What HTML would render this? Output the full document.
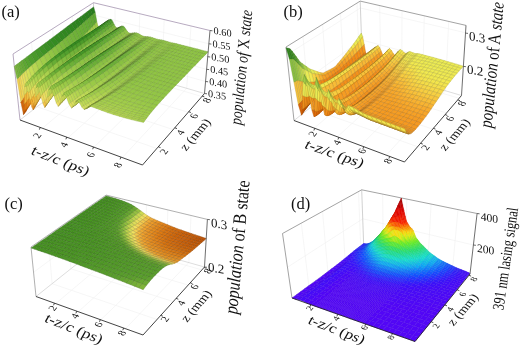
<!DOCTYPE html><html><head><meta charset="utf-8"><title>figure</title><style>html,body{margin:0;padding:0;background:#fff}svg{display:block}g.s path{fill:currentColor;stroke:currentColor;stroke:color-mix(in srgb,currentColor 80%,#000);stroke-width:4;stroke-linejoin:round}g.sd path{stroke:color-mix(in srgb,currentColor 93%,#000)}g.sc path{stroke:color-mix(in srgb,currentColor 72%,#000)}g.sb path{stroke:color-mix(in srgb,currentColor 76%,#000)}text{font-family:"Liberation Serif",serif;fill:#111}</style></head><body><svg width="520" height="345" viewBox="0 0 520 345"><rect width="520" height="345" fill="#fff"/><path d="M42.4 128.2L115.3 67.5" stroke="#f0f0f0" stroke-width="0.6" fill="none"/><path d="M115.3 67.5L115 7.8" stroke="#f0f0f0" stroke-width="0.6" fill="none"/><path d="M68.2 137.7L138.5 74.3" stroke="#f0f0f0" stroke-width="0.6" fill="none"/><path d="M138.5 74.3L139.7 13.7" stroke="#f0f0f0" stroke-width="0.6" fill="none"/><path d="M94 147.2L161.6 81" stroke="#f0f0f0" stroke-width="0.6" fill="none"/><path d="M161.6 81L164.2 19.6" stroke="#f0f0f0" stroke-width="0.6" fill="none"/><path d="M122.3 157.6L186.7 88.3" stroke="#f0f0f0" stroke-width="0.6" fill="none"/><path d="M186.7 88.3L191 26" stroke="#f0f0f0" stroke-width="0.6" fill="none"/><path d="M37 106.7L156.8 148.5" stroke="#f0f0f0" stroke-width="0.6" fill="none"/><path d="M37 106.7L31.5 42.2" stroke="#f0f0f0" stroke-width="0.6" fill="none"/><path d="M56.8 91.4L173.2 129.6" stroke="#f0f0f0" stroke-width="0.6" fill="none"/><path d="M56.8 91.4L52.7 28.7" stroke="#f0f0f0" stroke-width="0.6" fill="none"/><path d="M74.9 77.2L188.2 112.3" stroke="#f0f0f0" stroke-width="0.6" fill="none"/><path d="M74.9 77.2L72.2 16.3" stroke="#f0f0f0" stroke-width="0.6" fill="none"/><path d="M91.7 64.1L201.9 96.5" stroke="#f0f0f0" stroke-width="0.6" fill="none"/><path d="M91.7 64.1L90.1 4.9" stroke="#f0f0f0" stroke-width="0.6" fill="none"/><path d="M18.7 107.5L94.7 50.4" stroke="#f0f0f0" stroke-width="0.6" fill="none"/><path d="M94.7 50.4L205.6 81.5" stroke="#f0f0f0" stroke-width="0.6" fill="none"/><path d="M17.3 94.7L94.4 38.9" stroke="#f0f0f0" stroke-width="0.6" fill="none"/><path d="M94.4 38.9L206.6 69.3" stroke="#f0f0f0" stroke-width="0.6" fill="none"/><path d="M15.9 81.5L94.1 27.1" stroke="#f0f0f0" stroke-width="0.6" fill="none"/><path d="M94.1 27.1L207.7 56.7" stroke="#f0f0f0" stroke-width="0.6" fill="none"/><path d="M14.5 67.9L93.8 15" stroke="#f0f0f0" stroke-width="0.6" fill="none"/><path d="M93.8 15L208.9 43.8" stroke="#f0f0f0" stroke-width="0.6" fill="none"/><path d="M20 120L94.9 61.6" stroke="#cfcfcf" stroke-width="0.7" fill="none"/><path d="M94.9 61.6L204.5 93.5" stroke="#cfcfcf" stroke-width="0.7" fill="none"/><path d="M94.9 61.6L93.5 2.7" stroke="#bdbdbd" stroke-width="0.7" fill="none"/><path d="M13 54L93.5 2.7" stroke="#a494b0" stroke-width="0.8" fill="none"/><path d="M93.5 2.7L210 30.5" stroke="#a494b0" stroke-width="0.8" fill="none"/><path d="M20 120L13 54" stroke="#a494b0" stroke-width="0.8" fill="none"/><g class="s sa" transform="scale(.1)"><path d="M905 92l20 56l27-24l-16-55z" color="#287d1d"/><path d="M925 148l21 98l23-25l-17-97z" color="#5fa833"/><path d="M946 246l19 54l19-25l-15-54z" color="#a1cd4a"/><path d="M965 300l23-6l21-24l-25 5z" color="#97b944"/><path d="M988 294l23-23l23-23l-25 22z" color="#617d2d"/><path d="M1011 271l22-29l26-21l-25 27z" color="#59822b"/><path d="M1033 242l23-23l28-20l-25 22z" color="#3b6e20"/><path d="M1056 219l24-7l30-19l-26 6z" color="#36771f"/><path d="M1080 212l11 11l30-20l-11-10z" color="#409326"/><path d="M1091 223l11 22l30-21l-11-21z" color="#4e9d2c"/><path d="M1102 245l11 25l30-22l-11-24z" color="#63aa34"/><path d="M1113 270l12 22l29-24l-11-20z" color="#7ab83c"/><path d="M1125 292l11 11l29-25l-11-10z" color="#89c041"/><path d="M1136 303l16-2l30-24l-17 1z" color="#7bad3b"/><path d="M1152 301l16-11l30-20l-16 7z" color="#57812b"/><path d="M1168 290l17-10l29-18l-16 8z" color="#477224"/><path d="M1185 280l16-2l30-17l-17 1z" color="#528e2b"/><path d="M1201 278l16 13l29-18l-15-12z" color="#64ab34"/><path d="M1217 291l15 24l29-19l-15-23z" color="#77b63b"/><path d="M1232 315l16 25l29-22l-16-22z" color="#90c444"/><path d="M1248 340l15 13l29-22l-15-13z" color="#98c847"/><path d="M1263 353l19 0l28-21l-18-1z" color="#90bc43"/><path d="M1282 353l18-4l29-19l-19 2z" color="#7ea73b"/><path d="M1300 349l18-4l29-17l-18 2z" color="#76a037"/><path d="M1318 345l19 1l28-17l-18-1z" color="#7aab3a"/><path d="M1337 346l17 8l29-18l-18-7z" color="#89c041"/><path d="M1354 354l18 11l29-19l-18-10z" color="#8fc344"/><path d="M1372 365l18 12l28-21l-17-10z" color="#93c645"/><path d="M1390 377l18 8l28-22l-18-7z" color="#96c746"/><path d="M1408 385l22 2l28-21l-22-3z" color="#8fbe43"/><path d="M1430 387l23-1l28-19l-23-1z" color="#85b23e"/><path d="M1453 386l22 2l28-18l-22-3z" color="#85b63f"/><path d="M1475 388l24 9l28-20l-24-7z" color="#8ec243"/><path d="M1499 397l24 12l28-23l-24-9z" color="#91c544"/><path d="M1523 409l24 9l27-25l-23-7z" color="#93c645"/><path d="M1547 418l21 3l28-24l-22-4z" color="#91c344"/><path d="M1568 421l21 2l28-23l-21-3z" color="#8cbd42"/><path d="M1589 423l22 3l27-22l-21-4z" color="#8bbe42"/><path d="M1611 426l21 7l28-22l-22-7z" color="#8fc444"/><path d="M1632 433l22 8l27-24l-21-6z" color="#91c444"/><path d="M1654 441l22 7l27-24l-22-7z" color="#92c545"/><path d="M1676 448l22 5l27-24l-22-5z" color="#91c444"/><path d="M1698 453l22 4l27-24l-22-4z" color="#8ec143"/><path d="M1720 457l22 4l27-23l-22-5z" color="#8ec143"/><path d="M1742 461l35 9l26-23l-34-9z" color="#8fc343"/><path d="M1777 470l34 10l26-24l-34-9z" color="#8fc344"/><path d="M1811 480l35 9l26-25l-35-8z" color="#8fc344"/><path d="M1846 489l34 9l26-25l-34-9z" color="#8fc444"/><path d="M1880 498l35 9l26-25l-35-9z" color="#8fc444"/><path d="M1915 507l35 9l26-25l-35-9z" color="#8fc444"/><path d="M1950 516l36 9l25-25l-35-9z" color="#8fc444"/><path d="M1986 525l35 9l25-25l-35-9z" color="#8fc444"/><path d="M2021 534l36 10l25-26l-36-9z" color="#8fc444"/><path d="M874 116l24 56l27-24l-20-56z" color="#297e1d"/><path d="M898 172l24 98l24-24l-21-98z" color="#61a933"/><path d="M922 270l24 55l19-25l-19-54z" color="#a2cd4a"/><path d="M946 325l20-7l22-24l-23 6z" color="#94b643"/><path d="M966 318l21-24l24-23l-23 23z" color="#5d782b"/><path d="M987 294l20-31l26-21l-22 29z" color="#608c2f"/><path d="M1007 263l21-24l28-20l-23 23z" color="#407823"/><path d="M1028 239l21-8l31-19l-24 7z" color="#32721e"/><path d="M1049 231l11 12l31-20l-11-11z" color="#3e9225"/><path d="M1060 243l12 23l30-21l-11-22z" color="#4d9c2b"/><path d="M1072 266l11 27l30-23l-11-25z" color="#64ab34"/><path d="M1083 293l12 23l30-24l-12-22z" color="#7db93d"/><path d="M1095 316l11 12l30-25l-11-11z" color="#8cc243"/><path d="M1106 328l16-4l30-23l-16 2z" color="#7ba93a"/><path d="M1122 324l16-12l30-22l-16 11z" color="#4c6f25"/><path d="M1138 312l17-13l30-19l-17 10z" color="#416921"/><path d="M1155 299l16-4l30-17l-16 2z" color="#4b8728"/><path d="M1171 295l16 14l30-18l-16-13z" color="#60a833"/><path d="M1187 309l16 26l29-20l-15-24z" color="#73b43a"/><path d="M1203 335l15 26l30-21l-16-25z" color="#8ec343"/><path d="M1218 361l16 14l29-22l-15-13z" color="#98c847"/><path d="M1234 375l18 0l30-22l-19 0z" color="#8db841"/><path d="M1252 375l19-6l29-20l-18 4z" color="#769d37"/><path d="M1271 369l18-7l29-17l-18 4z" color="#6b9433"/><path d="M1289 362l18 0l30-16l-19-1z" color="#71a337"/><path d="M1307 362l18 9l29-17l-17-8z" color="#81bc3f"/><path d="M1325 371l18 14l29-20l-18-11z" color="#8ac142"/><path d="M1343 385l18 14l29-22l-18-12z" color="#92c545"/><path d="M1361 399l18 9l29-23l-18-8z" color="#96c746"/><path d="M1379 408l22 1l29-22l-22-2z" color="#8dbb42"/><path d="M1401 409l23-3l29-20l-23 1z" color="#7fab3c"/><path d="M1424 406l23 1l28-19l-22-2z" color="#7fb03c"/><path d="M1447 407l24 10l28-20l-24-9z" color="#8ac142"/><path d="M1471 417l23 15l29-23l-24-12z" color="#91c444"/><path d="M1494 432l24 10l29-24l-24-9z" color="#94c645"/><path d="M1518 442l22 3l28-24l-21-3z" color="#90c144"/><path d="M1540 445l21 0l28-22l-21-2z" color="#89b940"/><path d="M1561 445l22 3l28-22l-22-3z" color="#89bb41"/><path d="M1583 448l22 8l27-23l-21-7z" color="#8ec343"/><path d="M1605 456l21 9l28-24l-22-8z" color="#90c444"/><path d="M1626 465l22 8l28-25l-22-7z" color="#92c545"/><path d="M1648 473l23 5l27-25l-22-5z" color="#91c344"/><path d="M1671 478l22 3l27-24l-22-4z" color="#8dc043"/><path d="M1693 481l22 4l27-24l-22-4z" color="#8dc043"/><path d="M1715 485l35 9l27-24l-35-9z" color="#8ec343"/><path d="M1750 494l34 10l27-24l-34-10z" color="#8fc344"/><path d="M1784 504l35 9l27-24l-35-9z" color="#8fc344"/><path d="M1819 513l35 10l26-25l-34-9z" color="#8fc444"/><path d="M1854 523l35 9l26-25l-35-9z" color="#8fc444"/><path d="M1889 532l36 9l25-25l-35-9z" color="#8fc444"/><path d="M1925 541l35 9l26-25l-36-9z" color="#8fc444"/><path d="M1960 550l36 10l25-26l-35-9z" color="#8fc444"/><path d="M1996 560l36 9l25-25l-36-10z" color="#8fc444"/><path d="M842 139l28 57l28-24l-24-56z" color="#2a7f1d"/><path d="M870 196l29 99l23-25l-24-98z" color="#63aa34"/><path d="M899 295l27 56l20-26l-24-55z" color="#a2cd4a"/><path d="M926 351l19-8l21-25l-20 7z" color="#91b241"/><path d="M945 343l18-26l24-23l-21 24z" color="#6a8931"/><path d="M963 317l18-32l26-22l-20 31z" color="#679732"/><path d="M981 285l18-26l29-20l-21 24z" color="#448126"/><path d="M999 259l19-8l31-20l-21 8z" color="#2e6c1c"/><path d="M1018 251l11 12l31-20l-11-12z" color="#3d9125"/><path d="M1029 263l12 24l31-21l-12-23z" color="#4c9c2b"/><path d="M1041 287l11 29l31-23l-11-27z" color="#65ab35"/><path d="M1052 316l12 25l31-25l-12-23z" color="#7fbb3e"/><path d="M1064 341l11 12l31-25l-11-12z" color="#90c444"/><path d="M1075 353l16-5l31-24l-16 4z" color="#7aa639"/><path d="M1091 348l17-15l30-21l-16 12z" color="#537928"/><path d="M1108 333l16-15l31-19l-17 13z" color="#4a7926"/><path d="M1124 318l17-5l30-18l-16 4z" color="#458026"/><path d="M1141 313l15 15l31-19l-16-14z" color="#5ba631"/><path d="M1156 328l16 28l31-21l-16-26z" color="#70b239"/><path d="M1172 356l16 27l30-22l-15-26z" color="#8dc243"/><path d="M1188 383l16 15l30-23l-16-14z" color="#98c847"/><path d="M1204 398l18-1l30-22l-18 0z" color="#8ab540"/><path d="M1222 397l19-8l30-20l-19 6z" color="#6d9233"/><path d="M1241 389l18-9l30-18l-18 7z" color="#60872e"/><path d="M1259 380l19-1l29-17l-18 0z" color="#689c33"/><path d="M1278 379l18 10l29-18l-18-9z" color="#7ab83c"/><path d="M1296 389l18 16l29-20l-18-14z" color="#85be40"/><path d="M1314 405l17 17l30-23l-18-14z" color="#91c544"/><path d="M1331 422l18 10l30-24l-18-9z" color="#96c746"/><path d="M1349 432l23 0l29-23l-22-1z" color="#8ab740"/><path d="M1372 432l23-6l29-20l-23 3z" color="#78a339"/><path d="M1395 426l23 0l29-19l-23-1z" color="#78aa3a"/><path d="M1418 426l24 12l29-21l-24-10z" color="#86be40"/><path d="M1442 438l24 17l28-23l-23-15z" color="#90c444"/><path d="M1466 455l24 12l28-25l-24-10z" color="#94c645"/><path d="M1490 467l21 3l29-25l-22-3z" color="#8fbf43"/><path d="M1511 470l22-2l28-23l-21 0z" color="#86b53f"/><path d="M1533 468l21 3l29-23l-22-3z" color="#86b840"/><path d="M1554 471l22 8l29-23l-22-8z" color="#8cc243"/><path d="M1576 479l22 11l28-25l-21-9z" color="#90c444"/><path d="M1598 490l22 9l28-26l-22-8z" color="#93c545"/><path d="M1620 499l23 4l28-25l-23-5z" color="#91c344"/><path d="M1643 503l22 2l28-24l-22-3z" color="#8cbe42"/><path d="M1665 505l23 4l27-24l-22-4z" color="#8cbf42"/><path d="M1688 509l34 10l28-25l-35-9z" color="#8ec243"/><path d="M1722 519l35 10l27-25l-34-10z" color="#8ec343"/><path d="M1757 529l35 10l27-26l-35-9z" color="#8fc344"/><path d="M1792 539l35 9l27-25l-35-10z" color="#8fc444"/><path d="M1827 548l36 9l26-25l-35-9z" color="#8fc444"/><path d="M1863 557l36 10l26-26l-36-9z" color="#8fc444"/><path d="M1899 567l35 9l26-26l-35-9z" color="#8fc444"/><path d="M1934 576l37 10l25-26l-36-10z" color="#8fc444"/><path d="M1971 586l36 9l25-26l-36-9z" color="#8fc444"/><path d="M810 164l32 57l28-25l-28-57z" color="#2b801e"/><path d="M842 221l32 99l25-25l-29-99z" color="#65ac35"/><path d="M874 320l32 57l20-26l-27-56z" color="#a3ce4a"/><path d="M906 377l16-9l23-25l-19 8z" color="#8cab3f"/><path d="M922 368l16-27l25-24l-18 26z" color="#769836"/><path d="M938 341l16-34l27-22l-18 32z" color="#6fa336"/><path d="M954 307l16-27l29-21l-18 26z" color="#498b28"/><path d="M970 280l16-9l32-20l-19 8z" color="#2a6319"/><path d="M986 271l12 12l31-20l-11-12z" color="#3b9024"/><path d="M998 283l11 26l32-22l-12-24z" color="#4c9b2b"/><path d="M1009 309l12 31l31-24l-11-29z" color="#65ac35"/><path d="M1021 340l12 26l31-25l-12-25z" color="#82bc3f"/><path d="M1033 366l11 12l31-25l-11-12z" color="#92c545"/><path d="M1044 378l16-5l31-25l-16 5z" color="#77a138"/><path d="M1060 373l17-18l31-22l-17 15z" color="#5e872d"/><path d="M1077 355l16-18l31-19l-16 15z" color="#4f8329"/><path d="M1093 337l17-6l31-18l-17 5z" color="#407923"/><path d="M1110 331l15 16l31-19l-15-15z" color="#57a330"/><path d="M1125 347l16 29l31-20l-16-28z" color="#6db038"/><path d="M1141 376l16 30l31-23l-16-27z" color="#8bc142"/><path d="M1157 406l16 16l31-24l-16-15z" color="#98c847"/><path d="M1173 422l19-3l30-22l-18 1z" color="#87b13f"/><path d="M1192 419l18-10l31-20l-19 8z" color="#64862f"/><path d="M1210 409l19-11l30-18l-18 9z" color="#547a29"/><path d="M1229 398l18-2l31-17l-19 1z" color="#609530"/><path d="M1247 396l18 11l31-18l-18-10z" color="#73b43a"/><path d="M1265 407l18 19l31-21l-18-16z" color="#80bb3e"/><path d="M1283 426l18 18l30-22l-17-17z" color="#90c444"/><path d="M1301 444l19 12l29-24l-18-10z" color="#96c746"/><path d="M1320 456l22-2l30-22l-23 0z" color="#87b43f"/><path d="M1342 454l23-7l30-21l-23 6z" color="#729b36"/><path d="M1365 447l23-2l30-19l-23 0z" color="#72a537"/><path d="M1388 445l24 14l30-21l-24-12z" color="#82bc3f"/><path d="M1412 459l24 20l30-24l-24-17z" color="#8ec343"/><path d="M1436 479l24 14l30-26l-24-12z" color="#95c646"/><path d="M1460 493l22 1l29-24l-21-3z" color="#8fbe43"/><path d="M1482 494l22-2l29-24l-22 2z" color="#83b13e"/><path d="M1504 492l21 1l29-22l-21-3z" color="#83b63e"/><path d="M1525 493l22 10l29-24l-22-8z" color="#8bc142"/><path d="M1547 503l22 12l29-25l-22-11z" color="#90c444"/><path d="M1569 515l23 9l28-25l-22-9z" color="#93c645"/><path d="M1592 524l22 4l29-25l-23-4z" color="#91c244"/><path d="M1614 528l23 2l28-25l-22-2z" color="#8bbd42"/><path d="M1637 530l22 4l29-25l-23-4z" color="#8bbe42"/><path d="M1659 534l35 9l28-24l-34-10z" color="#8dc243"/><path d="M1694 543l35 11l28-25l-35-10z" color="#8ec343"/><path d="M1729 554l36 10l27-25l-35-10z" color="#8fc344"/><path d="M1765 564l35 10l27-26l-35-9z" color="#8fc444"/><path d="M1800 574l36 9l27-26l-36-9z" color="#8fc444"/><path d="M1836 583l36 10l27-26l-36-10z" color="#8fc444"/><path d="M1872 593l36 9l26-26l-35-9z" color="#8fc444"/><path d="M1908 602l37 10l26-26l-37-10z" color="#8fc444"/><path d="M1945 612l36 10l26-27l-36-9z" color="#8fc444"/><path d="M777 188l36 58l29-25l-32-57z" color="#2c811e"/><path d="M813 246l36 100l25-26l-32-99z" color="#68ad36"/><path d="M849 346l36 58l21-27l-32-57z" color="#a4ce4b"/><path d="M885 404l14-10l23-26l-16 9z" color="#86a33c"/><path d="M899 394l13-28l26-25l-16 27z" color="#82a73c"/><path d="M912 366l14-36l28-23l-16 34z" color="#77b03a"/><path d="M926 330l14-29l30-21l-16 27z" color="#4e962b"/><path d="M940 301l14-10l32-20l-16 9z" color="#245716"/><path d="M954 291l12 13l32-21l-12-12z" color="#3a8e23"/><path d="M966 304l11 28l32-23l-11-26z" color="#4b9b2b"/><path d="M977 332l12 32l32-24l-12-31z" color="#66ac35"/><path d="M989 364l12 27l32-25l-12-26z" color="#85be40"/><path d="M1001 391l11 13l32-26l-11-12z" color="#94c645"/><path d="M1012 404l17-6l31-25l-16 5z" color="#749c37"/><path d="M1029 398l16-21l32-22l-17 18z" color="#669331"/><path d="M1045 377l16-20l32-20l-16 18z" color="#538c2b"/><path d="M1061 357l17-7l32-19l-17 6z" color="#3b7221"/><path d="M1078 350l16 16l31-19l-15-16z" color="#54a12e"/><path d="M1094 366l16 32l31-22l-16-29z" color="#6baf37"/><path d="M1110 398l16 31l31-23l-16-30z" color="#8ac142"/><path d="M1126 429l16 16l31-23l-16-16z" color="#98c847"/><path d="M1142 445l19-3l31-23l-19 3z" color="#84ad3d"/><path d="M1161 442l18-13l31-20l-18 10z" color="#5a792a"/><path d="M1179 429l19-12l31-19l-19 11z" color="#486923"/><path d="M1198 417l18-3l31-18l-18 2z" color="#598f2d"/><path d="M1216 414l19 12l30-19l-18-11z" color="#6eb038"/><path d="M1235 426l18 21l30-21l-18-19z" color="#7cb93d"/><path d="M1253 447l18 21l30-24l-18-18z" color="#8ec343"/><path d="M1271 468l18 12l31-24l-19-12z" color="#95c746"/><path d="M1289 480l23-3l30-23l-22 2z" color="#84b03e"/><path d="M1312 477l23-9l30-21l-23 7z" color="#6b9333"/><path d="M1335 468l23-3l30-20l-23 2z" color="#6c9f35"/><path d="M1358 465l24 15l30-21l-24-14z" color="#7db93d"/><path d="M1382 480l24 23l30-24l-24-20z" color="#8dc243"/><path d="M1406 503l25 16l29-26l-24-14z" color="#95c746"/><path d="M1431 519l21 0l30-25l-22-1z" color="#8ebc42"/><path d="M1452 519l22-3l30-24l-22 2z" color="#80ad3c"/><path d="M1474 516l22 1l29-24l-21-1z" color="#80b33d"/><path d="M1496 517l22 10l29-24l-22-10z" color="#89c042"/><path d="M1518 527l22 13l29-25l-22-12z" color="#90c444"/><path d="M1540 540l22 10l30-26l-23-9z" color="#94c645"/><path d="M1562 550l23 4l29-26l-22-4z" color="#91c244"/><path d="M1585 554l23 1l29-25l-23-2z" color="#8abb41"/><path d="M1608 555l22 4l29-25l-22-4z" color="#8abd41"/><path d="M1630 559l36 10l28-26l-35-9z" color="#8dc243"/><path d="M1666 569l35 10l28-25l-35-11z" color="#8ec343"/><path d="M1701 579l36 11l28-26l-36-10z" color="#8fc344"/><path d="M1737 590l35 10l28-26l-35-10z" color="#8fc444"/><path d="M1772 600l37 9l27-26l-36-9z" color="#8fc444"/><path d="M1809 609l36 10l27-26l-36-10z" color="#8fc444"/><path d="M1845 619l36 10l27-27l-36-9z" color="#8fc444"/><path d="M1881 629l37 10l27-27l-37-10z" color="#8fc444"/><path d="M1918 639l37 10l26-27l-36-10z" color="#8fc444"/><path d="M744 213l39 59l30-26l-36-58z" color="#2d821f"/><path d="M783 272l41 101l25-27l-36-100z" color="#6aae36"/><path d="M824 373l39 58l22-27l-36-58z" color="#a5cf4b"/><path d="M863 431l11-11l25-26l-14 10z" color="#7c9738"/><path d="M874 420l12-30l26-24l-13 28z" color="#90b842"/><path d="M886 390l11-37l29-23l-14 36z" color="#7eb93d"/><path d="M897 353l12-30l31-22l-14 29z" color="#53a12e"/><path d="M909 323l12-11l33-21l-14 10z" color="#265d17"/><path d="M921 312l12 13l33-21l-12-13z" color="#388e23"/><path d="M933 325l12 29l32-22l-11-28z" color="#4b9a2a"/><path d="M945 354l12 34l32-24l-12-32z" color="#67ad35"/><path d="M957 388l12 29l32-26l-12-27z" color="#87bf41"/><path d="M969 417l11 13l32-26l-11-13z" color="#96c746"/><path d="M980 430l16-7l33-25l-17 6z" color="#719735"/><path d="M996 423l17-23l32-23l-16 21z" color="#6d9c35"/><path d="M1013 400l16-23l32-20l-16 20z" color="#57922d"/><path d="M1029 377l17-8l32-19l-17 7z" color="#366c1e"/><path d="M1046 369l16 17l32-20l-16-16z" color="#519f2d"/><path d="M1062 386l16 33l32-21l-16-32z" color="#68ad36"/><path d="M1078 419l16 33l32-23l-16-31z" color="#89c041"/><path d="M1094 452l16 17l32-24l-16-16z" color="#98c847"/><path d="M1110 469l19-4l32-23l-19 3z" color="#81a93c"/><path d="M1129 465l18-14l32-22l-18 13z" color="#567529"/><path d="M1147 451l19-15l32-19l-19 12z" color="#4e7526"/><path d="M1166 436l19-4l31-18l-18 3z" color="#538a2b"/><path d="M1185 432l18 13l32-19l-19-12z" color="#68ad36"/><path d="M1203 445l18 23l32-21l-18-21z" color="#78b63b"/><path d="M1221 468l19 23l31-23l-18-21z" color="#8dc243"/><path d="M1240 491l18 13l31-24l-18-12z" color="#95c746"/><path d="M1258 504l23-3l31-24l-23 3z" color="#82ad3d"/><path d="M1281 501l23-12l31-21l-23 9z" color="#648a2f"/><path d="M1304 489l23-4l31-20l-23 3z" color="#669a32"/><path d="M1327 485l24 17l31-22l-24-15z" color="#79b73c"/><path d="M1351 502l25 26l30-25l-24-23z" color="#8cc242"/><path d="M1376 528l24 17l31-26l-25-16z" color="#96c746"/><path d="M1400 545l22 0l30-26l-21 0z" color="#8dba42"/><path d="M1422 545l22-5l30-24l-22 3z" color="#7da93b"/><path d="M1444 540l22 0l30-23l-22-1z" color="#7eb13c"/><path d="M1466 540l22 11l30-24l-22-10z" color="#88bf41"/><path d="M1488 551l22 15l30-26l-22-13z" color="#90c444"/><path d="M1510 566l22 11l30-27l-22-10z" color="#94c645"/><path d="M1532 577l23 3l30-26l-23-4z" color="#90c144"/><path d="M1555 580l23 1l30-26l-23-1z" color="#89b941"/><path d="M1578 581l23 3l29-25l-22-4z" color="#89bd41"/><path d="M1601 584l35 10l30-25l-36-10z" color="#8cc243"/><path d="M1636 594l36 11l29-26l-35-10z" color="#8dc343"/><path d="M1672 605l36 11l29-26l-36-11z" color="#8fc344"/><path d="M1708 616l36 10l28-26l-35-10z" color="#8fc444"/><path d="M1744 626l37 10l28-27l-37-9z" color="#8fc444"/><path d="M1781 636l36 10l28-27l-36-10z" color="#8fc444"/><path d="M1817 646l37 10l27-27l-36-10z" color="#8fc444"/><path d="M1854 656l37 10l27-27l-37-10z" color="#8fc444"/><path d="M1891 666l37 10l27-27l-37-10z" color="#8fc444"/><path d="M710 238l43 60l30-26l-39-59z" color="#2e831f"/><path d="M753 298l44 101l27-26l-41-101z" color="#6cb037"/><path d="M797 399l42 60l24-28l-39-58z" color="#a6cf4b"/><path d="M839 459l10-12l25-27l-11 11z" color="#6d8431"/><path d="M849 447l10-31l27-26l-12 30z" color="#9fcc49"/><path d="M859 416l9-39l29-24l-11 37z" color="#7eba3d"/><path d="M868 377l9-32l32-22l-12 30z" color="#53a02e"/><path d="M877 345l11-12l33-21l-12 11z" color="#2b6b1b"/><path d="M888 333l11 14l34-22l-12-13z" color="#378d22"/><path d="M899 347l12 30l34-23l-12-29z" color="#4a9a2a"/><path d="M911 377l13 36l33-25l-12-34z" color="#68ad36"/><path d="M924 413l12 29l33-25l-12-29z" color="#8ac042"/><path d="M936 442l11 15l33-27l-11-13z" color="#97c846"/><path d="M947 457l17-9l32-25l-16 7z" color="#6e9133"/><path d="M964 448l16-25l33-23l-17 23z" color="#74a438"/><path d="M980 423l16-25l33-21l-16 23z" color="#59982f"/><path d="M996 398l17-9l33-20l-17 8z" color="#32651c"/><path d="M1013 389l16 18l33-21l-16-17z" color="#4e9d2c"/><path d="M1029 407l16 34l33-22l-16-33z" color="#66ac35"/><path d="M1045 441l17 35l32-24l-16-33z" color="#88bf41"/><path d="M1062 476l16 18l32-25l-16-17z" color="#98c847"/><path d="M1078 494l19-5l32-24l-19 4z" color="#7ea63b"/><path d="M1097 489l18-17l32-21l-18 14z" color="#5f812d"/><path d="M1115 472l19-16l32-20l-19 15z" color="#517d28"/><path d="M1134 456l19-5l32-19l-19 4z" color="#4d8529"/><path d="M1153 451l18 14l32-20l-18-13z" color="#63aa34"/><path d="M1171 465l18 25l32-22l-18-23z" color="#74b43a"/><path d="M1189 490l19 25l32-24l-19-23z" color="#8bc142"/><path d="M1208 515l18 14l32-25l-18-13z" color="#95c746"/><path d="M1226 529l23-4l32-24l-23 3z" color="#7faa3c"/><path d="M1249 525l23-14l32-22l-23 12z" color="#5d822c"/><path d="M1272 511l23-4l32-22l-23 4z" color="#619630"/><path d="M1295 507l25 18l31-23l-24-17z" color="#76b53b"/><path d="M1320 525l24 28l32-25l-25-26z" color="#8bc142"/><path d="M1344 553l25 18l31-26l-24-17z" color="#96c746"/><path d="M1369 571l22 0l31-26l-22 0z" color="#8cb941"/><path d="M1391 571l22-6l31-25l-22 5z" color="#7aa539"/><path d="M1413 565l22-1l31-24l-22 0z" color="#7cae3b"/><path d="M1435 564l22 12l31-25l-22-11z" color="#87bf41"/><path d="M1457 576l22 16l31-26l-22-15z" color="#90c444"/><path d="M1479 592l23 11l30-26l-22-11z" color="#95c646"/><path d="M1502 603l22 3l31-26l-23-3z" color="#90c044"/><path d="M1524 606l23 1l31-26l-23-1z" color="#88b840"/><path d="M1547 607l23 3l31-26l-23-3z" color="#89bc41"/><path d="M1570 610l36 10l30-26l-35-10z" color="#8cc243"/><path d="M1606 620l36 12l30-27l-36-11z" color="#8dc243"/><path d="M1642 632l37 11l29-27l-36-11z" color="#8fc344"/><path d="M1679 643l36 10l29-27l-36-10z" color="#90c444"/><path d="M1715 653l37 10l29-27l-37-10z" color="#90c444"/><path d="M1752 663l37 10l28-27l-36-10z" color="#90c444"/><path d="M1789 673l37 11l28-28l-37-10z" color="#8fc444"/><path d="M1826 684l38 10l27-28l-37-10z" color="#8fc444"/><path d="M1864 694l37 10l27-28l-37-10z" color="#8fc444"/><path d="M676 263l46 61l31-26l-43-60z" color="#2f851f"/><path d="M722 324l47 103l28-28l-44-101z" color="#6fb138"/><path d="M769 427l46 60l24-28l-42-60z" color="#a8d04c"/><path d="M815 487l8-13l26-27l-10 12z" color="#758c34"/><path d="M823 474l7-33l29-25l-10 31z" color="#a0cc49"/><path d="M830 441l8-40l30-24l-9 39z" color="#7eba3e"/><path d="M838 401l7-33l32-23l-9 32z" color="#52a02e"/><path d="M845 368l8-13l35-22l-11 12z" color="#307a1e"/><path d="M853 355l12 15l34-23l-11-14z" color="#368c22"/><path d="M865 370l12 31l34-24l-12-30z" color="#4a9a2a"/><path d="M877 401l13 36l34-24l-13-36z" color="#69ae36"/><path d="M890 437l12 31l34-26l-12-29z" color="#8cc243"/><path d="M902 468l12 15l33-26l-11-15z" color="#99c947"/><path d="M914 483l16-9l34-26l-17 9z" color="#6b8c32"/><path d="M930 474l16-27l34-24l-16 25z" color="#7aac3a"/><path d="M946 447l16-27l34-22l-16 25z" color="#5c9d30"/><path d="M962 420l17-10l34-21l-17 9z" color="#2e5f1a"/><path d="M979 410l16 18l34-21l-16-18z" color="#4b9b2b"/><path d="M995 428l17 36l33-23l-16-34z" color="#64ab34"/><path d="M1012 464l17 36l33-24l-17-35z" color="#87bf41"/><path d="M1029 500l16 18l33-24l-16-18z" color="#98c847"/><path d="M1045 518l18-5l34-24l-19 5z" color="#7ca33a"/><path d="M1063 513l19-18l33-23l-18 17z" color="#64892f"/><path d="M1082 495l19-19l33-20l-19 16z" color="#54822a"/><path d="M1101 476l19-5l33-20l-19 5z" color="#498027"/><path d="M1120 471l18 15l33-21l-18-14z" color="#5ea832"/><path d="M1138 486l19 27l32-23l-18-25z" color="#71b239"/><path d="M1157 513l18 27l33-25l-19-25z" color="#8ac042"/><path d="M1175 540l19 15l32-26l-18-14z" color="#95c746"/><path d="M1194 555l23-6l32-24l-23 4z" color="#7da73a"/><path d="M1217 549l23-15l32-23l-23 14z" color="#567929"/><path d="M1240 534l23-6l32-21l-23 4z" color="#5d922f"/><path d="M1263 528l25 20l32-23l-25-18z" color="#73b33a"/><path d="M1288 548l24 30l32-25l-24-28z" color="#8ac042"/><path d="M1312 578l25 20l32-27l-25-18z" color="#97c746"/><path d="M1337 598l22-1l32-26l-22 0z" color="#8bb741"/><path d="M1359 597l22-7l32-25l-22 6z" color="#77a138"/><path d="M1381 590l22-1l32-25l-22 1z" color="#7aac3a"/><path d="M1403 589l22 12l32-25l-22-12z" color="#86be40"/><path d="M1425 601l23 17l31-26l-22-16z" color="#90c444"/><path d="M1448 618l22 13l32-28l-23-11z" color="#95c746"/><path d="M1470 631l23 2l31-27l-22-3z" color="#90c043"/><path d="M1493 633l23 0l31-26l-23-1z" color="#88b640"/><path d="M1516 633l23 3l31-26l-23-3z" color="#88bb41"/><path d="M1539 636l36 11l31-27l-36-10z" color="#8cc142"/><path d="M1575 647l37 11l30-26l-36-12z" color="#8dc243"/><path d="M1612 658l37 12l30-27l-37-11z" color="#8fc344"/><path d="M1649 670l37 11l29-28l-36-10z" color="#90c444"/><path d="M1686 681l37 10l29-28l-37-10z" color="#90c444"/><path d="M1723 691l37 10l29-28l-37-10z" color="#90c444"/><path d="M1760 701l38 11l28-28l-37-11z" color="#90c444"/><path d="M1798 712l38 10l28-28l-38-10z" color="#90c444"/><path d="M1836 722l38 11l27-29l-37-10z" color="#8fc444"/><path d="M642 289l48 62l32-27l-46-61z" color="#308620"/><path d="M690 351l51 103l28-27l-47-103z" color="#72b339"/><path d="M741 454l48 61l26-28l-46-60z" color="#a9d14c"/><path d="M789 515l6-13l28-28l-8 13z" color="#8eaa40"/><path d="M795 502l6-34l29-27l-7 33z" color="#a1cd4a"/><path d="M801 468l5-42l32-25l-8 40z" color="#7fbb3e"/><path d="M806 426l6-35l33-23l-7 33z" color="#52a02e"/><path d="M812 391l7-13l34-23l-8 13z" color="#368a22"/><path d="M819 378l11 15l35-23l-12-15z" color="#368c22"/><path d="M830 393l13 32l34-24l-12-31z" color="#4a9a2a"/><path d="M843 425l12 38l35-26l-13-36z" color="#6aaf37"/><path d="M855 463l13 32l34-27l-12-31z" color="#8fc344"/><path d="M868 495l12 15l34-27l-12-15z" color="#9bc948"/><path d="M880 510l16-10l34-26l-16 9z" color="#678730"/><path d="M896 500l16-29l34-24l-16 27z" color="#80b23d"/><path d="M912 471l16-29l34-22l-16 27z" color="#5ea131"/><path d="M928 442l16-11l35-21l-17 10z" color="#2a5818"/><path d="M944 431l17 19l34-22l-16-18z" color="#49992a"/><path d="M961 450l17 38l34-24l-17-36z" color="#62aa34"/><path d="M978 488l17 36l34-24l-17-36z" color="#87bf41"/><path d="M995 524l16 20l34-26l-16-18z" color="#98c847"/><path d="M1011 544l19-6l33-25l-18 5z" color="#7a9f38"/><path d="M1030 538l18-20l34-23l-19 18z" color="#698f32"/><path d="M1048 518l19-20l34-22l-19 19z" color="#55872b"/><path d="M1067 498l19-6l34-21l-19 5z" color="#447d25"/><path d="M1086 492l18 15l34-21l-18-15z" color="#5aa531"/><path d="M1104 507l19 29l34-23l-19-27z" color="#6eb138"/><path d="M1123 536l19 29l33-25l-18-27z" color="#89c041"/><path d="M1142 565l18 15l34-25l-19-15z" color="#96c746"/><path d="M1160 580l23-6l34-25l-23 6z" color="#7ba43a"/><path d="M1183 574l23-17l34-23l-23 15z" color="#4e6f26"/><path d="M1206 557l24-6l33-23l-23 6z" color="#598e2d"/><path d="M1230 551l24 21l34-24l-25-20z" color="#70b239"/><path d="M1254 572l25 32l33-26l-24-30z" color="#89c042"/><path d="M1279 604l25 21l33-27l-25-20z" color="#98c847"/><path d="M1304 625l22-1l33-27l-22 1z" color="#8ab640"/><path d="M1326 624l22-8l33-26l-22 7z" color="#759d37"/><path d="M1348 616l22-2l33-25l-22 1z" color="#78aa3a"/><path d="M1370 614l23 13l32-26l-22-12z" color="#85be40"/><path d="M1393 627l22 18l33-27l-23-17z" color="#91c444"/><path d="M1415 645l23 13l32-27l-22-13z" color="#96c746"/><path d="M1438 658l23 3l32-28l-23-2z" color="#90bf43"/><path d="M1461 661l23-1l32-27l-23 0z" color="#87b53f"/><path d="M1484 660l23 2l32-26l-23-3z" color="#88ba40"/><path d="M1507 662l37 11l31-26l-36-11z" color="#8bc142"/><path d="M1544 673l37 13l31-28l-37-11z" color="#8dc243"/><path d="M1581 686l37 12l31-28l-37-12z" color="#8fc444"/><path d="M1618 698l37 10l31-27l-37-11z" color="#90c444"/><path d="M1655 708l38 11l30-28l-37-10z" color="#90c444"/><path d="M1693 719l38 11l29-29l-37-10z" color="#90c444"/><path d="M1731 730l38 10l29-28l-38-11z" color="#90c444"/><path d="M1769 740l38 11l29-29l-38-10z" color="#90c444"/><path d="M1807 751l39 11l28-29l-38-11z" color="#90c444"/><path d="M607 316l51 62l32-27l-48-62z" color="#318720"/><path d="M658 378l52 105l31-29l-51-103z" color="#75b53a"/><path d="M710 483l51 62l28-30l-48-61z" color="#abd14d"/><path d="M761 545l5-14l29-29l-6 13z" color="#aaca4c"/><path d="M766 531l4-36l31-27l-6 34z" color="#a3cd4a"/><path d="M770 495l4-43l32-26l-5 42z" color="#81bb3f"/><path d="M774 452l4-37l34-24l-6 35z" color="#52a02e"/><path d="M778 415l5-14l36-23l-7 13z" color="#378d22"/><path d="M783 401l12 16l35-24l-11-15z" color="#368c22"/><path d="M795 417l12 33l36-25l-13-32z" color="#4b9b2a"/><path d="M807 450l13 39l35-26l-12-38z" color="#6caf37"/><path d="M820 489l13 33l35-27l-13-32z" color="#91c444"/><path d="M833 522l11 16l36-28l-12-15z" color="#9dca48"/><path d="M844 538l17-12l35-26l-16 10z" color="#64812e"/><path d="M861 526l16-30l35-25l-16 29z" color="#85b83f"/><path d="M877 496l15-31l36-23l-16 29z" color="#60a532"/><path d="M892 465l17-11l35-23l-16 11z" color="#2a5918"/><path d="M909 454l17 19l35-23l-17-19z" color="#479829"/><path d="M926 473l17 39l35-24l-17-38z" color="#61a933"/><path d="M943 512l17 38l35-26l-17-36z" color="#87bf41"/><path d="M960 550l16 20l35-26l-16-20z" color="#99c847"/><path d="M976 570l19-7l35-25l-19 6z" color="#789d38"/><path d="M995 563l18-21l35-24l-18 20z" color="#6c9533"/><path d="M1013 542l19-22l35-22l-19 20z" color="#578b2c"/><path d="M1032 520l19-6l35-22l-19 6z" color="#417923"/><path d="M1051 514l18 16l35-23l-18-15z" color="#57a330"/><path d="M1069 530l19 30l35-24l-19-29z" color="#6cb037"/><path d="M1088 560l19 30l35-25l-19-29z" color="#88c041"/><path d="M1107 590l19 17l34-27l-18-15z" color="#96c746"/><path d="M1126 607l23-7l34-26l-23 6z" color="#79a139"/><path d="M1149 600l23-19l34-24l-23 17z" color="#4f7126"/><path d="M1172 581l24-7l34-23l-24 6z" color="#568b2c"/><path d="M1196 574l24 22l34-24l-24-21z" color="#6eb138"/><path d="M1220 596l25 35l34-27l-25-32z" color="#89c041"/><path d="M1245 631l25 22l34-28l-25-21z" color="#98c847"/><path d="M1270 653l22-2l34-27l-22 1z" color="#8ab440"/><path d="M1292 651l22-9l34-26l-22 8z" color="#729936"/><path d="M1314 642l23-2l33-26l-22 2z" color="#76a939"/><path d="M1337 640l22 13l34-26l-23-13z" color="#84bd40"/><path d="M1359 653l23 20l33-28l-22-18z" color="#91c444"/><path d="M1382 673l22 13l34-28l-23-13z" color="#96c746"/><path d="M1404 686l23 2l34-27l-23-3z" color="#90bf43"/><path d="M1427 688l24-1l33-27l-23 1z" color="#86b43f"/><path d="M1451 687l23 2l33-27l-23-2z" color="#88ba40"/><path d="M1474 689l37 12l33-28l-37-11z" color="#8cc142"/><path d="M1511 701l37 12l33-27l-37-13z" color="#8dc343"/><path d="M1548 713l38 13l32-28l-37-12z" color="#8fc444"/><path d="M1586 726l38 11l31-29l-37-10z" color="#90c444"/><path d="M1624 737l38 10l31-28l-38-11z" color="#90c444"/><path d="M1662 747l39 11l30-28l-38-11z" color="#90c444"/><path d="M1701 758l38 11l30-29l-38-10z" color="#90c444"/><path d="M1739 769l39 11l29-29l-38-11z" color="#90c444"/><path d="M1778 780l40 11l28-29l-39-11z" color="#90c444"/><path d="M571 342l53 64l34-28l-51-62z" color="#328821"/><path d="M624 406l55 106l31-29l-52-105z" color="#79b73c"/><path d="M679 512l53 63l29-30l-51-62z" color="#aed24e"/><path d="M732 575l3-15l31-29l-5 14z" color="#b5d651"/><path d="M735 560l3-37l32-28l-4 36z" color="#a5ce4b"/><path d="M738 523l2-45l34-26l-4 43z" color="#84bd40"/><path d="M740 478l3-37l35-26l-4 37z" color="#53a12e"/><path d="M743 441l3-16l37-24l-5 14z" color="#388d23"/><path d="M746 425l12 17l37-25l-12-16z" color="#368c22"/><path d="M758 442l13 34l36-26l-12-33z" color="#4b9b2b"/><path d="M771 476l13 40l36-27l-13-39z" color="#6eb138"/><path d="M784 516l13 33l36-27l-13-33z" color="#93c545"/><path d="M797 549l12 16l35-27l-11-16z" color="#9fcb49"/><path d="M809 565l16-11l36-28l-17 12z" color="#607c2c"/><path d="M825 554l15-32l37-26l-16 30z" color="#8abe42"/><path d="M840 522l16-33l36-24l-15 31z" color="#63a934"/><path d="M856 489l17-12l36-23l-17 11z" color="#2b5d19"/><path d="M873 477l17 20l36-24l-17-19z" color="#469729"/><path d="M890 497l17 40l36-25l-17-39z" color="#60a933"/><path d="M907 537l17 39l36-26l-17-38z" color="#87bf41"/><path d="M924 576l17 20l35-26l-16-20z" color="#99c947"/><path d="M941 596l18-7l36-26l-19 7z" color="#769b37"/><path d="M959 589l19-22l35-25l-18 21z" color="#709a35"/><path d="M978 567l18-23l36-24l-19 22z" color="#588e2d"/><path d="M996 544l19-7l36-23l-19 6z" color="#3f7722"/><path d="M1015 537l19 17l35-24l-18-16z" color="#55a22f"/><path d="M1034 554l19 31l35-25l-19-30z" color="#6baf37"/><path d="M1053 585l19 31l35-26l-19-30z" color="#88c041"/><path d="M1072 616l19 18l35-27l-19-17z" color="#96c746"/><path d="M1091 634l23-8l35-26l-23 7z" color="#789f38"/><path d="M1114 626l23-20l35-25l-23 19z" color="#547829"/><path d="M1137 606l23-7l36-25l-24 7z" color="#54892b"/><path d="M1160 599l25 23l35-26l-24-22z" color="#6db037"/><path d="M1185 622l25 36l35-27l-25-35z" color="#89c042"/><path d="M1210 658l25 23l35-28l-25-22z" color="#99c847"/><path d="M1235 681l22-3l35-27l-22 2z" color="#89b340"/><path d="M1257 678l22-10l35-26l-22 9z" color="#709634"/><path d="M1279 668l23-2l35-26l-23 2z" color="#75a739"/><path d="M1302 666l22 14l35-27l-22-13z" color="#84bd40"/><path d="M1324 680l23 20l35-27l-23-20z" color="#91c544"/><path d="M1347 700l23 14l34-28l-22-13z" color="#97c846"/><path d="M1370 714l23 2l34-28l-23-2z" color="#91bf43"/><path d="M1393 716l23-1l35-28l-24 1z" color="#85b23e"/><path d="M1416 715l23 2l35-28l-23-2z" color="#87b940"/><path d="M1439 717l38 11l34-27l-37-12z" color="#8cc243"/><path d="M1477 728l38 13l33-28l-37-12z" color="#8ec343"/><path d="M1515 741l39 13l32-28l-38-13z" color="#90c444"/><path d="M1554 754l38 11l32-28l-38-11z" color="#90c444"/><path d="M1592 765l39 11l31-29l-38-10z" color="#90c444"/><path d="M1631 776l39 12l31-30l-39-11z" color="#90c444"/><path d="M1670 788l39 11l30-30l-38-11z" color="#90c444"/><path d="M1709 799l40 11l29-30l-39-11z" color="#90c444"/><path d="M1749 810l40 11l29-30l-40-11z" color="#90c444"/><path d="M535 369l54 65l35-28l-53-64z" color="#348921"/><path d="M589 434l57 107l33-29l-55-106z" color="#7eba3d"/><path d="M646 541l54 65l32-31l-53-63z" color="#b1d44f"/><path d="M700 606l2-16l33-30l-3 15z" color="#b9d752"/><path d="M702 590l2-38l34-29l-3 37z" color="#a7d04c"/><path d="M704 552l1-46l35-28l-2 45z" color="#87bf41"/><path d="M705 506l1-39l37-26l-3 37z" color="#55a22f"/><path d="M706 467l3-16l37-26l-3 16z" color="#398e23"/><path d="M709 451l12 16l37-25l-12-17z" color="#368c22"/><path d="M721 467l13 35l37-26l-13-34z" color="#4d9c2b"/><path d="M734 502l13 41l37-27l-13-40z" color="#70b239"/><path d="M747 543l13 35l37-29l-13-33z" color="#95c646"/><path d="M760 578l12 16l37-29l-12-16z" color="#a1cd4a"/><path d="M772 594l16-12l37-28l-16 11z" color="#5c762a"/><path d="M788 582l15-34l37-26l-15 32z" color="#90c344"/><path d="M803 548l16-34l37-25l-16 33z" color="#64ab34"/><path d="M819 514l17-13l37-24l-17 12z" color="#2c601a"/><path d="M836 501l16 21l38-25l-17-20z" color="#459728"/><path d="M852 522l18 41l37-26l-17-40z" color="#60a933"/><path d="M870 563l17 40l37-27l-17-39z" color="#89c041"/><path d="M887 603l17 21l37-28l-17-20z" color="#9ac947"/><path d="M904 624l19-8l36-27l-18 7z" color="#769936"/><path d="M923 616l18-24l37-25l-19 22z" color="#749e37"/><path d="M941 592l18-23l37-25l-18 23z" color="#5a912e"/><path d="M959 569l19-8l37-24l-19 7z" color="#3d7522"/><path d="M978 561l19 17l37-24l-19-17z" color="#54a12e"/><path d="M997 578l19 33l37-26l-19-31z" color="#6aae36"/><path d="M1016 611l19 32l37-27l-19-31z" color="#89c042"/><path d="M1035 643l19 18l37-27l-19-18z" color="#97c846"/><path d="M1054 661l23-8l37-27l-23 8z" color="#779d37"/><path d="M1077 653l23-21l37-26l-23 20z" color="#597e2b"/><path d="M1100 632l24-8l36-25l-23 7z" color="#52872a"/><path d="M1124 624l25 24l36-26l-25-23z" color="#6caf37"/><path d="M1149 648l25 37l36-27l-25-36z" color="#8ac042"/><path d="M1174 685l25 24l36-28l-25-23z" color="#9ac947"/><path d="M1199 709l22-3l36-28l-22 3z" color="#89b23f"/><path d="M1221 706l22-10l36-28l-22 10z" color="#6d9233"/><path d="M1243 696l23-3l36-27l-23 2z" color="#75a638"/><path d="M1266 693l23 14l35-27l-22-14z" color="#85bd40"/><path d="M1289 707l22 22l36-29l-23-20z" color="#92c545"/><path d="M1311 729l23 14l36-29l-23-14z" color="#98c847"/><path d="M1334 743l23 2l36-29l-23-2z" color="#91be43"/><path d="M1357 745l23-2l36-28l-23 1z" color="#85b13e"/><path d="M1380 743l24 2l35-28l-23-2z" color="#88b940"/><path d="M1404 745l38 12l35-29l-38-11z" color="#8cc243"/><path d="M1442 757l39 13l34-29l-38-13z" color="#8ec343"/><path d="M1481 770l39 13l34-29l-39-13z" color="#90c444"/><path d="M1520 783l39 12l33-30l-38-11z" color="#91c444"/><path d="M1559 795l40 11l32-30l-39-11z" color="#91c444"/><path d="M1599 806l39 11l32-29l-39-12z" color="#91c444"/><path d="M1638 817l40 12l31-30l-39-11z" color="#90c444"/><path d="M1678 829l41 11l30-30l-40-11z" color="#90c444"/><path d="M1719 840l40 12l30-31l-40-11z" color="#90c444"/><path d="M498 397l55 66l36-29l-54-65z" color="#358b22"/><path d="M553 463l58 109l35-31l-57-107z" color="#83bd40"/><path d="M611 572l55 66l34-32l-54-65z" color="#b5d551"/><path d="M666 638l2-16l34-32l-2 16z" color="#bdd853"/><path d="M668 622l0-40l36-30l-2 38z" color="#abd14d"/><path d="M668 582l0-48l37-28l-1 46z" color="#8cc242"/><path d="M668 534l0-40l38-27l-1 39z" color="#57a430"/><path d="M668 494l2-17l39-26l-3 16z" color="#3a8f24"/><path d="M670 477l12 17l39-27l-12-16z" color="#388d23"/><path d="M682 494l13 36l39-28l-13-35z" color="#4f9e2c"/><path d="M695 530l14 42l38-29l-13-41z" color="#74b43a"/><path d="M709 572l13 35l38-29l-13-35z" color="#97c846"/><path d="M722 607l12 17l38-30l-12-16z" color="#a4ce4b"/><path d="M734 624l16-13l38-29l-16 12z" color="#5d752a"/><path d="M750 611l15-35l38-28l-15 34z" color="#93c545"/><path d="M765 576l16-35l38-27l-16 34z" color="#66ac35"/><path d="M781 541l16-14l39-26l-17 13z" color="#2e631b"/><path d="M797 527l17 22l38-27l-16-21z" color="#469729"/><path d="M814 549l18 41l38-27l-18-41z" color="#62aa33"/><path d="M832 590l17 41l38-28l-17-40z" color="#8bc142"/><path d="M849 631l17 21l38-28l-17-21z" color="#9cca48"/><path d="M866 652l19-8l38-28l-19 8z" color="#759736"/><path d="M885 644l18-25l38-27l-18 24z" color="#78a338"/><path d="M903 619l18-25l38-25l-18 23z" color="#5c942f"/><path d="M921 594l19-8l38-25l-19 8z" color="#3c7421"/><path d="M940 586l19 18l38-26l-19-17z" color="#53a12e"/><path d="M959 604l19 34l38-27l-19-33z" color="#6aaf37"/><path d="M978 638l20 33l37-28l-19-32z" color="#8ac142"/><path d="M998 671l18 18l38-28l-19-18z" color="#98c847"/><path d="M1016 689l24-8l37-28l-23 8z" color="#769c37"/><path d="M1040 681l23-22l37-27l-23 21z" color="#5d832d"/><path d="M1063 659l23-9l38-26l-24 8z" color="#51852a"/><path d="M1086 650l25 25l38-27l-25-24z" color="#6caf37"/><path d="M1111 675l25 39l38-29l-25-37z" color="#8bc142"/><path d="M1136 714l26 24l37-29l-25-24z" color="#9bca48"/><path d="M1162 738l22-3l37-29l-22 3z" color="#89b13f"/><path d="M1184 735l22-11l37-28l-22 10z" color="#6b8f32"/><path d="M1206 724l22-4l38-27l-23 3z" color="#75a538"/><path d="M1228 720l23 15l38-28l-23-14z" color="#85be40"/><path d="M1251 735l23 23l37-29l-22-22z" color="#93c545"/><path d="M1274 758l23 15l37-30l-23-14z" color="#99c947"/><path d="M1297 773l23 1l37-29l-23-2z" color="#92be43"/><path d="M1320 774l23-3l37-28l-23 2z" color="#84af3e"/><path d="M1343 771l24 2l37-28l-24-2z" color="#88b940"/><path d="M1367 773l39 13l36-29l-38-12z" color="#8dc243"/><path d="M1406 786l39 13l36-29l-39-13z" color="#8fc444"/><path d="M1445 799l40 14l35-30l-39-13z" color="#91c444"/><path d="M1485 813l40 12l34-30l-39-12z" color="#91c544"/><path d="M1525 825l40 11l34-30l-40-11z" color="#91c544"/><path d="M1565 836l41 12l32-31l-39-11z" color="#91c544"/><path d="M1606 848l41 11l31-30l-40-12z" color="#91c444"/><path d="M1647 859l41 12l31-31l-41-11z" color="#91c444"/><path d="M1688 871l41 12l30-31l-40-12z" color="#90c444"/><path d="M461 425l55 68l37-30l-55-66z" color="#378c22"/><path d="M516 493l58 112l37-33l-58-109z" color="#8ac142"/><path d="M574 605l56 67l36-34l-55-66z" color="#bad853"/><path d="M630 672l1-17l37-33l-2 16z" color="#c2db55"/><path d="M631 655l-1-41l38-32l0 40z" color="#afd34f"/><path d="M630 614l0-50l38-30l0 48z" color="#91c544"/><path d="M630 564l-1-42l39-28l0 40z" color="#5ca631"/><path d="M629 522l1-17l40-28l-2 17z" color="#3d9125"/><path d="M630 505l13 17l39-28l-12-17z" color="#3b8f24"/><path d="M643 522l13 37l39-29l-13-36z" color="#52a02e"/><path d="M656 559l14 42l39-29l-14-42z" color="#79b73c"/><path d="M670 601l13 37l39-31l-13-35z" color="#9ac947"/><path d="M683 638l12 17l39-31l-12-17z" color="#a7d04c"/><path d="M695 655l16-14l39-30l-16 13z" color="#637b2d"/><path d="M711 641l15-36l39-29l-15 35z" color="#95c746"/><path d="M726 605l15-37l40-27l-16 35z" color="#69ae36"/><path d="M741 568l16-14l40-27l-16 14z" color="#30661c"/><path d="M757 554l17 22l40-27l-17-22z" color="#479829"/><path d="M774 576l18 42l40-28l-18-41z" color="#64ab34"/><path d="M792 618l18 42l39-29l-17-41z" color="#8ec343"/><path d="M810 660l17 21l39-29l-17-21z" color="#9ecb49"/><path d="M827 681l18-8l40-29l-19 8z" color="#769736"/><path d="M845 673l18-26l40-28l-18 25z" color="#7ca73a"/><path d="M863 647l19-26l39-27l-18 25z" color="#5f9830"/><path d="M882 621l18-8l40-27l-19 8z" color="#3c7321"/><path d="M900 613l19 18l40-27l-19-18z" color="#54a12e"/><path d="M919 631l20 35l39-28l-19-34z" color="#6caf37"/><path d="M939 666l19 34l40-29l-20-33z" color="#8dc243"/><path d="M958 700l19 19l39-30l-18-18z" color="#9ac947"/><path d="M977 719l23-9l40-29l-24 8z" color="#769a37"/><path d="M1000 710l23-23l40-28l-23 22z" color="#62892f"/><path d="M1023 687l24-9l39-28l-23 9z" color="#518429"/><path d="M1047 678l25 25l39-28l-25-25z" color="#6db037"/><path d="M1072 703l25 40l39-29l-25-39z" color="#8dc243"/><path d="M1097 743l26 25l39-30l-26-24z" color="#9dca48"/><path d="M1123 768l22-4l39-29l-22 3z" color="#89b03f"/><path d="M1145 764l22-12l39-28l-22 11z" color="#698b31"/><path d="M1167 752l22-3l39-29l-22 4z" color="#75a438"/><path d="M1189 749l23 15l39-29l-23-15z" color="#87bf41"/><path d="M1212 764l23 23l39-29l-23-23z" color="#94c645"/><path d="M1235 787l23 16l39-30l-23-15z" color="#9bc948"/><path d="M1258 803l23 1l39-30l-23-1z" color="#93be44"/><path d="M1281 804l23-3l39-30l-23 3z" color="#84ae3d"/><path d="M1304 801l24 1l39-29l-24-2z" color="#88b840"/><path d="M1328 802l40 13l38-29l-39-13z" color="#8fc344"/><path d="M1368 815l40 14l37-30l-39-13z" color="#90c444"/><path d="M1408 829l41 14l36-30l-40-14z" color="#92c545"/><path d="M1449 843l41 12l35-30l-40-12z" color="#92c545"/><path d="M1490 855l41 12l34-31l-40-11z" color="#92c545"/><path d="M1531 867l41 12l34-31l-41-12z" color="#92c545"/><path d="M1572 879l42 12l33-32l-41-11z" color="#91c544"/><path d="M1614 891l42 12l32-32l-41-12z" color="#91c544"/><path d="M1656 903l43 12l30-32l-41-12z" color="#91c444"/><path d="M423 453l55 70l38-30l-55-68z" color="#3a8f24"/><path d="M478 523l58 116l38-34l-58-112z" color="#92c545"/><path d="M536 639l55 69l39-36l-56-67z" color="#c1da55"/><path d="M591 708l0-17l40-36l-1 17z" color="#c9dd58"/><path d="M591 691l0-43l39-34l1 41z" color="#b6d651"/><path d="M591 648l-2-52l41-32l0 50z" color="#96c746"/><path d="M589 596l0-43l40-31l1 42z" color="#62aa33"/><path d="M589 553l0-18l41-30l-1 17z" color="#419427"/><path d="M589 535l13 17l41-30l-13-17z" color="#3f9226"/><path d="M602 552l13 38l41-31l-13-37z" color="#56a32f"/><path d="M615 590l14 43l41-32l-14-42z" color="#7fbb3e"/><path d="M629 633l13 37l41-32l-13-37z" color="#9ecb49"/><path d="M642 670l13 18l40-33l-12-17z" color="#acd24d"/><path d="M655 688l15-15l41-32l-16 14z" color="#687f2f"/><path d="M670 673l15-37l41-31l-15 36z" color="#99c947"/><path d="M685 636l15-39l41-29l-15 37z" color="#6eb138"/><path d="M700 597l16-14l41-29l-16 14z" color="#336a1d"/><path d="M716 583l17 22l41-29l-17-22z" color="#4a9a2a"/><path d="M733 605l19 43l40-30l-18-42z" color="#68ad36"/><path d="M752 648l17 43l41-31l-18-42z" color="#92c545"/><path d="M769 691l17 22l41-32l-17-21z" color="#a1cd4a"/><path d="M786 713l19-9l40-31l-18 8z" color="#779736"/><path d="M805 704l18-27l40-30l-18 26z" color="#81ac3c"/><path d="M823 677l17-27l42-29l-19 26z" color="#649d32"/><path d="M840 650l19-9l41-28l-18 8z" color="#3c7221"/><path d="M859 641l19 19l41-29l-19-18z" color="#55a22f"/><path d="M878 660l20 35l41-29l-20-35z" color="#6eb138"/><path d="M898 695l19 35l41-30l-19-34z" color="#90c444"/><path d="M917 730l20 20l40-31l-19-19z" color="#9cca48"/><path d="M937 750l22-10l41-30l-23 9z" color="#769937"/><path d="M959 740l23-24l41-29l-23 23z" color="#678f31"/><path d="M982 716l23-10l42-28l-24 9z" color="#518329"/><path d="M1005 706l26 26l41-29l-25-25z" color="#6fb138"/><path d="M1031 732l25 41l41-30l-25-40z" color="#90c444"/><path d="M1056 773l26 25l41-30l-26-25z" color="#9fcb49"/><path d="M1082 798l22-4l41-30l-22 4z" color="#8ab03f"/><path d="M1104 794l22-13l41-29l-22 12z" color="#66862f"/><path d="M1126 781l22-4l41-28l-22 3z" color="#75a438"/><path d="M1148 777l23 17l41-30l-23-15z" color="#89c041"/><path d="M1171 794l23 24l41-31l-23-23z" color="#96c746"/><path d="M1194 818l23 16l41-31l-23-16z" color="#9dca48"/><path d="M1217 834l23 1l41-31l-23-1z" color="#94bf44"/><path d="M1240 835l23-4l41-30l-23 3z" color="#83ac3d"/><path d="M1263 831l24 0l41-29l-24-1z" color="#89b840"/><path d="M1287 831l41 14l40-30l-40-13z" color="#90c444"/><path d="M1328 845l41 15l39-31l-40-14z" color="#92c545"/><path d="M1369 860l42 14l38-31l-41-14z" color="#93c545"/><path d="M1411 874l42 12l37-31l-41-12z" color="#93c545"/><path d="M1453 886l42 13l36-32l-41-12z" color="#93c545"/><path d="M1495 899l43 12l34-32l-41-12z" color="#93c545"/><path d="M1538 911l43 12l33-32l-42-12z" color="#92c545"/><path d="M1581 923l43 13l32-33l-42-12z" color="#92c545"/><path d="M1624 936l44 12l31-33l-43-12z" color="#91c544"/><path d="M384 482l54 73l40-32l-55-70z" color="#3f9226"/><path d="M438 555l58 120l40-36l-58-116z" color="#98c847"/><path d="M496 675l53 72l42-39l-55-69z" color="#cade58"/><path d="M549 747l1-18l41-38l0 17z" color="#d1e05a"/><path d="M550 729l-1-45l42-36l0 43z" color="#bed954"/><path d="M549 684l-2-53l42-35l2 52z" color="#9cca48"/><path d="M547 631l-1-46l43-32l0 43z" color="#6aae36"/><path d="M546 585l1-18l42-32l0 18z" color="#479829"/><path d="M547 567l13 18l42-33l-13-17z" color="#449628"/><path d="M560 585l13 38l42-33l-13-38z" color="#5da732"/><path d="M573 623l14 45l42-35l-14-43z" color="#89c042"/><path d="M587 668l14 38l41-36l-13-37z" color="#a4ce4b"/><path d="M601 706l12 18l42-36l-13-18z" color="#b3d450"/><path d="M613 724l16-15l41-36l-15 15z" color="#6e8331"/><path d="M629 709l14-40l42-33l-15 37z" color="#9ecb49"/><path d="M643 669l15-40l42-32l-15 39z" color="#75b43a"/><path d="M658 629l16-16l42-30l-16 14z" color="#386f1f"/><path d="M674 613l17 23l42-31l-17-22z" color="#4e9d2c"/><path d="M691 636l18 44l43-32l-19-43z" color="#6db038"/><path d="M709 680l18 44l42-33l-17-43z" color="#96c746"/><path d="M727 724l17 22l42-33l-17-22z" color="#a5cf4b"/><path d="M744 746l18-9l43-33l-19 9z" color="#799737"/><path d="M762 737l18-29l43-31l-18 27z" color="#87b13f"/><path d="M780 708l18-28l42-30l-17 27z" color="#6ba435"/><path d="M798 680l18-10l43-29l-19 9z" color="#3d7121"/><path d="M816 670l19 19l43-29l-19-19z" color="#58a430"/><path d="M835 689l20 37l43-31l-20-35z" color="#72b339"/><path d="M855 726l20 36l42-32l-19-35z" color="#93c645"/><path d="M875 762l19 20l43-32l-20-20z" color="#a0cc49"/><path d="M894 782l23-10l42-32l-22 10z" color="#779837"/><path d="M917 772l22-26l43-30l-23 24z" color="#6f9634"/><path d="M939 746l23-11l43-29l-23 10z" color="#528129"/><path d="M962 735l26 27l43-30l-26-26z" color="#72b339"/><path d="M988 762l25 42l43-31l-25-41z" color="#92c545"/><path d="M1013 804l26 26l43-32l-26-25z" color="#a1cd4a"/><path d="M1039 830l22-4l43-32l-22 4z" color="#8baf3f"/><path d="M1061 826l22-14l43-31l-22 13z" color="#62802d"/><path d="M1083 812l22-5l43-30l-22 4z" color="#76a338"/><path d="M1105 807l23 17l43-30l-23-17z" color="#8cc243"/><path d="M1128 824l23 25l43-31l-23-24z" color="#98c847"/><path d="M1151 849l23 17l43-32l-23-16z" color="#a0cc49"/><path d="M1174 866l23 1l43-32l-23-1z" color="#96bf45"/><path d="M1197 867l23-6l43-30l-23 4z" color="#82a93c"/><path d="M1220 861l23 1l44-31l-24 0z" color="#89b740"/><path d="M1243 862l42 14l43-31l-41-14z" color="#92c545"/><path d="M1285 876l43 15l41-31l-41-15z" color="#93c645"/><path d="M1328 891l43 14l40-31l-42-14z" color="#94c645"/><path d="M1371 905l43 13l39-32l-42-12z" color="#94c645"/><path d="M1414 918l44 13l37-32l-42-13z" color="#94c645"/><path d="M1458 931l44 13l36-33l-43-12z" color="#94c645"/><path d="M1502 944l45 12l34-33l-43-12z" color="#93c645"/><path d="M1547 956l44 13l33-33l-43-13z" color="#93c545"/><path d="M1591 969l45 13l32-34l-44-12z" color="#92c545"/><path d="M345 511l52 76l41-32l-54-73z" color="#449628"/><path d="M397 587l56 128l43-40l-58-120z" color="#9fcc49"/><path d="M453 715l52 76l44-44l-53-72z" color="#d4e05b"/><path d="M505 791l1-19l44-43l-1 18z" color="#dbe05c"/><path d="M506 772l-1-47l44-41l1 45z" color="#cade58"/><path d="M505 725l-2-57l44-37l2 53z" color="#a5cf4b"/><path d="M503 668l-1-48l44-35l1 46z" color="#76b53b"/><path d="M502 620l1-19l44-34l-1 18z" color="#4e9d2c"/><path d="M503 601l13 18l44-34l-13-18z" color="#4b9b2b"/><path d="M516 619l14 40l43-36l-13-38z" color="#67ad35"/><path d="M530 659l14 47l43-38l-14-45z" color="#93c645"/><path d="M544 706l14 39l43-39l-14-38z" color="#add24e"/><path d="M558 745l12 19l43-40l-12-18z" color="#bcd853"/><path d="M570 764l15-16l44-39l-16 15z" color="#768834"/><path d="M585 748l14-43l44-36l-14 40z" color="#a6cf4b"/><path d="M599 705l14-43l45-33l-15 40z" color="#7fba3e"/><path d="M613 662l16-17l45-32l-16 16z" color="#3e7722"/><path d="M629 645l17 23l45-32l-17-23z" color="#53a02e"/><path d="M646 668l19 46l44-34l-18-44z" color="#75b53a"/><path d="M665 714l18 46l44-36l-18-44z" color="#9bca48"/><path d="M683 760l17 23l44-37l-17-22z" color="#acd24d"/><path d="M700 783l18-11l44-35l-18 9z" color="#7d9838"/><path d="M718 772l17-30l45-34l-18 29z" color="#90b942"/><path d="M735 742l18-31l45-31l-18 28z" color="#76ae3a"/><path d="M753 711l18-11l45-30l-18 10z" color="#3e6e21"/><path d="M771 700l19 21l45-32l-19-19z" color="#5ca732"/><path d="M790 721l20 38l45-33l-20-37z" color="#79b73c"/><path d="M810 759l20 37l45-34l-20-36z" color="#98c847"/><path d="M830 796l19 21l45-35l-19-20z" color="#a4ce4b"/><path d="M849 817l23-12l45-33l-23 10z" color="#789737"/><path d="M872 805l22-28l45-31l-22 26z" color="#779f38"/><path d="M894 777l23-12l45-30l-23 11z" color="#527e29"/><path d="M917 765l25 28l46-31l-26-27z" color="#76b53b"/><path d="M942 793l26 44l45-33l-25-42z" color="#96c746"/><path d="M968 837l25 27l46-34l-26-26z" color="#a5cf4b"/><path d="M993 864l22-5l46-33l-22 4z" color="#8cae40"/><path d="M1015 859l22-16l46-31l-22 14z" color="#587229"/><path d="M1037 843l22-6l46-30l-22 5z" color="#77a138"/><path d="M1059 837l23 18l46-31l-23-17z" color="#90c444"/><path d="M1082 855l23 27l46-33l-23-25z" color="#9bc948"/><path d="M1105 882l22 18l47-34l-23-17z" color="#a3ce4a"/><path d="M1127 900l23 0l47-33l-23-1z" color="#98bf45"/><path d="M1150 900l23-7l47-32l-23 6z" color="#81a53b"/><path d="M1173 893l24-1l46-30l-23-1z" color="#8ab640"/><path d="M1197 892l43 15l45-31l-42-14z" color="#94c645"/><path d="M1240 907l45 16l43-32l-43-15z" color="#95c746"/><path d="M1285 923l44 15l42-33l-43-14z" color="#96c746"/><path d="M1329 938l45 13l40-33l-43-13z" color="#96c746"/><path d="M1374 951l45 14l39-34l-44-13z" color="#96c746"/><path d="M1419 965l46 13l37-34l-44-13z" color="#95c746"/><path d="M1465 978l46 13l36-35l-45-12z" color="#95c646"/><path d="M1511 991l46 13l34-35l-44-13z" color="#94c645"/><path d="M1557 1004l47 13l32-35l-45-13z" color="#94c645"/><path d="M306 541l50 81l41-35l-52-76z" color="#4a9a2a"/><path d="M356 622l53 138l44-45l-56-128z" color="#a9d14c"/><path d="M409 760l49 79l47-48l-52-76z" color="#e0e05d"/><path d="M458 839l1-20l47-47l-1 19z" color="#e7e05e"/><path d="M459 819l0-49l46-45l1 47z" color="#d7e05b"/><path d="M459 770l-2-61l46-41l2 57z" color="#b2d450"/><path d="M457 709l0-50l45-39l1 48z" color="#87bf41"/><path d="M457 659l1-21l45-37l-1 19z" color="#58a430"/><path d="M458 638l13 19l45-38l-13-18z" color="#55a22f"/><path d="M471 657l14 42l45-40l-14-40z" color="#75b53a"/><path d="M485 699l14 49l45-42l-14-47z" color="#9dcb48"/><path d="M499 748l14 42l45-45l-14-39z" color="#b9d752"/><path d="M513 790l13 19l44-45l-12-19z" color="#c9de58"/><path d="M526 809l15-18l44-43l-15 16z" color="#818e38"/><path d="M541 791l13-47l45-39l-14 43z" color="#b1d44f"/><path d="M554 744l13-47l46-35l-14 43z" color="#8ec343"/><path d="M567 697l16-19l46-33l-16 17z" color="#488127"/><path d="M583 678l17 25l46-35l-17-23z" color="#5aa531"/><path d="M600 703l19 48l46-37l-19-46z" color="#81bb3f"/><path d="M619 751l18 48l46-39l-18-46z" color="#a3ce4a"/><path d="M637 799l18 24l45-40l-17-23z" color="#b6d651"/><path d="M655 823l17-11l46-40l-18 11z" color="#81983a"/><path d="M672 812l17-34l46-36l-17 30z" color="#9dc447"/><path d="M689 778l17-34l47-33l-18 31z" color="#86bc40"/><path d="M706 744l18-13l47-31l-18 11z" color="#3c671f"/><path d="M724 731l19 22l47-32l-19-21z" color="#63aa34"/><path d="M743 753l20 40l47-34l-20-38z" color="#81bc3f"/><path d="M763 793l20 40l47-37l-20-37z" color="#9ecb49"/><path d="M783 833l19 21l47-37l-19-21z" color="#abd14d"/><path d="M802 854l22-13l48-36l-23 12z" color="#799537"/><path d="M824 841l22-31l48-33l-22 28z" color="#83ab3d"/><path d="M846 810l23-14l48-31l-23 12z" color="#517828"/><path d="M869 796l25 29l48-32l-25-28z" color="#7db93d"/><path d="M894 825l26 46l48-34l-26-44z" color="#9ac947"/><path d="M920 871l26 29l47-36l-25-27z" color="#abd14d"/><path d="M946 900l21-7l48-34l-22 5z" color="#8ead40"/><path d="M967 893l21-18l49-32l-22 16z" color="#698530"/><path d="M988 875l22-7l49-31l-22 6z" color="#759d37"/><path d="M1010 868l23 19l49-32l-23-18z" color="#93c645"/><path d="M1033 887l23 29l49-34l-23-27z" color="#9fcc49"/><path d="M1056 916l23 19l48-35l-22-18z" color="#a8d04c"/><path d="M1079 935l23-1l48-34l-23 0z" color="#9bbf46"/><path d="M1102 934l22-9l49-32l-23 7z" color="#7e9f39"/><path d="M1124 925l23-1l50-32l-24 1z" color="#8ab540"/><path d="M1147 924l46 15l47-32l-43-15z" color="#97c746"/><path d="M1193 939l46 16l46-32l-45-16z" color="#98c847"/><path d="M1239 955l46 16l44-33l-44-15z" color="#99c847"/><path d="M1285 971l47 14l42-34l-45-13z" color="#99c847"/><path d="M1332 985l47 14l40-34l-45-14z" color="#98c847"/><path d="M1379 999l48 14l38-35l-46-13z" color="#98c847"/><path d="M1427 1013l48 13l36-35l-46-13z" color="#97c846"/><path d="M1475 1026l48 14l34-36l-46-13z" color="#96c746"/><path d="M1523 1040l49 13l32-36l-47-13z" color="#95c746"/><path d="M271 567l46 88l39-33l-50-81z" color="#509e2d"/><path d="M317 655l52 149l40-44l-53-138z" color="#b7d651"/><path d="M369 804l45 85l44-50l-49-79z" color="#eee060"/><path d="M414 889l2-21l43-49l-1 20z" color="#f1da5a"/><path d="M416 868l0-53l43-45l0 49z" color="#e5e05e"/><path d="M416 815l-1-65l42-41l2 61z" color="#c2db55"/><path d="M415 750l-1-54l43-37l0 50z" color="#96c746"/><path d="M414 696l2-22l42-36l-1 21z" color="#68ad36"/><path d="M416 674l13 21l42-38l-13-19z" color="#63aa34"/><path d="M429 695l14 45l42-41l-14-42z" color="#89c041"/><path d="M443 740l15 52l41-44l-14-49z" color="#aad14d"/><path d="M458 792l15 45l40-47l-14-42z" color="#cade58"/><path d="M473 837l12 21l41-49l-13-19z" color="#d8e05c"/><path d="M485 858l15-21l41-46l-15 18z" color="#8b923b"/><path d="M500 837l12-52l42-41l-13 47z" color="#c0da55"/><path d="M512 785l13-54l42-34l-13 47z" color="#99c847"/><path d="M525 731l15-21l43-32l-16 19z" color="#57902d"/><path d="M540 710l17 26l43-33l-17-25z" color="#65ab35"/><path d="M557 736l19 51l43-36l-19-48z" color="#90c444"/><path d="M576 787l19 52l42-40l-18-48z" color="#aed24e"/><path d="M595 839l17 25l43-41l-18-24z" color="#c2db55"/><path d="M612 864l18-13l42-39l-17 11z" color="#86973b"/><path d="M630 851l16-38l43-35l-17 34z" color="#aed14e"/><path d="M646 813l16-39l44-30l-17 34z" color="#93c545"/><path d="M662 774l18-14l44-29l-18 13z" color="#436e22"/><path d="M680 760l19 23l44-30l-19-22z" color="#6aae36"/><path d="M699 783l20 43l44-33l-20-40z" color="#8cc243"/><path d="M719 826l20 42l44-35l-20-40z" color="#a5cf4b"/><path d="M739 868l19 23l44-37l-19-21z" color="#b5d551"/><path d="M758 891l22-15l44-35l-22 13z" color="#799036"/><path d="M780 876l21-36l45-30l-22 31z" color="#92b943"/><path d="M801 840l23-15l45-29l-23 14z" color="#4a6a24"/><path d="M824 825l25 30l45-30l-25-29z" color="#84bd40"/><path d="M849 855l26 49l45-33l-26-46z" color="#a0cc49"/><path d="M875 904l25 30l46-34l-26-29z" color="#b2d450"/><path d="M900 934l22-8l45-33l-21 7z" color="#90aa40"/><path d="M922 926l21-22l45-29l-21 18z" color="#7a9737"/><path d="M943 904l21-8l46-28l-22 7z" color="#729635"/><path d="M964 896l23 20l46-29l-23-19z" color="#97c746"/><path d="M987 916l23 32l46-32l-23-29z" color="#a4ce4b"/><path d="M1010 948l23 21l46-34l-23-19z" color="#afd34f"/><path d="M1033 969l22-3l47-32l-23 1z" color="#9fbf47"/><path d="M1055 966l22-11l47-30l-22 9z" color="#799637"/><path d="M1077 955l23-3l47-28l-23 1z" color="#8bb240"/><path d="M1100 952l48 16l45-29l-46-15z" color="#9ac947"/><path d="M1148 968l48 18l43-31l-46-16z" color="#9bca48"/><path d="M1196 986l48 16l41-31l-46-16z" color="#9cca48"/><path d="M1244 1002l49 15l39-32l-47-14z" color="#9cca48"/><path d="M1293 1017l49 14l37-32l-47-14z" color="#9cca48"/><path d="M1342 1031l49 15l36-33l-48-14z" color="#9bc948"/><path d="M1391 1046l50 13l34-33l-48-13z" color="#9ac947"/><path d="M1441 1059l51 14l31-33l-48-14z" color="#99c847"/><path d="M1492 1073l50 14l30-34l-49-13z" color="#98c847"/><path d="M242 589l44 93l31-27l-46-88z" color="#56a32f"/><path d="M286 682l49 162l34-40l-52-149z" color="#c4dc56"/><path d="M335 844l42 91l37-46l-45-85z" color="#f3d353"/><path d="M377 935l3-22l36-45l-2 21z" color="#f4ca4a"/><path d="M380 913l0-57l36-41l0 53z" color="#f1dd5d"/><path d="M380 856l-1-69l36-37l1 65z" color="#d2e05a"/><path d="M379 787l0-58l35-33l1 54z" color="#a2cd4a"/><path d="M379 729l3-24l34-31l-2 22z" color="#78b63b"/><path d="M382 705l12 23l35-33l-13-21z" color="#73b33a"/><path d="M394 728l15 48l34-36l-14-45z" color="#98c847"/><path d="M409 776l16 57l33-41l-15-52z" color="#bad753"/><path d="M425 833l14 48l34-44l-15-45z" color="#d9e05c"/><path d="M439 881l13 22l33-45l-12-21z" color="#e7e05e"/><path d="M452 903l14-23l34-43l-15 21z" color="#99963f"/><path d="M466 880l12-59l34-36l-12 52z" color="#d0e05a"/><path d="M478 821l11-60l36-30l-13 54z" color="#a3ce4a"/><path d="M489 761l15-24l36-27l-15 21z" color="#67a034"/><path d="M504 737l17 28l36-29l-17-26z" color="#70b138"/><path d="M521 765l20 55l35-33l-19-51z" color="#98c847"/><path d="M541 820l19 54l35-35l-19-52z" color="#bad752"/><path d="M560 874l17 28l35-38l-17-25z" color="#cfe05a"/><path d="M577 902l17-16l36-35l-18 13z" color="#8a953c"/><path d="M594 886l15-43l37-30l-16 38z" color="#bbd853"/><path d="M609 843l16-43l37-26l-16 39z" color="#9ac947"/><path d="M625 800l18-16l37-24l-18 14z" color="#528029"/><path d="M643 784l19 24l37-25l-19-23z" color="#71b239"/><path d="M662 808l20 46l37-28l-20-43z" color="#94c645"/><path d="M682 854l20 46l37-32l-20-42z" color="#aed24e"/><path d="M702 900l19 23l37-32l-19-23z" color="#bfd954"/><path d="M721 923l22-17l37-30l-22 15z" color="#768734"/><path d="M743 906l20-40l38-26l-21 36z" color="#a1c849"/><path d="M763 866l22-18l39-23l-23 15z" color="#5e822d"/><path d="M785 848l26 31l38-24l-25-30z" color="#8cc142"/><path d="M811 879l26 53l38-28l-26-49z" color="#a6cf4b"/><path d="M837 932l25 32l38-30l-25-30z" color="#bad853"/><path d="M862 964l21-10l39-28l-22 8z" color="#90a640"/><path d="M883 954l21-25l39-25l-21 22z" color="#8ba93f"/><path d="M904 929l21-10l39-23l-21 8z" color="#6d8d32"/><path d="M925 919l22 22l40-25l-23-20z" color="#9bc948"/><path d="M947 941l23 34l40-27l-23-32z" color="#a9d04c"/><path d="M970 975l23 21l40-27l-23-21z" color="#b6d651"/><path d="M993 996l22-3l40-27l-22 3z" color="#a2be48"/><path d="M1015 993l22-14l40-24l-22 11z" color="#718933"/><path d="M1037 979l23-3l40-24l-23 3z" color="#8aaf3f"/><path d="M1060 976l49 17l39-25l-48-16z" color="#9dcb48"/><path d="M1109 993l50 18l37-25l-48-18z" color="#9fcb49"/><path d="M1159 1011l50 17l35-26l-48-16z" color="#a0cc49"/><path d="M1209 1028l50 15l34-26l-49-15z" color="#a0cc49"/><path d="M1259 1043l51 15l32-27l-49-14z" color="#9fcc49"/><path d="M1310 1058l52 15l29-27l-49-15z" color="#9ecb49"/><path d="M1362 1073l51 14l28-28l-50-13z" color="#9dcb48"/><path d="M1413 1087l53 14l26-28l-51-14z" color="#9cca48"/><path d="M1466 1101l53 14l23-28l-50-14z" color="#9ac947"/><path d="M219 606l41 101l26-25l-44-93z" color="#5da732"/><path d="M260 707l47 173l28-36l-49-162z" color="#d1e05a"/><path d="M307 880l40 97l30-42l-42-91z" color="#f6c343"/><path d="M347 977l3-24l30-40l-3 22z" color="#f8ba3a"/><path d="M350 953l0-60l30-37l0 57z" color="#f4ce4e"/><path d="M350 893l-1-73l30-33l1 69z" color="#dee05d"/><path d="M349 820l0-62l30-29l0 58z" color="#afd34f"/><path d="M349 758l4-25l29-28l-3 24z" color="#8ac042"/><path d="M353 733l13 24l28-29l-12-23z" color="#84bd40"/><path d="M366 757l15 52l28-33l-15-48z" color="#a3ce4a"/><path d="M381 809l16 61l28-37l-16-57z" color="#cade58"/><path d="M397 870l14 51l28-40l-14-48z" color="#e6e05e"/><path d="M411 921l13 24l28-42l-13-22z" color="#f1da5a"/><path d="M424 945l14-27l28-38l-14 23z" color="#ab9d41"/><path d="M438 918l10-65l30-32l-12 59z" color="#dde05c"/><path d="M448 853l11-66l30-26l-11 60z" color="#afd34e"/><path d="M459 787l15-27l30-23l-15 24z" color="#7ab13b"/><path d="M474 760l17 29l30-24l-17-28z" color="#7bb83c"/><path d="M491 789l20 59l30-28l-20-55z" color="#a1cc4a"/><path d="M511 848l19 59l30-33l-19-54z" color="#c6dc57"/><path d="M530 907l17 29l30-34l-17-28z" color="#dae05c"/><path d="M547 936l17-18l30-32l-17 16z" color="#888c3a"/><path d="M564 918l15-48l30-27l-15 43z" color="#c6dc57"/><path d="M579 870l15-48l31-22l-16 43z" color="#a1cd4a"/><path d="M594 822l17-19l32-19l-18 16z" color="#619030"/><path d="M611 803l19 26l32-21l-19-24z" color="#78b63b"/><path d="M630 829l21 49l31-24l-20-46z" color="#9ac947"/><path d="M651 878l20 49l31-27l-20-46z" color="#b6d651"/><path d="M671 927l19 25l31-29l-19-23z" color="#c9de58"/><path d="M690 952l21-20l32-26l-22 17z" color="#748033"/><path d="M711 932l20-45l32-21l-20 40z" color="#afd34f"/><path d="M731 887l22-20l32-19l-22 18z" color="#6d9333"/><path d="M753 867l25 33l33-21l-26-31z" color="#91c544"/><path d="M778 900l26 56l33-24l-26-53z" color="#acd14d"/><path d="M804 956l25 33l33-25l-25-32z" color="#c2db55"/><path d="M829 989l21-11l33-24l-21 10z" color="#8fa03f"/><path d="M850 978l20-28l34-21l-21 25z" color="#9cb946"/><path d="M870 950l21-12l34-19l-21 10z" color="#65812e"/><path d="M891 938l23 23l33-20l-22-22z" color="#9ecb49"/><path d="M914 961l23 36l33-22l-23-34z" color="#afd34e"/><path d="M937 997l22 23l34-24l-23-21z" color="#bcd853"/><path d="M959 1020l22-5l34-22l-22 3z" color="#a4bc48"/><path d="M981 1015l22-15l34-21l-22 14z" color="#677a2e"/><path d="M1003 1000l22-5l35-19l-23 3z" color="#8aac3f"/><path d="M1025 995l51 18l33-20l-49-17z" color="#a1cc4a"/><path d="M1076 1013l51 19l32-21l-50-18z" color="#a2cd4a"/><path d="M1127 1032l52 18l30-22l-50-17z" color="#a3ce4a"/><path d="M1179 1050l52 16l28-23l-50-15z" color="#a3ce4a"/><path d="M1231 1066l53 15l26-23l-51-15z" color="#a3cd4a"/><path d="M1284 1081l53 15l25-23l-52-15z" color="#a2cd4a"/><path d="M1337 1096l53 15l23-24l-51-14z" color="#a0cc49"/><path d="M1390 1111l54 14l22-24l-53-14z" color="#9fcb49"/><path d="M1444 1125l55 14l20-24l-53-14z" color="#9dca48"/><path d="M199 621l38 107l23-21l-41-101z" color="#65ab34"/><path d="M237 728l46 186l24-34l-47-173z" color="#dbe05c"/><path d="M283 914l37 103l27-40l-40-97z" color="#f7b335"/><path d="M320 1017l3-25l27-39l-3 24z" color="#f3a42b"/><path d="M323 992l1-64l26-35l0 60z" color="#f7bf3f"/><path d="M324 928l-1-77l26-31l1 73z" color="#eae05f"/><path d="M323 851l1-66l25-27l0 62z" color="#bcd853"/><path d="M324 785l4-26l25-26l-4 25z" color="#96c746"/><path d="M328 759l13 25l25-27l-13-24z" color="#93c545"/><path d="M341 784l15 55l25-30l-15-52z" color="#afd34f"/><path d="M356 839l16 65l25-34l-16-61z" color="#d6e05b"/><path d="M372 904l15 54l24-37l-14-51z" color="#f1dc5c"/><path d="M387 958l13 25l24-38l-13-24z" color="#f4cc4c"/><path d="M400 983l13-29l25-36l-14 27z" color="#b79b3b"/><path d="M413 954l10-71l25-30l-10 65z" color="#e9e05f"/><path d="M423 883l10-73l26-23l-11 66z" color="#bad753"/><path d="M433 810l14-30l27-20l-15 27z" color="#8cc042"/><path d="M447 780l18 32l26-23l-17-29z" color="#87bf41"/><path d="M465 812l20 63l26-27l-20-59z" color="#aad14d"/><path d="M485 875l19 63l26-31l-19-59z" color="#d2e05b"/><path d="M504 938l18 31l25-33l-17-29z" color="#e5e05e"/><path d="M522 969l16-21l26-30l-17 18z" color="#8a8739"/><path d="M538 948l14-53l27-25l-15 48z" color="#d2e05a"/><path d="M552 895l14-54l28-19l-15 48z" color="#a9d04c"/><path d="M566 841l17-21l28-17l-17 19z" color="#70a036"/><path d="M583 820l19 27l28-18l-19-26z" color="#7fba3e"/><path d="M602 847l21 53l28-22l-21-49z" color="#9fcc49"/><path d="M623 900l21 52l27-25l-20-49z" color="#bfd954"/><path d="M644 952l19 27l27-27l-19-25z" color="#d2e05b"/><path d="M663 979l20-23l28-24l-21 20z" color="#88923b"/><path d="M683 956l20-49l28-20l-20 45z" color="#b7d651"/><path d="M703 907l21-24l29-16l-22 20z" color="#7ba239"/><path d="M724 883l25 35l29-18l-25-33z" color="#95c746"/><path d="M749 918l26 59l29-21l-26-56z" color="#b2d44f"/><path d="M775 977l26 35l28-23l-25-33z" color="#cade58"/><path d="M801 1012l20-13l29-21l-21 11z" color="#8b983d"/><path d="M821 999l20-31l29-18l-20 28z" color="#acc84c"/><path d="M841 968l20-14l30-16l-21 12z" color="#617a2c"/><path d="M861 954l23 24l30-17l-23-23z" color="#a2cd4a"/><path d="M884 978l23 38l30-19l-23-36z" color="#b4d550"/><path d="M907 1016l22 24l30-20l-22-23z" color="#c2db55"/><path d="M929 1040l22-5l30-20l-22 5z" color="#a5b948"/><path d="M951 1035l21-17l31-18l-22 15z" color="#7a8f36"/><path d="M972 1018l22-6l31-17l-22 5z" color="#89a83e"/><path d="M994 1012l53 19l29-18l-51-18z" color="#a4ce4b"/><path d="M1047 1031l52 19l28-18l-51-19z" color="#a6cf4b"/><path d="M1099 1050l53 19l27-19l-52-18z" color="#a7cf4c"/><path d="M1152 1069l54 17l25-20l-52-16z" color="#a7cf4c"/><path d="M1206 1086l54 16l24-21l-53-15z" color="#a6cf4b"/><path d="M1260 1102l55 15l22-21l-53-15z" color="#a5cf4b"/><path d="M1315 1117l55 15l20-21l-53-15z" color="#a4ce4b"/><path d="M1370 1132l56 15l18-22l-54-14z" color="#a2cd4a"/><path d="M1426 1147l56 13l17-21l-55-14z" color="#a0cc49"/><path d="M182 634l36 113l19-19l-38-107z" color="#6baf37"/><path d="M218 747l44 197l21-30l-46-186z" color="#e5e05e"/><path d="M262 944l35 108l23-35l-37-103z" color="#f29f27"/><path d="M297 1052l4-26l22-34l-3 25z" color="#ef8f1d"/><path d="M301 1026l1-67l22-31l-1 64z" color="#f6af32"/><path d="M302 959l-1-81l22-27l1 77z" color="#f1da5a"/><path d="M301 878l1-69l22-24l-1 66z" color="#c9dd58"/><path d="M302 809l5-28l21-22l-4 26z" color="#9fcc49"/><path d="M307 781l13 26l21-23l-13-25z" color="#9cca48"/><path d="M320 807l15 58l21-26l-15-55z" color="#bbd853"/><path d="M335 865l17 68l20-29l-16-65z" color="#e1e05d"/><path d="M352 933l15 57l20-32l-15-54z" color="#f3d050"/><path d="M367 990l13 26l20-33l-13-25z" color="#f7bf3f"/><path d="M380 1016l13-31l20-31l-13 29z" color="#c29833"/><path d="M393 985l9-77l21-25l-10 71z" color="#f1dc5c"/><path d="M402 908l9-78l22-20l-10 73z" color="#c5dc56"/><path d="M411 830l14-33l22-17l-14 30z" color="#95c746"/><path d="M425 797l17 34l23-19l-18-32z" color="#91c444"/><path d="M442 831l21 67l22-23l-20-63z" color="#b3d550"/><path d="M463 898l20 67l21-27l-19-63z" color="#dbe05c"/><path d="M483 965l17 33l22-29l-18-31z" color="#f0e060"/><path d="M500 998l16-23l22-27l-16 21z" color="#91873a"/><path d="M516 975l13-58l23-22l-14 53z" color="#dae05c"/><path d="M529 917l14-59l23-17l-14 54z" color="#b1d44f"/><path d="M543 858l16-24l24-14l-17 21z" color="#7eaf3c"/><path d="M559 834l20 29l23-16l-19-27z" color="#86be40"/><path d="M579 863l21 56l23-19l-21-53z" color="#a5ce4b"/><path d="M600 919l20 55l24-22l-21-52z" color="#c7dd57"/><path d="M620 974l19 28l24-23l-19-27z" color="#dae05c"/><path d="M639 1002l21-25l23-21l-20 23z" color="#999f41"/><path d="M660 977l19-54l24-16l-20 49z" color="#bed954"/><path d="M679 923l20-26l25-14l-21 24z" color="#87af3e"/><path d="M699 897l26 36l24-15l-25-35z" color="#99c847"/><path d="M725 933l26 62l24-18l-26-59z" color="#b7d651"/><path d="M751 995l25 37l25-20l-26-35z" color="#d0e05a"/><path d="M776 1032l20-15l25-18l-20 13z" color="#838d39"/><path d="M796 1017l19-34l26-15l-20 31z" color="#bad452"/><path d="M815 983l21-15l25-14l-20 14z" color="#708b33"/><path d="M836 968l22 25l26-15l-23-24z" color="#a5ce4b"/><path d="M858 993l23 39l26-16l-23-38z" color="#b8d752"/><path d="M881 1032l22 25l26-17l-22-24z" color="#c7dd57"/><path d="M903 1057l22-6l26-16l-22 5z" color="#a5b648"/><path d="M925 1051l21-18l26-15l-21 17z" color="#889c3c"/><path d="M946 1033l22-6l26-15l-22 6z" color="#88a53d"/><path d="M968 1027l54 18l25-14l-53-19z" color="#a7d04c"/><path d="M1022 1045l54 21l23-16l-52-19z" color="#a9d04c"/><path d="M1076 1066l54 19l22-16l-53-19z" color="#aad14d"/><path d="M1130 1085l55 18l21-17l-54-17z" color="#aad14d"/><path d="M1185 1103l56 16l19-17l-54-16z" color="#aad14d"/><path d="M1241 1119l56 16l18-18l-55-15z" color="#a8d04c"/><path d="M1297 1135l56 15l17-18l-55-15z" color="#a7cf4c"/><path d="M1353 1150l58 15l15-18l-56-15z" color="#a5ce4b"/><path d="M1411 1165l58 14l13-19l-56-13z" color="#a2cd4a"/><path d="M167 645l34 119l17-17l-36-113z" color="#72b339"/><path d="M201 764l42 209l19-29l-44-197z" color="#eee060"/><path d="M243 973l32 113l22-34l-35-108z" color="#ee8c1b"/><path d="M275 1086l6-27l20-33l-4 26z" color="#e97b10"/><path d="M281 1059l1-70l20-30l-1 67z" color="#f19c25"/><path d="M282 989l-1-86l20-25l1 81z" color="#f4ce4e"/><path d="M281 903l1-72l20-22l-1 69z" color="#d3e05b"/><path d="M282 831l6-29l19-21l-5 28z" color="#a8d04c"/><path d="M288 802l13 27l19-22l-13-26z" color="#a4ce4b"/><path d="M301 829l16 61l18-25l-15-58z" color="#c6dc57"/><path d="M317 890l16 71l19-28l-17-68z" color="#ebe05f"/><path d="M333 961l16 59l18-30l-15-57z" color="#f6c444"/><path d="M349 1020l13 27l18-31l-13-26z" color="#f6b033"/><path d="M362 1047l12-34l19-28l-13 31z" color="#cb942c"/><path d="M374 1013l9-81l19-24l-9 77z" color="#f3d252"/><path d="M383 932l8-83l20-19l-9 78z" color="#cfe05a"/><path d="M391 849l13-35l21-17l-14 33z" color="#9bca48"/><path d="M404 814l18 35l20-18l-17-34z" color="#97c746"/><path d="M422 849l21 72l20-23l-21-67z" color="#bcd853"/><path d="M443 921l20 70l20-26l-20-67z" color="#e4e05e"/><path d="M463 991l18 35l19-28l-17-33z" color="#f2d656"/><path d="M481 1026l15-25l20-26l-16 23z" color="#a18e39"/><path d="M496 1001l13-63l20-21l-13 58z" color="#e3e05e"/><path d="M509 938l13-65l21-15l-14 59z" color="#b8d752"/><path d="M522 873l16-26l21-13l-16 24z" color="#8bbc41"/><path d="M538 847l19 30l22-14l-20-29z" color="#8cc243"/><path d="M557 877l21 59l22-17l-21-56z" color="#aad14d"/><path d="M578 936l21 59l21-21l-20-55z" color="#d0e05a"/><path d="M599 995l19 30l21-23l-19-28z" color="#e1e05d"/><path d="M618 1025l20-28l22-20l-21 25z" color="#a8a946"/><path d="M638 997l18-59l23-15l-19 54z" color="#c5dc56"/><path d="M656 938l21-29l22-12l-20 26z" color="#92bb43"/><path d="M677 909l25 38l23-14l-26-36z" color="#9cca48"/><path d="M702 947l26 65l23-17l-26-62z" color="#bdd853"/><path d="M728 1012l26 38l22-18l-25-37z" color="#d5e05b"/><path d="M754 1050l19-16l23-17l-20 15z" color="#7b8034"/><path d="M773 1034l19-37l23-14l-19 34z" color="#c5dc56"/><path d="M792 997l20-16l24-13l-21 15z" color="#7c9838"/><path d="M812 981l23 25l23-13l-22-25z" color="#a8d04c"/><path d="M835 1006l23 41l23-15l-23-39z" color="#bcd853"/><path d="M858 1047l22 25l23-15l-22-25z" color="#ccdf59"/><path d="M880 1072l21-7l24-14l-22 6z" color="#a4b348"/><path d="M901 1065l21-19l24-13l-21 18z" color="#94a741"/><path d="M922 1046l22-6l24-13l-22 6z" color="#88a23d"/><path d="M944 1040l55 19l23-14l-54-18z" color="#abd14d"/><path d="M999 1059l55 21l22-14l-54-21z" color="#add24e"/><path d="M1054 1080l56 20l20-15l-54-19z" color="#aed24e"/><path d="M1110 1100l56 18l19-15l-55-18z" color="#aed34e"/><path d="M1166 1118l57 17l18-16l-56-16z" color="#aed24e"/><path d="M1223 1135l57 16l17-16l-56-16z" color="#acd24d"/><path d="M1280 1151l58 16l15-17l-56-15z" color="#aad14d"/><path d="M1338 1167l59 15l14-17l-58-15z" color="#a8d04c"/><path d="M1397 1182l59 13l13-16l-58-14z" color="#a5ce4b"/><path d="M154 654l32 126l15-16l-34-119z" color="#78b63b"/><path d="M186 780l40 220l17-27l-42-209z" color="#f2d858"/><path d="M226 1000l30 118l19-32l-32-113z" color="#e6790f"/><path d="M256 1118l5-28l20-31l-6 27z" color="#d2670a"/><path d="M261 1090l2-73l19-28l-1 70z" color="#ed8919"/><path d="M263 1017l0-90l18-24l1 86z" color="#f6c343"/><path d="M263 927l2-75l17-21l-1 72z" color="#dce05c"/><path d="M265 852l6-31l17-19l-6 29z" color="#b2d44f"/><path d="M271 821l13 29l17-21l-13-27z" color="#add24e"/><path d="M284 850l16 62l17-22l-16-61z" color="#d0e05a"/><path d="M300 912l17 74l16-25l-16-71z" color="#f1db5b"/><path d="M317 986l16 61l16-27l-16-59z" color="#f8ba3a"/><path d="M333 1047l13 28l16-28l-13-27z" color="#f2a028"/><path d="M346 1075l12-36l16-26l-12 34z" color="#cf8c24"/><path d="M358 1039l8-85l17-22l-9 81z" color="#f5c848"/><path d="M366 954l8-88l17-17l-8 83z" color="#d6e05b"/><path d="M374 866l12-38l18-14l-13 35z" color="#a1cd4a"/><path d="M386 828l18 38l18-17l-18-35z" color="#9cca48"/><path d="M404 866l21 75l18-20l-21-72z" color="#c5dc56"/><path d="M425 941l21 74l17-24l-20-70z" color="#ede05f"/><path d="M446 1015l17 37l18-26l-18-35z" color="#f4cc4c"/><path d="M463 1052l15-28l18-23l-15 25z" color="#ad9136"/><path d="M478 1024l12-68l19-18l-13 63z" color="#ebe05f"/><path d="M490 956l13-69l19-14l-13 65z" color="#bfda54"/><path d="M503 887l15-29l20-11l-16 26z" color="#94c545"/><path d="M518 858l20 32l19-13l-19-30z" color="#91c544"/><path d="M538 890l21 62l19-16l-21-59z" color="#b0d34f"/><path d="M559 952l21 62l19-19l-21-59z" color="#d6e05b"/><path d="M580 1014l19 31l19-20l-19-30z" color="#e8e05f"/><path d="M599 1045l20-30l19-18l-20 28z" color="#b6b14b"/><path d="M619 1015l17-64l20-13l-18 59z" color="#ccdf59"/><path d="M636 951l20-31l21-11l-21 29z" color="#9bc547"/><path d="M656 920l26 40l20-13l-25-38z" color="#9fcc49"/><path d="M682 960l26 67l20-15l-26-65z" color="#c2db55"/><path d="M708 1027l25 39l21-16l-26-38z" color="#dae05c"/><path d="M733 1066l20-17l20-15l-19 16z" color="#8d903b"/><path d="M753 1049l18-39l21-13l-19 37z" color="#cade58"/><path d="M771 1010l20-18l21-11l-20 16z" color="#87a33d"/><path d="M791 992l23 26l21-12l-23-25z" color="#abd14d"/><path d="M814 1018l22 41l22-12l-23-41z" color="#c0da55"/><path d="M836 1059l22 26l22-13l-22-25z" color="#d0e05a"/><path d="M858 1085l22-7l21-13l-21 7z" color="#a3af46"/><path d="M880 1078l20-20l22-12l-21 19z" color="#9db045"/><path d="M900 1058l22-7l22-11l-22 6z" color="#88a03d"/><path d="M922 1051l56 20l21-12l-55-19z" color="#aed34e"/><path d="M978 1071l56 22l20-13l-55-21z" color="#b0d34f"/><path d="M1034 1093l57 21l19-14l-56-20z" color="#b2d44f"/><path d="M1091 1114l57 18l18-14l-56-18z" color="#b2d450"/><path d="M1148 1132l59 18l16-15l-57-17z" color="#b1d44f"/><path d="M1207 1150l58 16l15-15l-57-16z" color="#b0d34f"/><path d="M1265 1166l60 16l13-15l-58-16z" color="#aed24e"/><path d="M1325 1182l60 15l12-15l-59-15z" color="#abd14d"/><path d="M1385 1197l60 14l11-16l-59-13z" color="#a8d04c"/><path d="M143 663l28 130l15-13l-32-126z" color="#7fba3e"/><path d="M171 793l38 230l17-23l-40-220z" color="#f3d050"/><path d="M209 1023l26 123l21-28l-30-118z" color="#d3670a"/><path d="M235 1146l7-29l19-27l-5 28z" color="#bd5305"/><path d="M242 1117l3-76l18-24l-2 73z" color="#e5780f"/><path d="M245 1041l1-92l17-22l0 90z" color="#f8b838"/><path d="M246 949l2-79l17-18l-2 75z" color="#e5e05e"/><path d="M248 870l8-31l15-18l-6 31z" color="#bbd853"/><path d="M256 839l13 29l15-18l-13-29z" color="#b6d651"/><path d="M269 868l17 65l14-21l-16-62z" color="#d8e05c"/><path d="M286 933l17 75l14-22l-17-74z" color="#f3d353"/><path d="M303 1008l16 63l14-24l-16-61z" color="#f5ad30"/><path d="M319 1071l13 28l14-24l-13-28z" color="#ef921f"/><path d="M332 1099l11-37l15-23l-12 36z" color="#d2831d"/><path d="M343 1062l8-89l15-19l-8 85z" color="#f7bf3f"/><path d="M351 973l7-91l16-16l-8 88z" color="#dde05d"/><path d="M358 882l12-39l16-15l-12 38z" color="#a7d04c"/><path d="M370 843l18 38l16-15l-18-38z" color="#a2cd4a"/><path d="M388 881l21 79l16-19l-21-75z" color="#cddf59"/><path d="M409 960l21 77l16-22l-21-74z" color="#f1db5b"/><path d="M430 1037l18 38l15-23l-17-37z" color="#f6c343"/><path d="M448 1075l15-29l15-22l-15 28z" color="#b79132"/><path d="M463 1046l11-72l16-18l-12 68z" color="#f1dd5d"/><path d="M474 974l12-74l17-13l-13 69z" color="#c7dd57"/><path d="M486 900l16-30l16-12l-15 29z" color="#99c947"/><path d="M502 870l19 32l17-12l-20-32z" color="#95c746"/><path d="M521 902l21 65l17-15l-21-62z" color="#b6d651"/><path d="M542 967l22 65l16-18l-21-62z" color="#dce05c"/><path d="M564 1032l19 32l16-19l-19-31z" color="#efe060"/><path d="M583 1064l19-32l17-17l-20 30z" color="#c2b84e"/><path d="M602 1032l17-68l17-13l-17 64z" color="#d2e05b"/><path d="M619 964l20-33l17-11l-20 31z" color="#a2ca4a"/><path d="M639 931l25 40l18-11l-26-40z" color="#a2cd4a"/><path d="M664 971l26 69l18-13l-26-67z" color="#c7dd57"/><path d="M690 1040l25 40l18-14l-25-39z" color="#dee05d"/><path d="M715 1080l20-18l18-13l-20 17z" color="#9b9b40"/><path d="M735 1062l18-41l18-11l-18 39z" color="#cfe05a"/><path d="M753 1021l20-19l18-10l-20 18z" color="#8fab40"/><path d="M773 1002l22 26l19-10l-23-26z" color="#aed34e"/><path d="M795 1028l23 42l18-11l-22-41z" color="#c3db56"/><path d="M818 1070l22 25l18-10l-22-26z" color="#d3e05b"/><path d="M840 1095l21-7l19-10l-22 7z" color="#a0aa45"/><path d="M861 1088l20-19l19-11l-20 20z" color="#a5b648"/><path d="M881 1069l21-7l20-11l-22 7z" color="#89a03d"/><path d="M902 1062l57 20l19-11l-56-20z" color="#b2d44f"/><path d="M959 1082l58 22l17-11l-56-22z" color="#b3d550"/><path d="M1017 1104l58 22l16-12l-57-21z" color="#b5d551"/><path d="M1075 1126l58 19l15-13l-57-18z" color="#b5d651"/><path d="M1133 1145l59 17l15-12l-59-18z" color="#b5d551"/><path d="M1192 1162l60 18l13-14l-58-16z" color="#b3d550"/><path d="M1252 1180l61 16l12-14l-60-16z" color="#b1d44f"/><path d="M1313 1196l61 15l11-14l-60-15z" color="#aed34e"/><path d="M1374 1211l62 13l9-13l-60-14z" color="#aad14d"/></g><path d="M20 120L142.5 165" stroke="#222" stroke-width="0.85" fill="none"/><path d="M142.5 165L204.5 93.5" stroke="#222" stroke-width="0.85" fill="none"/><path d="M204.5 93.5L210 30.5" stroke="#555" stroke-width="0.85" fill="none"/><path d="M314.2 128.1L380.8 71.7" stroke="#f0f0f0" stroke-width="0.6" fill="none"/><path d="M380.8 71.7L379.7 5.6" stroke="#f0f0f0" stroke-width="0.6" fill="none"/><path d="M337.4 136.8L401.8 77.9" stroke="#f0f0f0" stroke-width="0.6" fill="none"/><path d="M401.8 77.9L402 10.7" stroke="#f0f0f0" stroke-width="0.6" fill="none"/><path d="M360.7 145.5L422.6 84" stroke="#f0f0f0" stroke-width="0.6" fill="none"/><path d="M422.6 84L424.3 15.8" stroke="#f0f0f0" stroke-width="0.6" fill="none"/><path d="M386.3 155.2L445.4 90.8" stroke="#f0f0f0" stroke-width="0.6" fill="none"/><path d="M445.4 90.8L448.7 21.4" stroke="#f0f0f0" stroke-width="0.6" fill="none"/><path d="M309.6 108.2L417.6 146.7" stroke="#f0f0f0" stroke-width="0.6" fill="none"/><path d="M309.6 108.2L303 36.5" stroke="#f0f0f0" stroke-width="0.6" fill="none"/><path d="M327.6 93.9L432.7 129.1" stroke="#f0f0f0" stroke-width="0.6" fill="none"/><path d="M327.6 93.9L322.6 24.3" stroke="#f0f0f0" stroke-width="0.6" fill="none"/><path d="M344.2 80.8L446.5 113" stroke="#f0f0f0" stroke-width="0.6" fill="none"/><path d="M344.2 80.8L340.5 13.2" stroke="#f0f0f0" stroke-width="0.6" fill="none"/><path d="M359.5 68.6L459.1 98.3" stroke="#f0f0f0" stroke-width="0.6" fill="none"/><path d="M359.5 68.6L357 3" stroke="#f0f0f0" stroke-width="0.6" fill="none"/><path d="M290.8 90.9L361.5 39.9" stroke="#f0f0f0" stroke-width="0.6" fill="none"/><path d="M361.5 39.9L463.3 67.2" stroke="#f0f0f0" stroke-width="0.6" fill="none"/><path d="M286.9 54.9L360.4 8" stroke="#f0f0f0" stroke-width="0.6" fill="none"/><path d="M360.4 8L465.6 32.8" stroke="#f0f0f0" stroke-width="0.6" fill="none"/><path d="M294 120.5L362.5 66.3" stroke="#cfcfcf" stroke-width="0.7" fill="none"/><path d="M362.5 66.3L461.5 95.5" stroke="#cfcfcf" stroke-width="0.7" fill="none"/><path d="M362.5 66.3L360.2 1.1" stroke="#bdbdbd" stroke-width="0.7" fill="none"/><path d="M286 47L360.2 1.1" stroke="#8c8c8c" stroke-width="0.8" fill="none"/><path d="M360.2 1.1L466 25.4" stroke="#8c8c8c" stroke-width="0.8" fill="none"/><path d="M294 120.5L286 47" stroke="#8c8c8c" stroke-width="0.8" fill="none"/><g class="s sb" transform="scale(.1)"><path d="M3588 365l14 35l25-33l-14-37z" color="#dee854"/><path d="M3602 400l15 72l25-27l-15-78z" color="#f5d946"/><path d="M3617 472l15 72l24-22l-14-77z" color="#f4961f"/><path d="M3632 544l13 34l25-19l-14-37z" color="#e8770f"/><path d="M3645 578l28-13l25-19l-28 13z" color="#b75d0b"/><path d="M3673 565l28-38l24-19l-27 38z" color="#ca7313"/><path d="M3701 527l28-38l24-20l-28 39z" color="#d19328"/><path d="M3729 489l28-14l25-19l-29 13z" color="#c5ac37"/><path d="M3757 475l15 20l25-20l-15-19z" color="#f5d947"/><path d="M3772 495l16 39l24-23l-15-36z" color="#f8bf38"/><path d="M3788 534l15 38l24-24l-15-37z" color="#f69e24"/><path d="M3803 572l15 19l24-24l-15-19z" color="#f28d18"/><path d="M3818 591l13-11l24-24l-13 11z" color="#b46812"/><path d="M3831 580l13-29l24-25l-13 30z" color="#e39221"/><path d="M3844 551l14-29l24-26l-14 30z" color="#e5af33"/><path d="M3858 522l13-12l24-25l-13 11z" color="#b9a235"/><path d="M3871 510l19 20l24-27l-19-18z" color="#f5d846"/><path d="M3890 530l18 33l24-29l-18-31z" color="#f8c33b"/><path d="M3908 563l18 19l24-29l-18-19z" color="#f8b030"/><path d="M3926 582l18-14l24-29l-18 14z" color="#c99027"/><path d="M3944 568l17-30l24-29l-17 30z" color="#c6a132"/><path d="M3961 538l18-14l24-29l-18 14z" color="#c4b73d"/><path d="M3979 524l18 11l24-29l-18-11z" color="#f1e94f"/><path d="M3997 535l17 16l24-29l-17-16z" color="#f3e34c"/><path d="M4014 551l18 10l24-28l-18-11z" color="#f4dd48"/><path d="M4032 561l14-4l24-28l-14 4z" color="#e2cd43"/><path d="M4046 557l14-11l24-27l-14 10z" color="#c2b83e"/><path d="M4060 546l15-5l23-26l-14 4z" color="#dbd64a"/><path d="M4075 541l17 6l23-26l-17-6z" color="#edea52"/><path d="M4092 547l16 7l24-26l-17-7z" color="#eeea51"/><path d="M4108 554l17 5l24-25l-17-6z" color="#eeea51"/><path d="M4125 559l13 2l24-25l-13-2z" color="#ede851"/><path d="M4138 561l13-1l24-25l-13 1z" color="#e4e14f"/><path d="M4151 560l14 1l23-24l-13-2z" color="#e9e852"/><path d="M4165 561l36 10l23-25l-36-9z" color="#ebeb53"/><path d="M4201 571l36 8l23-23l-36-10z" color="#ebeb53"/><path d="M4237 579l36 9l23-23l-36-9z" color="#ebeb54"/><path d="M4273 588l37 9l23-23l-37-9z" color="#ebeb54"/><path d="M4310 597l37 10l22-22l-36-11z" color="#ebeb54"/><path d="M4347 607l37 11l22-23l-37-10z" color="#ebeb54"/><path d="M4384 618l38 10l22-22l-38-11z" color="#ebeb54"/><path d="M4422 628l38 11l21-22l-37-11z" color="#ebeb53"/><path d="M4460 639l38 11l21-22l-38-11z" color="#eceb53"/><path d="M4498 650l38 12l21-23l-38-11z" color="#ecea53"/><path d="M4536 662l39 11l20-23l-38-11z" color="#ecea53"/><path d="M4575 673l38 12l21-23l-39-12z" color="#ecea52"/><path d="M3563 401l14 32l25-33l-14-35z" color="#e9ec55"/><path d="M3577 433l15 67l25-28l-15-72z" color="#f7d042"/><path d="M3592 500l15 65l25-21l-15-72z" color="#f3931c"/><path d="M3607 565l13 32l25-19l-13-34z" color="#e7770f"/><path d="M3620 597l28-13l25-19l-28 13z" color="#b75d0b"/><path d="M3648 584l28-38l25-19l-28 38z" color="#cb7313"/><path d="M3676 546l28-38l25-19l-28 38z" color="#d19428"/><path d="M3704 508l28-13l25-20l-28 14z" color="#c4ab37"/><path d="M3732 495l15 20l25-20l-15-20z" color="#f5d946"/><path d="M3747 515l16 40l25-21l-16-39z" color="#f8bc37"/><path d="M3763 555l15 40l25-23l-15-38z" color="#f59b22"/><path d="M3778 595l15 20l25-24l-15-19z" color="#f18a17"/><path d="M3793 615l14-10l24-25l-13 11z" color="#b16511"/><path d="M3807 605l13-29l24-25l-13 29z" color="#e48f1f"/><path d="M3820 576l13-29l25-25l-14 29z" color="#e7ab31"/><path d="M3833 547l14-12l24-25l-13 12z" color="#b79c32"/><path d="M3847 535l18 21l25-26l-19-20z" color="#f7d343"/><path d="M3865 556l19 35l24-28l-18-33z" color="#f8bb36"/><path d="M3884 591l18 20l24-29l-18-19z" color="#f7a72a"/><path d="M3902 611l18-13l24-30l-18 14z" color="#c78722"/><path d="M3920 598l17-31l24-29l-17 30z" color="#c79a2e"/><path d="M3937 567l18-14l24-29l-18 14z" color="#c5b13a"/><path d="M3955 553l18 11l24-29l-18-11z" color="#f3e34c"/><path d="M3973 564l17 16l24-29l-17-16z" color="#f5db48"/><path d="M3990 580l18 11l24-30l-18-10z" color="#f6d545"/><path d="M4008 591l14-5l24-29l-14 4z" color="#e3c640"/><path d="M4022 586l15-12l23-28l-14 11z" color="#c1b13a"/><path d="M4037 574l14-5l24-28l-15 5z" color="#ddd548"/><path d="M4051 569l17 6l24-28l-17-6z" color="#efe950"/><path d="M4068 575l17 6l23-27l-16-7z" color="#f0e950"/><path d="M4085 581l17 5l23-27l-17-5z" color="#f0e94f"/><path d="M4102 586l13 1l23-26l-13-2z" color="#efe74f"/><path d="M4115 587l13-1l23-26l-13 1z" color="#e5df4d"/><path d="M4128 586l13 1l24-26l-14-1z" color="#ebe751"/><path d="M4141 587l36 9l24-25l-36-10z" color="#edea52"/><path d="M4177 596l37 9l23-26l-36-8z" color="#edea52"/><path d="M4214 605l36 7l23-24l-36-9z" color="#ecea53"/><path d="M4250 612l37 9l23-24l-37-9z" color="#ecea53"/><path d="M4287 621l38 10l22-24l-37-10z" color="#ebeb53"/><path d="M4325 631l37 10l22-23l-37-11z" color="#ebeb53"/><path d="M4362 641l38 11l22-24l-38-10z" color="#eceb53"/><path d="M4400 652l38 10l22-23l-38-11z" color="#eceb53"/><path d="M4438 662l38 12l22-24l-38-11z" color="#ecea53"/><path d="M4476 674l39 11l21-23l-38-12z" color="#ecea53"/><path d="M4515 685l38 12l22-24l-39-11z" color="#edea52"/><path d="M4553 697l39 11l21-23l-38-12z" color="#edea52"/><path d="M3538 436l14 30l25-33l-14-32z" color="#eeea51"/><path d="M3552 466l15 60l25-26l-15-67z" color="#f8c63d"/><path d="M3567 526l15 61l25-22l-15-65z" color="#f38f1a"/><path d="M3582 587l13 29l25-19l-13-32z" color="#e7770f"/><path d="M3595 616l28-13l25-19l-28 13z" color="#b85d0b"/><path d="M3623 603l27-37l26-20l-28 38z" color="#cb7313"/><path d="M3650 566l28-38l26-20l-28 38z" color="#d29428"/><path d="M3678 528l29-14l25-19l-28 13z" color="#c4aa37"/><path d="M3707 514l15 22l25-21l-15-20z" color="#f5d846"/><path d="M3722 536l16 41l25-22l-16-40z" color="#f8bb36"/><path d="M3738 577l15 41l25-23l-15-40z" color="#f59921"/><path d="M3753 618l15 21l25-24l-15-20z" color="#f08716"/><path d="M3768 639l14-11l25-23l-14 10z" color="#ae6210"/><path d="M3782 628l13-29l25-23l-13 29z" color="#e58d1d"/><path d="M3795 599l13-28l25-24l-13 29z" color="#e9a92f"/><path d="M3808 571l14-12l25-24l-14 12z" color="#b49730"/><path d="M3822 559l18 22l25-25l-18-21z" color="#f8ce41"/><path d="M3840 581l19 37l25-27l-19-35z" color="#f8b332"/><path d="M3859 618l19 22l24-29l-18-20z" color="#f6a126"/><path d="M3878 640l17-14l25-28l-18 13z" color="#c4801e"/><path d="M3895 626l18-30l24-29l-17 31z" color="#c9942a"/><path d="M3913 596l18-13l24-30l-18 14z" color="#c5aa37"/><path d="M3931 583l17 11l25-30l-18-11z" color="#f5dc48"/><path d="M3948 594l18 16l24-30l-17-16z" color="#f6d344"/><path d="M3966 610l18 12l24-31l-18-11z" color="#f8cd40"/><path d="M3984 622l14-6l24-30l-14 5z" color="#e4bd3c"/><path d="M3998 616l14-12l25-30l-15 12z" color="#c1a937"/><path d="M4012 604l15-6l24-29l-14 5z" color="#dfd045"/><path d="M4027 598l17 6l24-29l-17-6z" color="#f2e84e"/><path d="M4044 604l17 5l24-28l-17-6z" color="#f2e74e"/><path d="M4061 609l17 6l24-29l-17-5z" color="#f2e64d"/><path d="M4078 615l13 0l24-28l-13-1z" color="#f1e64d"/><path d="M4091 615l13-2l24-27l-13 1z" color="#e6de4b"/><path d="M4104 613l13 1l24-27l-13-1z" color="#ede74f"/><path d="M4117 614l36 9l24-27l-36-9z" color="#efe950"/><path d="M4153 623l37 8l24-26l-37-9z" color="#efe951"/><path d="M4190 631l37 7l23-26l-36-7z" color="#eeea51"/><path d="M4227 638l37 7l23-24l-37-9z" color="#edea52"/><path d="M4264 645l38 10l23-24l-38-10z" color="#ecea52"/><path d="M4302 655l37 10l23-24l-37-10z" color="#ecea53"/><path d="M4339 665l38 11l23-24l-38-11z" color="#ecea53"/><path d="M4377 676l39 11l22-25l-38-10z" color="#ecea53"/><path d="M4416 687l38 11l22-24l-38-12z" color="#edea52"/><path d="M4454 698l39 11l22-24l-39-11z" color="#edea52"/><path d="M4493 709l39 12l21-24l-38-12z" color="#edea52"/><path d="M4532 721l39 12l21-25l-39-11z" color="#edea52"/><path d="M3512 469l14 28l26-31l-14-30z" color="#f2e64d"/><path d="M3526 497l15 56l26-27l-15-60z" color="#f8bd37"/><path d="M3541 553l15 55l26-21l-15-61z" color="#f28c18"/><path d="M3556 608l14 27l25-19l-13-29z" color="#e7770e"/><path d="M3570 635l28-12l25-20l-28 13z" color="#b85e0b"/><path d="M3598 623l27-38l25-19l-27 37z" color="#cb7313"/><path d="M3625 585l27-38l26-19l-28 38z" color="#d39528"/><path d="M3652 547l29-13l26-20l-29 14z" color="#c3a936"/><path d="M3681 534l15 21l26-19l-15-22z" color="#f5d846"/><path d="M3696 555l16 43l26-21l-16-41z" color="#f8ba35"/><path d="M3712 598l16 43l25-23l-15-41z" color="#f4971f"/><path d="M3728 641l15 21l25-23l-15-21z" color="#ef8615"/><path d="M3743 662l13-11l26-23l-14 11z" color="#ab5f0f"/><path d="M3756 651l14-28l25-24l-13 29z" color="#e68c1c"/><path d="M3770 623l13-29l25-23l-13 28z" color="#eba72d"/><path d="M3783 594l14-11l25-24l-14 12z" color="#b1922e"/><path d="M3797 583l18 23l25-25l-18-22z" color="#f8cb3f"/><path d="M3815 606l19 38l25-26l-19-37z" color="#f8ae2e"/><path d="M3834 644l19 24l25-28l-19-22z" color="#f59b22"/><path d="M3853 668l17-14l25-28l-17 14z" color="#c17a1b"/><path d="M3870 654l18-29l25-29l-18 30z" color="#ca8f26"/><path d="M3888 625l18-14l25-28l-18 13z" color="#c5a333"/><path d="M3906 611l17 12l25-29l-17-11z" color="#f6d444"/><path d="M3923 623l18 18l25-31l-18-16z" color="#f8cb40"/><path d="M3941 641l18 12l25-31l-18-12z" color="#f8c33b"/><path d="M3959 653l14-6l25-31l-14 6z" color="#e4b436"/><path d="M3973 647l15-13l24-30l-14 12z" color="#c1a133"/><path d="M3988 634l14-5l25-31l-15 6z" color="#e0c942"/><path d="M4002 629l17 5l25-30l-17-6z" color="#f4e04a"/><path d="M4019 634l17 5l25-30l-17-5z" color="#f4e04a"/><path d="M4036 639l17 6l25-30l-17-6z" color="#f4df4a"/><path d="M4053 645l13 0l25-30l-13 0z" color="#f2df4a"/><path d="M4066 645l14-3l24-29l-13 2z" color="#e7d848"/><path d="M4080 642l13 1l24-29l-13-1z" color="#f0e64d"/><path d="M4093 643l36 9l24-29l-36-9z" color="#f1e84f"/><path d="M4129 652l37 7l24-28l-37-8z" color="#f1e84f"/><path d="M4166 659l37 6l24-27l-37-7z" color="#f0e950"/><path d="M4203 665l38 7l23-27l-37-7z" color="#eee951"/><path d="M4241 672l37 9l24-26l-38-10z" color="#eeea51"/><path d="M4278 681l38 10l23-26l-37-10z" color="#edea52"/><path d="M4316 691l39 10l22-25l-38-11z" color="#edea52"/><path d="M4355 701l38 11l23-25l-39-11z" color="#edea52"/><path d="M4393 712l39 11l22-25l-38-11z" color="#edea52"/><path d="M4432 723l39 11l22-25l-39-11z" color="#eeea52"/><path d="M4471 734l39 12l22-25l-39-12z" color="#eeea51"/><path d="M4510 746l39 12l22-25l-39-12z" color="#eeea51"/><path d="M3486 502l14 26l26-31l-14-28z" color="#f5dc48"/><path d="M3500 528l15 51l26-26l-15-56z" color="#f8b532"/><path d="M3515 579l15 51l26-22l-15-55z" color="#f18a17"/><path d="M3530 630l14 25l26-20l-14-27z" color="#e7760e"/><path d="M3544 655l28-12l26-20l-28 12z" color="#b85e0b"/><path d="M3572 643l27-38l26-20l-27 38z" color="#cc7413"/><path d="M3599 605l27-39l26-19l-27 38z" color="#d49628"/><path d="M3626 566l29-13l26-19l-29 13z" color="#c2a836"/><path d="M3655 553l15 22l26-20l-15-21z" color="#f5d846"/><path d="M3670 575l16 44l26-21l-16-43z" color="#f8b935"/><path d="M3686 619l16 44l26-22l-16-43z" color="#f4961e"/><path d="M3702 663l15 22l26-23l-15-21z" color="#ee8414"/><path d="M3717 685l14-11l25-23l-13 11z" color="#a85d0e"/><path d="M3731 674l13-29l26-22l-14 28z" color="#e78b1b"/><path d="M3744 645l13-29l26-22l-13 29z" color="#eda62c"/><path d="M3757 616l14-11l26-22l-14 11z" color="#ad8d2c"/><path d="M3771 605l19 25l25-24l-18-23z" color="#f8c73d"/><path d="M3790 630l19 40l25-26l-19-38z" color="#f8a92b"/><path d="M3809 670l19 24l25-26l-19-24z" color="#f4961f"/><path d="M3828 694l17-13l25-27l-17 14z" color="#bf7518"/><path d="M3845 681l18-28l25-28l-18 29z" color="#cc8b23"/><path d="M3863 653l17-14l26-28l-18 14z" color="#c49d30"/><path d="M3880 639l18 13l25-29l-17-12z" color="#f8ce41"/><path d="M3898 652l18 19l25-30l-18-18z" color="#f8c23a"/><path d="M3916 671l18 12l25-30l-18-12z" color="#f8b935"/><path d="M3934 683l14-5l25-31l-14 6z" color="#e3aa31"/><path d="M3948 678l15-13l25-31l-15 13z" color="#c0992f"/><path d="M3963 665l14-5l25-31l-14 5z" color="#e1c13e"/><path d="M3977 660l17 5l25-31l-17-5z" color="#f5d846"/><path d="M3994 665l17 5l25-31l-17-5z" color="#f5d846"/><path d="M4011 670l17 6l25-31l-17-6z" color="#f6d846"/><path d="M4028 676l14 0l24-31l-13 0z" color="#f4d746"/><path d="M4042 676l13-3l25-31l-14 3z" color="#e7d044"/><path d="M4055 673l13 0l25-30l-13-1z" color="#f1df4a"/><path d="M4068 673l37 9l24-30l-36-9z" color="#f3e34b"/><path d="M4105 682l37 7l24-30l-37-7z" color="#f3e44c"/><path d="M4142 689l37 4l24-28l-37-6z" color="#f2e84e"/><path d="M4179 693l38 6l24-27l-38-7z" color="#f0e94f"/><path d="M4217 699l38 9l23-27l-37-9z" color="#efe950"/><path d="M4255 708l38 9l23-26l-38-10z" color="#efe951"/><path d="M4293 717l38 10l24-26l-39-10z" color="#eee951"/><path d="M4331 727l39 11l23-26l-38-11z" color="#eee951"/><path d="M4370 738l39 11l23-26l-39-11z" color="#eee951"/><path d="M4409 749l39 12l23-27l-39-11z" color="#eee951"/><path d="M4448 761l40 12l22-27l-39-12z" color="#efe951"/><path d="M4488 773l39 12l22-27l-39-12z" color="#efe950"/><path d="M3460 536l14 23l26-31l-14-26z" color="#f7d143"/><path d="M3474 559l15 47l26-27l-15-51z" color="#f8ac2d"/><path d="M3489 606l15 46l26-22l-15-51z" color="#f08816"/><path d="M3504 652l14 23l26-20l-14-25z" color="#e7760e"/><path d="M3518 675l28-12l26-20l-28 12z" color="#b85e0b"/><path d="M3546 663l26-38l27-20l-27 38z" color="#cd7513"/><path d="M3572 625l28-39l26-20l-27 39z" color="#d49729"/><path d="M3600 586l28-13l27-20l-29 13z" color="#c1a836"/><path d="M3628 573l16 22l26-20l-15-22z" color="#f5d846"/><path d="M3644 595l16 45l26-21l-16-44z" color="#f8b935"/><path d="M3660 640l16 45l26-22l-16-44z" color="#f4951e"/><path d="M3676 685l15 23l26-23l-15-22z" color="#ed8314"/><path d="M3691 708l14-11l26-23l-14 11z" color="#a65b0e"/><path d="M3705 697l13-29l26-23l-13 29z" color="#e98a1a"/><path d="M3718 668l13-29l26-23l-13 29z" color="#eea52b"/><path d="M3731 639l14-12l26-22l-14 11z" color="#a9882a"/><path d="M3745 627l19 26l26-23l-19-25z" color="#f8c53c"/><path d="M3764 653l19 42l26-25l-19-40z" color="#f7a629"/><path d="M3783 695l19 25l26-26l-19-24z" color="#f3921c"/><path d="M3802 720l17-12l26-27l-17 13z" color="#bc7115"/><path d="M3819 708l18-29l26-26l-18 28z" color="#cc8821"/><path d="M3837 679l18-12l25-28l-17 14z" color="#c2962d"/><path d="M3855 667l18 13l25-28l-18-13z" color="#f8c73d"/><path d="M3873 680l18 20l25-29l-18-19z" color="#f8ba36"/><path d="M3891 700l18 14l25-31l-18-12z" color="#f8b030"/><path d="M3909 714l14-5l25-31l-14 5z" color="#e1a12c"/><path d="M3923 709l14-13l26-31l-15 13z" color="#bf912a"/><path d="M3937 696l15-5l25-31l-14 5z" color="#e2b93a"/><path d="M3952 691l17 5l25-31l-17-5z" color="#f7d042"/><path d="M3969 696l17 6l25-32l-17-5z" color="#f7d042"/><path d="M3986 702l17 5l25-31l-17-6z" color="#f7cf42"/><path d="M4003 707l14 0l25-31l-14 0z" color="#f5ce42"/><path d="M4017 707l13-3l25-31l-13 3z" color="#e8c840"/><path d="M4030 704l13 0l25-31l-13 0z" color="#f3d746"/><path d="M4043 704l37 10l25-32l-37-9z" color="#f5db48"/><path d="M4080 714l37 6l25-31l-37-7z" color="#f4dd48"/><path d="M4117 720l38 3l24-30l-37-4z" color="#f4e14a"/><path d="M4155 723l38 5l24-29l-38-6z" color="#f2e64d"/><path d="M4193 728l38 8l24-28l-38-9z" color="#f1e84f"/><path d="M4231 736l38 10l24-29l-38-9z" color="#f1e94f"/><path d="M4269 746l39 9l23-28l-38-10z" color="#f0e950"/><path d="M4308 755l39 11l23-28l-39-11z" color="#f0e950"/><path d="M4347 766l39 11l23-28l-39-11z" color="#f0e950"/><path d="M4386 777l39 11l23-27l-39-12z" color="#f0e950"/><path d="M4425 788l40 12l23-27l-40-12z" color="#f0e950"/><path d="M4465 800l40 13l22-28l-39-12z" color="#f0e94f"/><path d="M3433 569l14 21l27-31l-14-23z" color="#f8c63c"/><path d="M3447 590l15 42l27-26l-15-47z" color="#f7a529"/><path d="M3462 632l16 42l26-22l-15-46z" color="#ef8615"/><path d="M3478 674l14 22l26-21l-14-23z" color="#e7760e"/><path d="M3492 696l27-13l27-20l-28 12z" color="#b75e0c"/><path d="M3519 683l27-38l26-20l-26 38z" color="#ce7513"/><path d="M3546 645l27-39l27-20l-28 39z" color="#d59829"/><path d="M3573 606l28-14l27-19l-28 13z" color="#c0a836"/><path d="M3601 592l16 24l27-21l-16-22z" color="#f5d946"/><path d="M3617 616l16 46l27-22l-16-45z" color="#f8b834"/><path d="M3633 662l17 45l26-22l-16-45z" color="#f4941d"/><path d="M3650 707l15 24l26-23l-15-23z" color="#ed8213"/><path d="M3665 731l13-11l27-23l-14 11z" color="#a3590d"/><path d="M3678 720l13-30l27-22l-13 29z" color="#ea8a19"/><path d="M3691 690l14-29l26-22l-13 29z" color="#f0a52b"/><path d="M3705 661l13-12l27-22l-14 12z" color="#a58429"/><path d="M3718 649l19 27l27-23l-19-26z" color="#f8c33b"/><path d="M3737 676l20 44l26-25l-19-42z" color="#f7a428"/><path d="M3757 720l19 26l26-26l-19-25z" color="#f38f1a"/><path d="M3776 746l17-13l26-25l-17 12z" color="#ba6d13"/><path d="M3793 733l18-28l26-26l-18 29z" color="#cd861f"/><path d="M3811 705l18-12l26-26l-18 12z" color="#c0912a"/><path d="M3829 693l18 14l26-27l-18-13z" color="#f8c13a"/><path d="M3847 707l18 22l26-29l-18-20z" color="#f8b331"/><path d="M3865 729l18 14l26-29l-18-14z" color="#f8a92b"/><path d="M3883 743l14-4l26-30l-14 5z" color="#e09927"/><path d="M3897 739l15-13l25-30l-14 13z" color="#be8926"/><path d="M3912 726l14-5l26-30l-15 5z" color="#e2b135"/><path d="M3926 721l17 6l26-31l-17-5z" color="#f8c83e"/><path d="M3943 727l18 7l25-32l-17-6z" color="#f8c73d"/><path d="M3961 734l17 6l25-33l-17-5z" color="#f8c63d"/><path d="M3978 740l13 0l26-33l-14 0z" color="#f5c53c"/><path d="M3991 740l13-4l26-32l-13 3z" color="#e9c03c"/><path d="M4004 736l14 0l25-32l-13 0z" color="#f4cf42"/><path d="M4018 736l37 10l25-32l-37-10z" color="#f6d344"/><path d="M4055 746l37 6l25-32l-37-6z" color="#f6d544"/><path d="M4092 752l38 3l25-32l-38-3z" color="#f5d947"/><path d="M4130 755l38 4l25-31l-38-5z" color="#f4e04a"/><path d="M4168 759l38 8l25-31l-38-8z" color="#f3e44c"/><path d="M4206 767l39 8l24-29l-38-10z" color="#f2e64d"/><path d="M4245 775l39 10l24-30l-39-9z" color="#f2e84e"/><path d="M4284 785l39 10l24-29l-39-11z" color="#f2e84e"/><path d="M4323 795l39 11l24-29l-39-11z" color="#f1e84e"/><path d="M4362 806l40 12l23-30l-39-11z" color="#f1e84f"/><path d="M4402 818l40 12l23-30l-40-12z" color="#f2e84e"/><path d="M4442 830l40 12l23-29l-40-13z" color="#f2e84e"/><path d="M3406 602l14 19l27-31l-14-21z" color="#f8ba36"/><path d="M3420 621l16 38l26-27l-15-42z" color="#f69f25"/><path d="M3436 659l15 38l27-23l-16-42z" color="#ee8414"/><path d="M3451 697l14 19l27-20l-14-22z" color="#e7760e"/><path d="M3465 716l27-12l27-21l-27 13z" color="#b75e0c"/><path d="M3492 704l27-39l27-20l-27 38z" color="#cf7614"/><path d="M3519 665l26-40l28-19l-27 39z" color="#d6992a"/><path d="M3545 625l29-13l27-20l-28 14z" color="#bfa736"/><path d="M3574 612l16 24l27-20l-16-24z" color="#f5d947"/><path d="M3590 636l16 47l27-21l-16-46z" color="#f8b834"/><path d="M3606 683l17 47l27-23l-17-45z" color="#f3931d"/><path d="M3623 730l15 24l27-23l-15-24z" color="#ec8113"/><path d="M3638 754l14-12l26-22l-13 11z" color="#9f570d"/><path d="M3652 742l13-29l26-23l-13 30z" color="#eb8a19"/><path d="M3665 713l13-30l27-22l-14 29z" color="#f2a62b"/><path d="M3678 683l13-12l27-22l-13 12z" color="#a78529"/><path d="M3691 671l20 27l26-22l-19-27z" color="#f8c23a"/><path d="M3711 698l19 46l27-24l-20-44z" color="#f6a227"/><path d="M3730 744l19 27l27-25l-19-26z" color="#f28c18"/><path d="M3749 771l18-13l26-25l-17 13z" color="#b86a12"/><path d="M3767 758l17-27l27-26l-18 28z" color="#cf851e"/><path d="M3784 731l18-13l27-25l-18 12z" color="#bd8c27"/><path d="M3802 718l18 15l27-26l-18-14z" color="#f8bd37"/><path d="M3820 733l19 24l26-28l-18-22z" color="#f8ae2e"/><path d="M3839 757l18 15l26-29l-18-14z" color="#f7a327"/><path d="M3857 772l14-4l26-29l-14 4z" color="#de9323"/><path d="M3871 768l15-12l26-30l-15 13z" color="#bd8323"/><path d="M3886 756l14-5l26-30l-14 5z" color="#e1a931"/><path d="M3900 751l17 6l26-30l-17-6z" color="#f8c039"/><path d="M3917 757l18 8l26-31l-18-7z" color="#f8be38"/><path d="M3935 765l17 6l26-31l-17-6z" color="#f8bd37"/><path d="M3952 771l13 1l26-32l-13 0z" color="#f5bb37"/><path d="M3965 772l13-3l26-33l-13 4z" color="#e9b637"/><path d="M3978 769l14 0l26-33l-14 0z" color="#f5c63d"/><path d="M3992 769l37 10l26-33l-37-10z" color="#f8cb3f"/><path d="M4029 779l38 6l25-33l-37-6z" color="#f8cd40"/><path d="M4067 785l38 3l25-33l-38-3z" color="#f7d243"/><path d="M4105 788l38 3l25-32l-38-4z" color="#f5d846"/><path d="M4143 791l38 8l25-32l-38-8z" color="#f4dd49"/><path d="M4181 799l39 8l25-32l-39-8z" color="#f4e04a"/><path d="M4220 807l39 9l25-31l-39-10z" color="#f3e24b"/><path d="M4259 816l40 10l24-31l-39-10z" color="#f3e34c"/><path d="M4299 826l40 11l23-31l-39-11z" color="#f3e44c"/><path d="M4339 837l40 12l23-31l-40-12z" color="#f3e54c"/><path d="M4379 849l40 12l23-31l-40-12z" color="#f3e44c"/><path d="M4419 861l40 12l23-31l-40-12z" color="#f3e44c"/><path d="M3379 635l14 17l27-31l-14-19z" color="#f8af2f"/><path d="M3393 652l15 34l28-27l-16-38z" color="#f59921"/><path d="M3408 686l16 34l27-23l-15-38z" color="#ed8214"/><path d="M3424 720l14 17l27-21l-14-19z" color="#e7760e"/><path d="M3438 737l27-13l27-20l-27 12z" color="#b75e0c"/><path d="M3465 724l26-39l28-20l-27 39z" color="#d07714"/><path d="M3491 685l27-39l27-21l-26 40z" color="#d89b2a"/><path d="M3518 646l28-14l28-20l-29 13z" color="#bda736"/><path d="M3546 632l16 24l28-20l-16-24z" color="#f5da47"/><path d="M3562 656l17 48l27-21l-16-47z" color="#f8b834"/><path d="M3579 704l16 48l28-22l-17-47z" color="#f3921c"/><path d="M3595 752l16 25l27-23l-15-24z" color="#ec8013"/><path d="M3611 777l13-12l28-23l-14 12z" color="#9d550c"/><path d="M3624 765l13-30l28-22l-13 29z" color="#ed8a18"/><path d="M3637 735l13-31l28-21l-13 30z" color="#f4a62b"/><path d="M3650 704l14-11l27-22l-13 12z" color="#ab882a"/><path d="M3664 693l19 28l28-23l-20-27z" color="#f8c13a"/><path d="M3683 721l20 47l27-24l-19-46z" color="#f6a026"/><path d="M3703 768l19 27l27-24l-19-27z" color="#f18b17"/><path d="M3722 795l18-12l27-25l-18 13z" color="#b56811"/><path d="M3740 783l18-28l26-24l-17 27z" color="#d0841d"/><path d="M3758 755l17-12l27-25l-18 13z" color="#bb8826"/><path d="M3775 743l19 16l26-26l-18-15z" color="#f8ba35"/><path d="M3794 759l18 25l27-27l-19-24z" color="#f8a92b"/><path d="M3812 784l18 16l27-28l-18-15z" color="#f69f24"/><path d="M3830 800l15-4l26-28l-14 4z" color="#dc8e20"/><path d="M3845 796l14-12l27-28l-15 12z" color="#bb7e20"/><path d="M3859 784l15-4l26-29l-14 5z" color="#e0a22d"/><path d="M3874 780l17 7l26-30l-17-6z" color="#f8b935"/><path d="M3891 787l17 9l27-31l-18-8z" color="#f8b633"/><path d="M3908 796l17 7l27-32l-17-6z" color="#f8b432"/><path d="M3925 803l14 0l26-31l-13-1z" color="#f4b232"/><path d="M3939 803l13-2l26-32l-13 3z" color="#e9ae32"/><path d="M3952 801l14 0l26-32l-14 0z" color="#f5bc38"/><path d="M3966 801l37 11l26-33l-37-10z" color="#f8c13a"/><path d="M4003 812l38 6l26-33l-38-6z" color="#f8c33b"/><path d="M4041 818l38 3l26-33l-38-3z" color="#f8c93e"/><path d="M4079 821l38 4l26-34l-38-3z" color="#f7d042"/><path d="M4117 825l39 7l25-33l-38-8z" color="#f6d545"/><path d="M4156 832l39 8l25-33l-39-8z" color="#f5d946"/><path d="M4195 840l40 9l24-33l-39-9z" color="#f5db47"/><path d="M4235 849l39 10l25-33l-40-10z" color="#f4dd48"/><path d="M4274 859l40 11l25-33l-40-11z" color="#f4de49"/><path d="M4314 870l41 11l24-32l-40-12z" color="#f4de49"/><path d="M4355 881l40 12l24-32l-40-12z" color="#f4de49"/><path d="M4395 893l41 13l23-33l-40-12z" color="#f4de49"/><path d="M3351 668l15 16l27-32l-14-17z" color="#f7a529"/><path d="M3366 684l15 29l27-27l-15-34z" color="#f3931d"/><path d="M3381 713l15 30l28-23l-16-34z" color="#ec8013"/><path d="M3396 743l15 16l27-22l-14-17z" color="#e7760e"/><path d="M3411 759l27-13l27-22l-27 13z" color="#b65e0c"/><path d="M3438 746l25-40l28-21l-26 39z" color="#d17814"/><path d="M3463 706l27-40l28-20l-27 39z" color="#d99c2b"/><path d="M3490 666l27-14l29-20l-28 14z" color="#bca636"/><path d="M3517 652l16 25l29-21l-16-24z" color="#f5da47"/><path d="M3533 677l17 49l29-22l-17-48z" color="#f8b834"/><path d="M3550 726l17 49l28-23l-16-48z" color="#f3921c"/><path d="M3567 775l16 25l28-23l-16-25z" color="#ec7f12"/><path d="M3583 800l14-12l27-23l-13 12z" color="#9d550c"/><path d="M3597 788l12-31l28-22l-13 30z" color="#ef8a18"/><path d="M3609 757l13-31l28-22l-13 31z" color="#f6a72b"/><path d="M3622 726l14-12l28-21l-14 11z" color="#af8b2b"/><path d="M3636 714l20 29l27-22l-19-28z" color="#f8c13a"/><path d="M3656 743l20 48l27-23l-20-47z" color="#f69f25"/><path d="M3676 791l19 29l27-25l-19-27z" color="#f18917"/><path d="M3695 820l18-12l27-25l-18 12z" color="#b36611"/><path d="M3713 808l17-28l28-25l-18 28z" color="#d2841c"/><path d="M3730 780l18-13l27-24l-17 12z" color="#b88424"/><path d="M3748 767l18 17l28-25l-19-16z" color="#f8b734"/><path d="M3766 784l19 26l27-26l-18-25z" color="#f7a629"/><path d="M3785 810l18 17l27-27l-18-16z" color="#f59b22"/><path d="M3803 827l15-4l27-27l-15 4z" color="#db8a1e"/><path d="M3818 823l14-11l27-28l-14 12z" color="#b97a1e"/><path d="M3832 812l14-4l28-28l-15 4z" color="#de9d2a"/><path d="M3846 808l18 8l27-29l-17-7z" color="#f8b331"/><path d="M3864 816l17 9l27-29l-17-9z" color="#f8af2f"/><path d="M3881 825l18 8l26-30l-17-7z" color="#f8ad2e"/><path d="M3899 833l13 1l27-31l-14 0z" color="#f4aa2d"/><path d="M3912 834l13-2l27-31l-13 2z" color="#e9a62d"/><path d="M3925 832l14 1l27-32l-14 0z" color="#f5b433"/><path d="M3939 833l38 10l26-31l-37-11z" color="#f8b935"/><path d="M3977 843l38 8l26-33l-38-6z" color="#f8bb36"/><path d="M4015 851l38 4l26-34l-38-3z" color="#f8c039"/><path d="M4053 855l39 4l25-34l-38-4z" color="#f8c73d"/><path d="M4092 859l39 7l25-34l-39-7z" color="#f8cd41"/><path d="M4131 866l39 8l25-34l-39-8z" color="#f7d142"/><path d="M4170 874l39 9l26-34l-40-9z" color="#f6d344"/><path d="M4209 883l40 10l25-34l-39-10z" color="#f6d545"/><path d="M4249 893l41 11l24-34l-40-11z" color="#f6d745"/><path d="M4290 904l40 11l25-34l-41-11z" color="#f6d746"/><path d="M4330 915l41 13l24-35l-40-12z" color="#f6d846"/><path d="M4371 928l41 13l24-35l-41-13z" color="#f6d746"/><path d="M3322 684l15 17l29-17l-15-16z" color="#f7a428"/><path d="M3337 701l16 31l28-19l-15-29z" color="#f3921c"/><path d="M3353 732l15 32l28-21l-15-30z" color="#ec8013"/><path d="M3368 764l15 17l28-22l-15-16z" color="#e7760e"/><path d="M3383 781l27-14l28-21l-27 13z" color="#b65e0c"/><path d="M3410 767l25-40l28-21l-25 40z" color="#d27914"/><path d="M3435 727l26-41l29-20l-27 40z" color="#da9e2c"/><path d="M3461 686l28-14l28-20l-27 14z" color="#baa636"/><path d="M3489 672l16 26l28-21l-16-25z" color="#f5db47"/><path d="M3505 698l17 50l28-22l-17-49z" color="#f8b935"/><path d="M3522 748l17 50l28-23l-17-49z" color="#f3911c"/><path d="M3539 798l16 25l28-23l-16-25z" color="#eb7f12"/><path d="M3555 823l13-12l29-23l-14 12z" color="#a1560c"/><path d="M3568 811l13-31l28-23l-12 31z" color="#f08b18"/><path d="M3581 780l13-32l28-22l-13 31z" color="#f8a82b"/><path d="M3594 748l14-12l28-22l-14 12z" color="#b28e2b"/><path d="M3608 736l19 29l29-22l-20-29z" color="#f8c13a"/><path d="M3627 765l21 50l28-24l-20-48z" color="#f69f24"/><path d="M3648 815l19 29l28-24l-19-29z" color="#f08816"/><path d="M3667 844l18-12l28-24l-18 12z" color="#b16410"/><path d="M3685 832l17-28l28-24l-17 28z" color="#d4841c"/><path d="M3702 804l18-13l28-24l-18 13z" color="#b58123"/><path d="M3720 791l18 17l28-24l-18-17z" color="#f8b533"/><path d="M3738 808l19 28l28-26l-19-26z" color="#f7a428"/><path d="M3757 836l19 18l27-27l-18-17z" color="#f49820"/><path d="M3776 854l14-4l28-27l-15 4z" color="#d9871c"/><path d="M3790 850l14-11l28-27l-14 11z" color="#b7771c"/><path d="M3804 839l15-4l27-27l-14 4z" color="#dd9828"/><path d="M3819 835l17 8l28-27l-18-8z" color="#f8ae2f"/><path d="M3836 843l18 11l27-29l-17-9z" color="#f8aa2c"/><path d="M3854 854l17 9l28-30l-18-8z" color="#f7a72a"/><path d="M3871 863l14 1l27-30l-13-1z" color="#f3a429"/><path d="M3885 864l13-2l27-30l-13 2z" color="#e9a02a"/><path d="M3898 862l14 1l27-30l-14-1z" color="#f4ad2e"/><path d="M3912 863l37 11l28-31l-38-10z" color="#f8b230"/><path d="M3949 874l39 9l27-32l-38-8z" color="#f8b331"/><path d="M3988 883l38 5l27-33l-38-4z" color="#f8b734"/><path d="M4026 888l39 5l27-34l-39-4z" color="#f8be38"/><path d="M4065 893l39 8l27-35l-39-7z" color="#f8c43b"/><path d="M4104 901l40 8l26-35l-39-8z" color="#f8c83e"/><path d="M4144 909l40 9l25-35l-39-9z" color="#f8cb3f"/><path d="M4184 918l40 10l25-35l-40-10z" color="#f8cd41"/><path d="M4224 928l41 11l25-35l-41-11z" color="#f7cf41"/><path d="M4265 939l40 12l25-36l-40-11z" color="#f7d042"/><path d="M4305 951l41 12l25-35l-41-13z" color="#f7d042"/><path d="M4346 963l42 14l24-36l-41-13z" color="#f7d042"/><path d="M3293 699l15 18l29-16l-15-17z" color="#f8a82a"/><path d="M3308 717l16 34l29-19l-16-31z" color="#f4951e"/><path d="M3324 751l16 34l28-21l-15-32z" color="#ec8113"/><path d="M3340 785l15 18l28-22l-15-17z" color="#e7760e"/><path d="M3355 803l26-14l29-22l-27 14z" color="#b55d0c"/><path d="M3381 789l26-40l28-22l-25 40z" color="#d47a15"/><path d="M3407 749l25-42l29-21l-26 41z" color="#dca02c"/><path d="M3432 707l27-14l30-21l-28 14z" color="#b8a436"/><path d="M3459 693l16 26l30-21l-16-26z" color="#f5dc48"/><path d="M3475 719l18 51l29-22l-17-50z" color="#f8b935"/><path d="M3493 770l17 51l29-23l-17-50z" color="#f3911b"/><path d="M3510 821l16 26l29-24l-16-25z" color="#eb7e12"/><path d="M3526 847l14-12l28-24l-13 12z" color="#a4570c"/><path d="M3540 835l12-32l29-23l-13 31z" color="#f28b18"/><path d="M3552 803l13-33l29-22l-13 32z" color="#f8a82b"/><path d="M3565 770l14-12l29-22l-14 12z" color="#b5912c"/><path d="M3579 758l20 30l28-23l-19-29z" color="#f8c13a"/><path d="M3599 788l20 51l29-24l-21-50z" color="#f69e24"/><path d="M3619 839l20 30l28-25l-19-29z" color="#f08716"/><path d="M3639 869l17-13l29-24l-18 12z" color="#ae6210"/><path d="M3656 856l18-29l28-23l-17 28z" color="#d6851c"/><path d="M3674 827l18-13l28-23l-18 13z" color="#b17e22"/><path d="M3692 814l18 19l28-25l-18-17z" color="#f8b432"/><path d="M3710 833l19 29l28-26l-19-28z" color="#f6a227"/><path d="M3729 862l18 18l29-26l-19-18z" color="#f4961f"/><path d="M3747 880l15-4l28-26l-14 4z" color="#d7841b"/><path d="M3762 876l14-11l28-26l-14 11z" color="#b4741a"/><path d="M3776 865l15-4l28-26l-15 4z" color="#db9526"/><path d="M3791 861l17 9l28-27l-17-8z" color="#f8ab2c"/><path d="M3808 870l18 12l28-28l-18-11z" color="#f7a62a"/><path d="M3826 882l17 9l28-28l-17-9z" color="#f7a327"/><path d="M3843 891l14 2l28-29l-14-1z" color="#f1a027"/><path d="M3857 893l13-2l28-29l-13 2z" color="#e89c27"/><path d="M3870 891l14 2l28-30l-14-1z" color="#f3a62b"/><path d="M3884 893l38 11l27-30l-37-11z" color="#f8ab2d"/><path d="M3922 904l38 10l28-31l-39-9z" color="#f8ac2d"/><path d="M3960 914l39 7l27-33l-38-5z" color="#f8b02f"/><path d="M3999 921l39 6l27-34l-39-5z" color="#f8b533"/><path d="M4038 927l40 8l26-34l-39-8z" color="#f8bb36"/><path d="M4078 935l40 9l26-35l-40-8z" color="#f8be38"/><path d="M4118 944l40 10l26-36l-40-9z" color="#f8c13a"/><path d="M4158 954l40 10l26-36l-40-10z" color="#f8c43b"/><path d="M4198 964l41 11l26-36l-41-11z" color="#f8c63c"/><path d="M4239 975l41 12l25-36l-40-12z" color="#f8c73d"/><path d="M4280 987l42 13l24-37l-41-12z" color="#f8c73d"/><path d="M4322 1000l41 14l25-37l-42-14z" color="#f8c73d"/><path d="M3263 714l15 20l30-17l-15-18z" color="#f8ad2e"/><path d="M3278 734l17 36l29-19l-16-34z" color="#f49820"/><path d="M3295 770l17 37l28-22l-16-34z" color="#ed8214"/><path d="M3312 807l15 19l28-23l-15-18z" color="#e7760e"/><path d="M3327 826l26-14l28-23l-26 14z" color="#b45d0c"/><path d="M3353 812l24-42l30-21l-26 40z" color="#d67b15"/><path d="M3377 770l25-42l30-21l-25 42z" color="#dea22d"/><path d="M3402 728l27-14l30-21l-27 14z" color="#b6a335"/><path d="M3429 714l17 26l29-21l-16-26z" color="#f4dd48"/><path d="M3446 740l17 53l30-23l-18-51z" color="#f8b935"/><path d="M3463 793l18 52l29-24l-17-51z" color="#f3911b"/><path d="M3481 845l16 26l29-24l-16-26z" color="#eb7d12"/><path d="M3497 871l14-12l29-24l-14 12z" color="#a6590c"/><path d="M3511 859l12-33l29-23l-12 32z" color="#f18b18"/><path d="M3523 826l13-34l29-22l-13 33z" color="#f8a82b"/><path d="M3536 792l13-13l30-21l-14 12z" color="#b8942d"/><path d="M3549 779l20 31l30-22l-20-30z" color="#f8c23a"/><path d="M3569 810l21 53l29-24l-20-51z" color="#f69e24"/><path d="M3590 863l20 31l29-25l-20-30z" color="#ef8616"/><path d="M3610 894l17-13l29-25l-17 13z" color="#ab5f0f"/><path d="M3627 881l18-30l29-24l-18 29z" color="#d9851b"/><path d="M3645 851l18-13l29-24l-18 13z" color="#ad7a21"/><path d="M3663 838l18 19l29-24l-18-19z" color="#f8b331"/><path d="M3681 857l19 30l29-25l-19-29z" color="#f6a126"/><path d="M3700 887l19 19l28-26l-18-18z" color="#f4941e"/><path d="M3719 906l14-4l29-26l-15 4z" color="#d68119"/><path d="M3733 902l15-11l28-26l-14 11z" color="#b17019"/><path d="M3748 891l14-4l29-26l-15 4z" color="#d99224"/><path d="M3762 887l18 10l28-27l-17-9z" color="#f8a92b"/><path d="M3780 897l17 13l29-28l-18-12z" color="#f7a428"/><path d="M3797 910l18 9l28-28l-17-9z" color="#f6a025"/><path d="M3815 919l13 2l29-28l-14-2z" color="#f09c24"/><path d="M3828 921l14-1l28-29l-13 2z" color="#e89925"/><path d="M3842 920l13 1l29-28l-14-2z" color="#f2a228"/><path d="M3855 921l39 13l28-30l-38-11z" color="#f7a72a"/><path d="M3894 934l39 10l27-30l-38-10z" color="#f8a82b"/><path d="M3933 944l39 9l27-32l-39-7z" color="#f8aa2c"/><path d="M3972 953l39 8l27-34l-39-6z" color="#f8ae2e"/><path d="M4011 961l40 9l27-35l-40-8z" color="#f8b231"/><path d="M4051 970l40 9l27-35l-40-9z" color="#f8b533"/><path d="M4091 979l40 10l27-35l-40-10z" color="#f8b834"/><path d="M4131 989l41 11l26-36l-40-10z" color="#f8ba36"/><path d="M4172 1000l41 11l26-36l-41-11z" color="#f8bc37"/><path d="M4213 1011l42 13l25-37l-41-12z" color="#f8bd37"/><path d="M4255 1024l41 13l26-37l-42-13z" color="#f8bd37"/><path d="M4296 1037l42 14l25-37l-41-14z" color="#f8bd37"/><path d="M3232 730l16 21l30-17l-15-20z" color="#f8b231"/><path d="M3248 751l18 39l29-20l-17-36z" color="#f59b22"/><path d="M3266 790l17 39l29-22l-17-37z" color="#ed8314"/><path d="M3283 829l16 20l28-23l-15-19z" color="#e7760e"/><path d="M3299 849l25-14l29-23l-26 14z" color="#b35c0b"/><path d="M3324 835l24-42l29-23l-24 42z" color="#d77c15"/><path d="M3348 793l24-44l30-21l-25 42z" color="#e1a52e"/><path d="M3372 749l27-15l30-20l-27 14z" color="#b2a135"/><path d="M3399 734l16 27l31-21l-17-26z" color="#f4dd49"/><path d="M3415 761l18 54l30-22l-17-53z" color="#f8ba35"/><path d="M3433 815l18 54l30-24l-18-52z" color="#f3901b"/><path d="M3451 869l16 26l30-24l-16-26z" color="#ea7d11"/><path d="M3467 895l14-12l30-24l-14 12z" color="#a95a0c"/><path d="M3481 883l12-34l30-23l-12 33z" color="#f18b17"/><path d="M3493 849l13-34l30-23l-13 34z" color="#f8a82b"/><path d="M3506 815l13-14l30-22l-13 13z" color="#bc972e"/><path d="M3519 801l20 32l30-23l-20-31z" color="#f8c23a"/><path d="M3539 833l21 54l30-24l-21-53z" color="#f59d23"/><path d="M3560 887l20 32l30-25l-20-31z" color="#ef8615"/><path d="M3580 919l18-14l29-24l-17 13z" color="#a75d0f"/><path d="M3598 905l17-30l30-24l-18 30z" color="#db871b"/><path d="M3615 875l18-14l30-23l-18 13z" color="#a87620"/><path d="M3633 861l19 20l29-24l-18-19z" color="#f8b331"/><path d="M3652 881l19 31l29-25l-19-30z" color="#f6a025"/><path d="M3671 912l18 20l30-26l-19-19z" color="#f3931d"/><path d="M3689 932l15-4l29-26l-14 4z" color="#d47f18"/><path d="M3704 928l14-12l30-25l-15 11z" color="#ad6d18"/><path d="M3718 916l15-4l29-25l-14 4z" color="#d78f23"/><path d="M3733 912l17 10l30-25l-18-10z" color="#f7a72a"/><path d="M3750 922l18 14l29-26l-17-13z" color="#f6a226"/><path d="M3768 936l18 10l29-27l-18-9z" color="#f59d24"/><path d="M3786 946l13 2l29-27l-13-2z" color="#ef9922"/><path d="M3799 948l14 0l29-28l-14 1z" color="#e79623"/><path d="M3813 948l13 1l29-28l-13-1z" color="#f19f26"/><path d="M3826 949l39 13l29-28l-39-13z" color="#f7a428"/><path d="M3865 962l39 11l29-29l-39-10z" color="#f7a428"/><path d="M3904 973l40 11l28-31l-39-9z" color="#f7a629"/><path d="M3944 984l39 9l28-32l-39-8z" color="#f8a82b"/><path d="M3983 993l40 10l28-33l-40-9z" color="#f8ab2c"/><path d="M4023 1003l41 10l27-34l-40-9z" color="#f8ad2e"/><path d="M4064 1013l41 11l26-35l-40-10z" color="#f8b02f"/><path d="M4105 1024l41 12l26-36l-41-11z" color="#f8b130"/><path d="M4146 1036l41 12l26-37l-41-11z" color="#f8b331"/><path d="M4187 1048l42 12l26-36l-42-13z" color="#f8b432"/><path d="M4229 1060l42 14l25-37l-41-13z" color="#f8b432"/><path d="M4271 1074l42 14l25-37l-42-14z" color="#f8b332"/><path d="M3200 725l16 25l32 1l-16-21z" color="#f8be38"/><path d="M3216 750l19 49l31-9l-18-39z" color="#f6a126"/><path d="M3235 799l18 50l30-20l-17-39z" color="#ee8515"/><path d="M3253 849l17 25l29-25l-16-20z" color="#e7760e"/><path d="M3270 874l25-15l29-24l-25 14z" color="#b15b0b"/><path d="M3295 859l23-44l30-22l-24 42z" color="#da7d15"/><path d="M3318 815l24-44l30-22l-24 44z" color="#e4a82f"/><path d="M3342 771l26-16l31-21l-27 15z" color="#ae9e34"/><path d="M3368 755l16 28l31-22l-16-27z" color="#f4de49"/><path d="M3384 783l19 55l30-23l-18-54z" color="#f8ba35"/><path d="M3403 838l18 55l30-24l-18-54z" color="#f3901a"/><path d="M3421 893l16 27l30-25l-16-26z" color="#ea7c11"/><path d="M3437 920l13-13l31-24l-14 12z" color="#ac5b0c"/><path d="M3450 907l13-35l30-23l-12 34z" color="#f18a17"/><path d="M3463 872l12-35l31-22l-13 34z" color="#f8a92b"/><path d="M3475 837l13-14l31-22l-13 14z" color="#bf9a30"/><path d="M3488 823l21 33l30-23l-20-32z" color="#f8c33a"/><path d="M3509 856l21 55l30-24l-21-54z" color="#f59d23"/><path d="M3530 911l20 33l30-25l-20-32z" color="#ef8515"/><path d="M3550 944l18-14l30-25l-18 14z" color="#a35a0e"/><path d="M3568 930l17-32l30-23l-17 30z" color="#de881b"/><path d="M3585 898l18-14l30-23l-18 14z" color="#a6751f"/><path d="M3603 884l18 20l31-23l-19-20z" color="#f8b331"/><path d="M3621 904l20 33l30-25l-19-31z" color="#f6a025"/><path d="M3641 937l18 21l30-26l-18-20z" color="#f3921c"/><path d="M3659 958l15-5l30-25l-15 4z" color="#d27d17"/><path d="M3674 953l14-11l30-26l-14 12z" color="#a76816"/><path d="M3688 942l15-5l30-25l-15 4z" color="#d48d22"/><path d="M3703 937l18 11l29-26l-17-10z" color="#f7a629"/><path d="M3721 948l17 15l30-27l-18-14z" color="#f6a025"/><path d="M3738 963l18 10l30-27l-18-10z" color="#f59c22"/><path d="M3756 973l14 2l29-27l-13-2z" color="#ee9721"/><path d="M3770 975l13 0l30-27l-14 0z" color="#e69321"/><path d="M3783 975l14 2l29-28l-13-1z" color="#ef9c25"/><path d="M3797 977l39 12l29-27l-39-13z" color="#f6a227"/><path d="M3836 989l39 13l29-29l-39-11z" color="#f6a227"/><path d="M3875 1002l40 12l29-30l-40-11z" color="#f7a327"/><path d="M3915 1014l40 10l28-31l-39-9z" color="#f7a428"/><path d="M3955 1024l40 12l28-33l-40-10z" color="#f7a629"/><path d="M3995 1036l41 11l28-34l-41-10z" color="#f7a72a"/><path d="M4036 1047l41 11l28-34l-41-11z" color="#f8a92b"/><path d="M4077 1058l42 12l27-34l-41-12z" color="#f8aa2c"/><path d="M4119 1070l41 13l27-35l-41-12z" color="#f8ab2c"/><path d="M4160 1083l42 13l27-36l-42-12z" color="#f8ac2d"/><path d="M4202 1096l43 14l26-36l-42-14z" color="#f8ab2d"/><path d="M4245 1110l43 15l25-37l-42-14z" color="#f8ab2c"/><path d="M3166 713l18 31l32 6l-16-25z" color="#f6d645"/><path d="M3184 744l20 62l31-7l-19-49z" color="#f8b030"/><path d="M3204 806l20 62l29-19l-18-50z" color="#f18917"/><path d="M3224 868l17 31l29-25l-17-25z" color="#e7760e"/><path d="M3241 899l24-16l30-24l-25 15z" color="#af5a0b"/><path d="M3265 883l23-45l30-23l-23 44z" color="#dd7f15"/><path d="M3288 838l23-46l31-21l-24 44z" color="#e7ab30"/><path d="M3311 792l25-16l32-21l-26 16z" color="#a79832"/><path d="M3336 776l17 28l31-21l-16-28z" color="#f4e04a"/><path d="M3353 804l18 57l32-23l-19-55z" color="#f8ba36"/><path d="M3371 861l19 56l31-24l-18-55z" color="#f38f1a"/><path d="M3390 917l16 29l31-26l-16-27z" color="#ea7b11"/><path d="M3406 946l13-14l31-25l-13 13z" color="#ae5c0c"/><path d="M3419 932l12-36l32-24l-13 35z" color="#f18a17"/><path d="M3431 896l13-37l31-22l-12 35z" color="#f8a92b"/><path d="M3444 859l13-14l31-22l-13 14z" color="#c49f31"/><path d="M3457 845l21 34l31-23l-21-33z" color="#f8c33b"/><path d="M3478 879l21 57l31-25l-21-55z" color="#f59d23"/><path d="M3499 936l20 34l31-26l-20-33z" color="#ee8415"/><path d="M3519 970l18-15l31-25l-18 14z" color="#9d570d"/><path d="M3537 955l17-33l31-24l-17 32z" color="#e28a1c"/><path d="M3554 922l17-15l32-23l-18 14z" color="#ae7b21"/><path d="M3571 907l19 21l31-24l-18-20z" color="#f8b332"/><path d="M3590 928l20 34l31-25l-20-33z" color="#f69f25"/><path d="M3610 962l19 22l30-26l-18-21z" color="#f3911b"/><path d="M3629 984l14-5l31-26l-15 5z" color="#d07b16"/><path d="M3643 979l15-12l30-25l-14 11z" color="#a46616"/><path d="M3658 967l14-5l31-25l-15 5z" color="#d28b22"/><path d="M3672 962l18 11l31-25l-18-11z" color="#f7a629"/><path d="M3690 973l18 16l30-26l-17-15z" color="#f69f25"/><path d="M3708 989l18 11l30-27l-18-10z" color="#f59a21"/><path d="M3726 1000l13 2l31-27l-14-2z" color="#ed9520"/><path d="M3739 1002l14-1l30-26l-13 0z" color="#e49120"/><path d="M3753 1001l13 2l31-26l-14-2z" color="#ee9a24"/><path d="M3766 1003l40 14l30-28l-39-12z" color="#f6a026"/><path d="M3806 1017l39 13l30-28l-39-13z" color="#f6a025"/><path d="M3845 1030l41 13l29-29l-40-12z" color="#f6a025"/><path d="M3886 1043l40 12l29-31l-40-10z" color="#f6a126"/><path d="M3926 1055l41 12l28-31l-40-12z" color="#f6a226"/><path d="M3967 1067l41 12l28-32l-41-11z" color="#f7a327"/><path d="M4008 1079l41 13l28-34l-41-11z" color="#f7a428"/><path d="M4049 1092l42 12l28-34l-42-12z" color="#f7a528"/><path d="M4091 1104l42 14l27-35l-41-13z" color="#f7a529"/><path d="M4133 1118l43 13l26-35l-42-13z" color="#f7a529"/><path d="M4176 1131l43 15l26-36l-43-14z" color="#f7a529"/><path d="M4219 1146l43 15l26-36l-43-15z" color="#f7a528"/><path d="M3132 701l18 38l34 5l-18-31z" color="#f0e950"/><path d="M3150 739l22 75l32-8l-20-62z" color="#f8c43b"/><path d="M3172 814l22 74l30-20l-20-62z" color="#f38f1a"/><path d="M3194 888l18 36l29-25l-17-31z" color="#e7770e"/><path d="M3212 924l24-16l29-25l-24 16z" color="#ac580b"/><path d="M3236 908l21-47l31-23l-23 45z" color="#e08116"/><path d="M3257 861l22-47l32-22l-23 46z" color="#ecaf32"/><path d="M3279 814l24-18l33-20l-25 16z" color="#a69933"/><path d="M3303 796l17 30l33-22l-17-28z" color="#f3e14b"/><path d="M3320 826l19 58l32-23l-18-57z" color="#f8bb36"/><path d="M3339 884l19 58l32-25l-19-56z" color="#f38f1a"/><path d="M3358 942l17 30l31-26l-16-29z" color="#e97a10"/><path d="M3375 972l13-15l31-25l-13 14z" color="#b15d0c"/><path d="M3388 957l12-37l31-24l-12 36z" color="#f18917"/><path d="M3400 920l12-39l32-22l-13 37z" color="#f8a92b"/><path d="M3412 881l13-14l32-22l-13 14z" color="#c9a433"/><path d="M3425 867l21 35l32-23l-21-34z" color="#f8c53c"/><path d="M3446 902l22 59l31-25l-21-57z" color="#f59c23"/><path d="M3468 961l20 35l31-26l-20-34z" color="#ee8314"/><path d="M3488 996l17-16l32-25l-18 15z" color="#a35a0d"/><path d="M3505 980l17-34l32-24l-17 33z" color="#e68c1c"/><path d="M3522 946l18-16l31-23l-17 15z" color="#b58123"/><path d="M3540 930l19 22l31-24l-19-21z" color="#f8b432"/><path d="M3559 952l19 36l32-26l-20-34z" color="#f69f24"/><path d="M3578 988l19 22l32-26l-19-22z" color="#f38f1a"/><path d="M3597 1010l15-5l31-26l-14 5z" color="#cd7815"/><path d="M3612 1005l14-13l32-25l-15 12z" color="#ae6c17"/><path d="M3626 992l15-5l31-25l-14 5z" color="#ce8821"/><path d="M3641 987l17 11l32-25l-18-11z" color="#f7a629"/><path d="M3658 998l18 17l32-26l-18-16z" color="#f69e24"/><path d="M3676 1015l18 12l32-27l-18-11z" color="#f59921"/><path d="M3694 1027l14 2l31-27l-13-2z" color="#ec931f"/><path d="M3708 1029l13-1l32-27l-14 1z" color="#e28f1f"/><path d="M3721 1028l14 1l31-26l-13-2z" color="#ec9823"/><path d="M3735 1029l40 14l31-26l-40-14z" color="#f69f25"/><path d="M3775 1043l40 15l30-28l-39-13z" color="#f69f24"/><path d="M3815 1058l41 14l30-29l-41-13z" color="#f69e24"/><path d="M3856 1072l40 13l30-30l-40-12z" color="#f69e24"/><path d="M3896 1085l42 13l29-31l-41-12z" color="#f69f24"/><path d="M3938 1098l41 13l29-32l-41-12z" color="#f69f25"/><path d="M3979 1111l42 13l28-32l-41-13z" color="#f6a025"/><path d="M4021 1124l42 13l28-33l-42-12z" color="#f6a026"/><path d="M4063 1137l43 14l27-33l-42-14z" color="#f6a126"/><path d="M4106 1151l43 15l27-35l-43-13z" color="#f6a126"/><path d="M4149 1166l43 14l27-34l-43-15z" color="#f6a026"/><path d="M4192 1180l43 16l27-35l-43-15z" color="#f6a025"/><path d="M3096 688l20 44l34 7l-18-38z" color="#e3ea55"/><path d="M3116 732l24 89l32-7l-22-75z" color="#f6d545"/><path d="M3140 821l23 88l31-21l-22-74z" color="#f4951e"/><path d="M3163 909l20 43l29-28l-18-36z" color="#e7760e"/><path d="M3183 952l23-18l30-26l-24 16z" color="#a8550a"/><path d="M3206 934l20-50l31-23l-21 47z" color="#e48316"/><path d="M3226 884l21-50l32-20l-22 47z" color="#f2b534"/><path d="M3247 834l23-18l33-20l-24 18z" color="#b2a637"/><path d="M3270 816l17 30l33-20l-17-30z" color="#f3e34c"/><path d="M3287 846l19 61l33-23l-19-58z" color="#f8bc37"/><path d="M3306 907l20 61l32-26l-19-58z" color="#f28e19"/><path d="M3326 968l16 31l33-27l-17-30z" color="#e87910"/><path d="M3342 999l13-16l33-26l-13 15z" color="#b55e0c"/><path d="M3355 983l12-40l33-23l-12 37z" color="#f08816"/><path d="M3367 943l12-40l33-22l-12 39z" color="#f8aa2c"/><path d="M3379 903l13-16l33-20l-13 14z" color="#d0ac36"/><path d="M3392 887l21 37l33-22l-21-35z" color="#f8c63d"/><path d="M3413 924l22 63l33-26l-22-59z" color="#f59c23"/><path d="M3435 987l21 36l32-27l-20-35z" color="#ed8214"/><path d="M3456 1023l17-17l32-26l-17 16z" color="#aa5d0e"/><path d="M3473 1006l16-37l33-23l-17 34z" color="#eb8f1c"/><path d="M3489 969l18-17l33-22l-18 16z" color="#be8825"/><path d="M3507 952l19 23l33-23l-19-22z" color="#f8b533"/><path d="M3526 975l20 38l32-25l-19-36z" color="#f69f24"/><path d="M3546 1013l19 24l32-27l-19-22z" color="#f28e1a"/><path d="M3565 1037l15-6l32-26l-15 5z" color="#c97514"/><path d="M3580 1031l14-15l32-24l-14 13z" color="#b87218"/><path d="M3594 1016l14-6l33-23l-15 5z" color="#c98520"/><path d="M3608 1010l18 13l32-25l-17-11z" color="#f7a629"/><path d="M3626 1023l18 18l32-26l-18-17z" color="#f69e24"/><path d="M3644 1041l18 12l32-26l-18-12z" color="#f49820"/><path d="M3662 1053l14 2l32-26l-14-2z" color="#ea911e"/><path d="M3676 1055l13-1l32-26l-13 1z" color="#df8c1e"/><path d="M3689 1054l14 1l32-26l-14-1z" color="#ea9722"/><path d="M3703 1055l40 14l32-26l-40-14z" color="#f69f25"/><path d="M3743 1069l41 15l31-26l-40-15z" color="#f69e24"/><path d="M3784 1084l41 16l31-28l-41-14z" color="#f59d23"/><path d="M3825 1100l41 14l30-29l-40-13z" color="#f59c23"/><path d="M3866 1114l42 14l30-30l-42-13z" color="#f59c23"/><path d="M3908 1128l42 13l29-30l-41-13z" color="#f59d23"/><path d="M3950 1141l42 14l29-31l-42-13z" color="#f59d23"/><path d="M3992 1155l43 14l28-32l-42-13z" color="#f59d23"/><path d="M4035 1169l43 15l28-33l-43-14z" color="#f59d23"/><path d="M4078 1184l43 15l28-33l-43-15z" color="#f59d23"/><path d="M4121 1199l44 15l27-34l-43-14z" color="#f59c23"/><path d="M4165 1214l44 16l26-34l-43-16z" color="#f59c22"/><path d="M3059 661l22 53l35 18l-20-44z" color="#c8df4e"/><path d="M3081 714l26 108l33-1l-24-89z" color="#f2e84e"/><path d="M3107 822l26 107l30-20l-23-88z" color="#f59b22"/><path d="M3133 929l21 51l29-28l-20-43z" color="#e7760e"/><path d="M3154 980l21-19l31-27l-23 18z" color="#a15109"/><path d="M3175 961l19-53l32-24l-20 50z" color="#ea8616"/><path d="M3194 908l20-54l33-20l-21 50z" color="#f8bb36"/><path d="M3214 854l22-21l34-17l-23 18z" color="#c0b53d"/><path d="M3236 833l17 32l34-19l-17-30z" color="#f2e64d"/><path d="M3253 865l20 65l33-23l-19-61z" color="#f8be38"/><path d="M3273 930l19 65l34-27l-20-61z" color="#f28d19"/><path d="M3292 995l18 32l32-28l-16-31z" color="#e8770f"/><path d="M3310 1027l12-17l33-27l-13 16z" color="#b95f0b"/><path d="M3322 1010l12-43l33-24l-12 40z" color="#f08816"/><path d="M3334 967l11-44l34-20l-12 40z" color="#f8ab2c"/><path d="M3345 923l13-17l34-19l-13 16z" color="#dab73a"/><path d="M3358 906l21 39l34-21l-21-37z" color="#f8c93e"/><path d="M3379 945l23 67l33-25l-22-63z" color="#f59c23"/><path d="M3402 1012l21 39l33-28l-21-36z" color="#ec8113"/><path d="M3423 1051l17-19l33-26l-17 17z" color="#b1600e"/><path d="M3440 1032l16-40l33-23l-16 37z" color="#f2931d"/><path d="M3456 992l17-19l34-21l-18 17z" color="#c99128"/><path d="M3473 973l20 25l33-23l-19-23z" color="#f8b734"/><path d="M3493 998l20 41l33-26l-20-38z" color="#f69f25"/><path d="M3513 1039l19 25l33-27l-19-24z" color="#f28d19"/><path d="M3532 1064l15-7l33-26l-15 6z" color="#c37113"/><path d="M3547 1057l13-17l34-24l-14 15z" color="#c47919"/><path d="M3560 1040l15-7l33-23l-14 6z" color="#c0801f"/><path d="M3575 1033l18 14l33-24l-18-13z" color="#f7a72a"/><path d="M3593 1047l18 19l33-25l-18-18z" color="#f69e24"/><path d="M3611 1066l18 14l33-27l-18-12z" color="#f49720"/><path d="M3629 1080l14 1l33-26l-14-2z" color="#e88f1d"/><path d="M3643 1081l13-2l33-25l-13 1z" color="#da891e"/><path d="M3656 1079l14 1l33-25l-14-1z" color="#e79522"/><path d="M3670 1080l40 14l33-25l-40-14z" color="#f69f25"/><path d="M3710 1094l42 16l32-26l-41-15z" color="#f69e24"/><path d="M3752 1110l41 17l32-27l-41-16z" color="#f59c23"/><path d="M3793 1127l42 15l31-28l-41-14z" color="#f59b22"/><path d="M3835 1142l42 14l31-28l-42-14z" color="#f59b22"/><path d="M3877 1156l42 15l31-30l-42-13z" color="#f59b22"/><path d="M3919 1171l43 14l30-30l-42-14z" color="#f59b22"/><path d="M3962 1185l44 15l29-31l-43-14z" color="#f59b22"/><path d="M4006 1200l43 15l29-31l-43-15z" color="#f59b22"/><path d="M4049 1215l44 16l28-32l-43-15z" color="#f59a22"/><path d="M4093 1231l44 16l28-33l-44-15z" color="#f59a21"/><path d="M4137 1247l45 16l27-33l-44-16z" color="#f59921"/><path d="M3021 634l23 62l37 18l-22-53z" color="#abd248"/><path d="M3044 696l29 129l34-3l-26-108z" color="#e9eb55"/><path d="M3073 825l29 126l31-22l-26-107z" color="#f7a327"/><path d="M3102 951l23 59l29-30l-21-51z" color="#e6750e"/><path d="M3125 1010l20-22l30-27l-21 19z" color="#994c08"/><path d="M3145 988l17-58l32-22l-19 53z" color="#f08917"/><path d="M3162 930l18-60l34-16l-20 54z" color="#f8be38"/><path d="M3180 870l21-23l35-14l-22 21z" color="#d0c944"/><path d="M3201 847l17 35l35-17l-17-32z" color="#f1e84f"/><path d="M3218 882l21 70l34-22l-20-65z" color="#f8c039"/><path d="M3239 952l20 70l33-27l-19-65z" color="#f28c18"/><path d="M3259 1022l17 35l34-30l-18-32z" color="#e6750e"/><path d="M3276 1057l13-19l33-28l-12 17z" color="#bf600b"/><path d="M3289 1038l10-48l35-23l-12 43z" color="#ef8716"/><path d="M3299 990l11-49l35-18l-11 44z" color="#f8ad2e"/><path d="M3310 941l13-20l35-15l-13 17z" color="#e9c840"/><path d="M3323 921l22 43l34-19l-21-39z" color="#f8cd41"/><path d="M3345 964l23 73l34-25l-23-67z" color="#f59d23"/><path d="M3368 1037l21 43l34-29l-21-39z" color="#ec7f12"/><path d="M3389 1080l17-22l34-26l-17 19z" color="#ba640e"/><path d="M3406 1058l16-45l34-21l-16 40z" color="#f4941d"/><path d="M3422 1013l17-22l34-18l-17 19z" color="#d89f2d"/><path d="M3439 991l19 27l35-20l-20-25z" color="#f8bb36"/><path d="M3458 1018l21 46l34-25l-20-41z" color="#f6a025"/><path d="M3479 1064l19 27l34-27l-19-25z" color="#f28d18"/><path d="M3498 1091l14-8l35-26l-15 7z" color="#b96b12"/><path d="M3512 1083l14-21l34-22l-13 17z" color="#d3831b"/><path d="M3526 1062l14-8l35-21l-15 7z" color="#b0761d"/><path d="M3540 1054l18 15l35-22l-18-14z" color="#f8a82b"/><path d="M3558 1069l19 22l34-25l-18-19z" color="#f69f25"/><path d="M3577 1091l18 15l34-26l-18-14z" color="#f49720"/><path d="M3595 1106l13 0l35-25l-14-1z" color="#e38c1d"/><path d="M3608 1106l14-4l34-23l-13 2z" color="#d1841d"/><path d="M3622 1102l13 1l35-23l-14-1z" color="#e29222"/><path d="M3635 1103l42 15l33-24l-40-14z" color="#f49f25"/><path d="M3677 1118l41 17l34-25l-42-16z" color="#f69f24"/><path d="M3718 1135l42 17l33-25l-41-17z" color="#f59d23"/><path d="M3760 1152l43 17l32-27l-42-15z" color="#f59b22"/><path d="M3803 1169l43 15l31-28l-42-14z" color="#f59b22"/><path d="M3846 1184l43 15l30-28l-42-15z" color="#f59b22"/><path d="M3889 1199l43 15l30-29l-43-14z" color="#f59b22"/><path d="M3932 1214l44 15l30-29l-44-15z" color="#f59a22"/><path d="M3976 1229l44 16l29-30l-43-15z" color="#f59a21"/><path d="M4020 1245l44 16l29-30l-44-16z" color="#f59921"/><path d="M4064 1261l45 16l28-30l-44-16z" color="#f59920"/><path d="M4109 1277l46 17l27-31l-45-16z" color="#f49820"/><path d="M3002 620l24 67l18 9l-23-62z" color="#93c643"/><path d="M3026 687l31 139l16-1l-29-129z" color="#dae653"/><path d="M3057 826l30 136l15-11l-29-126z" color="#f8a82b"/><path d="M3087 962l24 64l14-16l-23-59z" color="#e6740d"/><path d="M3111 1026l19-24l15-14l-20 22z" color="#a35008"/><path d="M3130 1002l16-62l16-10l-17 58z" color="#ee8816"/><path d="M3146 940l17-64l17-6l-18 60z" color="#f8c13a"/><path d="M3163 876l20-25l18-4l-21 23z" color="#dcd64a"/><path d="M3183 851l18 37l17-6l-17-35z" color="#efe951"/><path d="M3201 888l21 74l17-10l-21-70z" color="#f8c43b"/><path d="M3222 962l20 73l17-13l-20-70z" color="#f28c18"/><path d="M3242 1035l18 36l16-14l-17-35z" color="#e5730d"/><path d="M3260 1071l12-20l17-13l-13 19z" color="#c3610b"/><path d="M3272 1051l11-51l16-10l-10 48z" color="#ef8616"/><path d="M3283 1000l10-53l17-6l-11 49z" color="#f8b030"/><path d="M3293 947l13-21l17-5l-13 20z" color="#f2d545"/><path d="M3306 926l22 45l17-7l-22-43z" color="#f7d243"/><path d="M3328 971l23 78l17-12l-23-73z" color="#f69e24"/><path d="M3351 1049l22 45l16-14l-21-43z" color="#eb7e12"/><path d="M3373 1094l16-23l17-13l-17 22z" color="#c1670e"/><path d="M3389 1071l16-50l17-8l-16 45z" color="#f4951e"/><path d="M3405 1021l17-24l17-6l-17 22z" color="#e3aa31"/><path d="M3422 997l19 29l17-8l-19-27z" color="#f8bf39"/><path d="M3441 1026l21 49l17-11l-21-46z" color="#f6a126"/><path d="M3462 1075l20 29l16-13l-19-27z" color="#f28c18"/><path d="M3482 1104l14-10l16-11l-14 8z" color="#ac6311"/><path d="M3496 1094l13-22l17-10l-14 21z" color="#dd8a1d"/><path d="M3509 1072l15-10l16-8l-14 8z" color="#b2791f"/><path d="M3524 1062l18 16l16-9l-18-15z" color="#f8ac2d"/><path d="M3542 1078l18 24l17-11l-19-22z" color="#f6a026"/><path d="M3560 1102l18 15l17-11l-18-15z" color="#f49820"/><path d="M3578 1117l14 0l16-11l-13 0z" color="#de891c"/><path d="M3592 1117l13-4l17-11l-14 4z" color="#c67d1c"/><path d="M3605 1113l13-1l17-9l-13-1z" color="#db8f22"/><path d="M3618 1112l42 16l17-10l-42-15z" color="#f09e26"/><path d="M3660 1128l42 17l16-10l-41-17z" color="#f29e25"/><path d="M3702 1145l43 18l15-11l-42-17z" color="#f39d24"/><path d="M3745 1163l42 17l16-11l-43-17z" color="#f39b22"/><path d="M3787 1180l43 15l16-11l-43-15z" color="#f29922"/><path d="M3830 1195l44 16l15-12l-43-15z" color="#f29922"/><path d="M3874 1211l43 15l15-12l-43-15z" color="#f29922"/><path d="M3917 1226l44 16l15-13l-44-15z" color="#f29921"/><path d="M3961 1242l45 16l14-13l-44-16z" color="#f39921"/><path d="M4006 1258l45 16l13-13l-44-16z" color="#f39821"/><path d="M4051 1274l45 17l13-14l-45-16z" color="#f39820"/><path d="M4096 1291l46 17l13-14l-46-17z" color="#f39720"/><path d="M2982 594l26 74l18 19l-24-67z" color="#84be3d"/><path d="M3008 668l32 154l17 4l-31-139z" color="#cfe250"/><path d="M3040 822l32 149l15-9l-30-136z" color="#f8ad2e"/><path d="M3072 971l25 70l14-15l-24-64z" color="#e5730d"/><path d="M3097 1041l18-25l15-14l-19 24z" color="#a95208"/><path d="M3115 1016l16-67l15-9l-16 62z" color="#f08916"/><path d="M3131 949l15-68l17-5l-17 64z" color="#f8c43c"/><path d="M3146 881l19-27l18-3l-20 25z" color="#e5e34f"/><path d="M3165 854l19 39l17-5l-18-37z" color="#edea52"/><path d="M3184 893l21 78l17-9l-21-74z" color="#f8c73d"/><path d="M3205 971l21 78l16-14l-20-73z" color="#f28b18"/><path d="M3226 1049l18 38l16-16l-18-36z" color="#e5710c"/><path d="M3244 1087l12-23l16-13l-12 20z" color="#c8620a"/><path d="M3256 1064l10-56l17-8l-11 51z" color="#ef8615"/><path d="M3266 1008l10-56l17-5l-10 53z" color="#f8b331"/><path d="M3276 952l12-24l18-2l-13 21z" color="#f4de49"/><path d="M3288 928l22 49l18-6l-22-45z" color="#f6d745"/><path d="M3310 977l24 83l17-11l-23-78z" color="#f6a025"/><path d="M3334 1060l22 48l17-14l-22-45z" color="#eb7e12"/><path d="M3356 1108l17-26l16-11l-16 23z" color="#c86a0f"/><path d="M3373 1082l14-53l18-8l-16 50z" color="#f4951e"/><path d="M3387 1029l17-27l18-5l-17 24z" color="#eeb736"/><path d="M3404 1002l20 31l17-7l-19-29z" color="#f8c43b"/><path d="M3424 1033l21 52l17-10l-21-49z" color="#f7a327"/><path d="M3445 1085l20 31l17-12l-20-29z" color="#f28d18"/><path d="M3465 1116l14-11l17-11l-14 10z" color="#a65f10"/><path d="M3479 1105l13-25l17-8l-13 22z" color="#e8911f"/><path d="M3492 1080l14-11l18-7l-15 10z" color="#c48824"/><path d="M3506 1069l18 17l18-8l-18-16z" color="#f8af2f"/><path d="M3524 1086l19 25l17-9l-18-24z" color="#f6a227"/><path d="M3543 1111l18 17l17-11l-18-15z" color="#f59921"/><path d="M3561 1128l14-1l17-10l-14 0z" color="#d8861c"/><path d="M3575 1127l13-5l17-9l-13 4z" color="#b8751a"/><path d="M3588 1122l13-1l17-9l-13 1z" color="#d28b21"/><path d="M3601 1121l42 15l17-8l-42-16z" color="#ec9e27"/><path d="M3643 1136l43 19l16-10l-42-17z" color="#ef9e26"/><path d="M3686 1155l42 18l17-10l-43-18z" color="#f09c24"/><path d="M3728 1173l43 18l16-11l-42-17z" color="#f09a23"/><path d="M3771 1191l44 15l15-11l-43-15z" color="#ee9822"/><path d="M3815 1206l43 16l16-11l-44-16z" color="#ef9822"/><path d="M3858 1222l44 16l15-12l-43-15z" color="#ef9822"/><path d="M3902 1238l45 16l14-12l-44-16z" color="#ef9822"/><path d="M3947 1254l45 16l14-12l-45-16z" color="#ef9721"/><path d="M3992 1270l45 16l14-12l-45-16z" color="#ef9721"/><path d="M4037 1286l45 17l14-12l-45-17z" color="#f09620"/><path d="M4082 1303l46 17l14-12l-46-17z" color="#f09620"/><path d="M2962 566l26 82l20 20l-26-74z" color="#6fb235"/><path d="M2988 648l35 169l17 5l-32-154z" color="#c0dc4c"/><path d="M3023 817l35 164l14-10l-32-149z" color="#f8b332"/><path d="M3058 981l25 77l14-17l-25-70z" color="#e5720c"/><path d="M3083 1058l18-29l14-13l-18 25z" color="#b05408"/><path d="M3101 1029l14-72l16-8l-16 67z" color="#f08917"/><path d="M3115 957l14-74l17-2l-15 68z" color="#f8c93e"/><path d="M3129 883l18-30l18 1l-19 27z" color="#eaeb54"/><path d="M3147 853l19 42l18-2l-19-39z" color="#eaeb54"/><path d="M3166 895l21 84l18-8l-21-78z" color="#f8cb40"/><path d="M3187 979l22 83l17-13l-21-78z" color="#f28c18"/><path d="M3209 1062l18 40l17-15l-18-38z" color="#e4700b"/><path d="M3227 1102l12-25l17-13l-12 23z" color="#ce640a"/><path d="M3239 1077l9-61l18-8l-10 56z" color="#ef8616"/><path d="M3248 1016l10-63l18-1l-10 56z" color="#f8b834"/><path d="M3258 953l12-26l18 1l-12 24z" color="#f3e44c"/><path d="M3270 927l22 52l18-2l-22-49z" color="#f4dd48"/><path d="M3292 979l25 91l17-10l-24-83z" color="#f6a227"/><path d="M3317 1070l22 52l17-14l-22-48z" color="#eb7d11"/><path d="M3339 1122l16-29l18-11l-17 26z" color="#d16f0f"/><path d="M3355 1093l15-59l17-5l-14 53z" color="#f4971f"/><path d="M3370 1034l16-30l18-2l-17 27z" color="#f8c43c"/><path d="M3386 1004l20 34l18-5l-20-31z" color="#f8ca3f"/><path d="M3406 1038l22 56l17-9l-21-52z" color="#f7a529"/><path d="M3428 1094l20 33l17-11l-20-31z" color="#f28d19"/><path d="M3448 1127l14-12l17-10l-14 11z" color="#b96b12"/><path d="M3462 1115l13-29l17-6l-13 25z" color="#f59b22"/><path d="M3475 1086l14-13l17-4l-14 11z" color="#d79929"/><path d="M3489 1073l18 18l17-5l-18-17z" color="#f8b432"/><path d="M3507 1091l19 29l17-9l-19-25z" color="#f7a529"/><path d="M3526 1120l18 18l17-10l-18-17z" color="#f59b22"/><path d="M3544 1138l13-2l18-9l-14 1z" color="#ce811c"/><path d="M3557 1136l13-7l18-7l-13 5z" color="#aa6e19"/><path d="M3570 1129l14-2l17-6l-13 1z" color="#c58421"/><path d="M3584 1127l42 16l17-7l-42-15z" color="#e69c28"/><path d="M3626 1143l43 19l17-7l-43-19z" color="#ea9d27"/><path d="M3669 1162l43 19l16-8l-42-18z" color="#ec9b25"/><path d="M3712 1181l43 18l16-8l-43-18z" color="#eb9924"/><path d="M3755 1199l44 16l16-9l-44-15z" color="#e99723"/><path d="M3799 1215l44 16l15-9l-43-16z" color="#e99723"/><path d="M3843 1231l44 16l15-9l-44-16z" color="#ea9722"/><path d="M3887 1247l45 16l15-9l-45-16z" color="#ea9622"/><path d="M3932 1263l45 17l15-10l-45-16z" color="#ea9622"/><path d="M3977 1280l46 16l14-10l-45-16z" color="#ea9521"/><path d="M4023 1296l46 17l13-10l-45-17z" color="#ea9521"/><path d="M4069 1313l46 18l13-11l-46-17z" color="#ea9420"/><path d="M2941 538l28 89l19 21l-26-82z" color="#5ba62c"/><path d="M2969 627l37 185l17 5l-35-169z" color="#b2d549"/><path d="M3006 812l37 179l15-10l-35-164z" color="#f8ba35"/><path d="M3043 991l26 84l14-17l-25-77z" color="#e4700c"/><path d="M3069 1075l17-32l15-14l-18 29z" color="#b75607"/><path d="M3086 1043l12-79l17-7l-14 72z" color="#f18917"/><path d="M3098 964l13-82l18 1l-14 74z" color="#f8ce41"/><path d="M3111 882l17-33l19 4l-18 30z" color="#e5eb55"/><path d="M3128 849l19 44l19 2l-19-42z" color="#e5eb55"/><path d="M3147 893l23 92l17-6l-21-84z" color="#f7d042"/><path d="M3170 985l22 90l17-13l-22-83z" color="#f28c18"/><path d="M3192 1075l18 43l17-16l-18-40z" color="#e36e0b"/><path d="M3210 1118l12-28l17-13l-12 25z" color="#d5670a"/><path d="M3222 1090l8-69l18-5l-9 61z" color="#f08716"/><path d="M3230 1021l9-70l19 2l-10 63z" color="#f8bf38"/><path d="M3239 951l12-30l19 6l-12 26z" color="#f0e950"/><path d="M3251 921l23 57l18 1l-22-52z" color="#f2e64d"/><path d="M3274 978l26 100l17-8l-25-91z" color="#f7a629"/><path d="M3300 1078l22 57l17-13l-22-52z" color="#eb7d12"/><path d="M3322 1135l16-33l17-9l-16 29z" color="#dc7410"/><path d="M3338 1102l14-66l18-2l-15 59z" color="#f59a21"/><path d="M3352 1036l16-33l18 1l-16 30z" color="#f8cd40"/><path d="M3368 1003l20 36l18-1l-20-34z" color="#f7d143"/><path d="M3388 1039l22 62l18-7l-22-56z" color="#f8a92b"/><path d="M3410 1101l20 36l18-10l-20-33z" color="#f38f1a"/><path d="M3430 1137l14-15l18-7l-14 12z" color="#cd7715"/><path d="M3444 1122l13-33l18-3l-13 29z" color="#f69e24"/><path d="M3457 1089l14-15l18-1l-14 13z" color="#ecaf31"/><path d="M3471 1074l18 20l18-3l-18-18z" color="#f8bb36"/><path d="M3489 1094l19 31l18-5l-19-29z" color="#f8a92b"/><path d="M3508 1125l18 20l18-7l-18-18z" color="#f69e24"/><path d="M3526 1145l13-3l18-6l-13 2z" color="#bc781b"/><path d="M3539 1142l14-9l17-4l-13 7z" color="#c98520"/><path d="M3553 1133l13-3l18-3l-14 2z" color="#a7731e"/><path d="M3566 1130l43 16l17-3l-42-16z" color="#db9a29"/><path d="M3609 1146l43 20l17-4l-43-19z" color="#e19b28"/><path d="M3652 1166l43 20l17-5l-43-19z" color="#e39a27"/><path d="M3695 1186l44 19l16-6l-43-18z" color="#e29725"/><path d="M3739 1205l44 16l16-6l-44-16z" color="#e09524"/><path d="M3783 1221l44 16l16-6l-44-16z" color="#e19424"/><path d="M3827 1237l45 16l15-6l-44-16z" color="#e19423"/><path d="M3872 1253l45 17l15-7l-45-16z" color="#e19423"/><path d="M3917 1270l46 17l14-7l-45-17z" color="#e19323"/><path d="M3963 1287l46 17l14-8l-46-16z" color="#e29322"/><path d="M4009 1304l46 17l14-8l-46-17z" color="#e29222"/><path d="M4055 1321l47 17l13-7l-46-18z" color="#e29221"/><path d="M2920 509l30 98l19 20l-28-89z" color="#4c9b27"/><path d="M2950 607l39 201l17 4l-37-185z" color="#a5cf47"/><path d="M2989 808l39 194l15-11l-37-179z" color="#f8c039"/><path d="M3028 1002l28 91l13-18l-26-84z" color="#e36f0b"/><path d="M3056 1093l15-36l15-14l-17 32z" color="#be5807"/><path d="M3071 1057l11-89l16-4l-12 79z" color="#f18a17"/><path d="M3082 968l11-91l18 5l-13 82z" color="#f6d545"/><path d="M3093 877l16-39l19 11l-17 33z" color="#dae653"/><path d="M3109 838l19 49l19 6l-19-44z" color="#d9e652"/><path d="M3128 887l23 101l19-3l-23-92z" color="#f6d746"/><path d="M3151 988l24 98l17-11l-22-90z" color="#f28e19"/><path d="M3175 1086l18 48l17-16l-18-43z" color="#e26c0a"/><path d="M3193 1134l11-33l18-11l-12 28z" color="#df6a09"/><path d="M3204 1101l8-79l18-1l-8 69z" color="#f08917"/><path d="M3212 1022l8-81l19 10l-9 70z" color="#f8c93e"/><path d="M3220 941l11-34l20 14l-12 30z" color="#eaeb54"/><path d="M3231 907l24 64l19 7l-23-57z" color="#eeea51"/><path d="M3255 971l27 112l18-5l-26-100z" color="#f8ad2e"/><path d="M3282 1083l23 63l17-11l-22-57z" color="#eb7e12"/><path d="M3305 1146l15-37l18-7l-16 33z" color="#ea7c11"/><path d="M3320 1109l13-76l19 3l-14 66z" color="#f69f24"/><path d="M3333 1033l16-38l19 8l-16 33z" color="#f6d645"/><path d="M3349 995l21 40l18 4l-20-36z" color="#f5dc48"/><path d="M3370 1035l22 69l18-3l-22-62z" color="#f8b130"/><path d="M3392 1104l20 40l18-7l-20-36z" color="#f3921c"/><path d="M3412 1144l14-18l18-4l-14 15z" color="#e48719"/><path d="M3426 1126l12-38l19 1l-13 33z" color="#f7a428"/><path d="M3438 1088l14-18l19 4l-14 15z" color="#f8c23a"/><path d="M3452 1070l18 21l19 3l-18-20z" color="#efbf3a"/><path d="M3470 1091l20 36l18-2l-19-31z" color="#f8b130"/><path d="M3490 1127l18 22l18-4l-18-20z" color="#f7a327"/><path d="M3508 1149l13-5l18-2l-13 3z" color="#b4761c"/><path d="M3521 1144l13-12l19 1l-14 9z" color="#e99f29"/><path d="M3534 1132l13-4l19 2l-13 3z" color="#cd9529"/><path d="M3547 1128l43 17l19 1l-43-16z" color="#c7942a"/><path d="M3590 1145l44 20l18 1l-43-20z" color="#cf962a"/><path d="M3634 1165l44 22l17-1l-43-20z" color="#d39528"/><path d="M3678 1187l44 19l17-1l-44-19z" color="#d29126"/><path d="M3722 1206l44 16l17-1l-44-16z" color="#d08e25"/><path d="M3766 1222l45 17l16-2l-44-16z" color="#d08e25"/><path d="M3811 1239l45 16l16-2l-45-16z" color="#d08e24"/><path d="M3856 1255l46 17l15-2l-45-17z" color="#d18e24"/><path d="M3902 1272l46 17l15-2l-46-17z" color="#d18d24"/><path d="M3948 1289l46 17l15-2l-46-17z" color="#d18d23"/><path d="M3994 1306l47 18l14-3l-46-17z" color="#d28d23"/><path d="M4041 1324l47 17l14-3l-47-17z" color="#d28c22"/><path d="M2899 487l31 104l20 16l-30-98z" color="#3e9022"/><path d="M2930 591l42 216l17 1l-39-201z" color="#98c944"/><path d="M2972 807l41 208l15-13l-39-194z" color="#f8c53c"/><path d="M3013 1015l29 96l14-18l-28-91z" color="#e26d0a"/><path d="M3042 1111l14-41l15-13l-15 36z" color="#c45a07"/><path d="M3056 1070l9-101l17-1l-11 89z" color="#f28b18"/><path d="M3065 969l8-104l20 12l-11 91z" color="#f4df49"/><path d="M3073 865l15-45l21 18l-16 39z" color="#cbe04f"/><path d="M3088 820l20 54l20 13l-19-49z" color="#cae04f"/><path d="M3108 874l25 112l18 2l-23-101z" color="#f3e24b"/><path d="M3133 986l24 110l18-10l-24-98z" color="#f3911b"/><path d="M3157 1096l19 52l17-14l-18-48z" color="#e26c0a"/><path d="M3176 1148l10-38l18-9l-11 33z" color="#e16b09"/><path d="M3186 1110l7-93l19 5l-8 79z" color="#f28c18"/><path d="M3193 1017l6-94l21 18l-8 81z" color="#f6d645"/><path d="M3199 923l11-41l21 25l-11 34z" color="#dbe753"/><path d="M3210 882l25 73l20 16l-24-64z" color="#e5eb55"/><path d="M3235 955l28 128l19 0l-27-112z" color="#f8b935"/><path d="M3263 1083l24 71l18-8l-23-63z" color="#ec8113"/><path d="M3287 1154l15-43l18-2l-15 37z" color="#eb7f12"/><path d="M3302 1111l12-88l19 10l-13 76z" color="#f7a62a"/><path d="M3314 1023l15-45l20 17l-16 38z" color="#f3e54c"/><path d="M3329 978l21 45l20 12l-21-40z" color="#ede54e"/><path d="M3350 1023l23 78l19 3l-22-69z" color="#f8bd37"/><path d="M3373 1101l21 45l18-2l-20-40z" color="#f49820"/><path d="M3394 1146l13-22l19 2l-14 18z" color="#f4961f"/><path d="M3407 1124l12-45l19 9l-12 38z" color="#f8ae2e"/><path d="M3419 1079l13-22l20 13l-14 18z" color="#f7d142"/><path d="M3432 1057l19 24l19 10l-18-21z" color="#dabc3d"/><path d="M3451 1081l19 41l20 5l-20-36z" color="#f8bf38"/><path d="M3470 1122l19 24l19 3l-18-22z" color="#f4a82c"/><path d="M3489 1146l13-6l19 4l-13 5z" color="#df9827"/><path d="M3502 1140l13-16l19 8l-13 12z" color="#f8b532"/><path d="M3515 1124l13-6l19 10l-13 4z" color="#f1bd39"/><path d="M3528 1118l44 18l18 9l-43-17z" color="#b28f2c"/><path d="M3572 1136l44 22l18 7l-44-20z" color="#a88428"/><path d="M3616 1158l44 22l18 7l-44-22z" color="#b28728"/><path d="M3660 1180l44 20l18 6l-44-19z" color="#af8225"/><path d="M3704 1200l45 16l17 6l-44-16z" color="#a87c23"/><path d="M3749 1216l46 17l16 6l-45-17z" color="#a97c23"/><path d="M3795 1233l45 17l16 5l-45-16z" color="#a97c22"/><path d="M3840 1250l46 17l16 5l-46-17z" color="#aa7b22"/><path d="M3886 1267l47 17l15 5l-46-17z" color="#ab7b22"/><path d="M3933 1284l47 18l14 4l-46-17z" color="#ab7b22"/><path d="M3980 1302l47 17l14 5l-47-18z" color="#ac7b21"/><path d="M4027 1319l48 18l13 4l-47-17z" color="#ac7a21"/><path d="M2880 482l32 109l18 0l-31-104z" color="#34881e"/><path d="M2912 591l44 224l16-8l-42-216z" color="#90c542"/><path d="M2956 815l42 216l15-16l-41-208z" color="#f8c53c"/><path d="M2998 1031l30 100l14-20l-29-96z" color="#e16a09"/><path d="M3028 1131l13-49l15-12l-14 41z" color="#ca5c06"/><path d="M3041 1082l6-117l18 4l-9 101z" color="#f28e1a"/><path d="M3047 965l6-121l20 21l-8 104z" color="#f1e94f"/><path d="M3053 844l13-53l22 29l-15 45z" color="#b8d84a"/><path d="M3066 791l21 61l21 22l-20-54z" color="#b7d84a"/><path d="M3087 852l26 126l20 8l-25-112z" color="#efe951"/><path d="M3113 978l25 124l19-6l-24-110z" color="#f4961f"/><path d="M3138 1102l20 58l18-12l-19-52z" color="#e26c0a"/><path d="M3158 1160l10-46l18-4l-10 38z" color="#e26c0a"/><path d="M3168 1114l5-111l20 14l-7 93z" color="#f3931d"/><path d="M3173 1003l4-113l22 33l-6 94z" color="#f2e84e"/><path d="M3177 890l11-50l22 42l-11 41z" color="#c1dc4c"/><path d="M3188 840l25 85l22 30l-25-73z" color="#c4d84c"/><path d="M3213 925l30 150l20 8l-28-128z" color="#f8cb40"/><path d="M3243 1075l25 82l19-3l-24-71z" color="#ef8615"/><path d="M3268 1157l14-52l20 6l-15 43z" color="#ee8314"/><path d="M3282 1105l11-104l21 22l-12 88z" color="#f8b532"/><path d="M3293 1001l14-54l22 31l-15 45z" color="#ebeb54"/><path d="M3307 947l22 52l21 24l-21-45z" color="#d1d54d"/><path d="M3329 999l24 90l20 12l-23-78z" color="#f7d042"/><path d="M3353 1089l21 52l20 5l-21-45z" color="#f7a327"/><path d="M3374 1141l13-27l20 10l-13 22z" color="#f6a025"/><path d="M3387 1114l11-56l21 21l-12 45z" color="#f8bf39"/><path d="M3398 1058l13-27l21 26l-13 22z" color="#f3e44c"/><path d="M3411 1031l19 28l21 22l-19-24z" color="#b7b03b"/><path d="M3430 1059l20 47l20 16l-19-41z" color="#edca40"/><path d="M3450 1106l19 29l20 11l-19-24z" color="#dda831"/><path d="M3469 1135l13-9l20 14l-13 6z" color="#f8ba35"/><path d="M3482 1126l13-21l20 19l-13 16z" color="#f8c83e"/><path d="M3495 1105l13-9l20 22l-13 6z" color="#f6d745"/><path d="M3508 1096l44 19l20 21l-44-18z" color="#dcc540"/><path d="M3552 1115l44 23l20 20l-44-22z" color="#d3b93c"/><path d="M3596 1138l45 24l19 18l-44-22z" color="#cfaf38"/><path d="M3641 1162l45 21l18 17l-44-20z" color="#d3ae37"/><path d="M3686 1183l46 17l17 16l-45-16z" color="#d8b137"/><path d="M3732 1200l46 16l17 17l-46-17z" color="#d8b037"/><path d="M3778 1216l46 17l16 17l-45-17z" color="#d8af36"/><path d="M3824 1233l46 18l16 16l-46-17z" color="#d8ae36"/><path d="M3870 1251l47 17l16 16l-47-17z" color="#d8ad35"/><path d="M3917 1268l48 18l15 16l-47-18z" color="#d8ad35"/><path d="M3965 1286l48 18l14 15l-47-17z" color="#d8ac34"/><path d="M4013 1304l48 18l14 15l-48-18z" color="#d8ab34"/><path d="M2861 478l33 113l18 0l-32-109z" color="#2f841c"/><path d="M2894 591l46 233l16-9l-44-224z" color="#8cc340"/><path d="M2940 824l44 225l14-18l-42-216z" color="#f8c33b"/><path d="M2984 1049l31 103l13-21l-30-100z" color="#dd6608"/><path d="M3015 1152l10-59l16-11l-13 49z" color="#d15e06"/><path d="M3025 1093l3-139l19 11l-6 117z" color="#f3931d"/><path d="M3028 954l3-145l22 35l-6 121z" color="#e9ec55"/><path d="M3031 809l11-64l24 46l-13 53z" color="#9fcc46"/><path d="M3042 745l22 70l23 37l-21-61z" color="#96c242"/><path d="M3064 815l28 145l21 18l-26-126z" color="#e4ea55"/><path d="M3092 960l27 141l19 1l-25-124z" color="#f6a025"/><path d="M3119 1101l21 66l18-7l-20-58z" color="#e36f0b"/><path d="M3140 1167l8-57l20 4l-10 46z" color="#e36f0b"/><path d="M3148 1110l3-135l22 28l-5 111z" color="#f6a025"/><path d="M3151 975l2-139l24 54l-4 113z" color="#e6eb55"/><path d="M3153 836l9-62l26 66l-11 50z" color="#9fcd46"/><path d="M3162 774l28 101l23 50l-25-85z" color="#97ba40"/><path d="M3190 875l32 178l21 22l-30-150z" color="#f3e44c"/><path d="M3222 1053l26 97l20 7l-25-82z" color="#f3911b"/><path d="M3248 1150l13-63l21 18l-14 52z" color="#f28c18"/><path d="M3261 1087l9-126l23 40l-11 104z" color="#f8ce41"/><path d="M3270 961l14-66l23 52l-14 54z" color="#d1e350"/><path d="M3284 895l22 61l23 43l-22-52z" color="#a0b23e"/><path d="M3306 956l26 106l21 27l-24-90z" color="#f2e84e"/><path d="M3332 1062l22 60l20 19l-21-52z" color="#f1b232"/><path d="M3354 1122l12-34l21 26l-13 27z" color="#f8b432"/><path d="M3366 1088l10-68l22 38l-11 56z" color="#f5d946"/><path d="M3376 1020l13-35l22 46l-13 27z" color="#e7ec56"/><path d="M3389 985l19 33l22 41l-19-28z" color="#adb341"/><path d="M3408 1018l21 57l21 31l-20-47z" color="#cfc944"/><path d="M3429 1075l19 33l21 27l-19-29z" color="#b79f33"/><path d="M3448 1108l13-13l21 31l-13 9z" color="#f6d344"/><path d="M3461 1095l12-27l22 37l-13 21z" color="#f3e14b"/><path d="M3473 1068l13-12l22 40l-13 9z" color="#eeea51"/><path d="M3486 1056l45 19l21 40l-44-19z" color="#eceb53"/><path d="M3531 1075l45 25l20 38l-44-23z" color="#eeea51"/><path d="M3576 1100l46 27l19 35l-45-24z" color="#f0e94f"/><path d="M3622 1127l45 21l19 35l-45-21z" color="#f2e74e"/><path d="M3667 1148l46 17l19 35l-46-17z" color="#f3e64d"/><path d="M3713 1165l47 17l18 34l-46-16z" color="#f3e54c"/><path d="M3760 1182l47 17l17 34l-46-17z" color="#f3e44c"/><path d="M3807 1199l47 18l16 34l-46-18z" color="#f3e34c"/><path d="M3854 1217l48 17l15 34l-47-17z" color="#f3e24b"/><path d="M3902 1234l48 18l15 34l-48-18z" color="#f3e14b"/><path d="M3950 1252l48 18l15 34l-48-18z" color="#f4e04a"/><path d="M3998 1270l49 18l14 34l-48-18z" color="#f4df4a"/></g><path d="M294 120.5L404.5 162" stroke="#222" stroke-width="0.85" fill="none"/><path d="M404.5 162L461.5 95.5" stroke="#222" stroke-width="0.85" fill="none"/><path d="M461.5 95.5L466 25.4" stroke="#555" stroke-width="0.85" fill="none"/><path d="M55.7 303.6L125.5 244.8" stroke="#f0f0f0" stroke-width="0.6" fill="none"/><path d="M125.5 244.8L124.9 199.6" stroke="#f0f0f0" stroke-width="0.6" fill="none"/><path d="M78.3 311.7L146.1 250.6" stroke="#f0f0f0" stroke-width="0.6" fill="none"/><path d="M146.1 250.6L146.4 204.8" stroke="#f0f0f0" stroke-width="0.6" fill="none"/><path d="M100.8 319.8L166.6 256.3" stroke="#f0f0f0" stroke-width="0.6" fill="none"/><path d="M166.6 256.3L167.8 209.9" stroke="#f0f0f0" stroke-width="0.6" fill="none"/><path d="M125.5 328.7L188.8 262.6" stroke="#f0f0f0" stroke-width="0.6" fill="none"/><path d="M188.8 262.6L191 215.5" stroke="#f0f0f0" stroke-width="0.6" fill="none"/><path d="M52.1 283.7L157 319.5" stroke="#f0f0f0" stroke-width="0.6" fill="none"/><path d="M52.1 283.7L48 235.2" stroke="#f0f0f0" stroke-width="0.6" fill="none"/><path d="M70.9 268.8L173.2 301.6" stroke="#f0f0f0" stroke-width="0.6" fill="none"/><path d="M70.9 268.8L67.8 221.6" stroke="#f0f0f0" stroke-width="0.6" fill="none"/><path d="M88.2 255L188.1 285.1" stroke="#f0f0f0" stroke-width="0.6" fill="none"/><path d="M88.2 255L86 209" stroke="#f0f0f0" stroke-width="0.6" fill="none"/><path d="M104.3 242.1L201.9 269.9" stroke="#f0f0f0" stroke-width="0.6" fill="none"/><path d="M104.3 242.1L102.9 197.3" stroke="#f0f0f0" stroke-width="0.6" fill="none"/><path d="M33.6 272.3L106.8 217.8" stroke="#f0f0f0" stroke-width="0.6" fill="none"/><path d="M106.8 217.8L205.9 243.7" stroke="#f0f0f0" stroke-width="0.6" fill="none"/><path d="M36 296.5L107.4 239.7" stroke="#cfcfcf" stroke-width="0.7" fill="none"/><path d="M107.4 239.7L204.5 267" stroke="#cfcfcf" stroke-width="0.7" fill="none"/><path d="M107.4 239.7L106.1 195.1" stroke="#bdbdbd" stroke-width="0.7" fill="none"/><path d="M31 247L106.1 195.1" stroke="#9c9c9c" stroke-width="0.8" fill="none"/><path d="M106.1 195.1L207.4 219.4" stroke="#9c9c9c" stroke-width="0.8" fill="none"/><path d="M36 296.5L31 247" stroke="#9c9c9c" stroke-width="0.8" fill="none"/><g class="s sc" transform="scale(.1)"><path d="M1035 1979l31 8l26-19l-31-8z" color="#479322"/><path d="M1066 1987l31 8l26-18l-31-9z" color="#479322"/><path d="M1097 1995l31 10l27-19l-32-9z" color="#489422"/><path d="M1128 2005l32 10l26-19l-31-10z" color="#4a9423"/><path d="M1160 2015l32 10l26-19l-32-10z" color="#4b9524"/><path d="M1192 2025l32 12l26-19l-32-12z" color="#4d9625"/><path d="M1224 2037l32 13l26-19l-32-13z" color="#4f9826"/><path d="M1256 2050l32 16l26-20l-32-15z" color="#539a28"/><path d="M1288 2066l32 19l26-20l-32-19z" color="#589d2b"/><path d="M1320 2085l33 21l26-19l-33-22z" color="#6da932"/><path d="M1353 2106l33 25l25-20l-32-24z" color="#95c040"/><path d="M1386 2131l33 25l25-20l-33-25z" color="#ccd951"/><path d="M1419 2156l33 22l25-20l-33-22z" color="#efdf5e"/><path d="M1452 2178l33 19l25-20l-33-19z" color="#f2c349"/><path d="M1485 2197l33 16l25-20l-33-16z" color="#f0a934"/><path d="M1518 2213l34 15l24-21l-33-14z" color="#ec9b29"/><path d="M1552 2228l33 14l25-21l-34-14z" color="#e89022"/><path d="M1585 2242l34 13l24-21l-33-13z" color="#e4871c"/><path d="M1619 2255l34 14l24-21l-34-14z" color="#e07e15"/><path d="M1653 2269l34 14l24-21l-34-14z" color="#dc7711"/><path d="M1687 2283l35 14l23-21l-34-14z" color="#d7710f"/><path d="M1722 2297l34 13l24-21l-35-13z" color="#d46c0d"/><path d="M1756 2310l35 13l23-22l-34-12z" color="#d0680c"/><path d="M1791 2323l35 12l23-22l-35-12z" color="#cd640b"/><path d="M1826 2335l35 12l23-22l-35-12z" color="#cb610a"/><path d="M1861 2347l36 12l23-22l-36-12z" color="#c85e0a"/><path d="M1897 2359l35 12l23-22l-35-12z" color="#c55c09"/><path d="M1932 2371l36 12l23-22l-36-12z" color="#c35a09"/><path d="M1968 2383l36 12l23-22l-36-12z" color="#c05709"/><path d="M2004 2395l37 10l22-20l-36-12z" color="#be5509"/><path d="M1007 1998l32 8l27-19l-31-8z" color="#479322"/><path d="M1039 2006l31 8l27-19l-31-8z" color="#479322"/><path d="M1070 2014l31 10l27-19l-31-10z" color="#489422"/><path d="M1101 2024l32 10l27-19l-32-10z" color="#4a9423"/><path d="M1133 2034l32 11l27-20l-32-10z" color="#4b9524"/><path d="M1165 2045l32 11l27-19l-32-12z" color="#4c9625"/><path d="M1197 2056l32 14l27-20l-32-13z" color="#4f9826"/><path d="M1229 2070l33 15l26-19l-32-16z" color="#529a28"/><path d="M1262 2085l32 19l26-19l-32-19z" color="#579c2b"/><path d="M1294 2104l33 22l26-20l-33-21z" color="#6ca932"/><path d="M1327 2126l33 24l26-19l-33-25z" color="#94bf40"/><path d="M1360 2150l33 25l26-19l-33-25z" color="#cad851"/><path d="M1393 2175l33 23l26-20l-33-22z" color="#eedf5e"/><path d="M1426 2198l34 19l25-20l-33-19z" color="#f2c44a"/><path d="M1460 2217l33 17l25-21l-33-16z" color="#f0a934"/><path d="M1493 2234l34 15l25-21l-34-15z" color="#ec9b2a"/><path d="M1527 2249l34 14l24-21l-33-14z" color="#e89122"/><path d="M1561 2263l34 13l24-21l-34-13z" color="#e4881c"/><path d="M1595 2276l34 14l24-21l-34-14z" color="#e07f15"/><path d="M1629 2290l34 14l24-21l-34-14z" color="#dc7711"/><path d="M1663 2304l35 14l24-21l-35-14z" color="#d8720f"/><path d="M1698 2318l34 14l24-22l-34-13z" color="#d46c0d"/><path d="M1732 2332l35 12l24-21l-35-13z" color="#d0680c"/><path d="M1767 2344l35 13l24-22l-35-12z" color="#ce640b"/><path d="M1802 2357l36 12l23-22l-35-12z" color="#cb610a"/><path d="M1838 2369l35 11l24-21l-36-12z" color="#c95f0a"/><path d="M1873 2380l36 12l23-21l-35-12z" color="#c65d09"/><path d="M1909 2392l36 12l23-21l-36-12z" color="#c45b09"/><path d="M1945 2404l37 10l22-19l-36-12z" color="#c15809"/><path d="M1982 2414l36 10l23-19l-37-10z" color="#bf5709"/><path d="M980 2017l31 8l28-19l-32-8z" color="#479322"/><path d="M1011 2025l32 9l27-20l-31-8z" color="#479322"/><path d="M1043 2034l31 9l27-19l-31-10z" color="#489422"/><path d="M1074 2043l32 11l27-20l-32-10z" color="#499423"/><path d="M1106 2054l32 10l27-19l-32-11z" color="#4b9524"/><path d="M1138 2064l32 12l27-20l-32-11z" color="#4c9625"/><path d="M1170 2076l33 13l26-19l-32-14z" color="#4f9726"/><path d="M1203 2089l32 16l27-20l-33-15z" color="#529928"/><path d="M1235 2105l33 18l26-19l-32-19z" color="#579c2a"/><path d="M1268 2123l33 22l26-19l-33-22z" color="#69a731"/><path d="M1301 2145l33 24l26-19l-33-24z" color="#8fbd3e"/><path d="M1334 2169l33 25l26-19l-33-25z" color="#c7d850"/><path d="M1367 2194l34 23l25-19l-33-23z" color="#ebde5d"/><path d="M1401 2217l33 20l26-20l-34-19z" color="#f2c74c"/><path d="M1434 2237l34 17l25-20l-33-17z" color="#f1ac36"/><path d="M1468 2254l34 15l25-20l-34-15z" color="#ed9c2a"/><path d="M1502 2269l34 14l25-20l-34-14z" color="#e89223"/><path d="M1536 2283l34 14l25-21l-34-13z" color="#e4891d"/><path d="M1570 2297l34 14l25-21l-34-14z" color="#e18016"/><path d="M1604 2311l35 14l24-21l-34-14z" color="#dd7811"/><path d="M1639 2325l34 14l25-21l-35-14z" color="#d97310"/><path d="M1673 2339l35 14l24-21l-34-14z" color="#d56d0e"/><path d="M1708 2353l35 13l24-22l-35-12z" color="#d1690c"/><path d="M1743 2366l36 12l23-21l-35-13z" color="#ce650b"/><path d="M1779 2378l35 12l24-21l-36-12z" color="#cc620a"/><path d="M1814 2390l36 11l23-21l-35-11z" color="#ca600a"/><path d="M1850 2401l36 12l23-21l-36-12z" color="#c75e0a"/><path d="M1886 2413l36 11l23-20l-36-12z" color="#c55c09"/><path d="M1922 2424l37 10l23-20l-37-10z" color="#c35b09"/><path d="M1959 2434l36 10l23-20l-36-10z" color="#c25a09"/><path d="M952 2036l31 8l28-19l-31-8z" color="#479322"/><path d="M983 2044l32 9l28-19l-32-9z" color="#479322"/><path d="M1015 2053l32 10l27-20l-31-9z" color="#489422"/><path d="M1047 2063l32 10l27-19l-32-11z" color="#499423"/><path d="M1079 2073l32 11l27-20l-32-10z" color="#4b9524"/><path d="M1111 2084l32 11l27-19l-32-12z" color="#4c9625"/><path d="M1143 2095l33 13l27-19l-33-13z" color="#4e9726"/><path d="M1176 2108l32 16l27-19l-32-16z" color="#529928"/><path d="M1208 2124l33 18l27-19l-33-18z" color="#569c2a"/><path d="M1241 2142l34 21l26-18l-33-22z" color="#65a530"/><path d="M1275 2163l33 24l26-18l-33-24z" color="#88ba3c"/><path d="M1308 2187l33 25l26-18l-33-25z" color="#bfd44d"/><path d="M1341 2212l34 24l26-19l-34-23z" color="#e6dd5b"/><path d="M1375 2236l33 20l26-19l-33-20z" color="#f3cc50"/><path d="M1408 2256l34 18l26-20l-34-17z" color="#f1b03a"/><path d="M1442 2274l34 16l26-21l-34-15z" color="#ee9e2c"/><path d="M1476 2290l34 14l26-21l-34-14z" color="#e99425"/><path d="M1510 2304l34 14l26-21l-34-14z" color="#e58b1e"/><path d="M1544 2318l35 14l25-21l-34-14z" color="#e28218"/><path d="M1579 2332l35 14l25-21l-35-14z" color="#de7a12"/><path d="M1614 2346l35 13l24-20l-34-14z" color="#da7510"/><path d="M1649 2359l35 14l24-20l-35-14z" color="#d66f0e"/><path d="M1684 2373l35 13l24-20l-35-13z" color="#d36b0d"/><path d="M1719 2386l35 13l25-21l-36-12z" color="#d0670c"/><path d="M1754 2399l36 12l24-21l-35-12z" color="#cd640b"/><path d="M1790 2411l36 11l24-21l-36-11z" color="#cb610a"/><path d="M1826 2422l36 11l24-20l-36-12z" color="#c9600a"/><path d="M1862 2433l37 11l23-20l-36-11z" color="#c75e0a"/><path d="M1899 2444l36 10l24-20l-37-10z" color="#c65d09"/><path d="M1935 2454l37 10l23-20l-36-10z" color="#c55d09"/><path d="M924 2056l31 8l28-20l-31-8z" color="#479322"/><path d="M955 2064l32 9l28-20l-32-9z" color="#479322"/><path d="M987 2073l32 9l28-19l-32-10z" color="#489422"/><path d="M1019 2082l32 11l28-20l-32-10z" color="#499423"/><path d="M1051 2093l32 11l28-20l-32-11z" color="#4b9524"/><path d="M1083 2104l33 11l27-20l-32-11z" color="#4c9624"/><path d="M1116 2115l32 13l28-20l-33-13z" color="#4e9726"/><path d="M1148 2128l33 15l27-19l-32-16z" color="#519927"/><path d="M1181 2143l33 17l27-18l-33-18z" color="#559b2a"/><path d="M1214 2160l34 21l27-18l-34-21z" color="#5fa12e"/><path d="M1248 2181l33 23l27-17l-33-24z" color="#80b539"/><path d="M1281 2204l34 25l26-17l-33-25z" color="#b2ce49"/><path d="M1315 2229l33 24l27-17l-34-24z" color="#dedc58"/><path d="M1348 2253l34 22l26-19l-33-20z" color="#f3d557"/><path d="M1382 2275l34 18l26-19l-34-18z" color="#f1b73f"/><path d="M1416 2293l34 16l26-19l-34-16z" color="#efa22e"/><path d="M1450 2309l34 15l26-20l-34-14z" color="#ea9727"/><path d="M1484 2324l35 14l25-20l-34-14z" color="#e78e20"/><path d="M1519 2338l35 14l25-20l-35-14z" color="#e3861a"/><path d="M1554 2352l34 13l26-19l-35-14z" color="#e07e15"/><path d="M1588 2365l36 14l25-20l-35-13z" color="#dc7711"/><path d="M1624 2379l35 14l25-20l-35-14z" color="#d8720f"/><path d="M1659 2393l35 13l25-20l-35-13z" color="#d56e0e"/><path d="M1694 2406l36 13l24-20l-35-13z" color="#d26a0d"/><path d="M1730 2419l36 12l24-20l-36-12z" color="#cf670c"/><path d="M1766 2431l36 11l24-20l-36-11z" color="#cd640b"/><path d="M1802 2442l36 11l24-20l-36-11z" color="#cb620a"/><path d="M1838 2453l37 11l24-20l-37-11z" color="#ca610a"/><path d="M1875 2464l37 11l23-21l-36-10z" color="#c9600a"/><path d="M1912 2475l37 10l23-21l-37-10z" color="#c8600a"/><path d="M895 2075l32 9l28-20l-31-8z" color="#479322"/><path d="M927 2084l32 8l28-19l-32-9z" color="#479322"/><path d="M959 2092l32 10l28-20l-32-9z" color="#489322"/><path d="M991 2102l32 11l28-20l-32-11z" color="#499423"/><path d="M1023 2113l32 10l28-19l-32-11z" color="#4a9523"/><path d="M1055 2123l33 11l28-19l-33-11z" color="#4c9624"/><path d="M1088 2134l33 13l27-19l-32-13z" color="#4e9725"/><path d="M1121 2147l33 15l27-19l-33-15z" color="#509827"/><path d="M1154 2162l33 16l27-18l-33-17z" color="#549b29"/><path d="M1187 2178l33 20l28-17l-34-21z" color="#5a9e2c"/><path d="M1220 2198l34 22l27-16l-33-23z" color="#77af36"/><path d="M1254 2220l34 25l27-16l-34-25z" color="#a2c644"/><path d="M1288 2245l34 24l26-16l-33-24z" color="#d2da54"/><path d="M1322 2269l34 23l26-17l-34-22z" color="#f3e060"/><path d="M1356 2292l34 20l26-19l-34-18z" color="#f2c147"/><path d="M1390 2312l34 16l26-19l-34-16z" color="#f0a934"/><path d="M1424 2328l34 16l26-20l-34-15z" color="#ec9b2a"/><path d="M1458 2344l35 14l26-20l-35-14z" color="#e89223"/><path d="M1493 2358l35 13l26-19l-35-14z" color="#e58a1d"/><path d="M1528 2371l35 14l25-20l-34-13z" color="#e28218"/><path d="M1563 2385l35 14l26-20l-36-14z" color="#de7b13"/><path d="M1598 2399l36 13l25-19l-35-14z" color="#db7611"/><path d="M1634 2412l35 13l25-19l-35-13z" color="#d7710f"/><path d="M1669 2425l36 13l25-19l-36-13z" color="#d46e0e"/><path d="M1705 2438l36 12l25-19l-36-12z" color="#d16a0d"/><path d="M1741 2450l37 12l24-20l-36-11z" color="#cf680c"/><path d="M1778 2462l36 11l24-20l-36-11z" color="#cd660c"/><path d="M1814 2473l37 11l24-20l-37-11z" color="#cc640b"/><path d="M1851 2484l37 11l24-20l-37-11z" color="#cc640b"/><path d="M1888 2495l37 10l24-20l-37-10z" color="#cb630b"/><path d="M866 2096l32 8l29-20l-32-9z" color="#479322"/><path d="M898 2104l32 8l29-20l-32-8z" color="#479322"/><path d="M930 2112l32 10l29-20l-32-10z" color="#489322"/><path d="M962 2122l32 10l29-19l-32-11z" color="#499423"/><path d="M994 2132l33 11l28-20l-32-10z" color="#4a9523"/><path d="M1027 2143l33 11l28-20l-33-11z" color="#4b9524"/><path d="M1060 2154l33 12l28-19l-33-13z" color="#4d9625"/><path d="M1093 2166l33 14l28-18l-33-15z" color="#4f9826"/><path d="M1126 2180l33 16l28-18l-33-16z" color="#539a28"/><path d="M1159 2196l34 19l27-17l-33-20z" color="#589d2b"/><path d="M1193 2215l33 21l28-16l-34-22z" color="#6ba832"/><path d="M1226 2236l34 23l28-14l-34-25z" color="#8ebd3e"/><path d="M1260 2259l34 25l28-15l-34-24z" color="#c2d54e"/><path d="M1294 2284l35 23l27-15l-34-23z" color="#e5dd5b"/><path d="M1329 2307l34 21l27-16l-34-20z" color="#f3d053"/><path d="M1363 2328l34 19l27-19l-34-16z" color="#f1b43d"/><path d="M1397 2347l35 15l26-18l-34-16z" color="#efa22e"/><path d="M1432 2362l35 15l26-19l-35-14z" color="#eb9827"/><path d="M1467 2377l35 14l26-20l-35-13z" color="#e78f21"/><path d="M1502 2391l35 13l26-19l-35-14z" color="#e4881c"/><path d="M1537 2404l35 14l26-19l-35-14z" color="#e18117"/><path d="M1572 2418l36 13l26-19l-36-13z" color="#dd7a13"/><path d="M1608 2431l36 13l25-19l-35-13z" color="#da7611"/><path d="M1644 2444l36 12l25-18l-36-13z" color="#d77210"/><path d="M1680 2456l36 13l25-19l-36-12z" color="#d46f0f"/><path d="M1716 2469l37 12l25-19l-37-12z" color="#d26c0e"/><path d="M1753 2481l37 11l24-19l-36-11z" color="#d06b0d"/><path d="M1790 2492l37 11l24-19l-37-11z" color="#cf690d"/><path d="M1827 2503l37 11l24-19l-37-11z" color="#ce680c"/><path d="M1864 2514l37 10l24-19l-37-10z" color="#ce680c"/><path d="M837 2116l32 8l29-20l-32-8z" color="#479322"/><path d="M869 2124l32 9l29-21l-32-8z" color="#479322"/><path d="M901 2133l32 9l29-20l-32-10z" color="#489322"/><path d="M933 2142l33 10l28-20l-32-10z" color="#489422"/><path d="M966 2152l32 11l29-20l-33-11z" color="#4a9423"/><path d="M998 2163l33 12l29-21l-33-11z" color="#4b9524"/><path d="M1031 2175l33 11l29-20l-33-12z" color="#4c9625"/><path d="M1064 2186l33 13l29-19l-33-14z" color="#4e9726"/><path d="M1097 2199l34 15l28-18l-33-16z" color="#529927"/><path d="M1131 2214l34 17l28-16l-34-19z" color="#569b2a"/><path d="M1165 2231l34 20l27-15l-33-21z" color="#5ea02d"/><path d="M1199 2251l34 22l27-14l-34-23z" color="#7cb338"/><path d="M1233 2273l34 24l27-13l-34-25z" color="#a7c946"/><path d="M1267 2297l34 24l28-14l-35-23z" color="#d3da54"/><path d="M1301 2321l35 22l27-15l-34-21z" color="#f1e05f"/><path d="M1336 2343l34 20l27-16l-34-19z" color="#f2c54b"/><path d="M1370 2363l35 17l27-18l-35-15z" color="#f1ae38"/><path d="M1405 2380l35 16l27-19l-35-15z" color="#ee9f2c"/><path d="M1440 2396l35 14l27-19l-35-14z" color="#ea9626"/><path d="M1475 2410l36 14l26-20l-35-13z" color="#e68e21"/><path d="M1511 2424l35 13l26-19l-35-14z" color="#e3881c"/><path d="M1546 2437l36 13l26-19l-36-13z" color="#e08218"/><path d="M1582 2450l36 13l26-19l-36-13z" color="#dd7c14"/><path d="M1618 2463l37 12l25-19l-36-12z" color="#db7811"/><path d="M1655 2475l36 12l25-18l-36-13z" color="#d87511"/><path d="M1691 2487l37 12l25-18l-37-12z" color="#d67210"/><path d="M1728 2499l37 11l25-18l-37-11z" color="#d5700f"/><path d="M1765 2510l37 11l25-18l-37-11z" color="#d36f0f"/><path d="M1802 2521l37 11l25-18l-37-11z" color="#d26e0e"/><path d="M1839 2532l38 11l24-19l-37-10z" color="#d26e0e"/><path d="M807 2136l32 9l30-21l-32-8z" color="#479322"/><path d="M839 2145l32 8l30-20l-32-9z" color="#479322"/><path d="M871 2153l33 10l29-21l-32-9z" color="#479322"/><path d="M904 2163l32 10l30-21l-33-10z" color="#489422"/><path d="M936 2173l33 11l29-21l-32-11z" color="#499423"/><path d="M969 2184l33 11l29-20l-33-12z" color="#4a9524"/><path d="M1002 2195l33 11l29-20l-33-11z" color="#4c9624"/><path d="M1035 2206l34 13l28-20l-33-13z" color="#4d9725"/><path d="M1069 2219l33 14l29-19l-34-15z" color="#509827"/><path d="M1102 2233l34 16l29-18l-34-17z" color="#549a28"/><path d="M1136 2249l34 17l29-15l-34-20z" color="#589d2b"/><path d="M1170 2266l34 21l29-14l-34-22z" color="#6aa832"/><path d="M1204 2287l35 22l28-12l-34-24z" color="#8abb3d"/><path d="M1239 2309l35 24l27-12l-34-24z" color="#b8d14b"/><path d="M1274 2333l34 23l28-13l-35-22z" color="#dcdc57"/><path d="M1308 2356l35 21l27-14l-34-20z" color="#f3db5d"/><path d="M1343 2377l35 19l27-16l-35-17z" color="#f1c047"/><path d="M1378 2396l35 17l27-17l-35-16z" color="#efab36"/><path d="M1413 2413l36 15l26-18l-35-14z" color="#ed9e2c"/><path d="M1449 2428l35 14l27-18l-36-14z" color="#e99626"/><path d="M1484 2442l36 14l26-19l-35-13z" color="#e68f22"/><path d="M1520 2456l36 13l26-19l-36-13z" color="#e38a1e"/><path d="M1556 2469l36 12l26-18l-36-13z" color="#e1841a"/><path d="M1592 2481l37 13l26-19l-37-12z" color="#de8017"/><path d="M1629 2494l36 12l26-19l-36-12z" color="#dc7c14"/><path d="M1665 2506l37 12l26-19l-37-12z" color="#db7912"/><path d="M1702 2518l37 11l26-19l-37-11z" color="#d97711"/><path d="M1739 2529l38 11l25-19l-37-11z" color="#d87611"/><path d="M1777 2540l38 11l24-19l-37-11z" color="#d77511"/><path d="M1815 2551l38 11l24-19l-38-11z" color="#d77411"/><path d="M777 2157l32 9l30-21l-32-9z" color="#479322"/><path d="M809 2166l33 8l29-21l-32-8z" color="#479322"/><path d="M842 2174l32 9l30-20l-33-10z" color="#479322"/><path d="M874 2183l33 10l29-20l-32-10z" color="#489322"/><path d="M907 2193l33 11l29-20l-33-11z" color="#499423"/><path d="M940 2204l33 11l29-20l-33-11z" color="#4a9523"/><path d="M973 2215l33 12l29-21l-33-11z" color="#4b9524"/><path d="M1006 2227l34 11l29-19l-34-13z" color="#4d9625"/><path d="M1040 2238l33 13l29-18l-33-14z" color="#4f9726"/><path d="M1073 2251l34 15l29-17l-34-16z" color="#519927"/><path d="M1107 2266l34 17l29-17l-34-17z" color="#559b29"/><path d="M1141 2283l35 18l28-14l-34-21z" color="#5a9e2c"/><path d="M1176 2301l35 20l28-12l-35-22z" color="#73ad35"/><path d="M1211 2321l34 22l29-10l-35-24z" color="#94bf40"/><path d="M1245 2343l35 23l28-10l-34-23z" color="#bfd34d"/><path d="M1280 2366l35 22l28-11l-35-21z" color="#ddda58"/><path d="M1315 2388l36 21l27-13l-35-19z" color="#f1d95c"/><path d="M1351 2409l35 18l27-14l-35-17z" color="#efc148"/><path d="M1386 2427l35 17l28-16l-36-15z" color="#eead39"/><path d="M1421 2444l36 16l27-18l-35-14z" color="#eca02e"/><path d="M1457 2460l36 14l27-18l-36-14z" color="#e99829"/><path d="M1493 2474l36 13l27-18l-36-13z" color="#e69224"/><path d="M1529 2487l37 13l26-19l-36-12z" color="#e48e21"/><path d="M1566 2500l36 13l27-19l-37-13z" color="#e2891e"/><path d="M1602 2513l37 12l26-19l-36-12z" color="#e1861b"/><path d="M1639 2525l37 11l26-18l-37-12z" color="#df8319"/><path d="M1676 2536l38 12l25-19l-37-11z" color="#de8018"/><path d="M1714 2548l37 11l26-19l-38-11z" color="#dd7f17"/><path d="M1751 2559l38 11l26-19l-38-11z" color="#dc7d16"/><path d="M1789 2570l38 11l26-19l-38-11z" color="#dc7d15"/><path d="M747 2178l32 9l30-21l-32-9z" color="#479322"/><path d="M779 2187l32 9l31-22l-33-8z" color="#479322"/><path d="M811 2196l33 9l30-22l-32-9z" color="#479322"/><path d="M844 2205l33 9l30-21l-33-10z" color="#489322"/><path d="M877 2214l33 11l30-21l-33-11z" color="#489422"/><path d="M910 2225l33 11l30-21l-33-11z" color="#499423"/><path d="M943 2236l33 11l30-20l-33-12z" color="#4a9524"/><path d="M976 2247l34 12l30-21l-34-11z" color="#4c9624"/><path d="M1010 2259l34 12l29-20l-33-13z" color="#4d9725"/><path d="M1044 2271l34 14l29-19l-34-15z" color="#509826"/><path d="M1078 2285l34 15l29-17l-34-17z" color="#539a28"/><path d="M1112 2300l35 16l29-15l-35-18z" color="#569c2a"/><path d="M1147 2316l35 18l29-13l-35-20z" color="#5ea02d"/><path d="M1182 2334l35 20l28-11l-34-22z" color="#76ae36"/><path d="M1217 2354l35 21l28-9l-35-23z" color="#94be40"/><path d="M1252 2375l35 22l28-9l-35-22z" color="#bbd04c"/><path d="M1287 2397l36 21l28-9l-36-21z" color="#d7d755"/><path d="M1323 2418l35 20l28-11l-35-18z" color="#eddb5d"/><path d="M1358 2438l36 19l27-13l-35-17z" color="#edc74e"/><path d="M1394 2457l36 17l27-14l-36-16z" color="#ecb53f"/><path d="M1430 2474l36 16l27-16l-36-14z" color="#eca734"/><path d="M1466 2490l36 14l27-17l-36-13z" color="#ea9e2d"/><path d="M1502 2504l37 13l27-17l-37-13z" color="#e89829"/><path d="M1539 2517l37 13l26-17l-36-13z" color="#e69325"/><path d="M1576 2530l37 13l26-18l-37-12z" color="#e49023"/><path d="M1613 2543l37 12l26-19l-37-11z" color="#e38d21"/><path d="M1650 2555l38 12l26-19l-38-12z" color="#e28b1f"/><path d="M1688 2567l38 11l25-19l-37-11z" color="#e1891e"/><path d="M1726 2578l38 12l25-20l-38-11z" color="#e1881d"/><path d="M1764 2590l38 11l25-20l-38-11z" color="#e0871d"/><path d="M716 2200l32 9l31-22l-32-9z" color="#479322"/><path d="M748 2209l33 8l30-21l-32-9z" color="#479322"/><path d="M781 2217l32 9l31-21l-33-9z" color="#479322"/><path d="M813 2226l33 10l31-22l-33-9z" color="#479322"/><path d="M846 2236l33 10l31-21l-33-11z" color="#489322"/><path d="M879 2246l34 11l30-21l-33-11z" color="#499423"/><path d="M913 2257l33 11l30-21l-33-11z" color="#4a9523"/><path d="M946 2268l34 12l30-21l-34-12z" color="#4b9524"/><path d="M980 2280l34 11l30-20l-34-12z" color="#4c9625"/><path d="M1014 2291l34 13l30-19l-34-14z" color="#4e9725"/><path d="M1048 2304l35 14l29-18l-34-15z" color="#509827"/><path d="M1083 2318l34 15l30-17l-35-16z" color="#539a28"/><path d="M1117 2333l35 16l30-15l-35-18z" color="#569c2a"/><path d="M1152 2349l35 17l30-12l-35-20z" color="#5d9f2d"/><path d="M1187 2366l36 19l29-10l-35-21z" color="#73ac35"/><path d="M1223 2385l35 20l29-8l-35-22z" color="#8cba3d"/><path d="M1258 2405l36 21l29-8l-36-21z" color="#aec847"/><path d="M1294 2426l36 20l28-8l-35-20z" color="#cad351"/><path d="M1330 2446l36 20l28-9l-36-19z" color="#ded658"/><path d="M1366 2466l36 18l28-10l-36-17z" color="#ebd459"/><path d="M1402 2484l36 17l28-11l-36-16z" color="#eac34b"/><path d="M1438 2501l37 16l27-13l-36-14z" color="#eab440"/><path d="M1475 2517l37 14l27-14l-37-13z" color="#e9aa37"/><path d="M1512 2531l37 15l27-16l-37-13z" color="#e9a130"/><path d="M1549 2546l37 13l27-16l-37-13z" color="#e89c2c"/><path d="M1586 2559l38 13l26-17l-37-12z" color="#e7992a"/><path d="M1624 2572l37 12l27-17l-38-12z" color="#e69628"/><path d="M1661 2584l38 12l27-18l-38-11z" color="#e59427"/><path d="M1699 2596l39 11l26-17l-38-12z" color="#e49326"/><path d="M1738 2607l38 12l26-18l-38-11z" color="#e49225"/><path d="M685 2221l32 9l31-21l-32-9z" color="#479322"/><path d="M717 2230l33 9l31-22l-33-8z" color="#479322"/><path d="M750 2239l32 10l31-23l-32-9z" color="#479322"/><path d="M782 2249l33 9l31-22l-33-10z" color="#479322"/><path d="M815 2258l34 10l30-22l-33-10z" color="#489322"/><path d="M849 2268l33 10l31-21l-34-11z" color="#489422"/><path d="M882 2278l34 11l30-21l-33-11z" color="#499423"/><path d="M916 2289l34 12l30-21l-34-12z" color="#4a9523"/><path d="M950 2301l34 12l30-22l-34-11z" color="#4b9524"/><path d="M984 2313l34 11l30-20l-34-13z" color="#4d9625"/><path d="M1018 2324l35 13l30-19l-35-14z" color="#4e9726"/><path d="M1053 2337l35 14l29-18l-34-15z" color="#509827"/><path d="M1088 2351l35 14l29-16l-35-16z" color="#539a28"/><path d="M1123 2365l35 16l29-15l-35-17z" color="#569b2a"/><path d="M1158 2381l35 17l30-13l-36-19z" color="#599c2c"/><path d="M1193 2398l36 17l29-10l-35-20z" color="#6ca732"/><path d="M1229 2415l36 19l29-8l-36-21z" color="#7fb239"/><path d="M1265 2434l36 19l29-7l-36-20z" color="#99be41"/><path d="M1301 2453l36 19l29-6l-36-20z" color="#b4ca49"/><path d="M1337 2472l37 18l28-6l-36-18z" color="#c9d050"/><path d="M1374 2490l36 18l28-7l-36-17z" color="#d8d256"/><path d="M1410 2508l37 17l28-8l-37-16z" color="#e6d55a"/><path d="M1447 2525l37 16l28-10l-37-14z" color="#e7ca53"/><path d="M1484 2541l37 15l28-10l-37-15z" color="#e7bf4a"/><path d="M1521 2556l38 14l27-11l-37-13z" color="#e6b643"/><path d="M1559 2570l38 13l27-11l-38-13z" color="#e6b03d"/><path d="M1597 2583l38 13l26-12l-37-12z" color="#e5ab39"/><path d="M1635 2596l38 12l26-12l-38-12z" color="#e5a736"/><path d="M1673 2608l39 12l26-13l-39-11z" color="#e5a434"/><path d="M1712 2620l38 12l26-13l-38-12z" color="#e5a333"/><path d="M653 2243l33 9l31-22l-32-9z" color="#479322"/><path d="M686 2252l32 10l32-23l-33-9z" color="#479322"/><path d="M718 2262l33 9l31-22l-32-10z" color="#479322"/><path d="M751 2271l33 9l31-22l-33-9z" color="#479322"/><path d="M784 2280l34 10l31-22l-34-10z" color="#479322"/><path d="M818 2290l33 10l31-22l-33-10z" color="#489322"/><path d="M851 2300l34 11l31-22l-34-11z" color="#489423"/><path d="M885 2311l34 11l31-21l-34-12z" color="#499423"/><path d="M919 2322l34 12l31-21l-34-12z" color="#4b9524"/><path d="M953 2334l35 12l30-22l-34-11z" color="#4c9624"/><path d="M988 2346l34 12l31-21l-35-13z" color="#4d9625"/><path d="M1022 2358l35 12l31-19l-35-14z" color="#4e9726"/><path d="M1057 2370l36 14l30-19l-35-14z" color="#509827"/><path d="M1093 2384l35 14l30-17l-35-16z" color="#529928"/><path d="M1128 2398l36 15l29-15l-35-17z" color="#559a29"/><path d="M1164 2413l35 15l30-13l-36-17z" color="#579b2b"/><path d="M1199 2428l37 17l29-11l-36-19z" color="#61a02e"/><path d="M1236 2445l36 16l29-8l-36-19z" color="#71a933"/><path d="M1272 2461l36 18l29-7l-36-19z" color="#80b139"/><path d="M1308 2479l37 17l29-6l-37-18z" color="#95ba3f"/><path d="M1345 2496l37 17l28-5l-36-18z" color="#a9c345"/><path d="M1382 2513l37 16l28-4l-37-17z" color="#bcca4b"/><path d="M1419 2529l37 17l28-5l-37-16z" color="#c7cc4f"/><path d="M1456 2546l38 15l27-5l-37-15z" color="#d0cd52"/><path d="M1494 2561l37 15l28-6l-38-14z" color="#d8ce55"/><path d="M1531 2576l38 13l28-6l-38-13z" color="#decf58"/><path d="M1569 2589l39 14l27-7l-38-13z" color="#e3d059"/><path d="M1608 2603l38 13l27-8l-38-12z" color="#e2cb55"/><path d="M1646 2616l39 12l27-8l-39-12z" color="#e2c853"/><path d="M1685 2628l39 12l26-8l-38-12z" color="#e1c551"/><path d="M621 2266l33 9l32-23l-33-9z" color="#479322"/><path d="M654 2275l32 9l32-22l-32-10z" color="#479322"/><path d="M686 2284l33 10l32-23l-33-9z" color="#479322"/><path d="M719 2294l34 9l31-23l-33-9z" color="#479322"/><path d="M753 2303l33 10l32-23l-34-10z" color="#479322"/><path d="M786 2313l34 10l31-23l-33-10z" color="#489322"/><path d="M820 2323l34 10l31-22l-34-11z" color="#489422"/><path d="M854 2333l34 11l31-22l-34-11z" color="#499423"/><path d="M888 2344l34 12l31-22l-34-12z" color="#4a9423"/><path d="M922 2356l35 12l31-22l-35-12z" color="#4b9524"/><path d="M957 2368l35 12l30-22l-34-12z" color="#4c9624"/><path d="M992 2380l35 12l30-22l-35-12z" color="#4d9625"/><path d="M1027 2392l35 12l31-20l-36-14z" color="#4e9726"/><path d="M1062 2404l36 13l30-19l-35-14z" color="#509826"/><path d="M1098 2417l35 14l31-18l-36-15z" color="#519827"/><path d="M1133 2431l36 14l30-17l-35-15z" color="#539928"/><path d="M1169 2445l37 14l30-14l-37-17z" color="#559a2a"/><path d="M1206 2459l36 15l30-13l-36-16z" color="#579a2b"/><path d="M1242 2474l37 16l29-11l-36-18z" color="#619f2e"/><path d="M1279 2490l37 15l29-9l-37-17z" color="#6da632"/><path d="M1316 2505l37 16l29-8l-37-17z" color="#78ac36"/><path d="M1353 2521l37 15l29-7l-37-16z" color="#84b23a"/><path d="M1390 2536l38 15l28-5l-37-17z" color="#92b73e"/><path d="M1428 2551l37 15l29-5l-38-15z" color="#9ebc42"/><path d="M1465 2566l38 14l28-4l-37-15z" color="#a8c045"/><path d="M1503 2580l39 14l27-5l-38-13z" color="#b1c347"/><path d="M1542 2594l38 13l28-4l-39-14z" color="#b7c649"/><path d="M1580 2607l39 13l27-4l-38-13z" color="#bac64a"/><path d="M1619 2620l39 12l27-4l-39-12z" color="#bdc64b"/><path d="M1658 2632l39 13l27-5l-39-12z" color="#bec64c"/><path d="M588 2288l33 10l33-23l-33-9z" color="#479322"/><path d="M621 2298l33 9l32-23l-32-9z" color="#479322"/><path d="M654 2307l33 10l32-23l-33-10z" color="#479322"/><path d="M687 2317l34 10l32-24l-34-9z" color="#479322"/><path d="M721 2327l33 9l32-23l-33-10z" color="#479322"/><path d="M754 2336l34 10l32-23l-34-10z" color="#489322"/><path d="M788 2346l34 10l32-23l-34-10z" color="#489322"/><path d="M822 2356l34 11l32-23l-34-11z" color="#489422"/><path d="M856 2367l35 11l31-22l-34-12z" color="#499423"/><path d="M891 2378l35 12l31-22l-35-12z" color="#4a9523"/><path d="M926 2390l35 12l31-22l-35-12z" color="#4b9524"/><path d="M961 2402l35 12l31-22l-35-12z" color="#4c9624"/><path d="M996 2414l35 12l31-22l-35-12z" color="#4d9625"/><path d="M1031 2426l36 12l31-21l-36-13z" color="#4e9726"/><path d="M1067 2438l36 13l30-20l-35-14z" color="#4f9726"/><path d="M1103 2451l36 13l30-19l-36-14z" color="#519827"/><path d="M1139 2464l36 14l31-19l-37-14z" color="#529828"/><path d="M1175 2478l37 13l30-17l-36-15z" color="#549929"/><path d="M1212 2491l37 15l30-16l-37-16z" color="#55992a"/><path d="M1249 2506l37 14l30-15l-37-15z" color="#579a2a"/><path d="M1286 2520l37 14l30-13l-37-16z" color="#5b9c2c"/><path d="M1323 2534l38 14l29-12l-37-15z" color="#64a02f"/><path d="M1361 2548l37 14l30-11l-38-15z" color="#6ba431"/><path d="M1398 2562l39 14l28-10l-37-15z" color="#72a834"/><path d="M1437 2576l38 14l28-10l-38-14z" color="#78ab36"/><path d="M1475 2590l38 13l29-9l-39-14z" color="#7dae38"/><path d="M1513 2603l39 13l28-9l-38-13z" color="#82b039"/><path d="M1552 2616l39 13l28-9l-39-13z" color="#87b23b"/><path d="M1591 2629l40 12l27-9l-39-12z" color="#8ab33c"/><path d="M1631 2641l39 13l27-9l-39-13z" color="#8db43c"/><path d="M555 2311l33 10l33-23l-33-10z" color="#479322"/><path d="M588 2321l33 9l33-23l-33-9z" color="#479322"/><path d="M621 2330l34 10l32-23l-33-10z" color="#479322"/><path d="M655 2340l33 10l33-23l-34-10z" color="#479322"/><path d="M688 2350l34 10l32-24l-33-9z" color="#489322"/><path d="M722 2360l34 10l32-24l-34-10z" color="#489322"/><path d="M756 2370l34 11l32-25l-34-10z" color="#489322"/><path d="M790 2381l34 10l32-24l-34-11z" color="#489422"/><path d="M824 2391l35 11l32-24l-35-11z" color="#499423"/><path d="M859 2402l35 11l32-23l-35-12z" color="#499423"/><path d="M894 2413l35 12l32-23l-35-12z" color="#4a9523"/><path d="M929 2425l35 12l32-23l-35-12z" color="#4b9524"/><path d="M964 2437l36 12l31-23l-35-12z" color="#4c9624"/><path d="M1000 2449l36 13l31-24l-36-12z" color="#4d9625"/><path d="M1036 2462l36 12l31-23l-36-13z" color="#4e9726"/><path d="M1072 2474l36 12l31-22l-36-13z" color="#4f9826"/><path d="M1108 2486l37 13l30-21l-36-14z" color="#509827"/><path d="M1145 2499l36 13l31-21l-37-13z" color="#519827"/><path d="M1181 2512l37 13l31-19l-37-15z" color="#529928"/><path d="M1218 2525l38 13l30-18l-37-14z" color="#549929"/><path d="M1256 2538l37 14l30-18l-37-14z" color="#559929"/><path d="M1293 2552l38 13l30-17l-38-14z" color="#569a2a"/><path d="M1331 2565l38 14l29-17l-37-14z" color="#579a2a"/><path d="M1369 2579l38 13l30-16l-39-14z" color="#599b2b"/><path d="M1407 2592l39 14l29-16l-38-14z" color="#5e9d2d"/><path d="M1446 2606l38 13l29-16l-38-13z" color="#62a02e"/><path d="M1484 2619l39 13l29-16l-39-13z" color="#66a230"/><path d="M1523 2632l40 12l28-15l-39-13z" color="#69a331"/><path d="M1563 2644l39 13l29-16l-40-12z" color="#6ca532"/><path d="M1602 2657l40 13l28-16l-39-13z" color="#6ea632"/><path d="M522 2334l33 10l33-23l-33-10z" color="#479322"/><path d="M555 2344l33 10l33-24l-33-9z" color="#479322"/><path d="M588 2354l33 10l34-24l-34-10z" color="#479322"/><path d="M621 2364l34 10l33-24l-33-10z" color="#479322"/><path d="M655 2374l34 10l33-24l-34-10z" color="#489322"/><path d="M689 2384l34 11l33-25l-34-10z" color="#489322"/><path d="M723 2395l34 10l33-24l-34-11z" color="#489422"/><path d="M757 2405l35 11l32-25l-34-10z" color="#489422"/><path d="M792 2416l35 11l32-25l-35-11z" color="#499423"/><path d="M827 2427l35 10l32-24l-35-11z" color="#499423"/><path d="M862 2437l35 12l32-24l-35-12z" color="#4a9423"/><path d="M897 2449l35 12l32-24l-35-12z" color="#4a9524"/><path d="M932 2461l36 12l32-24l-36-12z" color="#4b9524"/><path d="M968 2473l36 12l32-23l-36-13z" color="#4c9625"/><path d="M1004 2485l36 13l32-24l-36-12z" color="#4d9725"/><path d="M1040 2498l37 12l31-24l-36-12z" color="#4e9726"/><path d="M1077 2510l36 13l32-24l-37-13z" color="#4f9826"/><path d="M1113 2523l37 13l31-24l-36-13z" color="#509827"/><path d="M1150 2536l38 12l30-23l-37-13z" color="#519927"/><path d="M1188 2548l37 13l31-23l-38-13z" color="#529928"/><path d="M1225 2561l38 13l30-22l-37-14z" color="#539928"/><path d="M1263 2574l38 13l30-22l-38-13z" color="#549929"/><path d="M1301 2587l38 13l30-21l-38-14z" color="#559a29"/><path d="M1339 2600l38 13l30-21l-38-13z" color="#559a2a"/><path d="M1377 2613l39 14l30-21l-39-14z" color="#569a2a"/><path d="M1416 2627l39 13l29-21l-38-13z" color="#579b2a"/><path d="M1455 2640l39 13l29-21l-39-13z" color="#589b2b"/><path d="M1494 2653l40 13l29-22l-40-12z" color="#589b2b"/><path d="M1534 2666l40 13l28-22l-39-13z" color="#5a9c2c"/><path d="M1574 2679l40 13l28-22l-40-13z" color="#5c9e2d"/><path d="M488 2358l33 10l34-24l-33-10z" color="#479322"/><path d="M521 2368l33 10l34-24l-33-10z" color="#479322"/><path d="M554 2378l34 10l33-24l-33-10z" color="#479322"/><path d="M588 2388l34 10l33-24l-34-10z" color="#489322"/><path d="M622 2398l34 11l33-25l-34-10z" color="#489322"/><path d="M656 2409l34 10l33-24l-34-11z" color="#489422"/><path d="M690 2419l34 11l33-25l-34-10z" color="#489422"/><path d="M724 2430l35 11l33-25l-35-11z" color="#499423"/><path d="M759 2441l35 11l33-25l-35-11z" color="#499423"/><path d="M794 2452l35 11l33-26l-35-10z" color="#499423"/><path d="M829 2463l35 11l33-25l-35-12z" color="#4a9423"/><path d="M864 2474l36 12l32-25l-35-12z" color="#4a9523"/><path d="M900 2486l36 12l32-25l-36-12z" color="#4b9524"/><path d="M936 2498l36 12l32-25l-36-12z" color="#4c9624"/><path d="M972 2510l36 12l32-24l-36-13z" color="#4c9625"/><path d="M1008 2522l37 13l32-25l-37-12z" color="#4d9725"/><path d="M1045 2535l37 13l31-25l-36-13z" color="#4e9726"/><path d="M1082 2548l37 13l31-25l-37-13z" color="#4f9826"/><path d="M1119 2561l37 13l32-26l-38-12z" color="#509827"/><path d="M1156 2574l38 13l31-26l-37-13z" color="#519927"/><path d="M1194 2587l38 13l31-26l-38-13z" color="#529928"/><path d="M1232 2600l38 13l31-26l-38-13z" color="#539a28"/><path d="M1270 2613l38 13l31-26l-38-13z" color="#549a29"/><path d="M1308 2626l39 13l30-26l-38-13z" color="#559b29"/><path d="M1347 2639l39 13l30-25l-39-14z" color="#559b29"/><path d="M1386 2652l39 13l30-25l-39-13z" color="#569c2a"/><path d="M1425 2665l39 14l30-26l-39-13z" color="#579c2a"/><path d="M1464 2679l40 13l30-26l-40-13z" color="#579c2b"/><path d="M1504 2692l40 13l30-26l-40-13z" color="#589d2b"/><path d="M1544 2705l41 14l29-27l-40-13z" color="#599d2b"/><path d="M454 2382l33 10l34-24l-33-10z" color="#479322"/><path d="M487 2392l33 10l34-24l-33-10z" color="#479322"/><path d="M520 2402l34 10l34-24l-34-10z" color="#479322"/><path d="M554 2412l34 11l34-25l-34-10z" color="#489322"/><path d="M588 2423l34 11l34-25l-34-11z" color="#489322"/><path d="M622 2434l34 11l34-26l-34-10z" color="#489422"/><path d="M656 2445l35 11l33-26l-34-11z" color="#499423"/><path d="M691 2456l35 11l33-26l-35-11z" color="#499423"/><path d="M726 2467l35 11l33-26l-35-11z" color="#499423"/><path d="M761 2478l35 12l33-27l-35-11z" color="#4a9423"/><path d="M796 2490l35 11l33-27l-35-11z" color="#4a9523"/><path d="M831 2501l36 12l33-27l-36-12z" color="#4a9524"/><path d="M867 2513l36 12l33-27l-36-12z" color="#4b9524"/><path d="M903 2525l36 12l33-27l-36-12z" color="#4c9624"/><path d="M939 2537l37 12l32-27l-36-12z" color="#4c9625"/><path d="M976 2549l37 12l32-26l-37-13z" color="#4d9625"/><path d="M1013 2561l37 13l32-26l-37-13z" color="#4e9725"/><path d="M1050 2574l37 13l32-26l-37-13z" color="#4f9726"/><path d="M1087 2587l38 13l31-26l-37-13z" color="#509826"/><path d="M1125 2600l37 13l32-26l-38-13z" color="#519927"/><path d="M1162 2613l38 14l32-27l-38-13z" color="#529927"/><path d="M1200 2627l39 13l31-27l-38-13z" color="#529a28"/><path d="M1239 2640l38 14l31-28l-38-13z" color="#539a28"/><path d="M1277 2654l39 13l31-28l-39-13z" color="#549b29"/><path d="M1316 2667l39 14l31-29l-39-13z" color="#559b29"/><path d="M1355 2681l40 13l30-29l-39-13z" color="#569c2a"/><path d="M1395 2694l39 14l30-29l-39-14z" color="#579c2a"/><path d="M1434 2708l40 14l30-30l-40-13z" color="#579c2b"/><path d="M1474 2722l40 13l30-30l-40-13z" color="#589d2b"/><path d="M1514 2735l41 14l30-30l-41-14z" color="#599d2b"/><path d="M419 2406l33 10l35-24l-33-10z" color="#479322"/><path d="M452 2416l34 11l34-25l-33-10z" color="#479322"/><path d="M486 2427l33 10l35-25l-34-10z" color="#479322"/><path d="M519 2437l34 11l35-25l-34-11z" color="#489322"/><path d="M553 2448l35 11l34-25l-34-11z" color="#489422"/><path d="M588 2459l34 11l34-25l-34-11z" color="#489422"/><path d="M622 2470l35 12l34-26l-35-11z" color="#499423"/><path d="M657 2482l35 11l34-26l-35-11z" color="#499423"/><path d="M692 2493l35 12l34-27l-35-11z" color="#4a9423"/><path d="M727 2505l35 11l34-26l-35-12z" color="#4a9523"/><path d="M762 2516l36 12l33-27l-35-11z" color="#4b9524"/><path d="M798 2528l36 12l33-27l-36-12z" color="#4b9524"/><path d="M834 2540l36 12l33-27l-36-12z" color="#4c9624"/><path d="M870 2552l37 13l32-28l-36-12z" color="#4c9625"/><path d="M907 2565l36 12l33-28l-37-12z" color="#4d9625"/><path d="M943 2577l37 13l33-29l-37-12z" color="#4d9725"/><path d="M980 2590l37 12l33-28l-37-13z" color="#4e9726"/><path d="M1017 2602l38 13l32-28l-37-13z" color="#4f9826"/><path d="M1055 2615l38 14l32-29l-38-13z" color="#509827"/><path d="M1093 2629l37 13l32-29l-37-13z" color="#519927"/><path d="M1130 2642l39 13l31-28l-38-14z" color="#529927"/><path d="M1169 2655l38 14l32-29l-39-13z" color="#539a28"/><path d="M1207 2669l39 14l31-29l-38-14z" color="#539a28"/><path d="M1246 2683l39 13l31-29l-39-13z" color="#549b29"/><path d="M1285 2696l39 14l31-29l-39-14z" color="#559b29"/><path d="M1324 2710l40 14l31-30l-40-13z" color="#569c2a"/><path d="M1364 2724l40 15l30-31l-39-14z" color="#579c2a"/><path d="M1404 2739l40 14l30-31l-40-14z" color="#589d2b"/><path d="M1444 2753l40 14l30-32l-40-13z" color="#599d2b"/><path d="M1484 2767l41 14l30-32l-41-14z" color="#5a9e2c"/><path d="M383 2430l34 11l35-25l-33-10z" color="#479322"/><path d="M417 2441l33 10l36-24l-34-11z" color="#479322"/><path d="M450 2451l34 11l35-25l-33-10z" color="#489322"/><path d="M484 2462l34 12l35-26l-34-11z" color="#489322"/><path d="M518 2474l35 11l35-26l-35-11z" color="#489422"/><path d="M553 2485l34 11l35-26l-34-11z" color="#499423"/><path d="M587 2496l35 12l35-26l-35-12z" color="#499423"/><path d="M622 2508l35 12l35-27l-35-11z" color="#4a9423"/><path d="M657 2520l36 12l34-27l-35-12z" color="#4a9523"/><path d="M693 2532l35 12l34-28l-35-11z" color="#4b9524"/><path d="M728 2544l36 12l34-28l-36-12z" color="#4b9524"/><path d="M764 2556l36 13l34-29l-36-12z" color="#4c9624"/><path d="M800 2569l37 12l33-29l-36-12z" color="#4c9625"/><path d="M837 2581l36 13l34-29l-37-13z" color="#4d9625"/><path d="M873 2594l37 13l33-30l-36-12z" color="#4e9725"/><path d="M910 2607l37 13l33-30l-37-13z" color="#4f9726"/><path d="M947 2620l38 13l32-31l-37-12z" color="#4f9826"/><path d="M985 2633l37 13l33-31l-38-13z" color="#509827"/><path d="M1022 2646l38 13l33-30l-38-14z" color="#519927"/><path d="M1060 2659l38 14l32-31l-37-13z" color="#529928"/><path d="M1098 2673l38 14l33-32l-39-13z" color="#539a28"/><path d="M1136 2687l39 14l32-32l-38-14z" color="#539a28"/><path d="M1175 2701l39 14l32-32l-39-14z" color="#549b29"/><path d="M1214 2715l39 14l32-33l-39-13z" color="#559b2a"/><path d="M1253 2729l40 14l31-33l-39-14z" color="#569c2a"/><path d="M1293 2743l39 15l32-34l-40-14z" color="#579c2b"/><path d="M1332 2758l40 14l32-33l-40-15z" color="#589d2b"/><path d="M1372 2772l41 15l31-34l-40-14z" color="#599e2c"/><path d="M1413 2787l40 15l31-35l-40-14z" color="#5b9f2c"/><path d="M1453 2802l41 15l31-36l-41-14z" color="#60a22e"/><path d="M347 2455l34 11l36-25l-34-11z" color="#479322"/><path d="M381 2466l34 11l35-26l-33-10z" color="#479322"/><path d="M415 2477l34 11l35-26l-34-11z" color="#489322"/><path d="M449 2488l34 11l35-25l-34-12z" color="#489422"/><path d="M483 2499l35 12l35-26l-35-11z" color="#489422"/><path d="M518 2511l34 12l35-27l-34-11z" color="#499423"/><path d="M552 2523l35 12l35-27l-35-12z" color="#499423"/><path d="M587 2535l36 12l34-27l-35-12z" color="#4a9523"/><path d="M623 2547l35 13l35-28l-36-12z" color="#4b9524"/><path d="M658 2560l36 12l34-28l-35-12z" color="#4b9524"/><path d="M694 2572l36 13l34-29l-36-12z" color="#4c9624"/><path d="M730 2585l36 13l34-29l-36-13z" color="#4d9625"/><path d="M766 2598l37 13l34-30l-37-12z" color="#4d9725"/><path d="M803 2611l36 13l34-30l-36-13z" color="#4e9726"/><path d="M839 2624l37 13l34-30l-37-13z" color="#4f9826"/><path d="M876 2637l38 14l33-31l-37-13z" color="#509827"/><path d="M914 2651l37 13l34-31l-38-13z" color="#519927"/><path d="M951 2664l38 14l33-32l-37-13z" color="#529927"/><path d="M989 2678l38 14l33-33l-38-13z" color="#539a28"/><path d="M1027 2692l38 14l33-33l-38-14z" color="#539a28"/><path d="M1065 2706l39 14l32-33l-38-14z" color="#549b29"/><path d="M1104 2720l39 15l32-34l-39-14z" color="#559b2a"/><path d="M1143 2735l39 14l32-34l-39-14z" color="#569c2a"/><path d="M1182 2749l39 15l32-35l-39-14z" color="#589d2b"/><path d="M1221 2764l40 15l32-36l-40-14z" color="#599d2b"/><path d="M1261 2779l40 15l31-36l-39-15z" color="#5a9e2c"/><path d="M1301 2794l40 15l31-37l-40-14z" color="#5ea02d"/><path d="M1341 2809l40 15l32-37l-41-15z" color="#63a32f"/><path d="M1381 2824l41 16l31-38l-40-15z" color="#68a731"/><path d="M1422 2840l41 15l31-38l-41-15z" color="#6daa33"/><path d="M311 2480l34 11l36-25l-34-11z" color="#479322"/><path d="M345 2491l34 12l36-26l-34-11z" color="#479322"/><path d="M379 2503l34 11l36-26l-34-11z" color="#489322"/><path d="M413 2514l34 12l36-27l-34-11z" color="#489422"/><path d="M447 2526l35 12l36-27l-35-12z" color="#499423"/><path d="M482 2538l35 12l35-27l-34-12z" color="#499423"/><path d="M517 2550l35 13l35-28l-35-12z" color="#4a9523"/><path d="M552 2563l35 12l36-28l-36-12z" color="#4b9524"/><path d="M587 2575l36 13l35-28l-35-13z" color="#4b9524"/><path d="M623 2588l36 13l35-29l-36-12z" color="#4c9624"/><path d="M659 2601l36 13l35-29l-36-13z" color="#4d9625"/><path d="M695 2614l37 13l34-29l-36-13z" color="#4e9725"/><path d="M732 2627l36 14l35-30l-37-13z" color="#4f9726"/><path d="M768 2641l37 14l34-31l-36-13z" color="#509826"/><path d="M805 2655l37 14l34-32l-37-13z" color="#509827"/><path d="M842 2669l38 14l34-32l-38-14z" color="#519927"/><path d="M880 2683l37 14l34-33l-37-13z" color="#529a28"/><path d="M917 2697l38 14l34-33l-38-14z" color="#549a28"/><path d="M955 2711l39 15l33-34l-38-14z" color="#559b29"/><path d="M994 2726l38 14l33-34l-38-14z" color="#569c2a"/><path d="M1032 2740l39 15l33-35l-39-14z" color="#579c2a"/><path d="M1071 2755l39 15l33-35l-39-15z" color="#589d2b"/><path d="M1110 2770l39 16l33-37l-39-14z" color="#599e2c"/><path d="M1149 2786l40 15l32-37l-39-15z" color="#5c9f2d"/><path d="M1189 2801l39 15l33-37l-40-15z" color="#62a32f"/><path d="M1228 2816l40 16l33-38l-40-15z" color="#68a631"/><path d="M1268 2832l41 16l32-39l-40-15z" color="#6eaa33"/><path d="M1309 2848l41 16l31-40l-40-15z" color="#74ae35"/><path d="M1350 2864l40 16l32-40l-41-16z" color="#7ab137"/><path d="M1390 2880l42 17l31-42l-41-15z" color="#80b539"/></g><path d="M36 296.5L143 335" stroke="#222" stroke-width="0.85" fill="none"/><path d="M143 335L204.5 267" stroke="#222" stroke-width="0.85" fill="none"/><path d="M204.5 267L207.4 219.4" stroke="#555" stroke-width="0.85" fill="none"/><path d="M314 305.8L383.2 250.8" stroke="#f0f0f0" stroke-width="0.6" fill="none"/><path d="M383.2 250.8L382.7 194.1" stroke="#f0f0f0" stroke-width="0.6" fill="none"/><path d="M339.5 314.8L405.5 256.8" stroke="#f0f0f0" stroke-width="0.6" fill="none"/><path d="M405.5 256.8L406.8 199.1" stroke="#f0f0f0" stroke-width="0.6" fill="none"/><path d="M365.4 324L427.9 262.8" stroke="#f0f0f0" stroke-width="0.6" fill="none"/><path d="M427.9 262.8L431.1 204" stroke="#f0f0f0" stroke-width="0.6" fill="none"/><path d="M394.3 334.2L452.5 269.3" stroke="#f0f0f0" stroke-width="0.6" fill="none"/><path d="M452.5 269.3L458 209.5" stroke="#f0f0f0" stroke-width="0.6" fill="none"/><path d="M308.8 285.7L428.2 325.3" stroke="#f0f0f0" stroke-width="0.6" fill="none"/><path d="M308.8 285.7L301.3 223.1" stroke="#f0f0f0" stroke-width="0.6" fill="none"/><path d="M327.9 271.8L442.9 307.3" stroke="#f0f0f0" stroke-width="0.6" fill="none"/><path d="M327.9 271.8L322.5 211.4" stroke="#f0f0f0" stroke-width="0.6" fill="none"/><path d="M345.1 259.2L456 291.1" stroke="#f0f0f0" stroke-width="0.6" fill="none"/><path d="M345.1 259.2L341.5 201" stroke="#f0f0f0" stroke-width="0.6" fill="none"/><path d="M360.8 247.8L467.8 276.7" stroke="#f0f0f0" stroke-width="0.6" fill="none"/><path d="M360.8 247.8L358.5 191.6" stroke="#f0f0f0" stroke-width="0.6" fill="none"/><path d="M287.5 267.2L362.8 218.8" stroke="#f0f0f0" stroke-width="0.6" fill="none"/><path d="M362.8 218.8L473.4 245" stroke="#f0f0f0" stroke-width="0.6" fill="none"/><path d="M292 298L363.7 245.6" stroke="#cfcfcf" stroke-width="0.7" fill="none"/><path d="M363.7 245.6L470 274" stroke="#cfcfcf" stroke-width="0.7" fill="none"/><path d="M363.7 245.6L361.7 189.8" stroke="#bdbdbd" stroke-width="0.7" fill="none"/><path d="M282.5 233.5L361.7 189.8" stroke="#8c8c8c" stroke-width="0.8" fill="none"/><path d="M361.7 189.8L477.1 213.5" stroke="#8c8c8c" stroke-width="0.8" fill="none"/><path d="M292 298L282.5 233.5" stroke="#8c8c8c" stroke-width="0.8" fill="none"/><g class="s sd" transform="scale(.1)"><path d="M3633 2438l33 4l4-3l-33-3z" color="#2c27f8"/><path d="M3666 2442l33-10l4-3l-33 10z" color="#1548ee"/><path d="M3699 2432l33-20l4-3l-33 20z" color="#0f8ada"/><path d="M3732 2412l34-31l3-2l-33 30z" color="#15c3b9"/><path d="M3766 2381l34-39l3-3l-34 40z" color="#22cc72"/><path d="M3800 2342l29-35l4-2l-30 34z" color="#58d72d"/><path d="M3829 2307l13-15l4-3l-13 16z" color="#8fdb1a"/><path d="M3842 2292l14-15l3-3l-13 15z" color="#b6da17"/><path d="M3856 2277l13-18l3-3l-13 18z" color="#d6d713"/><path d="M3869 2259l13-22l4-3l-14 22z" color="#efc40c"/><path d="M3882 2237l14-23l3-4l-13 24z" color="#f19000"/><path d="M3896 2214l13-24l4-3l-14 23z" color="#f04b00"/><path d="M3909 2190l14-23l3-3l-13 23z" color="#eb2100"/><path d="M3923 2167l14-23l3-4l-14 24z" color="#e21700"/><path d="M3937 2144l14-24l3-4l-14 24z" color="#d70e00"/><path d="M3951 2120l14-32l4-6l-15 34z" color="#d20300"/><path d="M3965 2088l15-33l3-8l-14 35z" color="#b70000"/><path d="M3980 2055l14-28l4-15l-15 35z" color="#a90000"/><path d="M3994 2027l15-11l4-35l-15 31z" color="#9f0000"/><path d="M4009 2016l13 42l4-11l-13-66z" color="#a90000"/><path d="M4022 2058l13 54l4-7l-13-58z" color="#cd0000"/><path d="M4035 2112l14 55l3-6l-13-56z" color="#e70a00"/><path d="M4049 2167l13 49l3-4l-13-51z" color="#f61c00"/><path d="M4062 2216l13 22l4-3l-14-23z" color="#ff2b00"/><path d="M4075 2238l14 23l3-3l-13-23z" color="#ff6000"/><path d="M4089 2261l14 17l3-2l-14-18z" color="#ff8e00"/><path d="M4103 2278l14 12l3-3l-14-11z" color="#fea804"/><path d="M4117 2290l13 20l4-3l-14-20z" color="#fdc109"/><path d="M4130 2310l13 35l4-3l-13-35z" color="#f1e513"/><path d="M4143 2345l13 32l4-3l-13-32z" color="#c0f01a"/><path d="M4156 2377l14 18l3-3l-13-18z" color="#8ef01e"/><path d="M4170 2395l14 18l3-3l-14-18z" color="#6ef022"/><path d="M4184 2413l13 18l3-3l-13-18z" color="#59eb39"/><path d="M4197 2431l14 14l3-3l-14-14z" color="#48e74c"/><path d="M4211 2445l14 14l3-3l-14-14z" color="#3ae45c"/><path d="M4225 2459l13 13l3-3l-13-13z" color="#2be16c"/><path d="M4238 2472l14 14l3-3l-14-14z" color="#26e07f"/><path d="M4252 2486l14 14l3-3l-14-14z" color="#22e092"/><path d="M4266 2500l31 30l3-3l-31-30z" color="#1de0b1"/><path d="M4297 2530l43 31l3-3l-43-31z" color="#17d9d5"/><path d="M4340 2561l43 31l3-3l-43-31z" color="#12b9e9"/><path d="M4383 2592l44 24l3-3l-44-24z" color="#1195f6"/><path d="M4427 2616l44 22l3-4l-44-21z" color="#1271fb"/><path d="M4471 2638l45 21l2-3l-44-22z" color="#1452ff"/><path d="M4516 2659l45 21l2-3l-45-21z" color="#2338fd"/><path d="M4561 2680l45 18l3-3l-46-18z" color="#3023fb"/><path d="M4606 2698l46 18l3-3l-46-18z" color="#3b12fa"/><path d="M4652 2716l46 19l3-3l-46-19z" color="#430df9"/><path d="M3627 2443l33 3l6-4l-33-4z" color="#2c27f8"/><path d="M3660 2446l33-9l6-5l-33 10z" color="#1548ef"/><path d="M3693 2437l33-20l6-5l-33 20z" color="#0f8adc"/><path d="M3726 2417l33-30l7-6l-34 31z" color="#14bfb6"/><path d="M3759 2387l34-39l7-6l-34 39z" color="#22c871"/><path d="M3793 2348l30-34l6-7l-29 35z" color="#54d22d"/><path d="M3823 2314l13-15l6-7l-13 15z" color="#88d419"/><path d="M3836 2299l13-15l7-7l-14 15z" color="#add216"/><path d="M3849 2284l13-17l7-8l-13 18z" color="#cacd12"/><path d="M3862 2267l14-22l6-8l-13 22z" color="#e6c10c"/><path d="M3876 2245l13-23l7-8l-14 23z" color="#e68e01"/><path d="M3889 2222l14-21l6-11l-13 24z" color="#e14d00"/><path d="M3903 2201l13-22l7-12l-14 23z" color="#dc2000"/><path d="M3916 2179l14-21l7-14l-14 23z" color="#df1900"/><path d="M3930 2158l14-19l7-19l-14 24z" color="#e31100"/><path d="M3944 2139l14-22l7-29l-14 32z" color="#e10800"/><path d="M3958 2117l15-21l7-41l-15 33z" color="#d90000"/><path d="M3973 2096l14-10l7-59l-14 28z" color="#c70000"/><path d="M3987 2086l14-6l8-64l-15 11z" color="#b00"/><path d="M4001 2080l14 20l7-42l-13-42z" color="#c10000"/><path d="M4015 2100l14 40l6-28l-13-54z" color="#da0000"/><path d="M4029 2140l13 48l7-21l-14-55z" color="#eb0e00"/><path d="M4042 2188l13 37l7-9l-13-49z" color="#f71e00"/><path d="M4055 2225l14 22l6-9l-13-22z" color="#ff3200"/><path d="M4069 2247l14 22l6-8l-14-23z" color="#ff6500"/><path d="M4083 2269l14 15l6-6l-14-17z" color="#ff9200"/><path d="M4097 2284l13 12l7-6l-14-12z" color="#fea904"/><path d="M4110 2296l14 22l6-8l-13-20z" color="#fdc40a"/><path d="M4124 2318l13 35l6-8l-13-35z" color="#eee613"/><path d="M4137 2353l13 31l6-7l-13-32z" color="#bdf01a"/><path d="M4150 2384l14 18l6-7l-14-18z" color="#8cf01e"/><path d="M4164 2402l14 18l6-7l-14-18z" color="#6def23"/><path d="M4178 2420l13 17l6-6l-13-18z" color="#59eb3a"/><path d="M4191 2437l14 14l6-6l-14-14z" color="#48e74d"/><path d="M4205 2451l14 14l6-6l-14-14z" color="#39e45d"/><path d="M4219 2465l13 13l6-6l-13-13z" color="#2be16d"/><path d="M4232 2478l14 14l6-6l-14-14z" color="#25e07f"/><path d="M4246 2492l14 14l6-6l-14-14z" color="#22e092"/><path d="M4260 2506l31 30l6-6l-31-30z" color="#1de0b1"/><path d="M4291 2536l43 31l6-6l-43-31z" color="#17d8d5"/><path d="M4334 2567l43 30l6-5l-43-31z" color="#12b8ea"/><path d="M4377 2597l44 25l6-6l-44-24z" color="#1195f6"/><path d="M4421 2622l45 21l5-5l-44-22z" color="#1271fb"/><path d="M4466 2643l44 22l6-6l-45-21z" color="#1452ff"/><path d="M4510 2665l45 21l6-6l-45-21z" color="#2338fd"/><path d="M4555 2686l46 18l5-6l-45-18z" color="#3023fb"/><path d="M4601 2704l46 18l5-6l-46-18z" color="#3b11fa"/><path d="M4647 2722l46 19l5-6l-46-19z" color="#430df9"/><path d="M3618 2449l33 4l9-7l-33-3z" color="#2c27f8"/><path d="M3651 2453l33-9l9-7l-33 9z" color="#1647f1"/><path d="M3684 2444l33-19l9-8l-33 20z" color="#0f8adf"/><path d="M3717 2425l34-29l8-9l-33 30z" color="#14bfba"/><path d="M3751 2396l34-38l8-10l-34 39z" color="#20c170"/><path d="M3785 2358l30-33l8-11l-30 34z" color="#4fce31"/><path d="M3815 2325l13-15l8-11l-13 15z" color="#83d61a"/><path d="M3828 2310l13-14l8-12l-13 15z" color="#aad818"/><path d="M3841 2296l13-15l8-14l-13 17z" color="#ccd714"/><path d="M3854 2281l13-20l9-16l-14 22z" color="#dec60e"/><path d="M3867 2261l14-21l8-18l-13 23z" color="#e59b04"/><path d="M3881 2240l13-19l9-20l-14 21z" color="#ee6900"/><path d="M3894 2221l14-17l8-25l-13 22z" color="#f62f00"/><path d="M3908 2204l14-16l8-30l-14 21z" color="#f92100"/><path d="M3922 2188l14-12l8-37l-14 19z" color="#f41900"/><path d="M3936 2176l14-6l8-53l-14 22z" color="#ee1300"/><path d="M3950 2170l14-1l9-73l-15 21z" color="#ea0d00"/><path d="M3964 2169l14-6l9-77l-14 10z" color="#e60800"/><path d="M3978 2163l14-9l9-74l-14 6z" color="#e30400"/><path d="M3992 2154l14 13l9-67l-14-20z" color="#e40500"/><path d="M4006 2167l14 28l9-55l-14-40z" color="#ea0d00"/><path d="M4020 2195l13 30l9-37l-13-48z" color="#f31900"/><path d="M4033 2225l14 18l8-18l-13-37z" color="#fc2400"/><path d="M4047 2243l14 20l8-16l-14-22z" color="#ff4600"/><path d="M4061 2263l14 20l8-14l-14-22z" color="#ff7600"/><path d="M4075 2283l13 11l9-10l-14-15z" color="#ff9b01"/><path d="M4088 2294l14 11l8-9l-13-12z" color="#feae05"/><path d="M4102 2305l14 29l8-16l-14-22z" color="#fdcd0c"/><path d="M4116 2334l13 34l8-15l-13-35z" color="#e6ea15"/><path d="M4129 2368l14 26l7-10l-13-31z" color="#b3f01b"/><path d="M4143 2394l13 18l8-10l-14-18z" color="#87f01e"/><path d="M4156 2412l14 17l8-9l-14-18z" color="#6aef27"/><path d="M4170 2429l13 17l8-9l-13-17z" color="#56ea3d"/><path d="M4183 2446l14 13l8-8l-14-14z" color="#46e74f"/><path d="M4197 2459l14 14l8-8l-14-14z" color="#37e35f"/><path d="M4211 2473l14 14l7-9l-13-13z" color="#29e06f"/><path d="M4225 2487l14 13l7-8l-14-14z" color="#25e081"/><path d="M4239 2500l13 14l8-8l-14-14z" color="#22e094"/><path d="M4252 2514l32 30l7-8l-31-30z" color="#1de0b3"/><path d="M4284 2544l43 30l7-7l-43-31z" color="#17d7d5"/><path d="M4327 2574l43 31l7-8l-43-30z" color="#12b7ea"/><path d="M4370 2605l44 24l7-7l-44-25z" color="#1194f7"/><path d="M4414 2629l45 22l7-8l-45-21z" color="#1371fb"/><path d="M4459 2651l44 22l7-8l-44-22z" color="#1452ff"/><path d="M4503 2673l46 21l6-8l-45-21z" color="#2437fd"/><path d="M4549 2694l45 18l7-8l-46-18z" color="#3122fb"/><path d="M4594 2712l47 18l6-8l-46-18z" color="#3b11fa"/><path d="M4641 2730l46 19l6-8l-46-19z" color="#430df9"/><path d="M3608 2457l33 3l10-7l-33-4z" color="#2c27f8"/><path d="M3641 2460l33-6l10-10l-33 9z" color="#1746f3"/><path d="M3674 2454l33-20l10-9l-33 19z" color="#1087e3"/><path d="M3707 2434l34-25l10-13l-34 29z" color="#14c2c4"/><path d="M3741 2409l34-37l10-14l-34 38z" color="#20c97d"/><path d="M3775 2372l30-31l10-16l-30 33z" color="#4bd73c"/><path d="M3805 2341l13-13l10-18l-13 15z" color="#79e11d"/><path d="M3818 2328l13-13l10-19l-13 14z" color="#a0e31a"/><path d="M3831 2315l13-12l10-22l-13 15z" color="#c7e618"/><path d="M3844 2303l13-15l10-27l-13 20z" color="#e1de13"/><path d="M3857 2288l14-19l10-29l-14 21z" color="#f3c60b"/><path d="M3871 2269l13-18l10-30l-13 19z" color="#fa9c01"/><path d="M3884 2251l14-12l10-35l-14 17z" color="#ff6b00"/><path d="M3898 2239l14-9l10-42l-14 16z" color="#ff3d00"/><path d="M3912 2230l14-6l10-48l-14 12z" color="#fd2600"/><path d="M3926 2224l13-3l11-51l-14 6z" color="#fa2200"/><path d="M3939 2221l14 2l11-54l-14 1z" color="#f92000"/><path d="M3953 2223l14 3l11-63l-14 6z" color="#f81f00"/><path d="M3967 2226l14 0l11-72l-14 9z" color="#f61c00"/><path d="M3981 2226l14 6l11-65l-14-13z" color="#f61c00"/><path d="M3995 2232l14 10l11-47l-14-28z" color="#f92000"/><path d="M4009 2242l14 13l10-30l-13-30z" color="#fe2600"/><path d="M4023 2255l14 15l10-27l-14-18z" color="#ff4700"/><path d="M4037 2270l14 17l10-24l-14-20z" color="#ff6e00"/><path d="M4051 2287l14 10l10-14l-14-20z" color="#ff9200"/><path d="M4065 2297l14 10l9-13l-13-11z" color="#fea703"/><path d="M4079 2307l14 21l9-23l-14-11z" color="#febc08"/><path d="M4093 2328l13 32l10-26l-14-29z" color="#f9e111"/><path d="M4106 2360l13 31l10-23l-13-34z" color="#d5f018"/><path d="M4119 2391l14 18l10-15l-14-26z" color="#9ff01c"/><path d="M4133 2409l14 17l9-14l-13-18z" color="#7bf01f"/><path d="M4147 2426l13 17l10-14l-14-17z" color="#63ed2e"/><path d="M4160 2443l14 15l9-12l-13-17z" color="#51e942"/><path d="M4174 2458l14 13l9-12l-14-13z" color="#42e653"/><path d="M4188 2471l14 14l9-12l-14-14z" color="#34e363"/><path d="M4202 2485l14 13l9-11l-14-14z" color="#27e073"/><path d="M4216 2498l14 14l9-12l-14-13z" color="#24e086"/><path d="M4230 2512l13 13l9-11l-13-14z" color="#21e099"/><path d="M4243 2525l32 29l9-10l-32-30z" color="#1ce0b6"/><path d="M4275 2554l43 30l9-10l-43-30z" color="#17d6d7"/><path d="M4318 2584l44 31l8-10l-43-31z" color="#12b6eb"/><path d="M4362 2615l44 23l8-9l-44-24z" color="#1191f7"/><path d="M4406 2638l44 22l9-9l-45-22z" color="#136ffb"/><path d="M4450 2660l45 22l8-9l-44-22z" color="#1451ff"/><path d="M4495 2682l46 21l8-9l-46-21z" color="#2436fd"/><path d="M4541 2703l46 18l7-9l-45-18z" color="#3122fb"/><path d="M4587 2721l46 19l8-10l-47-18z" color="#3c11fa"/><path d="M4633 2740l46 18l8-9l-46-19z" color="#430df9"/><path d="M3596 2465l33 3l12-8l-33-3z" color="#2c27f8"/><path d="M3629 2468l34-2l11-12l-33 6z" color="#1a43f7"/><path d="M3663 2466l33-19l11-13l-33 20z" color="#1080e8"/><path d="M3696 2447l34-21l11-17l-34 25z" color="#14c0d0"/><path d="M3730 2426l34-34l11-20l-34 37z" color="#1ed191"/><path d="M3764 2392l29-28l12-23l-30 31z" color="#40dc4f"/><path d="M3793 2364l13-11l12-25l-13 13z" color="#65e727"/><path d="M3806 2353l14-11l11-27l-13 13z" color="#85eb1e"/><path d="M3820 2342l13-11l11-28l-13 12z" color="#a9ee1b"/><path d="M3833 2331l13-10l11-33l-13 15z" color="#cdf019"/><path d="M3846 2321l14-11l11-41l-14 19z" color="#e8e915"/><path d="M3860 2310l13-14l11-45l-13 18z" color="#fcdb0f"/><path d="M3873 2296l14-15l11-42l-14 12z" color="#feb506"/><path d="M3887 2281l13-11l12-40l-14 9z" color="#ff9500"/><path d="M3900 2270l14-3l12-43l-14 6z" color="#ff7800"/><path d="M3914 2267l14-1l11-45l-13 3z" color="#ff6700"/><path d="M3928 2266l14 2l11-45l-14-2z" color="#ff5e00"/><path d="M3942 2268l14 2l11-44l-14-3z" color="#ff5a00"/><path d="M3956 2270l14-2l11-42l-14 0z" color="#ff5400"/><path d="M3970 2268l14 5l11-41l-14-6z" color="#ff5100"/><path d="M3984 2273l14 8l11-39l-14-10z" color="#ff5b00"/><path d="M3998 2281l14 9l11-35l-14-13z" color="#ff6d00"/><path d="M4012 2290l14 7l11-27l-14-15z" color="#ff8300"/><path d="M4026 2297l14 9l11-19l-14-17z" color="#ff9a00"/><path d="M4040 2306l14 9l11-18l-14-10z" color="#feaa04"/><path d="M4054 2315l13 23l12-31l-14-10z" color="#fdbe08"/><path d="M4067 2338l14 29l12-39l-14-21z" color="#fbe010"/><path d="M4081 2367l13 29l12-36l-13-32z" color="#ddee17"/><path d="M4094 2396l14 16l11-21l-13-31z" color="#acf01b"/><path d="M4108 2412l14 16l11-19l-14-18z" color="#86f01e"/><path d="M4122 2428l14 17l11-19l-14-17z" color="#6bef26"/><path d="M4136 2445l14 15l10-17l-13-17z" color="#59eb3a"/><path d="M4150 2460l14 13l10-15l-14-15z" color="#49e74c"/><path d="M4164 2473l14 13l10-15l-14-13z" color="#3be45b"/><path d="M4178 2486l13 13l11-14l-14-14z" color="#2de16a"/><path d="M4191 2499l14 13l11-14l-14-13z" color="#26e07b"/><path d="M4205 2512l14 14l11-14l-14-14z" color="#23e08e"/><path d="M4219 2526l14 13l10-14l-13-13z" color="#20e0a0"/><path d="M4233 2539l32 27l10-12l-32-29z" color="#1be0bb"/><path d="M4265 2566l43 30l10-12l-43-30z" color="#16d2d9"/><path d="M4308 2596l44 31l10-12l-44-31z" color="#12b3ed"/><path d="M4352 2627l44 22l10-11l-44-23z" color="#118ef7"/><path d="M4396 2649l45 22l9-11l-44-22z" color="#136dfb"/><path d="M4441 2671l45 22l9-11l-45-22z" color="#154fff"/><path d="M4486 2693l45 21l10-11l-46-21z" color="#2535fd"/><path d="M4531 2714l47 18l9-11l-46-18z" color="#3221fb"/><path d="M4578 2732l46 19l9-11l-46-19z" color="#3c10fa"/><path d="M4624 2751l47 18l8-11l-46-18z" color="#440df9"/><path d="M3583 2475l34 3l12-10l-33-3z" color="#2c27f8"/><path d="M3617 2478l33 2l13-14l-34 2z" color="#1e3efb"/><path d="M3650 2480l34-17l12-16l-33 19z" color="#1173ed"/><path d="M3684 2463l33-18l13-19l-34 21z" color="#13b8dc"/><path d="M3717 2445l35-28l12-25l-34 34z" color="#1cd6aa"/><path d="M3752 2417l29-24l12-29l-29 28z" color="#2cdd6a"/><path d="M3781 2393l13-9l12-31l-13 11z" color="#4ee745"/><path d="M3794 2384l13-9l13-33l-14 11z" color="#62ed30"/><path d="M3807 2375l13-8l13-36l-13 11z" color="#77f01f"/><path d="M3820 2367l14-8l12-38l-13 10z" color="#94f01d"/><path d="M3834 2359l13-7l13-42l-14 11z" color="#b0f01b"/><path d="M3847 2352l14-6l12-50l-13 14z" color="#cef019"/><path d="M3861 2346l13-5l13-60l-14 15z" color="#e3eb16"/><path d="M3874 2341l14-10l12-61l-13 11z" color="#f4e412"/><path d="M3888 2331l13-10l13-54l-14 3z" color="#fcd40d"/><path d="M3901 2321l14-11l13-44l-14 1z" color="#fdc009"/><path d="M3915 2310l14-11l13-31l-14-2z" color="#feaf05"/><path d="M3929 2299l14-1l13-28l-14-2z" color="#fea403"/><path d="M3943 2298l14 1l13-31l-14 2z" color="#ff9d01"/><path d="M3957 2299l14 4l13-30l-14-5z" color="#ff9b01"/><path d="M3971 2303l14 5l13-27l-14-8z" color="#ff9f02"/><path d="M3985 2308l14 6l13-24l-14-9z" color="#fea603"/><path d="M3999 2314l14 13l13-30l-14-7z" color="#feb106"/><path d="M4013 2327l14 19l13-40l-14-9z" color="#fdc30a"/><path d="M4027 2346l14 22l13-53l-14-9z" color="#fcda0f"/><path d="M4041 2368l13 23l13-53l-13-23z" color="#ece714"/><path d="M4054 2391l14 18l13-42l-14-29z" color="#cff019"/><path d="M4068 2409l14 14l12-27l-13-29z" color="#a5f01c"/><path d="M4082 2423l14 15l12-26l-14-16z" color="#83f01f"/><path d="M4096 2438l14 16l12-26l-14-16z" color="#6bef26"/><path d="M4110 2454l14 13l12-22l-14-17z" color="#5aeb38"/><path d="M4124 2467l14 13l12-20l-14-15z" color="#4be849"/><path d="M4138 2480l14 12l12-19l-14-13z" color="#3de558"/><path d="M4152 2492l14 13l12-19l-14-13z" color="#31e266"/><path d="M4166 2505l14 12l11-18l-13-13z" color="#27e076"/><path d="M4180 2517l14 13l11-18l-14-13z" color="#24e087"/><path d="M4194 2530l14 13l11-17l-14-14z" color="#21e099"/><path d="M4208 2543l14 13l11-17l-14-13z" color="#1ee0ab"/><path d="M4222 2556l31 24l12-14l-32-27z" color="#1ae0c4"/><path d="M4253 2580l44 30l11-14l-43-30z" color="#15cddc"/><path d="M4297 2610l44 30l11-13l-44-31z" color="#11aff0"/><path d="M4341 2640l44 22l11-13l-44-22z" color="#1188f8"/><path d="M4385 2662l45 22l11-13l-45-22z" color="#136afc"/><path d="M4430 2684l46 22l10-13l-45-22z" color="#174cff"/><path d="M4476 2706l45 20l10-12l-45-21z" color="#2633fd"/><path d="M4521 2726l46 18l11-12l-47-18z" color="#321ffb"/><path d="M4567 2744l47 19l10-12l-46-19z" color="#3d10fa"/><path d="M4614 2763l47 18l10-12l-47-18z" color="#440cf9"/><path d="M3569 2486l34 3l14-11l-34-3z" color="#2d26f8"/><path d="M3603 2489l33 2l14-11l-33-2z" color="#2139f9"/><path d="M3636 2491l34-10l14-18l-34 17z" color="#1264f0"/><path d="M3670 2481l34-15l13-21l-33 18z" color="#11ace9"/><path d="M3704 2466l34-18l14-31l-35 28z" color="#18ddca"/><path d="M3738 2448l30-21l13-34l-29 24z" color="#23e090"/><path d="M3768 2427l13-8l13-35l-13 9z" color="#2fe169"/><path d="M3781 2419l13-8l13-36l-13 9z" color="#3fe556"/><path d="M3794 2411l13-6l13-38l-13 8z" color="#4fe944"/><path d="M3807 2405l13-5l14-41l-14 8z" color="#5eec34"/><path d="M3820 2400l14-5l13-43l-13 7z" color="#6cef25"/><path d="M3834 2395l13-5l14-44l-14 6z" color="#7ef01f"/><path d="M3847 2390l14-4l13-45l-13 5z" color="#91f01d"/><path d="M3861 2386l13-3l14-52l-14 10z" color="#a6f01c"/><path d="M3874 2383l14-3l13-59l-13 10z" color="#bcf01a"/><path d="M3888 2380l14-2l13-68l-14 11z" color="#d3f018"/><path d="M3902 2378l13-3l14-76l-14 11z" color="#e2ec16"/><path d="M3915 2375l14-9l14-68l-14 1z" color="#ede713"/><path d="M3929 2366l14-7l14-60l-14-1z" color="#f6e311"/><path d="M3943 2359l14 6l14-62l-14-4z" color="#f9e111"/><path d="M3957 2365l14 8l14-65l-14-5z" color="#f7e211"/><path d="M3971 2373l14 11l14-70l-14-6z" color="#f2e512"/><path d="M3985 2384l14 14l14-71l-14-13z" color="#e8e914"/><path d="M3999 2398l14 10l14-62l-14-19z" color="#dbef17"/><path d="M4013 2408l14 11l14-51l-14-22z" color="#c3f01a"/><path d="M4027 2419l14 11l13-39l-13-23z" color="#a5f01c"/><path d="M4041 2430l14 13l13-34l-14-18z" color="#88f01e"/><path d="M4055 2443l14 13l13-33l-14-14z" color="#70f020"/><path d="M4069 2456l14 13l13-31l-14-15z" color="#61ed30"/><path d="M4083 2469l14 11l13-26l-14-16z" color="#54ea3f"/><path d="M4097 2480l14 11l13-24l-14-13z" color="#47e74e"/><path d="M4111 2491l14 12l13-23l-14-13z" color="#3be45b"/><path d="M4125 2503l14 12l13-23l-14-12z" color="#2fe268"/><path d="M4139 2515l14 12l13-22l-14-13z" color="#27e077"/><path d="M4153 2527l14 12l13-22l-14-12z" color="#24e087"/><path d="M4167 2539l14 13l13-22l-14-13z" color="#21e098"/><path d="M4181 2552l14 12l13-21l-14-13z" color="#1ee0a9"/><path d="M4195 2564l14 12l13-20l-14-13z" color="#1ce0ba"/><path d="M4209 2576l32 21l12-17l-31-24z" color="#18e0cf"/><path d="M4241 2597l44 30l12-17l-44-30z" color="#14c6e0"/><path d="M4285 2627l44 27l12-14l-44-30z" color="#10aaf3"/><path d="M4329 2654l45 22l11-14l-44-22z" color="#1282f9"/><path d="M4374 2676l45 22l11-14l-45-22z" color="#1365fc"/><path d="M4419 2698l45 22l12-14l-46-22z" color="#1948fe"/><path d="M4464 2720l46 19l11-13l-45-20z" color="#2830fc"/><path d="M4510 2739l46 19l11-14l-46-18z" color="#341dfb"/><path d="M4556 2758l47 18l11-13l-47-19z" color="#3e0ffa"/><path d="M4603 2776l47 18l11-13l-47-18z" color="#440cf8"/><path d="M3554 2498l33 3l16-12l-34-3z" color="#2f24f8"/><path d="M3587 2501l34 2l15-12l-33-2z" color="#2238f9"/><path d="M3621 2503l34 0l15-22l-34 10z" color="#1358fc"/><path d="M3655 2503l34-13l15-24l-34 15z" color="#1194f3"/><path d="M3689 2490l34-13l15-29l-34 18z" color="#15c9df"/><path d="M3723 2477l30-13l15-37l-30 21z" color="#1ce0ba"/><path d="M3753 2464l13-7l15-38l-13 8z" color="#21e097"/><path d="M3766 2457l13-7l15-39l-13 8z" color="#25e083"/><path d="M3779 2450l13-5l15-40l-13 6z" color="#28e070"/><path d="M3792 2445l14-5l14-40l-13 5z" color="#35e361"/><path d="M3806 2440l13-5l15-40l-14 5z" color="#41e654"/><path d="M3819 2435l13-3l15-42l-13 5z" color="#4ce848"/><path d="M3832 2432l14-3l15-43l-14 4z" color="#56ea3d"/><path d="M3846 2429l14-2l14-44l-13 3z" color="#60ec32"/><path d="M3860 2427l13-2l15-45l-14 3z" color="#68ee29"/><path d="M3873 2425l14-2l15-45l-14 2z" color="#70f020"/><path d="M3887 2423l14-3l14-45l-13 3z" color="#7ef01f"/><path d="M3901 2420l13-1l15-53l-14 9z" color="#8ef01e"/><path d="M3914 2419l14-1l15-59l-14 7z" color="#a1f01c"/><path d="M3928 2418l14 4l15-57l-14-6z" color="#a8f01c"/><path d="M3942 2422l14 5l15-54l-14-8z" color="#a3f01c"/><path d="M3956 2427l14 7l15-50l-14-11z" color="#99f01d"/><path d="M3970 2434l14 7l15-43l-14-14z" color="#8bf01e"/><path d="M3984 2441l14 9l15-42l-14-10z" color="#7cf01f"/><path d="M3998 2450l14 10l15-41l-14-11z" color="#6ff021"/><path d="M4012 2460l14 9l15-39l-14-11z" color="#65ee2c"/><path d="M4026 2469l14 9l15-35l-14-13z" color="#5beb37"/><path d="M4040 2478l14 10l15-32l-14-13z" color="#51e943"/><path d="M4054 2488l14 10l15-29l-14-13z" color="#46e74e"/><path d="M4068 2498l14 10l15-28l-14-11z" color="#3ce45a"/><path d="M4082 2508l14 11l15-28l-14-11z" color="#32e265"/><path d="M4096 2519l14 11l15-27l-14-12z" color="#28e071"/><path d="M4110 2530l14 11l15-26l-14-12z" color="#25e080"/><path d="M4124 2541l14 12l15-26l-14-12z" color="#23e08f"/><path d="M4138 2553l15 12l14-26l-14-12z" color="#20e09e"/><path d="M4153 2565l14 12l14-25l-14-13z" color="#1ee0ae"/><path d="M4167 2577l14 9l14-22l-14-12z" color="#1be0bd"/><path d="M4181 2586l14 9l14-19l-14-12z" color="#19e0ca"/><path d="M4195 2595l32 21l14-19l-32-21z" color="#17d6d6"/><path d="M4227 2616l44 29l14-18l-44-30z" color="#13bde6"/><path d="M4271 2645l45 25l13-16l-44-27z" color="#109ff5"/><path d="M4316 2670l45 21l13-15l-45-22z" color="#127bfa"/><path d="M4361 2691l45 22l13-15l-45-22z" color="#135efd"/><path d="M4406 2713l46 22l12-15l-45-22z" color="#1d42fe"/><path d="M4452 2735l46 19l12-15l-46-19z" color="#2b2cfc"/><path d="M4498 2754l46 19l12-15l-46-19z" color="#361afb"/><path d="M4544 2773l47 18l12-15l-47-18z" color="#3f0ff9"/><path d="M4591 2791l48 17l11-14l-47-18z" color="#450cf8"/><path d="M3537 2511l34 3l16-13l-33-3z" color="#3121f9"/><path d="M3571 2514l34 3l16-14l-34-2z" color="#2534fa"/><path d="M3605 2517l34 1l16-15l-34 0z" color="#164bfc"/><path d="M3639 2518l34-3l16-25l-34 13z" color="#1275f7"/><path d="M3673 2515l35-10l15-28l-34 13z" color="#11afef"/><path d="M3708 2505l29-8l16-33l-30 13z" color="#16d1da"/><path d="M3737 2497l14-4l15-36l-13 7z" color="#1ae0c6"/><path d="M3751 2493l13-4l15-39l-13 7z" color="#1ce0b5"/><path d="M3764 2489l13-4l15-40l-13 5z" color="#1fe0a5"/><path d="M3777 2485l13-5l16-40l-14 5z" color="#22e095"/><path d="M3790 2480l13-4l16-41l-13 5z" color="#24e085"/><path d="M3803 2476l14-4l15-40l-13 3z" color="#27e077"/><path d="M3817 2472l13-3l16-40l-14 3z" color="#2de16b"/><path d="M3830 2469l14-3l16-39l-14 2z" color="#35e361"/><path d="M3844 2466l13-2l16-39l-13 2z" color="#3de558"/><path d="M3857 2464l14-1l16-40l-14 2z" color="#45e650"/><path d="M3871 2463l14-1l16-42l-14 3z" color="#4de847"/><path d="M3885 2462l14 0l15-43l-13 1z" color="#54ea40"/><path d="M3899 2462l14 0l15-44l-14 1z" color="#5aeb39"/><path d="M3913 2462l13 4l16-44l-14-4z" color="#5cec36"/><path d="M3926 2466l14 5l16-44l-14-5z" color="#5beb38"/><path d="M3940 2471l14 5l16-42l-14-7z" color="#58eb3b"/><path d="M3954 2476l14 6l16-41l-14-7z" color="#54ea3f"/><path d="M3968 2482l14 7l16-39l-14-9z" color="#4fe945"/><path d="M3982 2489l14 7l16-36l-14-10z" color="#49e74c"/><path d="M3996 2496l14 8l16-35l-14-9z" color="#42e653"/><path d="M4010 2504l14 8l16-34l-14-9z" color="#3be45b"/><path d="M4024 2512l15 9l15-33l-14-10z" color="#33e363"/><path d="M4039 2521l14 9l15-32l-14-10z" color="#2be16c"/><path d="M4053 2530l14 10l15-32l-14-10z" color="#27e077"/><path d="M4067 2540l14 10l15-31l-14-11z" color="#25e083"/><path d="M4081 2550l14 11l15-31l-14-11z" color="#23e090"/><path d="M4095 2561l14 10l15-30l-14-11z" color="#20e09d"/><path d="M4109 2571l14 11l15-29l-14-12z" color="#1ee0ab"/><path d="M4123 2582l14 10l16-27l-15-12z" color="#1ce0b8"/><path d="M4137 2592l15 8l15-23l-14-12z" color="#1ae0c5"/><path d="M4152 2600l14 9l15-23l-14-9z" color="#18e0d0"/><path d="M4166 2609l14 9l15-23l-14-9z" color="#17d7d6"/><path d="M4180 2618l32 20l15-22l-32-21z" color="#15c9df"/><path d="M4212 2638l45 28l14-21l-44-29z" color="#11b2ee"/><path d="M4257 2666l45 21l14-17l-45-25z" color="#1190f7"/><path d="M4302 2687l45 22l14-18l-45-21z" color="#1272fb"/><path d="M4347 2709l45 21l14-17l-45-22z" color="#1456fe"/><path d="M4392 2730l46 22l14-17l-46-22z" color="#213cfd"/><path d="M4438 2752l47 18l13-16l-46-19z" color="#2e27fc"/><path d="M4485 2770l46 19l13-16l-46-19z" color="#3817fb"/><path d="M4531 2789l48 19l12-17l-47-18z" color="#400ef9"/><path d="M4579 2808l48 16l12-16l-48-17z" color="#460bf8"/><path d="M3520 2526l33 3l18-15l-34-3z" color="#341cf9"/><path d="M3553 2529l34 3l18-15l-34-3z" color="#282efa"/><path d="M3587 2532l35 3l17-17l-34-1z" color="#1c43fc"/><path d="M3622 2535l34 0l17-20l-34 3z" color="#1360fc"/><path d="M3656 2535l35-1l17-29l-35 10z" color="#118bf8"/><path d="M3691 2534l30-7l16-30l-29 8z" color="#12b4ed"/><path d="M3721 2527l13-3l17-31l-14 4z" color="#14c7e0"/><path d="M3734 2524l13-2l17-33l-13 4z" color="#16d2d9"/><path d="M3747 2522l13-2l17-35l-13 4z" color="#18ded2"/><path d="M3760 2520l13-2l17-38l-13 5z" color="#1ae0c6"/><path d="M3773 2518l14-3l16-39l-13 4z" color="#1ce0b8"/><path d="M3787 2515l13-3l17-40l-14 4z" color="#1ee0aa"/><path d="M3800 2512l14-3l16-40l-13 3z" color="#20e09d"/><path d="M3814 2509l13-3l17-40l-14 3z" color="#22e091"/><path d="M3827 2506l14-2l16-40l-13 2z" color="#24e086"/><path d="M3841 2504l13-2l17-39l-14 1z" color="#26e07b"/><path d="M3854 2502l14-1l17-39l-14 1z" color="#28e072"/><path d="M3868 2501l14 0l17-39l-14 0z" color="#2ce16b"/><path d="M3882 2501l14 0l17-39l-14 0z" color="#32e265"/><path d="M3896 2501l14 4l16-39l-13-4z" color="#34e363"/><path d="M3910 2505l14 5l16-39l-14-5z" color="#33e264"/><path d="M3924 2510l14 5l16-39l-14-5z" color="#31e266"/><path d="M3938 2515l14 5l16-38l-14-6z" color="#2ee169"/><path d="M3952 2520l14 7l16-38l-14-7z" color="#2be16d"/><path d="M3966 2527l14 7l16-38l-14-7z" color="#28e072"/><path d="M3980 2534l14 7l16-37l-14-8z" color="#26e079"/><path d="M3994 2541l14 8l16-37l-14-8z" color="#25e081"/><path d="M4008 2549l14 8l17-36l-15-9z" color="#24e089"/><path d="M4022 2557l14 9l17-36l-14-9z" color="#22e093"/><path d="M4036 2566l14 9l17-35l-14-10z" color="#20e09d"/><path d="M4050 2575l14 10l17-35l-14-10z" color="#1fe0a8"/><path d="M4064 2585l15 8l16-32l-14-11z" color="#1de0b3"/><path d="M4079 2593l14 8l16-30l-14-10z" color="#1be0bd"/><path d="M4093 2601l14 8l16-27l-14-11z" color="#19e0c8"/><path d="M4107 2609l14 8l16-25l-14-10z" color="#18dfd1"/><path d="M4121 2617l15 8l16-25l-15-8z" color="#17d7d6"/><path d="M4136 2625l14 9l16-25l-14-9z" color="#16cfdb"/><path d="M4150 2634l14 8l16-24l-14-9z" color="#14c7e0"/><path d="M4164 2642l33 20l15-24l-32-20z" color="#13bae8"/><path d="M4197 2662l44 24l16-20l-45-28z" color="#10a4f5"/><path d="M4241 2686l46 20l15-19l-45-21z" color="#1282f9"/><path d="M4287 2706l45 22l15-19l-45-22z" color="#1367fc"/><path d="M4332 2728l46 21l14-19l-45-21z" color="#174cff"/><path d="M4378 2749l46 20l14-17l-46-22z" color="#2534fd"/><path d="M4424 2769l47 19l14-18l-47-18z" color="#3122fb"/><path d="M4471 2788l47 18l13-17l-46-19z" color="#3b12fa"/><path d="M4518 2806l47 19l14-17l-48-19z" color="#420df9"/><path d="M4565 2825l48 15l14-16l-48-16z" color="#470bf8"/><path d="M3501 2541l34 5l18-17l-33-3z" color="#3816f9"/><path d="M3535 2546l34 3l18-17l-34-3z" color="#2d27fb"/><path d="M3569 2549l34 3l19-17l-35-3z" color="#213afc"/><path d="M3603 2552l35 3l18-20l-34 0z" color="#1450fe"/><path d="M3638 2555l35 0l18-21l-35 1z" color="#136efb"/><path d="M3673 2555l30 0l18-28l-30 7z" color="#1192f7"/><path d="M3703 2555l13-1l18-30l-13 3z" color="#10abf2"/><path d="M3716 2554l13-1l18-31l-13 2z" color="#12b4ec"/><path d="M3729 2553l13-2l18-31l-13 2z" color="#13bee6"/><path d="M3742 2551l14-2l17-31l-13 2z" color="#14c7e0"/><path d="M3756 2549l13-2l18-32l-14 3z" color="#16d1da"/><path d="M3769 2547l14-1l17-34l-13 3z" color="#17dbd3"/><path d="M3783 2546l13-1l18-36l-14 3z" color="#19e0cb"/><path d="M3796 2545l14-1l17-38l-13 3z" color="#1be0c1"/><path d="M3810 2544l13 0l18-40l-14 2z" color="#1ce0b7"/><path d="M3823 2544l14-1l17-41l-13 2z" color="#1ee0ad"/><path d="M3837 2543l14-1l17-41l-14 1z" color="#1fe0a4"/><path d="M3851 2542l13 0l18-41l-14 0z" color="#21e09c"/><path d="M3864 2542l14 0l18-41l-14 0z" color="#22e095"/><path d="M3878 2542l14 4l18-41l-14-4z" color="#22e092"/><path d="M3892 2546l14 5l18-41l-14-5z" color="#22e093"/><path d="M3906 2551l14 5l18-41l-14-5z" color="#22e095"/><path d="M3920 2556l14 5l18-41l-14-5z" color="#21e098"/><path d="M3934 2561l14 7l18-41l-14-7z" color="#21e09c"/><path d="M3948 2568l14 6l18-40l-14-7z" color="#20e0a1"/><path d="M3962 2574l14 7l18-40l-14-7z" color="#1fe0a7"/><path d="M3976 2581l14 7l18-39l-14-8z" color="#1ee0ae"/><path d="M3990 2588l15 6l17-37l-14-8z" color="#1de0b4"/><path d="M4005 2594l14 7l17-35l-14-9z" color="#1be0bb"/><path d="M4019 2601l14 7l17-33l-14-9z" color="#1ae0c3"/><path d="M4033 2608l14 7l17-30l-14-10z" color="#19e0cb"/><path d="M4047 2615l15 7l17-29l-15-8z" color="#18ded2"/><path d="M4062 2622l14 8l17-29l-14-8z" color="#17d7d6"/><path d="M4076 2630l14 7l17-28l-14-8z" color="#16d1da"/><path d="M4090 2637l14 8l17-28l-14-8z" color="#15cade"/><path d="M4104 2645l15 8l17-28l-15-8z" color="#14c3e2"/><path d="M4119 2653l14 8l17-27l-14-9z" color="#13bce7"/><path d="M4133 2661l15 9l16-28l-14-8z" color="#12b5ec"/><path d="M4148 2670l32 17l17-25l-33-20z" color="#10aaf3"/><path d="M4180 2687l45 20l16-21l-44-24z" color="#118ef7"/><path d="M4225 2707l46 20l16-21l-46-20z" color="#1273fb"/><path d="M4271 2727l45 21l16-20l-45-22z" color="#145afe"/><path d="M4316 2748l46 22l16-21l-46-21z" color="#1d41fe"/><path d="M4362 2770l47 18l15-19l-46-20z" color="#2a2cfc"/><path d="M4409 2788l47 19l15-19l-47-19z" color="#351cfb"/><path d="M4456 2807l47 18l15-19l-47-18z" color="#3e0ffa"/><path d="M4503 2825l48 18l14-18l-47-19z" color="#440cf9"/><path d="M4551 2843l48 15l14-18l-48-15z" color="#480bf8"/><path d="M3481 2557l34 5l20-16l-34-5z" color="#3c10f9"/><path d="M3515 2562l34 5l20-18l-34-3z" color="#331ffb"/><path d="M3549 2567l35 4l19-19l-34-3z" color="#2830fc"/><path d="M3584 2571l35 3l19-19l-35-3z" color="#1c44fe"/><path d="M3619 2574l35 3l19-22l-35 0z" color="#145afe"/><path d="M3654 2577l30 3l19-25l-30 0z" color="#1274fb"/><path d="M3684 2580l13 0l19-26l-13 1z" color="#1286f8"/><path d="M3697 2580l13-1l19-26l-13 1z" color="#1194f7"/><path d="M3710 2579l14 0l18-28l-13 2z" color="#10a2f5"/><path d="M3724 2579l13 0l19-30l-14 2z" color="#11adf1"/><path d="M3737 2579l13-1l19-31l-13 2z" color="#12b5eb"/><path d="M3750 2578l14 0l19-32l-14 1z" color="#13bde6"/><path d="M3764 2578l13-1l19-32l-13 1z" color="#14c5e2"/><path d="M3777 2577l14 0l19-33l-14 1z" color="#15ccdd"/><path d="M3791 2577l14 0l18-33l-13 0z" color="#16d3d8"/><path d="M3805 2577l13 0l19-34l-14 1z" color="#17dad4"/><path d="M3818 2577l14 0l19-35l-14 1z" color="#18e0d0"/><path d="M3832 2577l14 2l18-37l-13 0z" color="#19e0c9"/><path d="M3846 2579l14 1l18-38l-14 0z" color="#1ae0c3"/><path d="M3860 2580l14 4l18-38l-14-4z" color="#1be0c1"/><path d="M3874 2584l14 5l18-38l-14-5z" color="#1ae0c1"/><path d="M3888 2589l14 4l18-37l-14-5z" color="#1ae0c3"/><path d="M3902 2593l14 5l18-37l-14-5z" color="#1ae0c5"/><path d="M3916 2598l14 5l18-35l-14-7z" color="#19e0c8"/><path d="M3930 2603l14 5l18-34l-14-6z" color="#19e0cc"/><path d="M3944 2608l14 6l18-33l-14-7z" color="#18e0d0"/><path d="M3958 2614l14 6l18-32l-14-7z" color="#17dcd3"/><path d="M3972 2620l14 6l19-32l-15-6z" color="#17d8d5"/><path d="M3986 2626l15 7l18-32l-14-7z" color="#16d4d8"/><path d="M4001 2633l14 6l18-31l-14-7z" color="#16cfdb"/><path d="M4015 2639l14 7l18-31l-14-7z" color="#15cbde"/><path d="M4029 2646l14 7l19-31l-15-7z" color="#14c5e1"/><path d="M4043 2653l15 7l18-30l-14-8z" color="#13c0e5"/><path d="M4058 2660l14 8l18-31l-14-7z" color="#13bae8"/><path d="M4072 2668l15 7l17-30l-14-8z" color="#12b4ec"/><path d="M4087 2675l14 8l18-30l-15-8z" color="#11aef0"/><path d="M4101 2683l15 6l17-28l-14-8z" color="#10a8f4"/><path d="M4116 2689l14 6l18-25l-15-9z" color="#109ef5"/><path d="M4130 2695l33 15l17-23l-32-17z" color="#118ff7"/><path d="M4163 2710l45 19l17-22l-45-20z" color="#127afa"/><path d="M4208 2729l46 21l17-23l-46-20z" color="#1363fd"/><path d="M4254 2750l45 21l17-23l-45-21z" color="#174bff"/><path d="M4299 2771l47 19l16-20l-46-22z" color="#2535fd"/><path d="M4346 2790l46 18l17-20l-47-18z" color="#3024fc"/><path d="M4392 2808l48 19l16-20l-47-19z" color="#3915fa"/><path d="M4440 2827l47 19l16-21l-47-18z" color="#410ef9"/><path d="M4487 2846l48 16l16-19l-48-18z" color="#460bf8"/><path d="M4535 2862l49 15l15-19l-48-15z" color="#490af8"/><path d="M3460 2574l35 6l20-18l-34-5z" color="#3f0ff9"/><path d="M3495 2580l34 6l20-19l-34-5z" color="#3816fa"/><path d="M3529 2586l35 5l20-20l-35-4z" color="#2f25fc"/><path d="M3564 2591l35 4l20-21l-35-3z" color="#2436fd"/><path d="M3599 2595l35 4l20-22l-35-3z" color="#1849fe"/><path d="M3634 2599l30 3l20-22l-30-3z" color="#135dfd"/><path d="M3664 2602l13 1l20-23l-13 0z" color="#136bfb"/><path d="M3677 2603l14 1l19-25l-13 1z" color="#1275fa"/><path d="M3691 2604l13 1l20-26l-14 0z" color="#127ff9"/><path d="M3704 2605l13 2l20-28l-13 0z" color="#118af8"/><path d="M3717 2607l14 1l19-30l-13 1z" color="#1194f6"/><path d="M3731 2608l13 1l20-31l-14 0z" color="#109ff5"/><path d="M3744 2609l14 0l19-32l-13 1z" color="#10a9f3"/><path d="M3758 2609l13 1l20-33l-14 0z" color="#11b0ef"/><path d="M3771 2610l14 0l20-33l-14 0z" color="#12b6eb"/><path d="M3785 2610l14 1l19-34l-13 0z" color="#13bce7"/><path d="M3799 2611l13 1l20-35l-14 0z" color="#14c1e4"/><path d="M3812 2612l14 1l20-34l-14-2z" color="#14c6e1"/><path d="M3826 2613l14 2l20-35l-14-1z" color="#15cade"/><path d="M3840 2615l14 4l20-35l-14-4z" color="#15ccdd"/><path d="M3854 2619l14 4l20-34l-14-5z" color="#15cbdd"/><path d="M3868 2623l14 5l20-35l-14-4z" color="#15cade"/><path d="M3882 2628l14 4l20-34l-14-5z" color="#15c9df"/><path d="M3896 2632l14 5l20-34l-14-5z" color="#14c7e0"/><path d="M3910 2637l14 6l20-35l-14-5z" color="#14c5e1"/><path d="M3924 2643l15 5l19-34l-14-6z" color="#14c3e3"/><path d="M3939 2648l14 6l19-34l-14-6z" color="#13c0e5"/><path d="M3953 2654l14 6l19-34l-14-6z" color="#13bce7"/><path d="M3967 2660l14 6l20-33l-15-7z" color="#12b9e9"/><path d="M3981 2666l15 7l19-34l-14-6z" color="#12b5ec"/><path d="M3996 2673l14 6l19-33l-14-7z" color="#11b0ef"/><path d="M4010 2679l14 6l19-32l-14-7z" color="#11acf1"/><path d="M4024 2685l15 6l19-31l-15-7z" color="#10a8f4"/><path d="M4039 2691l14 6l19-29l-14-8z" color="#10a0f5"/><path d="M4053 2697l15 5l19-27l-15-7z" color="#1198f6"/><path d="M4068 2702l14 6l19-25l-14-8z" color="#1190f7"/><path d="M4082 2708l15 6l19-25l-15-6z" color="#1188f8"/><path d="M4097 2714l15 6l18-25l-14-6z" color="#1282f9"/><path d="M4112 2720l32 14l19-24l-33-15z" color="#1278fa"/><path d="M4144 2734l46 20l18-25l-45-19z" color="#1366fc"/><path d="M4190 2754l46 20l18-24l-46-21z" color="#1450ff"/><path d="M4236 2774l46 19l17-22l-45-21z" color="#213cfd"/><path d="M4282 2793l46 19l18-22l-47-19z" color="#2c2afc"/><path d="M4328 2812l47 18l17-22l-46-18z" color="#351bfb"/><path d="M4375 2830l48 19l17-22l-48-19z" color="#3d0ffa"/><path d="M4423 2849l48 17l16-20l-47-19z" color="#440df9"/><path d="M4471 2866l48 15l16-19l-48-16z" color="#480bf8"/><path d="M4519 2881l49 15l16-19l-49-15z" color="#490af8"/><path d="M3438 2592l35 7l22-19l-35-6z" color="#420df9"/><path d="M3473 2599l34 5l22-18l-34-6z" color="#3c10f9"/><path d="M3507 2604l35 8l22-21l-35-5z" color="#351bfb"/><path d="M3542 2612l35 5l22-22l-35-4z" color="#2d28fc"/><path d="M3577 2617l36 5l21-23l-35-4z" color="#2338fd"/><path d="M3613 2622l30 3l21-23l-30-3z" color="#1949fe"/><path d="M3643 2625l13 2l21-24l-13-1z" color="#1455fe"/><path d="M3656 2627l14 1l21-24l-14-1z" color="#135cfd"/><path d="M3670 2628l13 2l21-25l-13-1z" color="#1364fd"/><path d="M3683 2630l13 2l21-25l-13-2z" color="#136cfc"/><path d="M3696 2632l14 1l21-25l-14-1z" color="#1273fb"/><path d="M3710 2633l13 2l21-26l-13-1z" color="#127bfa"/><path d="M3723 2635l14 2l21-28l-14 0z" color="#1283f9"/><path d="M3737 2637l14 1l20-28l-13-1z" color="#118cf8"/><path d="M3751 2638l13 2l21-30l-14 0z" color="#1194f6"/><path d="M3764 2640l14 3l21-32l-14-1z" color="#119cf5"/><path d="M3778 2643l14 2l20-33l-13-1z" color="#10a4f5"/><path d="M3792 2645l14 3l20-35l-14-1z" color="#10a9f3"/><path d="M3806 2648l14 3l20-36l-14-2z" color="#11acf1"/><path d="M3820 2651l14 4l20-36l-14-4z" color="#11adf1"/><path d="M3834 2655l14 4l20-36l-14-4z" color="#11adf1"/><path d="M3848 2659l14 4l20-35l-14-5z" color="#11acf1"/><path d="M3862 2663l14 4l20-35l-14-4z" color="#10abf2"/><path d="M3876 2667l14 5l20-35l-14-5z" color="#10aaf3"/><path d="M3890 2672l14 4l20-33l-14-6z" color="#10a9f3"/><path d="M3904 2676l14 5l21-33l-15-5z" color="#10a6f4"/><path d="M3918 2681l15 5l20-32l-14-6z" color="#10a2f5"/><path d="M3933 2686l14 5l20-31l-14-6z" color="#109ef5"/><path d="M3947 2691l14 5l20-30l-14-6z" color="#1199f6"/><path d="M3961 2696l15 5l20-28l-15-7z" color="#1194f7"/><path d="M3976 2701l14 6l20-28l-14-6z" color="#118ef7"/><path d="M3990 2707l15 5l19-27l-14-6z" color="#1189f8"/><path d="M4005 2712l14 6l20-27l-15-6z" color="#1284f9"/><path d="M4019 2718l15 5l19-26l-14-6z" color="#127ff9"/><path d="M4034 2723l14 6l20-27l-15-5z" color="#127afa"/><path d="M4048 2729l15 6l19-27l-14-6z" color="#1275fa"/><path d="M4063 2735l14 6l20-27l-15-6z" color="#1370fb"/><path d="M4077 2741l15 6l20-27l-15-6z" color="#136afc"/><path d="M4092 2747l33 13l19-26l-32-14z" color="#1361fd"/><path d="M4125 2760l46 20l19-26l-46-20z" color="#1450ff"/><path d="M4171 2780l46 19l19-25l-46-20z" color="#1f3efe"/><path d="M4217 2799l46 18l19-24l-46-19z" color="#2a2dfc"/><path d="M4263 2817l47 18l18-23l-46-19z" color="#331ffb"/><path d="M4310 2835l47 18l18-23l-47-18z" color="#3b12fa"/><path d="M4357 2853l48 19l18-23l-48-19z" color="#410ef9"/><path d="M4405 2872l48 15l18-21l-48-17z" color="#460bf8"/><path d="M4453 2887l49 15l17-21l-48-15z" color="#490af8"/><path d="M4502 2902l49 15l17-21l-49-15z" color="#4a0af7"/><path d="M3416 2611l34 7l23-19l-35-7z" color="#450cf8"/><path d="M3450 2618l34 3l23-17l-34-5z" color="#3e0ff7"/><path d="M3484 2621l35 10l23-19l-35-8z" color="#3915fa"/><path d="M3519 2631l36 8l22-22l-35-5z" color="#351cfb"/><path d="M3555 2639l35 7l23-24l-36-5z" color="#2e27fc"/><path d="M3590 2646l31 4l22-25l-30-3z" color="#2535fd"/><path d="M3621 2650l13 2l22-25l-13-2z" color="#1f3ffe"/><path d="M3634 2652l14 2l22-26l-14-1z" color="#1b45fe"/><path d="M3648 2654l13 2l22-26l-13-2z" color="#174bff"/><path d="M3661 2656l14 2l21-26l-13-2z" color="#1452ff"/><path d="M3675 2658l13 2l22-27l-14-1z" color="#1458fe"/><path d="M3688 2660l14 2l21-27l-13-2z" color="#135ffd"/><path d="M3702 2662l13 2l22-27l-14-2z" color="#1365fc"/><path d="M3715 2664l14 2l22-28l-14-1z" color="#136cfc"/><path d="M3729 2666l14 2l21-28l-13-2z" color="#1271fb"/><path d="M3743 2668l14 2l21-27l-14-3z" color="#1277fa"/><path d="M3757 2670l13 3l22-28l-14-2z" color="#127cfa"/><path d="M3770 2673l14 3l22-28l-14-3z" color="#1280f9"/><path d="M3784 2676l14 3l22-28l-14-3z" color="#1284f9"/><path d="M3798 2679l14 4l22-28l-14-4z" color="#1285f8"/><path d="M3812 2683l14 4l22-28l-14-4z" color="#1285f8"/><path d="M3826 2687l14 4l22-28l-14-4z" color="#1284f8"/><path d="M3840 2691l15 5l21-29l-14-4z" color="#1283f9"/><path d="M3855 2696l14 4l21-28l-14-5z" color="#1282f9"/><path d="M3869 2700l14 5l21-29l-14-4z" color="#1280f9"/><path d="M3883 2705l14 5l21-29l-14-5z" color="#127ef9"/><path d="M3897 2710l15 4l21-28l-15-5z" color="#127cf9"/><path d="M3912 2714l14 5l21-28l-14-5z" color="#1279fa"/><path d="M3926 2719l14 5l21-28l-14-5z" color="#1277fa"/><path d="M3940 2724l15 6l21-29l-15-5z" color="#1273fb"/><path d="M3955 2730l14 5l21-28l-14-6z" color="#1370fb"/><path d="M3969 2735l15 5l21-28l-15-5z" color="#136cfb"/><path d="M3984 2740l14 6l21-28l-14-6z" color="#1368fc"/><path d="M3998 2746l15 5l21-28l-15-5z" color="#1364fd"/><path d="M4013 2751l15 6l20-28l-14-6z" color="#135ffd"/><path d="M4028 2757l14 6l21-28l-15-6z" color="#145bfe"/><path d="M4042 2763l15 6l20-28l-14-6z" color="#1456fe"/><path d="M4057 2769l15 5l20-27l-15-6z" color="#1451ff"/><path d="M4072 2774l33 14l20-28l-33-13z" color="#1948fe"/><path d="M4105 2788l46 18l20-26l-46-20z" color="#213bfd"/><path d="M4151 2806l46 17l20-24l-46-19z" color="#2a2dfc"/><path d="M4197 2823l47 18l19-24l-46-18z" color="#3220fb"/><path d="M4244 2841l47 18l19-24l-47-18z" color="#3a14fa"/><path d="M4291 2859l47 19l19-25l-47-18z" color="#400ef9"/><path d="M4338 2878l49 16l18-22l-48-19z" color="#450cf8"/><path d="M4387 2894l48 15l18-22l-48-15z" color="#480bf8"/><path d="M4435 2909l49 15l18-22l-49-15z" color="#490af8"/><path d="M4484 2924l50 16l17-23l-49-15z" color="#4b09f7"/><path d="M3391 2631l35 8l24-21l-34-7z" color="#490af8"/><path d="M3426 2639l34 1l24-19l-34-3z" color="#400df5"/><path d="M3460 2640l36 9l23-18l-35-10z" color="#3b12fa"/><path d="M3496 2649l35 13l24-23l-36-8z" color="#3a13fa"/><path d="M3531 2662l36 7l23-23l-35-7z" color="#3718fb"/><path d="M3567 2669l31 6l23-25l-31-4z" color="#3023fb"/><path d="M3598 2675l13 3l23-26l-13-2z" color="#2c2afc"/><path d="M3611 2678l14 3l23-27l-14-2z" color="#292ffc"/><path d="M3625 2681l13 2l23-27l-13-2z" color="#2634fd"/><path d="M3638 2683l14 2l23-27l-14-2z" color="#2339fd"/><path d="M3652 2685l13 3l23-28l-13-2z" color="#1f3efe"/><path d="M3665 2688l14 2l23-28l-14-2z" color="#1c43fe"/><path d="M3679 2690l14 2l22-28l-13-2z" color="#1949fe"/><path d="M3693 2692l13 3l23-29l-14-2z" color="#154eff"/><path d="M3706 2695l14 2l23-29l-14-2z" color="#1453ff"/><path d="M3720 2697l14 3l23-30l-14-2z" color="#1458fe"/><path d="M3734 2700l14 2l22-29l-13-3z" color="#135cfd"/><path d="M3748 2702l14 3l22-29l-14-3z" color="#1361fd"/><path d="M3762 2705l14 3l22-29l-14-3z" color="#1364fc"/><path d="M3776 2708l14 4l22-29l-14-4z" color="#1366fc"/><path d="M3790 2712l14 5l22-30l-14-4z" color="#1365fc"/><path d="M3804 2717l14 4l22-30l-14-4z" color="#1365fc"/><path d="M3818 2721l14 4l23-29l-15-5z" color="#1364fd"/><path d="M3832 2725l15 5l22-30l-14-4z" color="#1363fd"/><path d="M3847 2730l14 5l22-30l-14-5z" color="#1361fd"/><path d="M3861 2735l14 4l22-29l-14-5z" color="#135ffd"/><path d="M3875 2739l15 5l22-30l-15-4z" color="#135dfd"/><path d="M3890 2744l14 5l22-30l-14-5z" color="#145bfe"/><path d="M3904 2749l14 5l22-30l-14-5z" color="#1458fe"/><path d="M3918 2754l15 5l22-29l-15-6z" color="#1455fe"/><path d="M3933 2759l14 6l22-30l-14-5z" color="#1452ff"/><path d="M3947 2765l15 5l22-30l-15-5z" color="#154fff"/><path d="M3962 2770l15 5l21-29l-14-6z" color="#174bff"/><path d="M3977 2775l14 6l22-30l-15-5z" color="#1948fe"/><path d="M3991 2781l15 6l22-30l-15-6z" color="#1b44fe"/><path d="M4006 2787l15 5l21-29l-14-6z" color="#1e40fe"/><path d="M4021 2792l14 6l22-29l-15-6z" color="#203cfd"/><path d="M4035 2798l15 5l22-29l-15-5z" color="#2339fd"/><path d="M4050 2803l34 12l21-27l-33-14z" color="#2632fd"/><path d="M4084 2815l46 17l21-26l-46-18z" color="#2d29fc"/><path d="M4130 2832l46 17l21-26l-46-17z" color="#331efb"/><path d="M4176 2849l47 18l21-26l-47-18z" color="#3a13fa"/><path d="M4223 2867l48 18l20-26l-47-18z" color="#400ef9"/><path d="M4271 2885l48 16l19-23l-47-19z" color="#450cf8"/><path d="M4319 2901l48 15l20-22l-49-16z" color="#480bf8"/><path d="M4367 2916l49 16l19-23l-48-15z" color="#490af8"/><path d="M4416 2932l49 15l19-23l-49-15z" color="#4a09f7"/><path d="M4465 2947l50 16l19-23l-50-16z" color="#4c09f7"/><path d="M3366 2650l35 10l25-21l-35-8z" color="#4b09f7"/><path d="M3401 2660l34-1l25-19l-34-1z" color="#420cf2"/><path d="M3435 2659l36 10l25-20l-36-9z" color="#3c10fa"/><path d="M3471 2669l36 16l24-23l-35-13z" color="#3e0ffa"/><path d="M3507 2685l36 8l24-24l-36-7z" color="#3e0ffa"/><path d="M3543 2693l30 7l25-25l-31-6z" color="#3a13fa"/><path d="M3573 2700l14 3l24-25l-13-3z" color="#3719fb"/><path d="M3587 2703l13 2l25-24l-14-3z" color="#341cfb"/><path d="M3600 2705l14 3l24-25l-13-2z" color="#3220fb"/><path d="M3614 2708l14 3l24-26l-14-2z" color="#3024fc"/><path d="M3628 2711l13 3l24-26l-13-3z" color="#2d28fc"/><path d="M3641 2714l14 3l24-27l-14-2z" color="#2b2cfc"/><path d="M3655 2717l14 3l24-28l-14-2z" color="#2830fc"/><path d="M3669 2720l14 3l23-28l-13-3z" color="#2634fd"/><path d="M3683 2723l13 3l24-29l-14-2z" color="#2337fd"/><path d="M3696 2726l14 4l24-30l-14-3z" color="#213bfd"/><path d="M3710 2730l14 3l24-31l-14-2z" color="#1f3efe"/><path d="M3724 2733l14 3l24-31l-14-3z" color="#1d41fe"/><path d="M3738 2736l14 3l24-31l-14-3z" color="#1b44fe"/><path d="M3752 2739l14 4l24-31l-14-4z" color="#1a46fe"/><path d="M3766 2743l15 4l23-30l-14-5z" color="#1b46fe"/><path d="M3781 2747l14 5l23-31l-14-4z" color="#1b45fe"/><path d="M3795 2752l14 4l23-31l-14-4z" color="#1b44fe"/><path d="M3809 2756l14 5l24-31l-15-5z" color="#1c43fe"/><path d="M3823 2761l15 5l23-31l-14-5z" color="#1d42fe"/><path d="M3838 2766l14 4l23-31l-14-4z" color="#1e41fe"/><path d="M3852 2770l14 5l24-31l-15-5z" color="#1f3ffe"/><path d="M3866 2775l15 5l23-31l-14-5z" color="#203dfe"/><path d="M3881 2780l14 5l23-31l-14-5z" color="#213bfd"/><path d="M3895 2785l15 4l23-30l-15-5z" color="#2239fd"/><path d="M3910 2789l15 5l22-29l-14-6z" color="#2337fd"/><path d="M3925 2794l14 5l23-29l-15-5z" color="#2535fd"/><path d="M3939 2799l15 5l23-29l-15-5z" color="#2632fd"/><path d="M3954 2804l15 5l22-28l-14-6z" color="#2830fc"/><path d="M3969 2809l14 5l23-27l-15-6z" color="#2a2dfc"/><path d="M3983 2814l15 6l23-28l-15-5z" color="#2c2afc"/><path d="M3998 2820l15 5l22-27l-14-6z" color="#2e27fc"/><path d="M4013 2825l15 5l22-27l-15-5z" color="#2f25fc"/><path d="M4028 2830l34 12l22-27l-34-12z" color="#3220fb"/><path d="M4062 2842l46 17l22-27l-46-17z" color="#3719fb"/><path d="M4108 2859l47 17l21-27l-46-17z" color="#3c10fa"/><path d="M4155 2876l47 18l21-27l-47-18z" color="#410ef9"/><path d="M4202 2894l48 15l21-24l-48-18z" color="#450cf8"/><path d="M4250 2909l48 16l21-24l-48-16z" color="#480bf8"/><path d="M4298 2925l49 15l20-24l-48-15z" color="#490af8"/><path d="M4347 2940l49 16l20-24l-49-16z" color="#4a0af7"/><path d="M4396 2956l50 15l19-24l-49-15z" color="#4b09f7"/><path d="M4446 2971l50 16l19-24l-50-16z" color="#4d08f7"/><path d="M3340 2670l35 10l26-20l-35-10z" color="#4c09f7"/><path d="M3375 2680l34-1l26-20l-34 1z" color="#420cf1"/><path d="M3409 2679l36 10l26-20l-36-10z" color="#3d10fa"/><path d="M3445 2689l36 21l26-25l-36-16z" color="#410ef9"/><path d="M3481 2710l36 9l26-26l-36-8z" color="#450cf8"/><path d="M3517 2719l31 7l25-26l-30-7z" color="#410ef9"/><path d="M3548 2726l14 3l25-26l-14-3z" color="#3f0ff9"/><path d="M3562 2729l13 3l25-27l-13-2z" color="#3e0ffa"/><path d="M3575 2732l14 3l25-27l-14-3z" color="#3c10fa"/><path d="M3589 2735l14 3l25-27l-14-3z" color="#3a12fa"/><path d="M3603 2738l13 3l25-27l-13-3z" color="#3915fa"/><path d="M3616 2741l14 3l25-27l-14-3z" color="#3718fb"/><path d="M3630 2744l14 3l25-27l-14-3z" color="#351bfb"/><path d="M3644 2747l14 3l25-27l-14-3z" color="#331efb"/><path d="M3658 2750l14 4l24-28l-13-3z" color="#3121fb"/><path d="M3672 2754l14 3l24-27l-14-4z" color="#3023fc"/><path d="M3686 2757l14 3l24-27l-14-3z" color="#2e26fc"/><path d="M3700 2760l14 4l24-28l-14-3z" color="#2d28fc"/><path d="M3714 2764l14 4l24-29l-14-3z" color="#2b2bfc"/><path d="M3728 2768l14 4l24-29l-14-4z" color="#2b2cfc"/><path d="M3742 2772l14 4l25-29l-15-4z" color="#2b2cfc"/><path d="M3756 2776l14 5l25-29l-14-5z" color="#2b2bfc"/><path d="M3770 2781l15 4l24-29l-14-4z" color="#2b2bfc"/><path d="M3785 2785l14 4l24-28l-14-5z" color="#2c2afc"/><path d="M3799 2789l14 5l25-28l-15-5z" color="#2c29fc"/><path d="M3813 2794l15 5l24-29l-14-4z" color="#2d28fc"/><path d="M3828 2799l14 4l24-28l-14-5z" color="#2e27fc"/><path d="M3842 2803l15 5l24-28l-15-5z" color="#2f26fc"/><path d="M3857 2808l15 5l23-28l-14-5z" color="#2f24fc"/><path d="M3872 2813l14 5l24-29l-15-4z" color="#3023fb"/><path d="M3886 2818l15 5l24-29l-15-5z" color="#3122fb"/><path d="M3901 2823l15 5l23-29l-14-5z" color="#3220fb"/><path d="M3916 2828l14 5l24-29l-15-5z" color="#331efb"/><path d="M3930 2833l15 5l24-29l-15-5z" color="#341cfb"/><path d="M3945 2838l15 5l23-29l-14-5z" color="#361afb"/><path d="M3960 2843l15 5l23-28l-15-6z" color="#3718fb"/><path d="M3975 2848l15 5l23-28l-15-5z" color="#3816fa"/><path d="M3990 2853l15 6l23-29l-15-5z" color="#3a14fa"/><path d="M4005 2859l34 12l23-29l-34-12z" color="#3c10fa"/><path d="M4039 2871l46 17l23-29l-46-17z" color="#3f0ff9"/><path d="M4085 2888l47 16l23-28l-47-17z" color="#430df9"/><path d="M4132 2904l48 15l22-25l-47-18z" color="#460bf8"/><path d="M4180 2919l48 15l22-25l-48-15z" color="#480bf8"/><path d="M4228 2934l49 16l21-25l-48-16z" color="#490af8"/><path d="M4277 2950l49 15l21-25l-49-15z" color="#4a0af7"/><path d="M4326 2965l49 16l21-25l-49-16z" color="#4b09f7"/><path d="M4375 2981l50 16l21-26l-50-15z" color="#4d08f7"/><path d="M4425 2997l51 16l20-26l-50-16z" color="#4e08f7"/><path d="M3312 2691l35 10l28-21l-35-10z" color="#4d08f7"/><path d="M3347 2701l35-1l27-21l-34 1z" color="#430bf1"/><path d="M3382 2700l35 11l28-22l-36-10z" color="#3e0ffa"/><path d="M3417 2711l37 21l27-22l-36-21z" color="#440df9"/><path d="M3454 2732l36 10l27-23l-36-9z" color="#490af8"/><path d="M3490 2742l32 9l26-25l-31-7z" color="#470bf8"/><path d="M3522 2751l13 4l27-26l-14-3z" color="#460cf8"/><path d="M3535 2755l14 3l26-26l-13-3z" color="#450cf8"/><path d="M3549 2758l14 4l26-27l-14-3z" color="#440cf9"/><path d="M3563 2762l13 3l27-27l-14-3z" color="#430df9"/><path d="M3576 2765l14 4l26-28l-13-3z" color="#420df9"/><path d="M3590 2769l14 3l26-28l-14-3z" color="#400ef9"/><path d="M3604 2772l14 3l26-28l-14-3z" color="#3f0ff9"/><path d="M3618 2775l14 4l26-29l-14-3z" color="#3e0ffa"/><path d="M3632 2779l14 3l26-28l-14-4z" color="#3d10fa"/><path d="M3646 2782l14 4l26-29l-14-3z" color="#3c10fa"/><path d="M3660 2786l14 3l26-29l-14-3z" color="#3a13fa"/><path d="M3674 2789l14 4l26-29l-14-4z" color="#3915fa"/><path d="M3688 2793l14 4l26-29l-14-4z" color="#3817fb"/><path d="M3702 2797l14 4l26-29l-14-4z" color="#3717fb"/><path d="M3716 2801l15 4l25-29l-14-4z" color="#3717fb"/><path d="M3731 2805l14 5l25-29l-14-5z" color="#3817fb"/><path d="M3745 2810l14 4l26-29l-15-4z" color="#3817fb"/><path d="M3759 2814l15 5l25-30l-14-4z" color="#3816fa"/><path d="M3774 2819l14 4l25-29l-14-5z" color="#3915fa"/><path d="M3788 2823l15 5l25-29l-15-5z" color="#3915fa"/><path d="M3803 2828l14 5l25-30l-14-4z" color="#3a14fa"/><path d="M3817 2833l15 5l25-30l-15-5z" color="#3a13fa"/><path d="M3832 2838l15 4l25-29l-15-5z" color="#3b12fa"/><path d="M3847 2842l14 5l25-29l-14-5z" color="#3c10fa"/><path d="M3861 2847l15 5l25-29l-15-5z" color="#3c10fa"/><path d="M3876 2852l15 5l25-29l-15-5z" color="#3d0ffa"/><path d="M3891 2857l15 5l24-29l-14-5z" color="#3e0ffa"/><path d="M3906 2862l14 5l25-29l-15-5z" color="#3f0ffa"/><path d="M3920 2867l15 6l25-30l-15-5z" color="#3f0ef9"/><path d="M3935 2873l15 5l25-30l-15-5z" color="#400ef9"/><path d="M3950 2878l15 5l25-30l-15-5z" color="#410ef9"/><path d="M3965 2883l15 5l25-29l-15-6z" color="#420df9"/><path d="M3980 2888l34 11l25-28l-34-12z" color="#440df9"/><path d="M4014 2899l47 15l24-26l-46-17z" color="#450cf8"/><path d="M4061 2914l48 15l23-25l-47-16z" color="#470bf8"/><path d="M4109 2929l48 15l23-25l-48-15z" color="#490af8"/><path d="M4157 2944l48 16l23-26l-48-15z" color="#4a0af8"/><path d="M4205 2960l49 16l23-26l-49-16z" color="#4b09f7"/><path d="M4254 2976l49 15l23-26l-49-15z" color="#4c09f7"/><path d="M4303 2991l50 16l22-26l-49-16z" color="#4d08f7"/><path d="M4353 3007l51 17l21-27l-50-16z" color="#4e08f7"/><path d="M4404 3024l50 16l22-27l-51-16z" color="#4f07f7"/><path d="M3283 2713l35 10l29-22l-35-10z" color="#4e08f7"/><path d="M3318 2723l35 0l29-23l-35 1z" color="#440bf1"/><path d="M3353 2723l36 10l28-22l-35-11z" color="#3e0ffa"/><path d="M3389 2733l37 21l28-22l-37-21z" color="#450cf8"/><path d="M3426 2754l37 11l27-23l-36-10z" color="#4b09f7"/><path d="M3463 2765l31 9l28-23l-32-9z" color="#4a0af7"/><path d="M3494 2774l13 4l28-23l-13-4z" color="#490af8"/><path d="M3507 2778l14 4l28-24l-14-3z" color="#490af8"/><path d="M3521 2782l14 4l28-24l-14-4z" color="#490af8"/><path d="M3535 2786l14 4l27-25l-13-3z" color="#480bf8"/><path d="M3549 2790l14 4l27-25l-14-4z" color="#470bf8"/><path d="M3563 2794l14 4l27-26l-14-3z" color="#470bf8"/><path d="M3577 2798l14 4l27-27l-14-3z" color="#460cf8"/><path d="M3591 2802l14 4l27-27l-14-4z" color="#450cf8"/><path d="M3605 2806l14 4l27-28l-14-3z" color="#440cf8"/><path d="M3619 2810l14 4l27-28l-14-4z" color="#440cf9"/><path d="M3633 2814l14 5l27-30l-14-3z" color="#430df9"/><path d="M3647 2819l14 4l27-30l-14-4z" color="#430df9"/><path d="M3661 2823l14 4l27-30l-14-4z" color="#420df9"/><path d="M3675 2827l15 4l26-30l-14-4z" color="#420df9"/><path d="M3690 2831l14 5l27-31l-15-4z" color="#420df9"/><path d="M3704 2836l14 4l27-30l-14-5z" color="#420df9"/><path d="M3718 2840l15 5l26-31l-14-4z" color="#420df9"/><path d="M3733 2845l14 4l27-30l-15-5z" color="#420df9"/><path d="M3747 2849l15 5l26-31l-14-4z" color="#420df9"/><path d="M3762 2854l15 4l26-30l-15-5z" color="#430df9"/><path d="M3777 2858l14 5l26-30l-14-5z" color="#430df9"/><path d="M3791 2863l15 4l26-29l-15-5z" color="#430df9"/><path d="M3806 2867l15 5l26-30l-15-4z" color="#430df9"/><path d="M3821 2872l14 5l26-30l-14-5z" color="#440cf9"/><path d="M3835 2877l15 4l26-29l-15-5z" color="#440cf9"/><path d="M3850 2881l15 5l26-29l-15-5z" color="#450cf8"/><path d="M3865 2886l15 5l26-29l-15-5z" color="#450cf8"/><path d="M3880 2891l15 4l25-28l-14-5z" color="#450cf8"/><path d="M3895 2895l15 5l25-27l-15-6z" color="#460cf8"/><path d="M3910 2900l15 5l25-27l-15-5z" color="#460bf8"/><path d="M3925 2905l15 5l25-27l-15-5z" color="#470bf8"/><path d="M3940 2910l15 4l25-26l-15-5z" color="#470bf8"/><path d="M3955 2914l34 11l25-26l-34-11z" color="#480bf8"/><path d="M3989 2925l48 15l24-26l-47-15z" color="#490af8"/><path d="M4037 2940l47 16l25-27l-48-15z" color="#490af8"/><path d="M4084 2956l49 15l24-27l-48-15z" color="#4a0af7"/><path d="M4133 2971l48 16l24-27l-48-16z" color="#4b09f7"/><path d="M4181 2987l49 16l24-27l-49-16z" color="#4c09f7"/><path d="M4230 3003l50 16l23-28l-49-15z" color="#4d08f7"/><path d="M4280 3019l50 16l23-28l-50-16z" color="#4e08f7"/><path d="M4330 3035l51 17l23-28l-51-17z" color="#4f07f7"/><path d="M4381 3052l51 16l22-28l-50-16z" color="#5007f6"/><path d="M3253 2736l35 10l30-23l-35-10z" color="#4f07f6"/><path d="M3288 2746l35-1l30-22l-35 0z" color="#450bf0"/><path d="M3323 2745l36 11l30-23l-36-10z" color="#3f0ff9"/><path d="M3359 2756l38 22l29-24l-37-21z" color="#460cf8"/><path d="M3397 2778l36 11l30-24l-37-11z" color="#4c09f7"/><path d="M3433 2789l32 9l29-24l-31-9z" color="#4c09f7"/><path d="M3465 2798l14 4l28-24l-13-4z" color="#4b09f7"/><path d="M3479 2802l13 4l29-24l-14-4z" color="#4b09f7"/><path d="M3492 2806l14 5l29-25l-14-4z" color="#4a09f7"/><path d="M3506 2811l14 4l29-25l-14-4z" color="#4a0af7"/><path d="M3520 2815l14 4l29-25l-14-4z" color="#4a0af7"/><path d="M3534 2819l14 4l29-25l-14-4z" color="#4a0af8"/><path d="M3548 2823l14 4l29-25l-14-4z" color="#490af8"/><path d="M3562 2827l14 4l29-25l-14-4z" color="#490af8"/><path d="M3576 2831l14 5l29-26l-14-4z" color="#490af8"/><path d="M3590 2836l15 4l28-26l-14-4z" color="#480af8"/><path d="M3605 2840l14 4l28-25l-14-5z" color="#480af8"/><path d="M3619 2844l14 4l28-25l-14-4z" color="#480bf8"/><path d="M3633 2848l14 5l28-26l-14-4z" color="#480bf8"/><path d="M3647 2853l15 4l28-26l-15-4z" color="#470bf8"/><path d="M3662 2857l14 5l28-26l-14-5z" color="#480bf8"/><path d="M3676 2862l15 4l27-26l-14-4z" color="#480bf8"/><path d="M3691 2866l14 5l28-26l-15-5z" color="#480bf8"/><path d="M3705 2871l15 4l27-26l-14-4z" color="#480bf8"/><path d="M3720 2875l14 5l28-26l-15-5z" color="#480bf8"/><path d="M3734 2880l15 4l28-26l-15-4z" color="#480bf8"/><path d="M3749 2884l15 5l27-26l-14-5z" color="#480bf8"/><path d="M3764 2889l15 5l27-27l-15-4z" color="#480af8"/><path d="M3779 2894l14 4l28-26l-15-5z" color="#480af8"/><path d="M3793 2898l15 5l27-26l-14-5z" color="#480af8"/><path d="M3808 2903l15 5l27-27l-15-4z" color="#480af8"/><path d="M3823 2908l15 5l27-27l-15-5z" color="#490af8"/><path d="M3838 2913l15 4l27-26l-15-5z" color="#490af8"/><path d="M3853 2917l15 5l27-27l-15-4z" color="#490af8"/><path d="M3868 2922l15 5l27-27l-15-5z" color="#490af8"/><path d="M3883 2927l15 5l27-27l-15-5z" color="#490af8"/><path d="M3898 2932l16 5l26-27l-15-5z" color="#490af8"/><path d="M3914 2937l15 5l26-28l-15-4z" color="#4a0af8"/><path d="M3929 2942l34 11l26-28l-34-11z" color="#4a0af7"/><path d="M3963 2953l48 15l26-28l-48-15z" color="#4a09f7"/><path d="M4011 2968l48 15l25-27l-47-16z" color="#4b09f7"/><path d="M4059 2983l48 16l26-28l-49-15z" color="#4c09f7"/><path d="M4107 2999l49 16l25-28l-48-16z" color="#4d08f7"/><path d="M4156 3015l50 16l24-28l-49-16z" color="#4e08f7"/><path d="M4206 3031l50 17l24-29l-50-16z" color="#4f08f7"/><path d="M4256 3048l50 16l24-29l-50-16z" color="#5007f6"/><path d="M4306 3064l51 17l24-29l-51-17z" color="#5107f6"/><path d="M4357 3081l52 16l23-29l-51-16z" color="#5106f6"/><path d="M3222 2760l35 9l31-23l-35-10z" color="#5007f6"/><path d="M3257 2769l35 0l31-24l-35 1z" color="#460af0"/><path d="M3292 2769l37 11l30-24l-36-11z" color="#400ef9"/><path d="M3329 2780l37 22l31-24l-38-22z" color="#470bf8"/><path d="M3366 2802l37 12l30-25l-36-11z" color="#4d08f7"/><path d="M3403 2814l32 10l30-26l-32-9z" color="#4d08f7"/><path d="M3435 2824l13 4l31-26l-14-4z" color="#4d08f7"/><path d="M3448 2828l14 4l30-26l-13-4z" color="#4c09f7"/><path d="M3462 2832l14 4l30-25l-14-5z" color="#4c09f7"/><path d="M3476 2836l14 4l30-25l-14-4z" color="#4c09f7"/><path d="M3490 2840l14 5l30-26l-14-4z" color="#4c09f7"/><path d="M3504 2845l14 4l30-26l-14-4z" color="#4b09f7"/><path d="M3518 2849l14 4l30-26l-14-4z" color="#4b09f7"/><path d="M3532 2853l15 5l29-27l-14-4z" color="#4b09f7"/><path d="M3547 2858l14 4l29-26l-14-5z" color="#4b09f7"/><path d="M3561 2862l14 4l30-26l-15-4z" color="#4a09f7"/><path d="M3575 2866l14 5l30-27l-14-4z" color="#4a0af7"/><path d="M3589 2871l15 4l29-27l-14-4z" color="#4a0af7"/><path d="M3604 2875l14 4l29-26l-14-5z" color="#4a0af7"/><path d="M3618 2879l15 5l29-27l-15-4z" color="#4a0af7"/><path d="M3633 2884l14 4l29-26l-14-5z" color="#4a0af7"/><path d="M3647 2888l15 5l29-27l-15-4z" color="#4a0af7"/><path d="M3662 2893l14 5l29-27l-14-5z" color="#4a0af7"/><path d="M3676 2898l15 4l29-27l-15-4z" color="#4a0af7"/><path d="M3691 2902l15 5l28-27l-14-5z" color="#4a0af7"/><path d="M3706 2907l14 5l29-28l-15-4z" color="#4a0af7"/><path d="M3720 2912l15 4l29-27l-15-5z" color="#4a0af7"/><path d="M3735 2916l15 5l29-27l-15-5z" color="#4a0af7"/><path d="M3750 2921l15 5l28-28l-14-4z" color="#4a0af7"/><path d="M3765 2926l15 5l28-28l-15-5z" color="#4a0af7"/><path d="M3780 2931l15 4l28-27l-15-5z" color="#4a09f7"/><path d="M3795 2935l15 5l28-27l-15-5z" color="#4b09f7"/><path d="M3810 2940l15 5l28-28l-15-4z" color="#4b09f7"/><path d="M3825 2945l15 5l28-28l-15-5z" color="#4b09f7"/><path d="M3840 2950l15 5l28-28l-15-5z" color="#4b09f7"/><path d="M3855 2955l16 5l27-28l-15-5z" color="#4b09f7"/><path d="M3871 2960l15 5l28-28l-16-5z" color="#4b09f7"/><path d="M3886 2965l15 5l28-28l-15-5z" color="#4b09f7"/><path d="M3901 2970l35 11l27-28l-34-11z" color="#4c09f7"/><path d="M3936 2981l48 15l27-28l-48-15z" color="#4c09f7"/><path d="M3984 2996l48 16l27-29l-48-15z" color="#4d08f7"/><path d="M4032 3012l49 16l26-29l-48-16z" color="#4e08f7"/><path d="M4081 3028l49 16l26-29l-49-16z" color="#4e08f7"/><path d="M4130 3044l50 17l26-30l-50-16z" color="#4f07f7"/><path d="M4180 3061l50 16l26-29l-50-17z" color="#5007f6"/><path d="M4230 3077l51 17l25-30l-50-16z" color="#5106f6"/><path d="M4281 3094l52 16l24-29l-51-17z" color="#5206f6"/><path d="M4333 3110l52 17l24-30l-52-16z" color="#5206f6"/><path d="M3189 2784l36 9l32-24l-35-9z" color="#5007f5"/><path d="M3225 2793l35 1l32-25l-35 0z" color="#460af0"/><path d="M3260 2794l36 11l33-25l-37-11z" color="#410ef9"/><path d="M3296 2805l38 22l32-25l-37-22z" color="#470bf8"/><path d="M3334 2827l37 14l32-27l-37-12z" color="#4e08f7"/><path d="M3371 2841l32 9l32-26l-32-10z" color="#4f07f7"/><path d="M3403 2850l14 5l31-27l-13-4z" color="#4f08f7"/><path d="M3417 2855l14 4l31-27l-14-4z" color="#4e08f7"/><path d="M3431 2859l14 4l31-27l-14-4z" color="#4e08f7"/><path d="M3445 2863l14 4l31-27l-14-4z" color="#4e08f7"/><path d="M3459 2867l14 5l31-27l-14-5z" color="#4e08f7"/><path d="M3473 2872l14 4l31-27l-14-4z" color="#4d08f7"/><path d="M3487 2876l15 4l30-27l-14-4z" color="#4d08f7"/><path d="M3502 2880l14 5l31-27l-15-5z" color="#4d08f7"/><path d="M3516 2885l14 4l31-27l-14-4z" color="#4d08f7"/><path d="M3530 2889l14 5l31-28l-14-4z" color="#4c09f7"/><path d="M3544 2894l15 4l30-27l-14-5z" color="#4c09f7"/><path d="M3559 2898l14 5l31-28l-15-4z" color="#4c09f7"/><path d="M3573 2903l15 4l30-28l-14-4z" color="#4c09f7"/><path d="M3588 2907l14 5l31-28l-15-5z" color="#4c09f7"/><path d="M3602 2912l15 4l30-28l-14-4z" color="#4c09f7"/><path d="M3617 2916l15 5l30-28l-15-5z" color="#4c09f7"/><path d="M3632 2921l14 5l30-28l-14-5z" color="#4c09f7"/><path d="M3646 2926l15 4l30-28l-15-4z" color="#4c09f7"/><path d="M3661 2930l15 5l30-28l-15-5z" color="#4c09f7"/><path d="M3676 2935l15 5l29-28l-14-5z" color="#4c09f7"/><path d="M3691 2940l15 5l29-29l-15-4z" color="#4c09f7"/><path d="M3706 2945l14 5l30-29l-15-5z" color="#4c09f7"/><path d="M3720 2950l15 4l30-28l-15-5z" color="#4c09f7"/><path d="M3735 2954l15 5l30-28l-15-5z" color="#4c09f7"/><path d="M3750 2959l16 5l29-29l-15-4z" color="#4c09f7"/><path d="M3766 2964l15 5l29-29l-15-5z" color="#4c09f7"/><path d="M3781 2969l15 5l29-29l-15-5z" color="#4d08f7"/><path d="M3796 2974l15 5l29-29l-15-5z" color="#4d08f7"/><path d="M3811 2979l15 5l29-29l-15-5z" color="#4d08f7"/><path d="M3826 2984l16 5l29-29l-16-5z" color="#4d08f7"/><path d="M3842 2989l15 5l29-29l-15-5z" color="#4d08f7"/><path d="M3857 2994l16 5l28-29l-15-5z" color="#4d08f7"/><path d="M3873 2999l34 12l29-30l-35-11z" color="#4e08f7"/><path d="M3907 3011l49 15l28-30l-48-15z" color="#4e08f7"/><path d="M3956 3026l48 16l28-30l-48-16z" color="#4f08f7"/><path d="M4004 3042l49 17l28-31l-49-16z" color="#4f07f6"/><path d="M4053 3059l50 16l27-31l-49-16z" color="#5007f6"/><path d="M4103 3075l50 17l27-31l-50-17z" color="#5107f6"/><path d="M4153 3092l51 16l26-31l-50-16z" color="#5106f6"/><path d="M4204 3108l51 16l26-30l-51-17z" color="#5206f6"/><path d="M4255 3124l52 17l26-31l-52-16z" color="#5206f6"/><path d="M4307 3141l53 17l25-31l-52-17z" color="#5206f6"/><path d="M3155 2809l36 10l34-26l-36-9z" color="#5106f5"/><path d="M3191 2819l35 1l34-26l-35-1z" color="#470af1"/><path d="M3226 2820l37 12l33-27l-36-11z" color="#420df9"/><path d="M3263 2832l38 21l33-26l-38-22z" color="#480bf8"/><path d="M3301 2853l37 15l33-27l-37-14z" color="#4f07f6"/><path d="M3338 2868l32 10l33-28l-32-9z" color="#5107f6"/><path d="M3370 2878l14 4l33-27l-14-5z" color="#5007f6"/><path d="M3384 2882l14 5l33-28l-14-4z" color="#5007f6"/><path d="M3398 2887l15 4l32-28l-14-4z" color="#5007f6"/><path d="M3413 2891l14 4l32-28l-14-4z" color="#5007f6"/><path d="M3427 2895l14 5l32-28l-14-5z" color="#4f07f6"/><path d="M3441 2900l14 4l32-28l-14-4z" color="#4f07f6"/><path d="M3455 2904l14 5l33-29l-15-4z" color="#4f07f7"/><path d="M3469 2909l15 4l32-28l-14-5z" color="#4f07f7"/><path d="M3484 2913l14 5l32-29l-14-4z" color="#4f08f7"/><path d="M3498 2918l15 4l31-28l-14-5z" color="#4e08f7"/><path d="M3513 2922l14 5l32-29l-15-4z" color="#4e08f7"/><path d="M3527 2927l15 4l31-28l-14-5z" color="#4e08f7"/><path d="M3542 2931l14 5l32-29l-15-4z" color="#4e08f7"/><path d="M3556 2936l15 5l31-29l-14-5z" color="#4e08f7"/><path d="M3571 2941l14 4l32-29l-15-4z" color="#4e08f7"/><path d="M3585 2945l15 5l32-29l-15-5z" color="#4e08f7"/><path d="M3600 2950l15 5l31-29l-14-5z" color="#4e08f7"/><path d="M3615 2955l15 5l31-30l-15-4z" color="#4e08f7"/><path d="M3630 2960l15 5l31-30l-15-5z" color="#4e08f7"/><path d="M3645 2965l15 5l31-30l-15-5z" color="#4e08f7"/><path d="M3660 2970l15 4l31-29l-15-5z" color="#4e08f7"/><path d="M3675 2974l15 5l30-29l-14-5z" color="#4e08f7"/><path d="M3690 2979l15 5l30-30l-15-4z" color="#4e08f7"/><path d="M3705 2984l15 5l30-30l-15-5z" color="#4e08f7"/><path d="M3720 2989l15 5l31-30l-16-5z" color="#4e08f7"/><path d="M3735 2994l15 5l31-30l-15-5z" color="#4e08f7"/><path d="M3750 2999l15 5l31-30l-15-5z" color="#4f08f7"/><path d="M3765 3004l16 5l30-30l-15-5z" color="#4f07f7"/><path d="M3781 3009l15 5l30-30l-15-5z" color="#4f07f7"/><path d="M3796 3014l16 5l30-30l-16-5z" color="#4f07f7"/><path d="M3812 3019l15 6l30-31l-15-5z" color="#4f07f7"/><path d="M3827 3025l16 5l30-31l-16-5z" color="#4f07f7"/><path d="M3843 3030l35 11l29-30l-34-12z" color="#5007f6"/><path d="M3878 3041l48 17l30-32l-49-15z" color="#5007f6"/><path d="M3926 3058l49 16l29-32l-48-16z" color="#5107f6"/><path d="M3975 3074l50 16l28-31l-49-17z" color="#5106f6"/><path d="M4025 3090l50 16l28-31l-50-16z" color="#5106f6"/><path d="M4075 3106l50 17l28-31l-50-17z" color="#5206f6"/><path d="M4125 3123l52 16l27-31l-51-16z" color="#5206f6"/><path d="M4177 3139l51 17l27-32l-51-16z" color="#5206f6"/><path d="M4228 3156l53 17l26-32l-52-17z" color="#5206f6"/><path d="M4281 3173l52 17l27-32l-53-17z" color="#5206f6"/><path d="M3120 2834l36 11l35-26l-36-10z" color="#5106f5"/><path d="M3156 2845l35 2l35-27l-35-1z" color="#480af1"/><path d="M3191 2847l37 12l35-27l-37-12z" color="#430df9"/><path d="M3228 2859l38 21l35-27l-38-21z" color="#480af8"/><path d="M3266 2880l38 15l34-27l-37-15z" color="#5007f6"/><path d="M3304 2895l32 10l34-27l-32-10z" color="#5206f6"/><path d="M3336 2905l14 5l34-28l-14-4z" color="#5206f6"/><path d="M3350 2910l14 5l34-28l-14-5z" color="#5206f6"/><path d="M3364 2915l15 4l34-28l-15-4z" color="#5106f6"/><path d="M3379 2919l14 5l34-29l-14-4z" color="#5106f6"/><path d="M3393 2924l14 5l34-29l-14-5z" color="#5106f6"/><path d="M3407 2929l15 4l33-29l-14-4z" color="#5106f6"/><path d="M3422 2933l14 5l33-29l-14-5z" color="#5106f6"/><path d="M3436 2938l14 5l34-30l-15-4z" color="#5107f6"/><path d="M3450 2943l15 4l33-29l-14-5z" color="#5107f6"/><path d="M3465 2947l14 5l34-30l-15-4z" color="#5107f6"/><path d="M3479 2952l15 5l33-30l-14-5z" color="#5007f6"/><path d="M3494 2957l14 4l34-30l-15-4z" color="#5007f6"/><path d="M3508 2961l15 5l33-30l-14-5z" color="#5007f6"/><path d="M3523 2966l15 5l33-30l-15-5z" color="#5007f6"/><path d="M3538 2971l15 5l32-31l-14-4z" color="#5007f6"/><path d="M3553 2976l14 5l33-31l-15-5z" color="#5007f6"/><path d="M3567 2981l15 4l33-30l-15-5z" color="#5007f6"/><path d="M3582 2985l15 5l33-30l-15-5z" color="#5007f6"/><path d="M3597 2990l15 5l33-30l-15-5z" color="#5007f6"/><path d="M3612 2995l15 5l33-30l-15-5z" color="#5007f6"/><path d="M3627 3000l15 5l33-31l-15-4z" color="#5007f6"/><path d="M3642 3005l15 5l33-31l-15-5z" color="#5007f6"/><path d="M3657 3010l16 5l32-31l-15-5z" color="#5007f6"/><path d="M3673 3015l15 5l32-31l-15-5z" color="#5007f6"/><path d="M3688 3020l15 5l32-31l-15-5z" color="#5007f6"/><path d="M3703 3025l15 6l32-32l-15-5z" color="#5107f6"/><path d="M3718 3031l16 5l31-32l-15-5z" color="#5107f6"/><path d="M3734 3036l15 5l32-32l-16-5z" color="#5107f6"/><path d="M3749 3041l16 5l31-32l-15-5z" color="#5107f6"/><path d="M3765 3046l15 5l32-32l-16-5z" color="#5106f6"/><path d="M3780 3051l16 5l31-31l-15-6z" color="#5106f6"/><path d="M3796 3056l16 5l31-31l-16-5z" color="#5106f6"/><path d="M3812 3061l35 12l31-32l-35-11z" color="#5106f6"/><path d="M3847 3073l49 16l30-31l-48-17z" color="#5106f6"/><path d="M3896 3089l49 16l30-31l-49-16z" color="#5206f6"/><path d="M3945 3105l50 17l30-32l-50-16z" color="#5206f6"/><path d="M3995 3122l50 16l30-32l-50-16z" color="#5206f6"/><path d="M4045 3138l51 17l29-32l-50-17z" color="#5206f6"/><path d="M4096 3155l52 17l29-33l-52-16z" color="#5206f6"/><path d="M4148 3172l52 17l28-33l-51-17z" color="#5206f6"/><path d="M4200 3189l53 17l28-33l-53-17z" color="#5206f6"/><path d="M4253 3206l53 18l27-34l-52-17z" color="#5206f6"/><path d="M3083 2861l36 11l37-27l-36-11z" color="#5106f5"/><path d="M3119 2872l36 3l36-28l-35-2z" color="#4809f2"/><path d="M3155 2875l37 12l36-28l-37-12z" color="#440cf9"/><path d="M3192 2887l38 21l36-28l-38-21z" color="#490af8"/><path d="M3230 2908l38 15l36-28l-38-15z" color="#5007f6"/><path d="M3268 2923l33 11l35-29l-32-10z" color="#5206f6"/><path d="M3301 2934l14 4l35-28l-14-5z" color="#5206f6"/><path d="M3315 2938l14 5l35-28l-14-5z" color="#5206f6"/><path d="M3329 2943l14 5l36-29l-15-4z" color="#5206f6"/><path d="M3343 2948l15 5l35-29l-14-5z" color="#5206f6"/><path d="M3358 2953l14 5l35-29l-14-5z" color="#5206f6"/><path d="M3372 2958l14 4l36-29l-15-4z" color="#5206f6"/><path d="M3386 2962l15 5l35-29l-14-5z" color="#5206f6"/><path d="M3401 2967l14 5l35-29l-14-5z" color="#5206f6"/><path d="M3415 2972l15 5l35-30l-15-4z" color="#5206f6"/><path d="M3430 2977l15 5l34-30l-14-5z" color="#5206f6"/><path d="M3445 2982l14 5l35-30l-15-5z" color="#5206f6"/><path d="M3459 2987l15 4l34-30l-14-4z" color="#5206f6"/><path d="M3474 2991l15 5l34-30l-15-5z" color="#5206f6"/><path d="M3489 2996l15 5l34-30l-15-5z" color="#5106f6"/><path d="M3504 3001l14 5l35-30l-15-5z" color="#5106f6"/><path d="M3518 3006l15 5l34-30l-14-5z" color="#5206f6"/><path d="M3533 3011l15 5l34-31l-15-4z" color="#5206f6"/><path d="M3548 3016l15 5l34-31l-15-5z" color="#5206f6"/><path d="M3563 3021l15 5l34-31l-15-5z" color="#5206f6"/><path d="M3578 3026l16 5l33-31l-15-5z" color="#5206f6"/><path d="M3594 3031l15 5l33-31l-15-5z" color="#5206f6"/><path d="M3609 3036l15 5l33-31l-15-5z" color="#5206f6"/><path d="M3624 3041l15 5l34-31l-16-5z" color="#5206f6"/><path d="M3639 3046l16 6l33-32l-15-5z" color="#5206f6"/><path d="M3655 3052l15 5l33-32l-15-5z" color="#5206f6"/><path d="M3670 3057l15 5l33-31l-15-6z" color="#5206f6"/><path d="M3685 3062l16 5l33-31l-16-5z" color="#5206f6"/><path d="M3701 3067l15 5l33-31l-15-5z" color="#5206f6"/><path d="M3716 3072l16 5l33-31l-16-5z" color="#5206f6"/><path d="M3732 3077l16 5l32-31l-15-5z" color="#5206f6"/><path d="M3748 3082l15 6l33-32l-16-5z" color="#5206f6"/><path d="M3763 3088l16 5l33-32l-16-5z" color="#5206f6"/><path d="M3779 3093l36 12l32-32l-35-12z" color="#5206f6"/><path d="M3815 3105l49 16l32-32l-49-16z" color="#5206f6"/><path d="M3864 3121l50 17l31-33l-49-16z" color="#5206f6"/><path d="M3914 3138l50 16l31-32l-50-17z" color="#5206f6"/><path d="M3964 3154l51 17l30-33l-50-16z" color="#5206f6"/><path d="M4015 3171l51 17l30-33l-51-17z" color="#5206f6"/><path d="M4066 3188l52 18l30-34l-52-17z" color="#5206f6"/><path d="M4118 3206l53 17l29-34l-52-17z" color="#5206f6"/><path d="M4171 3223l53 18l29-35l-53-17z" color="#5206f6"/><path d="M4224 3241l53 18l29-35l-53-18z" color="#5206f6"/><path d="M3044 2889l37 11l38-28l-36-11z" color="#5106f5"/><path d="M3081 2900l36 4l38-29l-36-3z" color="#4909f2"/><path d="M3117 2904l37 13l38-30l-37-12z" color="#450cf8"/><path d="M3154 2917l39 20l37-29l-38-21z" color="#4a0af8"/><path d="M3193 2937l38 15l37-29l-38-15z" color="#5007f6"/><path d="M3231 2952l33 11l37-29l-33-11z" color="#5206f6"/><path d="M3264 2963l14 5l37-30l-14-4z" color="#5206f6"/><path d="M3278 2968l14 5l37-30l-14-5z" color="#5206f6"/><path d="M3292 2973l15 5l36-30l-14-5z" color="#5206f6"/><path d="M3307 2978l14 5l37-30l-15-5z" color="#5206f6"/><path d="M3321 2983l14 4l37-29l-14-5z" color="#5206f6"/><path d="M3335 2987l15 5l36-30l-14-4z" color="#5206f6"/><path d="M3350 2992l15 5l36-30l-15-5z" color="#5206f6"/><path d="M3365 2997l14 5l36-30l-14-5z" color="#5206f6"/><path d="M3379 3002l15 5l36-30l-15-5z" color="#5206f6"/><path d="M3394 3007l15 5l36-30l-15-5z" color="#5206f6"/><path d="M3409 3012l14 5l36-30l-14-5z" color="#5206f6"/><path d="M3423 3017l15 5l36-31l-15-4z" color="#5206f6"/><path d="M3438 3022l15 5l36-31l-15-5z" color="#5206f6"/><path d="M3453 3027l15 5l36-31l-15-5z" color="#5206f6"/><path d="M3468 3032l15 5l35-31l-14-5z" color="#5206f6"/><path d="M3483 3037l15 5l35-31l-15-5z" color="#5206f6"/><path d="M3498 3042l15 5l35-31l-15-5z" color="#5206f6"/><path d="M3513 3047l15 5l35-31l-15-5z" color="#5206f6"/><path d="M3528 3052l15 6l35-32l-15-5z" color="#5206f6"/><path d="M3543 3058l15 5l36-32l-16-5z" color="#5206f6"/><path d="M3558 3063l16 5l35-32l-15-5z" color="#5206f6"/><path d="M3574 3068l15 5l35-32l-15-5z" color="#5206f6"/><path d="M3589 3073l15 5l35-32l-15-5z" color="#5206f6"/><path d="M3604 3078l16 5l35-31l-16-6z" color="#5206f6"/><path d="M3620 3083l15 6l35-32l-15-5z" color="#5206f6"/><path d="M3635 3089l16 5l34-32l-15-5z" color="#5206f6"/><path d="M3651 3094l15 5l35-32l-16-5z" color="#5206f6"/><path d="M3666 3099l16 6l34-33l-15-5z" color="#5206f6"/><path d="M3682 3105l16 5l34-33l-16-5z" color="#5206f6"/><path d="M3698 3110l16 5l34-33l-16-5z" color="#5206f6"/><path d="M3714 3115l15 5l34-32l-15-6z" color="#5206f6"/><path d="M3729 3120l16 6l34-33l-16-5z" color="#5206f6"/><path d="M3745 3126l36 12l34-33l-36-12z" color="#5206f6"/><path d="M3781 3138l50 17l33-34l-49-16z" color="#5206f6"/><path d="M3831 3155l50 17l33-34l-50-17z" color="#5206f6"/><path d="M3881 3172l50 17l33-35l-50-16z" color="#5206f6"/><path d="M3931 3189l52 17l32-35l-51-17z" color="#5206f6"/><path d="M3983 3206l51 17l32-35l-51-17z" color="#5206f6"/><path d="M4034 3223l53 18l31-35l-52-18z" color="#5206f6"/><path d="M4087 3241l53 18l31-36l-53-17z" color="#5206f6"/><path d="M4140 3259l53 18l31-36l-53-18z" color="#5206f6"/><path d="M4193 3277l54 18l30-36l-53-18z" color="#5206f6"/><path d="M3005 2918l36 12l40-30l-37-11z" color="#5106f5"/><path d="M3041 2930l37 5l39-31l-36-4z" color="#4a09f2"/><path d="M3078 2935l37 12l39-30l-37-13z" color="#460bf8"/><path d="M3115 2947l39 20l39-30l-39-20z" color="#4a09f7"/><path d="M3154 2967l38 16l39-31l-38-15z" color="#5007f6"/><path d="M3192 2983l33 11l39-31l-33-11z" color="#5206f6"/><path d="M3225 2994l14 5l39-31l-14-5z" color="#5206f6"/><path d="M3239 2999l15 5l38-31l-14-5z" color="#5206f6"/><path d="M3254 3004l14 5l39-31l-15-5z" color="#5206f6"/><path d="M3268 3009l15 5l38-31l-14-5z" color="#5206f6"/><path d="M3283 3014l14 5l38-32l-14-4z" color="#5206f6"/><path d="M3297 3019l15 5l38-32l-15-5z" color="#5206f6"/><path d="M3312 3024l15 5l38-32l-15-5z" color="#5206f6"/><path d="M3327 3029l14 5l38-32l-14-5z" color="#5206f6"/><path d="M3341 3034l15 5l38-32l-15-5z" color="#5206f6"/><path d="M3356 3039l15 5l38-32l-15-5z" color="#5206f6"/><path d="M3371 3044l15 5l37-32l-14-5z" color="#5206f6"/><path d="M3386 3049l15 5l37-32l-15-5z" color="#5206f6"/><path d="M3401 3054l15 5l37-32l-15-5z" color="#5206f6"/><path d="M3416 3059l15 5l37-32l-15-5z" color="#5206f6"/><path d="M3431 3064l15 5l37-32l-15-5z" color="#5206f6"/><path d="M3446 3069l15 6l37-33l-15-5z" color="#5206f6"/><path d="M3461 3075l15 5l37-33l-15-5z" color="#5206f6"/><path d="M3476 3080l15 5l37-33l-15-5z" color="#5206f6"/><path d="M3491 3085l16 5l36-32l-15-6z" color="#5206f6"/><path d="M3507 3090l15 6l36-33l-15-5z" color="#5206f6"/><path d="M3522 3096l15 5l37-33l-16-5z" color="#5206f6"/><path d="M3537 3101l16 5l36-33l-15-5z" color="#5206f6"/><path d="M3553 3106l15 5l36-33l-15-5z" color="#5206f6"/><path d="M3568 3111l16 6l36-34l-16-5z" color="#5206f6"/><path d="M3584 3117l15 5l36-33l-15-6z" color="#5206f6"/><path d="M3599 3122l16 5l36-33l-16-5z" color="#5206f6"/><path d="M3615 3127l16 6l35-34l-15-5z" color="#5206f6"/><path d="M3631 3133l15 5l36-33l-16-6z" color="#5206f6"/><path d="M3646 3138l16 6l36-34l-16-5z" color="#5206f6"/><path d="M3662 3144l16 5l36-34l-16-5z" color="#5206f6"/><path d="M3678 3149l16 6l35-35l-15-5z" color="#5206f6"/><path d="M3694 3155l16 5l35-34l-16-6z" color="#5206f6"/><path d="M3710 3160l36 12l35-34l-36-12z" color="#5206f6"/><path d="M3746 3172l50 18l35-35l-50-17z" color="#5206f6"/><path d="M3796 3190l51 17l34-35l-50-17z" color="#5206f6"/><path d="M3847 3207l51 17l33-35l-50-17z" color="#5206f6"/><path d="M3898 3224l51 18l34-36l-52-17z" color="#5206f6"/><path d="M3949 3242l52 18l33-37l-51-17z" color="#5206f6"/><path d="M4001 3260l53 18l33-37l-53-18z" color="#5206f6"/><path d="M4054 3278l54 18l32-37l-53-18z" color="#5206f6"/><path d="M4108 3296l54 19l31-38l-53-18z" color="#5206f6"/><path d="M4162 3315l54 19l31-39l-54-18z" color="#5206f6"/><path d="M2963 2949l37 11l41-30l-36-12z" color="#5106f5"/><path d="M3000 2960l37 6l41-31l-37-5z" color="#4b09f3"/><path d="M3037 2966l37 13l41-32l-37-12z" color="#470bf8"/><path d="M3074 2979l39 20l41-32l-39-20z" color="#4b09f7"/><path d="M3113 2999l39 15l40-31l-38-16z" color="#5107f6"/><path d="M3152 3014l33 12l40-32l-33-11z" color="#5206f6"/><path d="M3185 3026l14 5l40-32l-14-5z" color="#5206f6"/><path d="M3199 3031l15 5l40-32l-15-5z" color="#5206f6"/><path d="M3214 3036l14 5l40-32l-14-5z" color="#5206f6"/><path d="M3228 3041l15 5l40-32l-15-5z" color="#5206f6"/><path d="M3243 3046l15 5l39-32l-14-5z" color="#5206f6"/><path d="M3258 3051l14 5l40-32l-15-5z" color="#5206f6"/><path d="M3272 3056l15 5l40-32l-15-5z" color="#5206f6"/><path d="M3287 3061l15 6l39-33l-14-5z" color="#5206f6"/><path d="M3302 3067l15 5l39-33l-15-5z" color="#5206f6"/><path d="M3317 3072l15 5l39-33l-15-5z" color="#5206f6"/><path d="M3332 3077l15 5l39-33l-15-5z" color="#5206f6"/><path d="M3347 3082l15 5l39-33l-15-5z" color="#5206f6"/><path d="M3362 3087l15 6l39-34l-15-5z" color="#5206f6"/><path d="M3377 3093l15 5l39-34l-15-5z" color="#5206f6"/><path d="M3392 3098l15 5l39-34l-15-5z" color="#5206f6"/><path d="M3407 3103l15 5l39-33l-15-6z" color="#5206f6"/><path d="M3422 3108l16 6l38-34l-15-5z" color="#5206f6"/><path d="M3438 3114l15 5l38-34l-15-5z" color="#5206f6"/><path d="M3453 3119l15 5l39-34l-16-5z" color="#5206f6"/><path d="M3468 3124l16 6l38-34l-15-6z" color="#5206f6"/><path d="M3484 3130l15 5l38-34l-15-5z" color="#5206f6"/><path d="M3499 3135l16 6l38-35l-16-5z" color="#5206f6"/><path d="M3515 3141l15 5l38-35l-15-5z" color="#5206f6"/><path d="M3530 3146l16 5l38-34l-16-6z" color="#5206f6"/><path d="M3546 3151l16 6l37-35l-15-5z" color="#5206f6"/><path d="M3562 3157l16 5l37-35l-16-5z" color="#5206f6"/><path d="M3578 3162l15 6l38-35l-16-6z" color="#5206f6"/><path d="M3593 3168l16 5l37-35l-15-5z" color="#5206f6"/><path d="M3609 3173l16 6l37-35l-16-6z" color="#5206f6"/><path d="M3625 3179l16 6l37-36l-16-5z" color="#5206f6"/><path d="M3641 3185l16 5l37-35l-16-6z" color="#5206f6"/><path d="M3657 3190l16 6l37-36l-16-5z" color="#5206f6"/><path d="M3673 3196l37 12l36-36l-36-12z" color="#5206f6"/><path d="M3710 3208l50 18l36-36l-50-18z" color="#5206f6"/><path d="M3760 3226l51 18l36-37l-51-17z" color="#5206f6"/><path d="M3811 3244l51 18l36-38l-51-17z" color="#5206f6"/><path d="M3862 3262l53 18l34-38l-51-18z" color="#5206f6"/><path d="M3915 3280l52 18l34-38l-52-18z" color="#5206f6"/><path d="M3967 3298l53 19l34-39l-53-18z" color="#5206f6"/><path d="M4020 3317l54 18l34-39l-54-18z" color="#5206f6"/><path d="M4074 3335l55 19l33-39l-54-19z" color="#5206f6"/><path d="M4129 3354l55 19l32-39l-54-19z" color="#5206f6"/><path d="M2920 2980l37 12l43-32l-37-11z" color="#5106f6"/><path d="M2957 2992l37 7l43-33l-37-6z" color="#4b08f3"/><path d="M2994 2999l38 13l42-33l-37-13z" color="#480af8"/><path d="M3032 3012l39 20l42-33l-39-20z" color="#4c09f7"/><path d="M3071 3032l39 15l42-33l-39-15z" color="#5107f6"/><path d="M3110 3047l33 12l42-33l-33-12z" color="#5206f6"/><path d="M3143 3059l15 5l41-33l-14-5z" color="#5206f6"/><path d="M3158 3064l14 5l42-33l-15-5z" color="#5206f6"/><path d="M3172 3069l15 5l41-33l-14-5z" color="#5206f6"/><path d="M3187 3074l15 6l41-34l-15-5z" color="#5206f6"/><path d="M3202 3080l14 5l42-34l-15-5z" color="#5206f6"/><path d="M3216 3085l15 5l41-34l-14-5z" color="#5206f6"/><path d="M3231 3090l15 5l41-34l-15-5z" color="#5206f6"/><path d="M3246 3095l15 6l41-34l-15-6z" color="#5206f6"/><path d="M3261 3101l15 5l41-34l-15-5z" color="#5206f6"/><path d="M3276 3106l15 5l41-34l-15-5z" color="#5206f6"/><path d="M3291 3111l15 6l41-35l-15-5z" color="#5206f6"/><path d="M3306 3117l15 5l41-35l-15-5z" color="#5206f6"/><path d="M3321 3122l15 5l41-34l-15-6z" color="#5206f6"/><path d="M3336 3127l16 6l40-35l-15-5z" color="#5206f6"/><path d="M3352 3133l15 5l40-35l-15-5z" color="#5206f6"/><path d="M3367 3138l15 5l40-35l-15-5z" color="#5206f6"/><path d="M3382 3143l16 6l40-35l-16-6z" color="#5206f6"/><path d="M3398 3149l15 5l40-35l-15-5z" color="#5206f6"/><path d="M3413 3154l16 6l39-36l-15-5z" color="#5206f6"/><path d="M3429 3160l15 5l40-35l-16-6z" color="#5206f6"/><path d="M3444 3165l16 6l39-36l-15-5z" color="#5206f6"/><path d="M3460 3171l15 5l40-35l-16-6z" color="#5206f6"/><path d="M3475 3176l16 6l39-36l-15-5z" color="#5206f6"/><path d="M3491 3182l16 6l39-37l-16-5z" color="#5206f6"/><path d="M3507 3188l16 5l39-36l-16-6z" color="#5206f6"/><path d="M3523 3193l16 6l39-37l-16-5z" color="#5206f6"/><path d="M3539 3199l16 5l38-36l-15-6z" color="#5206f6"/><path d="M3555 3204l16 6l38-37l-16-5z" color="#5206f6"/><path d="M3571 3210l16 6l38-37l-16-6z" color="#5206f6"/><path d="M3587 3216l16 5l38-36l-16-6z" color="#5206f6"/><path d="M3603 3221l16 6l38-37l-16-5z" color="#5206f6"/><path d="M3619 3227l16 6l38-37l-16-6z" color="#5206f6"/><path d="M3635 3233l37 13l38-38l-37-12z" color="#5206f6"/><path d="M3672 3246l51 18l37-38l-50-18z" color="#5206f6"/><path d="M3723 3264l51 18l37-38l-51-18z" color="#5206f6"/><path d="M3774 3282l52 18l36-38l-51-18z" color="#5206f6"/><path d="M3826 3300l52 19l37-39l-53-18z" color="#5206f6"/><path d="M3878 3319l53 19l36-40l-52-18z" color="#5206f6"/><path d="M3931 3338l54 19l35-40l-53-19z" color="#5206f6"/><path d="M3985 3357l54 19l35-41l-54-18z" color="#5206f6"/><path d="M4039 3376l55 19l35-41l-55-19z" color="#5206f6"/><path d="M4094 3395l56 20l34-42l-55-19z" color="#5206f6"/></g><path d="M292 298L415 341.5" stroke="#222" stroke-width="0.85" fill="none"/><path d="M415 341.5L470 274" stroke="#222" stroke-width="0.85" fill="none"/><path d="M470 274L477.1 213.5" stroke="#555" stroke-width="0.85" fill="none"/><text x="1.5" y="17" font-size="16.5" text-anchor="start">(a)</text><path d="M40.2 127.4l-0.8 2.2" stroke="#222" stroke-width="0.8"/><text font-size="11" text-anchor="middle" transform="matrix(0.600 -0.720 0.900 0.330 37.2 135.6)" y="3.6">2</text><path d="M66.7 137.1l-0.8 2.2" stroke="#222" stroke-width="0.8"/><text font-size="11" text-anchor="middle" transform="matrix(0.600 -0.720 0.900 0.330 63.8 144.9)" y="3.6">4</text><path d="M93.5 147l-0.8 2.2" stroke="#222" stroke-width="0.8"/><text font-size="11" text-anchor="middle" transform="matrix(0.600 -0.720 0.900 0.330 90.6 154.8)" y="3.6">6</text><path d="M120.9 157.1l-0.8 2.2" stroke="#222" stroke-width="0.8"/><text font-size="11" text-anchor="middle" transform="matrix(0.600 -0.720 0.900 0.330 118 165)" y="3.6">8</text><text font-size="17" text-anchor="middle" transform="matrix(0.930 0.367 -0.430 0.745 60.5 161)" y="5.1">t-z/c (ps)</text><path d="M158.3 146.8l2.2 0.8" stroke="#222" stroke-width="0.8"/><text font-size="11" text-anchor="middle" transform="matrix(0.600 -0.720 0.900 0.330 163.8 151.5)" y="3.6">2</text><path d="M174.8 127.8l2.2 0.8" stroke="#222" stroke-width="0.8"/><text font-size="11" text-anchor="middle" transform="matrix(0.600 -0.720 0.900 0.330 180.5 132.7)" y="3.6">4</text><path d="M188.7 111.7l2.2 0.8" stroke="#222" stroke-width="0.8"/><text font-size="11" text-anchor="middle" transform="matrix(0.600 -0.720 0.900 0.330 194 116.2)" y="3.6">6</text><path d="M202.2 96.1l2.2 0.8" stroke="#222" stroke-width="0.8"/><text font-size="11" text-anchor="middle" transform="matrix(0.600 -0.720 0.900 0.330 207 100.3)" y="3.6">8</text><text font-size="13.3" text-anchor="middle" transform="matrix(0.655 -0.756 0.800 0.520 195.5 134.7)" y="4">z (mm)</text><path d="M210 30.5l2.5 0.3" stroke="#444" stroke-width="0.8"/><text font-size="10.3" transform="translate(213.6 30.1) skewY(10)" y="3.7">0.60</text><path d="M208.9 43.8l2.5 0.3" stroke="#444" stroke-width="0.8"/><text font-size="10.3" transform="translate(212.5 43.4) skewY(10)" y="3.7">0.55</text><path d="M207.7 56.7l2.5 0.3" stroke="#444" stroke-width="0.8"/><text font-size="10.3" transform="translate(211.3 56.3) skewY(10)" y="3.7">0.50</text><path d="M206.6 69.3l2.5 0.3" stroke="#444" stroke-width="0.8"/><text font-size="10.3" transform="translate(210.2 68.9) skewY(10)" y="3.7">0.45</text><path d="M205.6 81.5l2.5 0.3" stroke="#444" stroke-width="0.8"/><text font-size="10.3" transform="translate(209.2 81.1) skewY(10)" y="3.7">0.40</text><path d="M204.5 93.5l2.5 0.3" stroke="#444" stroke-width="0.8"/><text font-size="10.3" transform="translate(208.1 93.1) skewY(10)" y="3.7">0.35</text><text font-size="16.6" text-anchor="middle" font-style="italic" transform="matrix(0.081 -0.816 0.995 0.099 243 67.5)" y="3.7">population of <tspan font-style="normal">X</tspan> state</text><text x="283.5" y="16.7" font-size="16.5" text-anchor="start">(b)</text><path d="M314.7 128.3l-0.8 2.2" stroke="#222" stroke-width="0.8"/><text font-size="11" text-anchor="middle" transform="matrix(0.600 -0.720 0.900 0.330 312.6 133.9)" y="3.6">2</text><path d="M338.8 137.3l-0.8 2.2" stroke="#222" stroke-width="0.8"/><text font-size="11" text-anchor="middle" transform="matrix(0.600 -0.720 0.900 0.330 336.8 142.5)" y="3.6">4</text><path d="M363.7 146.7l-0.8 2.2" stroke="#222" stroke-width="0.8"/><text font-size="11" text-anchor="middle" transform="matrix(0.600 -0.720 0.900 0.330 362 151.2)" y="3.6">6</text><path d="M389.7 156.4l-0.8 2.2" stroke="#222" stroke-width="0.8"/><text font-size="11" text-anchor="middle" transform="matrix(0.600 -0.720 0.900 0.330 388 161)" y="3.6">8</text><text font-size="17" text-anchor="middle" transform="matrix(0.943 0.334 -0.430 0.745 334.5 154)" y="5.1">t-z/c (ps)</text><path d="M420.6 143.3l2.2 0.8" stroke="#222" stroke-width="0.8"/><text font-size="11" text-anchor="middle" transform="matrix(0.600 -0.720 0.900 0.330 425.5 147.5)" y="3.6">2</text><path d="M433.3 128.3l2.2 0.8" stroke="#222" stroke-width="0.8"/><text font-size="11" text-anchor="middle" transform="matrix(0.600 -0.720 0.900 0.330 438.2 132.5)" y="3.6">4</text><path d="M445.1 114.6l2.2 0.8" stroke="#222" stroke-width="0.8"/><text font-size="11" text-anchor="middle" transform="matrix(0.600 -0.720 0.900 0.330 449.8 118.6)" y="3.6">6</text><path d="M457.8 99.9l2.2 0.8" stroke="#222" stroke-width="0.8"/><text font-size="11" text-anchor="middle" transform="matrix(0.600 -0.720 0.900 0.330 462 103.5)" y="3.6">8</text><text font-size="13.3" text-anchor="middle" transform="matrix(0.655 -0.756 0.800 0.520 454.8 134.8)" y="4">z (mm)</text><path d="M465.5 33.1l2.5 0.3" stroke="#444" stroke-width="0.8"/><text font-size="13" transform="translate(469.1 35.2) skewY(10)" y="4.7">0.3</text><path d="M463.4 66.4l2.5 0.3" stroke="#444" stroke-width="0.8"/><text font-size="13" transform="translate(467 68.5) skewY(10)" y="4.7">0.2</text><text font-size="18.2" text-anchor="middle" font-style="italic" transform="matrix(0.081 -0.816 0.995 0.099 493.7 65)" y="4">population <tspan font-style="normal">of A</tspan> state</text><text x="4.5" y="208.5" font-size="16.5" text-anchor="start">(c)</text><path d="M54.4 303.1l-0.8 2.2" stroke="#222" stroke-width="0.8"/><text font-size="11" text-anchor="middle" transform="matrix(0.600 -0.720 0.900 0.330 52.6 308)" y="3.6">2</text><path d="M76.7 311.2l-0.8 2.2" stroke="#222" stroke-width="0.8"/><text font-size="11" text-anchor="middle" transform="matrix(0.600 -0.720 0.900 0.330 75 316)" y="3.6">4</text><path d="M100.3 319.6l-0.8 2.2" stroke="#222" stroke-width="0.8"/><text font-size="11" text-anchor="middle" transform="matrix(0.600 -0.720 0.900 0.330 98.5 324.7)" y="3.6">6</text><path d="M123.6 328l-0.8 2.2" stroke="#222" stroke-width="0.8"/><text font-size="11" text-anchor="middle" transform="matrix(0.600 -0.720 0.900 0.330 121.8 333)" y="3.6">8</text><text font-size="17" text-anchor="middle" transform="matrix(0.927 0.375 -0.430 0.745 73.8 328.8)" y="5.1">t-z/c (ps)</text><path d="M160.7 315.4l2.2 0.8" stroke="#222" stroke-width="0.8"/><text font-size="11" text-anchor="middle" transform="matrix(0.600 -0.720 0.900 0.330 165 319.2)" y="3.6">2</text><path d="M176.1 298.4l2.2 0.8" stroke="#222" stroke-width="0.8"/><text font-size="11" text-anchor="middle" transform="matrix(0.600 -0.720 0.900 0.330 181.2 303)" y="3.6">4</text><path d="M190.2 282.8l2.2 0.8" stroke="#222" stroke-width="0.8"/><text font-size="11" text-anchor="middle" transform="matrix(0.600 -0.720 0.900 0.330 194.5 286.8)" y="3.6">6</text><path d="M204.1 267.5l2.2 0.8" stroke="#222" stroke-width="0.8"/><text font-size="11" text-anchor="middle" transform="matrix(0.600 -0.720 0.900 0.330 208 271)" y="3.6">8</text><text font-size="13.3" text-anchor="middle" transform="matrix(0.655 -0.756 0.800 0.520 196.4 306.1)" y="4">z (mm)</text><path d="M207.4 219.4l2.5 0.3" stroke="#444" stroke-width="0.8"/><text font-size="13" transform="translate(211 222) skewY(10)" y="4.7">0.3</text><path d="M204.5 267l2.5 0.3" stroke="#444" stroke-width="0.8"/><text font-size="13" transform="translate(208.1 266.3) skewY(10)" y="4.7">0.2</text><text font-size="19.0" text-anchor="middle" font-style="italic" transform="matrix(0.079 -0.836 0.996 0.094 239.2 247.4)" y="4.2">population <tspan font-style="normal">of B state</tspan></text><text x="291" y="208.5" font-size="16.5" text-anchor="start">(d)</text><path d="M310.8 304.6l-0.8 2.2" stroke="#222" stroke-width="0.8"/><text font-size="9.5" text-anchor="middle" transform="matrix(0.600 -0.720 0.900 0.330 309.5 308.3)" y="3.1">2</text><path d="M337.7 314.2l-0.8 2.2" stroke="#222" stroke-width="0.8"/><text font-size="9.5" text-anchor="middle" transform="matrix(0.600 -0.720 0.900 0.330 336.2 318.5)" y="3.1">4</text><path d="M365.6 324l-0.8 2.2" stroke="#222" stroke-width="0.8"/><text font-size="9.5" text-anchor="middle" transform="matrix(0.600 -0.720 0.900 0.330 364.3 327.7)" y="3.1">6</text><path d="M392.4 333.5l-0.8 2.2" stroke="#222" stroke-width="0.8"/><text font-size="9.5" text-anchor="middle" transform="matrix(0.600 -0.720 0.900 0.330 390.9 337.6)" y="3.1">8</text><text font-size="16.5" text-anchor="middle" transform="matrix(0.934 0.358 -0.430 0.745 336.8 330)" y="5">t-z/c (ps)</text><path d="M431.1 321.8l2.2 0.8" stroke="#222" stroke-width="0.8"/><text font-size="9.5" text-anchor="middle" transform="matrix(0.600 -0.720 0.900 0.330 436.2 326)" y="3.1">2</text><path d="M444.8 305l2.2 0.8" stroke="#222" stroke-width="0.8"/><text font-size="9.5" text-anchor="middle" transform="matrix(0.600 -0.720 0.900 0.330 450 309.2)" y="3.1">4</text><path d="M457.1 289.8l2.2 0.8" stroke="#222" stroke-width="0.8"/><text font-size="9.5" text-anchor="middle" transform="matrix(0.600 -0.720 0.900 0.330 462.5 294.2)" y="3.1">6</text><path d="M468.9 275.3l2.2 0.8" stroke="#222" stroke-width="0.8"/><text font-size="9.5" text-anchor="middle" transform="matrix(0.600 -0.720 0.900 0.330 473.8 279.2)" y="3.1">8</text><text font-size="13.3" text-anchor="middle" transform="matrix(0.655 -0.756 0.800 0.520 463 309.8)" y="4">z (mm)</text><path d="M477.1 213.5l2.5 0.3" stroke="#444" stroke-width="0.8"/><text font-size="11.6" transform="translate(480.7 216.1) skewY(10)" y="4.2">400</text><path d="M473.4 245l2.5 0.3" stroke="#444" stroke-width="0.8"/><text font-size="11.6" transform="translate(477 247.6) skewY(10)" y="4.2">200</text><text font-size="16.4" text-anchor="middle" transform="matrix(0.111 -0.752 0.989 0.146 507.2 259)" y="3.6">391 nm lasing signal</text></svg></body></html>
